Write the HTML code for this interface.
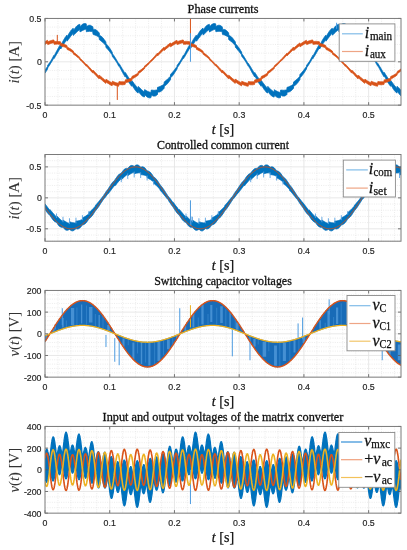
<!DOCTYPE html>
<html><head><meta charset="utf-8"><title>Plots</title>
<style>html,body{margin:0;padding:0;background:#fff;width:407px;height:550px;overflow:hidden}svg{display:block;filter:blur(0.35px)}</style>
</head><body>
<svg width="407" height="550" viewBox="0 0 407 550">
<defs><clipPath id="c0"><rect x="45.0" y="18.45" width="356.0" height="86.7"/></clipPath><clipPath id="c1"><rect x="45.0" y="154.5" width="356.0" height="86.7"/></clipPath><clipPath id="c2"><rect x="45.0" y="290.45" width="356.0" height="86.7"/></clipPath><clipPath id="c3"><rect x="45.0" y="426.45" width="356.0" height="86.7"/></clipPath></defs>
<rect width="407" height="550" fill="#fff"/>
<rect x="45.0" y="18.45" width="356.0" height="86.7" fill="#fff"/>
<path d="M57.95,18.45V105.15M70.89,18.45V105.15M83.84,18.45V105.15M96.78,18.45V105.15M122.67,18.45V105.15M135.62,18.45V105.15M148.56,18.45V105.15M161.51,18.45V105.15M187.40,18.45V105.15M200.35,18.45V105.15M213.29,18.45V105.15M226.24,18.45V105.15M252.13,18.45V105.15M265.07,18.45V105.15M278.02,18.45V105.15M290.96,18.45V105.15M316.85,18.45V105.15M329.80,18.45V105.15M342.75,18.45V105.15M355.69,18.45V105.15M381.58,18.45V105.15M394.53,18.45V105.15M45.0,96.48H401.0M45.0,87.81H401.0M45.0,79.14H401.0M45.0,70.47H401.0M45.0,53.13H401.0M45.0,44.46H401.0M45.0,35.79H401.0M45.0,27.12H401.0" stroke="#dcdcdc" stroke-width="0.55" stroke-dasharray="1,1.3" fill="none"/>
<path d="M109.73,18.45V105.15M174.45,18.45V105.15M239.18,18.45V105.15M303.91,18.45V105.15M368.64,18.45V105.15M45.0,61.80H401.0" stroke="#e2e2e2" stroke-width="0.8" fill="none"/>
<g clip-path="url(#c0)">
<polygon points="45.0,69.9 45.3,69.6 45.5,69.2 45.8,68.9 46.0,68.6 46.3,68.2 46.5,67.9 46.8,67.5 47.0,67.2 47.3,66.8 47.5,66.5 47.8,65.1 48.1,64.8 48.3,64.5 48.6,64.1 48.8,63.8 49.1,63.5 49.3,63.1 49.6,62.8 49.8,62.4 50.1,62.1 50.3,61.7 50.6,61.3 50.8,60.9 51.1,60.5 51.4,60.1 51.6,59.6 51.9,59.1 52.1,58.7 52.4,58.2 52.6,57.7 52.9,57.2 53.1,56.8 53.4,56.3 53.6,55.8 53.9,55.4 54.2,55.8 54.4,55.4 54.7,54.9 54.9,54.4 55.2,53.9 55.4,53.5 55.7,53.0 55.9,52.5 56.2,52.0 56.4,51.5 56.7,51.0 57.0,50.5 57.2,50.1 57.5,49.6 57.7,49.1 58.0,48.7 58.2,48.2 58.5,47.7 58.7,47.3 59.0,46.9 59.2,46.4 59.5,46.0 59.7,45.6 60.0,45.2 60.3,44.7 60.5,44.3 60.8,45.4 61.0,44.9 61.3,44.4 61.5,43.9 61.8,43.4 62.0,42.9 62.3,42.5 62.5,42.0 62.8,41.5 63.1,41.0 63.3,40.6 63.6,40.1 63.8,39.7 64.1,39.2 64.3,38.8 64.6,38.4 64.8,38.0 65.1,37.6 65.3,37.2 65.6,36.9 65.9,36.5 66.1,36.2 66.4,35.8 66.6,35.5 66.9,35.2 67.1,36.9 67.4,36.4 67.6,36.0 67.9,35.5 68.1,35.0 68.4,34.6 68.6,34.1 68.9,33.7 69.2,33.2 69.4,32.8 69.7,32.4 69.9,32.0 70.2,31.7 70.4,31.3 70.7,30.9 70.9,30.6 71.2,30.3 71.4,30.0 71.7,29.7 72.0,29.5 72.2,29.2 72.5,29.0 72.7,28.7 73.0,28.5 73.2,28.3 73.5,30.6 73.7,30.2 74.0,29.8 74.2,29.4 74.5,29.0 74.8,28.6 75.0,28.2 75.3,27.9 75.5,27.5 75.8,27.2 76.0,26.9 76.3,26.6 76.5,26.3 76.8,26.0 77.0,25.8 77.3,25.6 77.5,25.4 77.8,25.2 78.1,25.0 78.3,24.9 78.6,24.8 78.8,24.6 79.1,24.5 79.3,24.5 79.6,24.4 79.8,24.3 80.1,26.8 80.3,26.5 80.6,26.2 80.9,25.9 81.1,25.6 81.4,25.4 81.6,25.1 81.9,24.9 82.1,24.6 82.4,24.4 82.6,24.3 82.9,24.1 83.1,24.0 83.4,23.8 83.7,23.8 83.9,23.7 84.2,23.6 84.4,23.6 84.7,23.6 84.9,23.6 85.2,23.6 85.4,23.6 85.7,23.7 85.9,23.7 86.2,23.8 86.4,26.6 86.7,26.4 87.0,26.2 87.2,26.0 87.5,25.9 87.7,25.8 88.0,25.6 88.2,25.5 88.5,25.4 88.7,25.4 89.0,25.3 89.2,25.3 89.5,25.3 89.8,25.3 90.0,25.3 90.3,25.4 90.5,25.4 90.8,25.5 91.0,25.7 91.3,25.8 91.5,25.9 91.8,26.1 92.0,26.3 92.3,26.4 92.6,26.6 92.8,26.8 93.1,29.4 93.3,29.4 93.6,29.4 93.8,29.4 94.1,29.4 94.3,29.4 94.6,29.4 94.8,29.4 95.1,29.5 95.3,29.6 95.6,29.7 95.9,29.8 96.1,30.0 96.4,30.1 96.6,30.3 96.9,30.5 97.1,30.7 97.4,30.9 97.6,31.2 97.9,31.4 98.1,31.7 98.4,32.0 98.7,32.3 98.9,32.6 99.2,32.9 99.4,35.4 99.7,35.5 99.9,35.6 100.2,35.7 100.4,35.8 100.7,36.0 100.9,36.1 101.2,36.3 101.5,36.5 101.7,36.7 102.0,36.9 102.2,37.2 102.5,37.4 102.7,37.7 103.0,38.0 103.2,38.3 103.5,38.6 103.7,38.9 104.0,39.2 104.2,39.6 104.5,39.9 104.8,40.3 105.0,40.7 105.3,41.0 105.5,41.4 105.8,41.8 106.0,43.8 106.3,44.0 106.5,44.3 106.8,44.5 107.0,44.8 107.3,45.1 107.6,45.4 107.8,45.7 108.1,46.0 108.3,46.3 108.6,46.6 108.8,47.0 109.1,47.3 109.3,47.7 109.6,48.1 109.8,48.4 110.1,48.8 110.4,49.2 110.6,49.6 110.9,50.0 111.1,50.4 111.4,50.8 111.6,51.3 111.9,51.7 112.1,52.1 112.4,53.6 112.6,54.0 112.9,54.3 113.1,54.7 113.4,55.0 113.7,55.4 113.9,55.7 114.2,56.1 114.4,56.5 114.7,56.9 114.9,57.3 115.2,57.7 115.4,58.1 115.7,58.5 115.9,59.0 116.2,59.4 116.5,59.8 116.7,60.3 117.0,60.7 117.2,61.2 117.5,61.6 117.7,62.0 118.0,62.5 118.2,62.9 118.5,63.4 118.7,63.8 119.0,63.5 119.3,63.9 119.5,64.3 119.8,64.7 120.0,65.1 120.3,65.5 120.5,65.9 120.8,66.4 121.0,66.8 121.3,67.2 121.5,67.6 121.8,68.0 122.0,68.5 122.3,68.9 122.6,69.3 122.8,69.7 123.1,70.2 123.3,70.6 123.6,71.0 123.8,71.4 124.1,71.9 124.3,72.3 124.6,72.7 124.8,73.1 125.1,73.6 125.4,72.5 125.6,72.9 125.9,73.3 126.1,73.7 126.4,74.1 126.6,74.5 126.9,74.9 127.1,75.3 127.4,75.7 127.6,76.1 127.9,76.5 128.2,76.9 128.4,77.3 128.7,77.7 128.9,78.1 129.2,78.5 129.4,78.8 129.7,79.2 129.9,79.6 130.2,80.0 130.4,80.4 130.7,80.8 130.9,81.2 131.2,81.5 131.5,81.9 131.7,82.3 132.0,80.7 132.2,81.0 132.5,81.4 132.7,81.7 133.0,82.1 133.2,82.4 133.5,82.7 133.7,83.1 134.0,83.4 134.3,83.8 134.5,84.1 134.8,84.4 135.0,84.8 135.3,85.1 135.5,85.4 135.8,85.7 136.0,86.0 136.3,86.4 136.5,86.7 136.8,87.0 137.1,87.3 137.3,87.6 137.6,87.9 137.8,88.2 138.1,88.5 138.3,86.4 138.6,86.7 138.8,86.9 139.1,87.2 139.3,87.5 139.6,87.7 139.8,88.0 140.1,88.3 140.4,88.5 140.6,88.8 140.9,89.0 141.1,89.2 141.4,89.5 141.6,89.7 141.9,89.9 142.1,90.2 142.4,90.4 142.6,90.6 142.9,90.8 143.2,91.0 143.4,91.2 143.7,91.4 143.9,91.6 144.2,91.8 144.4,92.0 144.7,89.6 144.9,89.8 145.2,89.9 145.4,90.1 145.7,90.3 146.0,90.4 146.2,90.6 146.5,90.7 146.7,90.8 147.0,91.0 147.2,91.1 147.5,91.2 147.7,91.4 148.0,91.5 148.2,91.6 148.5,91.7 148.7,91.8 149.0,91.9 149.3,92.0 149.5,92.1 149.8,92.2 150.0,92.3 150.3,92.3 150.5,92.4 150.8,92.5 151.0,92.5 151.3,90.0 151.5,90.0 151.8,90.1 152.1,90.1 152.3,90.2 152.6,90.2 152.8,90.2 153.1,90.2 153.3,90.3 153.6,90.3 153.8,90.3 154.1,90.3 154.3,90.3 154.6,90.3 154.9,90.3 155.1,90.2 155.4,90.2 155.6,90.2 155.9,90.1 156.1,90.1 156.4,90.1 156.6,90.0 156.9,90.0 157.1,89.9 157.4,89.8 157.6,87.3 157.9,87.3 158.2,87.2 158.4,87.1 158.7,87.0 158.9,86.9 159.2,86.8 159.4,86.7 159.7,86.6 159.9,86.5 160.2,86.4 160.4,86.3 160.7,86.2 161.0,86.1 161.2,85.9 161.5,85.8 161.7,85.6 162.0,85.5 162.2,85.3 162.5,85.2 162.7,85.0 163.0,84.9 163.2,84.7 163.5,84.5 163.8,84.3 164.0,84.1 164.3,81.9 164.5,81.7 164.8,81.5 165.0,81.3 165.3,81.1 165.5,80.9 165.8,80.7 166.0,80.5 166.3,80.3 166.5,80.1 166.8,79.8 167.1,79.6 167.3,79.4 167.6,79.1 167.8,78.9 168.1,78.7 168.3,78.4 168.6,78.2 168.8,77.9 169.1,77.6 169.3,77.4 169.6,77.1 169.9,76.8 170.1,76.5 170.4,76.3 170.6,74.4 170.9,74.1 171.1,73.8 171.4,73.5 171.6,73.3 171.9,73.0 172.1,72.7 172.4,72.4 172.7,72.1 172.9,71.8 173.2,71.5 173.4,71.2 173.7,70.9 173.9,70.6 174.2,70.2 174.4,69.9 174.7,69.6 174.9,69.3 175.2,68.9 175.4,68.6 175.7,68.2 176.0,67.9 176.2,67.6 176.5,67.2 176.7,66.9 177.0,66.5 177.2,65.2 177.5,64.8 177.7,64.5 178.0,64.2 178.2,63.8 178.5,63.5 178.8,63.1 179.0,62.8 179.3,62.4 179.5,62.1 179.8,61.7 180.0,61.3 180.3,61.0 180.5,60.5 180.8,60.1 181.0,59.7 181.3,59.2 181.6,58.7 181.8,58.2 182.1,57.8 182.3,57.3 182.6,56.8 182.8,56.3 183.1,55.9 183.3,55.4 183.6,55.9 183.8,55.4 184.1,54.9 184.3,54.5 184.6,54.0 184.9,53.5 185.1,53.0 185.4,52.5 185.6,52.0 185.9,51.6 186.1,51.1 186.4,50.6 186.6,50.1 186.9,49.6 187.1,49.2 187.4,48.7 187.7,48.2 187.9,47.8 188.2,47.3 188.4,46.9 188.7,46.5 188.9,46.0 189.2,45.6 189.4,45.2 189.7,44.8 189.9,44.4 190.2,45.5 190.5,45.0 190.7,44.5 191.0,44.0 191.2,43.5 191.5,43.0 191.7,42.5 192.0,42.0 192.2,41.5 192.5,41.1 192.7,40.6 193.0,40.2 193.2,39.7 193.5,39.3 193.8,38.9 194.0,38.4 194.3,38.0 194.5,37.7 194.8,37.3 195.0,36.9 195.3,36.6 195.5,36.2 195.8,35.9 196.0,35.5 196.3,35.2 196.6,37.0 196.8,36.5 197.1,36.0 197.3,35.5 197.6,35.1 197.8,34.6 198.1,34.2 198.3,33.7 198.6,33.3 198.8,32.9 199.1,32.5 199.4,32.1 199.6,31.7 199.9,31.3 200.1,31.0 200.4,30.6 200.6,30.3 200.9,30.0 201.1,29.8 201.4,29.5 201.6,29.2 201.9,29.0 202.1,28.8 202.4,28.6 202.7,28.3 202.9,28.1 203.2,30.2 203.4,29.8 203.7,29.4 203.9,29.0 204.2,28.6 204.4,28.3 204.7,27.9 204.9,27.6 205.2,27.2 205.5,26.9 205.7,26.6 206.0,26.3 206.2,26.1 206.5,25.8 206.7,25.6 207.0,25.4 207.2,25.2 207.5,25.0 207.7,24.9 208.0,24.8 208.3,24.7 208.5,24.5 208.8,24.5 209.0,24.4 209.3,24.3 209.5,26.8 209.8,26.5 210.0,26.2 210.3,25.9 210.5,25.7 210.8,25.4 211.0,25.1 211.3,24.9 211.6,24.7 211.8,24.5 212.1,24.3 212.3,24.1 212.6,24.0 212.8,23.9 213.1,23.8 213.3,23.7 213.6,23.6 213.8,23.6 214.1,23.6 214.4,23.6 214.6,23.6 214.9,23.6 215.1,23.7 215.4,23.7 215.6,23.8 215.9,26.6 216.1,26.4 216.4,26.2 216.6,26.1 216.9,25.9 217.2,25.8 217.4,25.6 217.7,25.5 217.9,25.4 218.2,25.4 218.4,25.3 218.7,25.3 218.9,25.3 219.2,25.3 219.4,25.3 219.7,25.4 219.9,25.4 220.2,25.5 220.5,25.6 220.7,25.8 221.0,25.9 221.2,26.1 221.5,26.2 221.7,26.4 222.0,26.6 222.2,26.8 222.5,29.4 222.7,29.4 223.0,29.4 223.3,29.4 223.5,29.4 223.8,29.4 224.0,29.4 224.3,29.4 224.5,29.5 224.8,29.6 225.0,29.7 225.3,29.8 225.5,29.9 225.8,30.1 226.1,30.3 226.3,30.5 226.6,30.7 226.8,30.9 227.1,31.1 227.3,31.4 227.6,31.7 227.8,32.0 228.1,32.2 228.3,32.5 228.6,32.8 228.8,35.3 229.1,35.4 229.4,35.6 229.6,35.7 229.9,35.8 230.1,36.0 230.4,36.1 230.6,36.3 230.9,36.5 231.1,36.7 231.4,36.9 231.6,37.1 231.9,37.4 232.2,37.7 232.4,37.9 232.7,38.2 232.9,38.6 233.2,38.9 233.4,39.2 233.7,39.6 233.9,39.9 234.2,40.3 234.4,40.6 234.7,41.0 235.0,41.4 235.2,41.8 235.5,43.8 235.7,44.0 236.0,44.3 236.2,44.5 236.5,44.8 236.7,45.1 237.0,45.3 237.2,45.6 237.5,46.0 237.7,46.3 238.0,46.6 238.3,46.9 238.5,47.3 238.8,47.7 239.0,48.0 239.3,48.4 239.5,48.8 239.8,49.2 240.0,49.6 240.3,50.0 240.5,50.4 240.8,50.8 241.1,51.2 241.3,51.6 241.6,52.0 241.8,53.6 242.1,53.9 242.3,54.3 242.6,54.6 242.8,55.0 243.1,55.3 243.3,55.7 243.6,56.1 243.9,56.5 244.1,56.9 244.4,57.3 244.6,57.7 244.9,58.1 245.1,58.5 245.4,58.9 245.6,59.4 245.9,59.8 246.1,60.2 246.4,60.7 246.6,61.1 246.9,61.5 247.2,62.0 247.4,62.4 247.7,62.9 247.9,63.3 248.2,63.8 248.4,63.5 248.7,63.9 248.9,64.3 249.2,64.7 249.4,65.1 249.7,65.5 250.0,65.9 250.2,66.3 250.5,66.7 250.7,67.2 251.0,67.6 251.2,68.0 251.5,68.4 251.7,68.8 252.0,69.3 252.2,69.7 252.5,70.1 252.8,70.5 253.0,71.0 253.3,71.4 253.5,71.8 253.8,72.2 254.0,72.7 254.3,73.1 254.5,73.5 254.8,72.5 255.0,72.9 255.3,73.3 255.5,73.7 255.8,74.1 256.1,74.5 256.3,74.9 256.6,75.3 256.8,75.7 257.1,76.1 257.3,76.5 257.6,76.9 257.8,77.2 258.1,77.6 258.3,78.0 258.6,78.4 258.9,78.8 259.1,79.2 259.4,79.6 259.6,80.0 259.9,80.4 260.1,80.7 260.4,81.1 260.6,81.5 260.9,81.9 261.1,82.3 261.4,80.6 261.7,81.0 261.9,81.3 262.2,81.7 262.4,82.0 262.7,82.4 262.9,82.7 263.2,83.1 263.4,83.4 263.7,83.7 263.9,84.1 264.2,84.4 264.4,84.7 264.7,85.1 265.0,85.4 265.2,85.7 265.5,86.0 265.7,86.3 266.0,86.6 266.2,87.0 266.5,87.3 266.7,87.6 267.0,87.9 267.2,88.2 267.5,88.5 267.8,86.4 268.0,86.6 268.3,86.9 268.5,87.2 268.8,87.5 269.0,87.7 269.3,88.0 269.5,88.2 269.8,88.5 270.0,88.7 270.3,89.0 270.6,89.2 270.8,89.4 271.1,89.7 271.3,89.9 271.6,90.1 271.8,90.4 272.1,90.6 272.3,90.8 272.6,91.0 272.8,91.2 273.1,91.4 273.3,91.6 273.6,91.8 273.9,92.0 274.1,92.2 274.4,89.7 274.6,89.9 274.9,90.1 275.1,90.2 275.4,90.4 275.6,90.5 275.9,90.7 276.1,90.8 276.4,91.0 276.7,91.1 276.9,91.2 277.2,91.4 277.4,91.5 277.7,91.6 277.9,91.7 278.2,91.8 278.4,91.9 278.7,92.0 278.9,92.1 279.2,92.2 279.5,92.3 279.7,92.3 280.0,92.4 280.2,92.5 280.5,92.5 280.7,90.0 281.0,90.0 281.2,90.1 281.5,90.1 281.7,90.2 282.0,90.2 282.2,90.2 282.5,90.2 282.8,90.3 283.0,90.3 283.3,90.3 283.5,90.3 283.8,90.3 284.0,90.3 284.3,90.3 284.5,90.2 284.8,90.2 285.0,90.2 285.3,90.1 285.6,90.1 285.8,90.1 286.1,90.0 286.3,90.0 286.6,89.9 286.8,89.8 287.1,87.3 287.3,87.3 287.6,87.2 287.8,87.1 288.1,87.0 288.4,86.9 288.6,86.9 288.9,86.8 289.1,86.7 289.4,86.5 289.6,86.4 289.9,86.3 290.1,86.2 290.4,86.1 290.6,85.9 290.9,85.8 291.1,85.7 291.4,85.5 291.7,85.4 291.9,85.2 292.2,85.0 292.4,84.9 292.7,84.7 292.9,84.5 293.2,84.3 293.4,84.2 293.7,81.9 293.9,81.7 294.2,81.5 294.5,81.3 294.7,81.1 295.0,80.9 295.2,80.7 295.5,80.5 295.7,80.3 296.0,80.1 296.2,79.9 296.5,79.6 296.7,79.4 297.0,79.2 297.3,78.9 297.5,78.7 297.8,78.4 298.0,78.2 298.3,77.9 298.5,77.7 298.8,77.4 299.0,77.1 299.3,76.8 299.5,76.6 299.8,76.3 300.0,74.4 300.3,74.1 300.6,73.8 300.8,73.6 301.1,73.3 301.3,73.0 301.6,72.7 301.8,72.4 302.1,72.1 302.3,71.8 302.6,71.5 302.8,71.2 303.1,70.9 303.4,70.6 303.6,70.3 303.9,69.9 304.1,69.6 304.4,69.3 304.6,69.0 304.9,68.6 305.1,68.3 305.4,67.9 305.6,67.6 305.9,67.2 306.2,66.9 306.4,66.5 306.7,65.2 306.9,64.9 307.2,64.5 307.4,64.2 307.7,63.9 307.9,63.5 308.2,63.2 308.4,62.8 308.7,62.5 308.9,62.1 309.2,61.8 309.5,61.4 309.7,61.0 310.0,60.6 310.2,60.1 310.5,59.7 310.7,59.2 311.0,58.8 311.2,58.3 311.5,57.8 311.7,57.3 312.0,56.9 312.3,56.4 312.5,55.9 312.8,55.4 313.0,55.9 313.3,55.5 313.5,55.0 313.8,54.5 314.0,54.0 314.3,53.5 314.5,53.1 314.8,52.6 315.1,52.1 315.3,51.6 315.6,51.1 315.8,50.6 316.1,50.2 316.3,49.7 316.6,49.2 316.8,48.7 317.1,48.3 317.3,47.8 317.6,47.4 317.8,46.9 318.1,46.5 318.4,46.1 318.6,45.6 318.9,45.2 319.1,44.8 319.4,44.4 319.6,45.5 319.9,45.0 320.1,44.5 320.4,44.0 320.6,43.5 320.9,43.0 321.2,42.5 321.4,42.1 321.7,41.6 321.9,41.1 322.2,40.6 322.4,40.2 322.7,39.7 322.9,39.3 323.2,38.9 323.4,38.5 323.7,38.1 324.0,37.7 324.2,37.3 324.5,36.9 324.7,36.6 325.0,36.2 325.2,35.9 325.5,35.6 325.7,35.3 326.0,37.0 326.2,36.5 326.5,36.1 326.7,35.6 327.0,35.1 327.3,34.6 327.5,34.2 327.8,33.8 328.0,33.3 328.3,32.9 328.5,32.5 328.8,32.1 329.0,31.7 329.3,31.4 329.5,31.0 329.8,30.7 330.1,30.4 330.3,30.1 330.6,29.8 330.8,29.5 331.1,29.3 331.3,29.0 331.6,28.8 331.8,28.6 332.1,28.4 332.3,28.2 332.6,30.3 332.9,29.9 333.1,29.5 333.4,29.1 333.6,28.7 333.9,28.3 334.1,27.9 334.4,27.6 334.6,27.2 334.9,26.9 335.1,26.6 335.4,26.3 335.6,26.1 335.9,25.8 336.2,25.6 336.4,25.4 336.7,25.2 336.9,25.1 337.2,24.9 337.4,24.8 337.7,24.7 337.9,24.6 338.2,24.5 338.4,24.4 338.7,24.3 339.0,26.9 339.2,26.6 339.5,26.3 339.7,26.0 340.0,25.7 340.2,25.4 340.5,25.1 340.7,24.9 341.0,24.7 341.2,24.5 341.5,24.3 341.8,24.1 342.0,24.0 342.3,23.9 342.5,23.8 342.8,23.7 343.0,23.6 343.3,23.6 343.5,23.6 343.8,23.6 344.0,23.6 344.3,23.6 344.5,23.7 344.8,23.7 345.1,23.8 345.3,23.8 345.6,26.4 345.8,26.2 346.1,26.1 346.3,25.9 346.6,25.8 346.8,25.6 347.1,25.5 347.3,25.4 347.6,25.4 347.9,25.3 348.1,25.3 348.4,25.3 348.6,25.3 348.9,25.3 349.1,25.4 349.4,25.4 349.6,25.5 349.9,25.6 350.1,25.8 350.4,25.9 350.7,26.1 350.9,26.2 351.2,26.4 351.4,26.6 351.7,26.8 351.9,29.4 352.2,29.4 352.4,29.4 352.7,29.4 352.9,29.4 353.2,29.4 353.4,29.4 353.7,29.4 354.0,29.5 354.2,29.6 354.5,29.7 354.7,29.8 355.0,29.9 355.2,30.1 355.5,30.3 355.7,30.5 356.0,30.7 356.2,30.9 356.5,31.1 356.8,31.4 357.0,31.6 357.3,31.9 357.5,32.2 357.8,32.5 358.0,32.8 358.3,35.3 358.5,35.4 358.8,35.6 359.0,35.7 359.3,35.8 359.6,36.0 359.8,36.1 360.1,36.3 360.3,36.5 360.6,36.7 360.8,36.9 361.1,37.1 361.3,37.4 361.6,37.6 361.8,37.9 362.1,38.2 362.3,38.5 362.6,38.8 362.9,39.2 363.1,39.5 363.4,39.9 363.6,40.2 363.9,40.6 364.1,41.0 364.4,41.3 364.6,41.7 364.9,43.8 365.1,44.0 365.4,44.2 365.7,44.5 365.9,44.8 366.2,45.0 366.4,45.3 366.7,45.6 366.9,45.9 367.2,46.2 367.4,46.6 367.7,46.9 367.9,47.3 368.2,47.6 368.5,48.0 368.7,48.4 369.0,48.8 369.2,49.1 369.5,49.5 369.7,49.9 370.0,50.4 370.2,50.8 370.5,51.2 370.7,51.6 371.0,52.0 371.2,53.6 371.5,53.9 371.8,54.2 372.0,54.6 372.3,54.9 372.5,55.3 372.8,55.7 373.0,56.1 373.3,56.4 373.5,56.8 373.8,57.2 374.0,57.6 374.3,58.0 374.6,58.5 374.8,58.9 375.1,59.3 375.3,59.8 375.6,60.2 375.8,60.7 376.1,61.1 376.3,61.5 376.6,61.9 376.8,62.4 377.1,62.8 377.4,63.3 377.6,63.7 377.9,63.4 378.1,63.8 378.4,64.2 378.6,64.6 378.9,65.0 379.1,65.5 379.4,65.9 379.6,66.3 379.9,66.7 380.1,67.1 380.4,67.5 380.7,68.0 380.9,68.4 381.2,68.8 381.4,69.2 381.7,69.7 381.9,70.1 382.2,70.5 382.4,70.9 382.7,71.4 382.9,71.8 383.2,72.2 383.5,72.6 383.7,73.1 384.0,73.5 384.2,72.4 384.5,72.8 384.7,73.2 385.0,73.6 385.2,74.0 385.5,74.4 385.7,74.8 386.0,75.2 386.3,75.6 386.5,76.0 386.8,76.4 387.0,76.8 387.3,77.2 387.5,77.6 387.8,78.0 388.0,78.4 388.3,78.8 388.5,79.2 388.8,79.6 389.0,79.9 389.3,80.3 389.6,80.7 389.8,81.1 390.1,81.5 390.3,81.8 390.6,82.2 390.8,80.6 391.1,80.9 391.3,81.3 391.6,81.6 391.8,82.0 392.1,82.3 392.4,82.7 392.6,83.0 392.9,83.4 393.1,83.7 393.4,84.0 393.6,84.4 393.9,84.7 394.1,85.0 394.4,85.4 394.6,85.7 394.9,86.0 395.2,86.3 395.4,86.6 395.7,86.9 395.9,87.2 396.2,87.5 396.4,87.8 396.7,88.1 396.9,88.4 397.2,86.3 397.4,86.6 397.7,86.9 397.9,87.2 398.2,87.4 398.5,87.7 398.7,88.0 399.0,88.2 399.2,88.5 399.5,88.7 399.7,89.0 400.0,89.2 400.2,89.4 400.5,89.7 400.7,89.9 401.0,90.1 401.0,95.8 400.7,95.6 400.5,95.4 400.2,95.1 400.0,94.9 399.7,94.6 399.5,94.3 399.2,94.0 399.0,93.6 398.7,93.3 398.5,92.9 398.2,92.5 397.9,92.2 397.7,91.8 397.4,91.4 397.2,91.0 396.9,93.1 396.7,92.9 396.4,92.7 396.2,92.4 395.9,92.2 395.7,92.0 395.4,91.7 395.2,91.4 394.9,91.1 394.6,90.8 394.4,90.5 394.1,90.2 393.9,89.8 393.6,89.4 393.4,89.1 393.1,88.7 392.9,88.3 392.6,87.8 392.4,87.4 392.1,87.0 391.8,86.5 391.6,86.1 391.3,85.6 391.1,85.2 390.8,84.7 390.6,86.3 390.3,85.9 390.1,85.6 389.8,85.3 389.6,84.9 389.3,84.6 389.0,84.2 388.8,83.8 388.5,83.4 388.3,83.1 388.0,82.7 387.8,82.2 387.5,81.8 387.3,81.4 387.0,80.9 386.8,80.5 386.5,80.0 386.3,79.6 386.0,79.1 385.7,78.6 385.5,78.1 385.2,77.6 385.0,77.1 384.7,76.7 384.5,76.2 384.2,75.7 384.0,76.7 383.7,76.3 383.5,75.9 383.2,75.5 382.9,75.0 382.7,74.6 382.4,74.2 382.2,73.7 381.9,73.3 381.7,72.8 381.4,72.4 381.2,71.9 380.9,71.4 380.7,71.0 380.4,70.5 380.1,70.0 379.9,69.5 379.6,69.0 379.4,68.6 379.1,68.1 378.9,67.6 378.6,67.2 378.4,66.7 378.1,66.3 377.9,65.8 377.6,66.1 377.4,65.6 377.1,65.1 376.8,64.6 376.6,64.1 376.3,63.7 376.1,63.2 375.8,62.7 375.6,62.3 375.3,61.9 375.1,61.5 374.8,61.2 374.6,60.8 374.3,60.4 374.0,60.1 373.8,59.7 373.5,59.3 373.3,59.0 373.0,58.7 372.8,58.3 372.5,58.0 372.3,57.6 372.0,57.3 371.8,57.0 371.5,56.6 371.2,56.3 371.0,54.8 370.7,54.5 370.5,54.1 370.2,53.8 370.0,53.5 369.7,53.1 369.5,52.8 369.2,52.5 369.0,52.1 368.7,51.8 368.5,51.5 368.2,51.2 367.9,50.9 367.7,50.6 367.4,50.2 367.2,49.9 366.9,49.6 366.7,49.4 366.4,49.1 366.2,48.8 365.9,48.5 365.7,48.2 365.4,47.9 365.1,47.7 364.9,47.4 364.6,45.4 364.4,45.1 364.1,44.8 363.9,44.6 363.6,44.3 363.4,44.0 363.1,43.8 362.9,43.5 362.6,43.3 362.3,43.0 362.1,42.8 361.8,42.5 361.6,42.3 361.3,42.1 361.1,41.9 360.8,41.6 360.6,41.4 360.3,41.2 360.1,41.0 359.8,40.8 359.6,40.6 359.3,40.4 359.0,40.2 358.8,40.1 358.5,39.9 358.3,39.7 358.0,37.3 357.8,37.1 357.5,36.9 357.3,36.8 357.0,36.6 356.8,36.5 356.5,36.3 356.2,36.1 356.0,36.0 355.7,35.9 355.5,35.7 355.2,35.6 355.0,35.5 354.7,35.4 354.5,35.2 354.2,35.1 354.0,35.0 353.7,34.9 353.4,34.8 353.2,34.7 352.9,34.7 352.7,34.6 352.4,34.5 352.2,34.4 351.9,34.4 351.7,31.8 351.4,31.7 351.2,31.6 350.9,31.6 350.7,31.5 350.4,31.5 350.1,31.5 349.9,31.4 349.6,31.4 349.4,31.4 349.1,31.4 348.9,31.3 348.6,31.3 348.4,31.3 348.1,31.3 347.9,31.4 347.6,31.4 347.3,31.4 347.1,31.4 346.8,31.4 346.6,31.5 346.3,31.5 346.1,31.6 345.8,31.6 345.6,31.7 345.3,29.0 345.1,29.1 344.8,29.1 344.5,29.2 344.3,29.3 344.0,29.4 343.8,29.4 343.5,29.5 343.3,29.6 343.0,29.7 342.8,29.9 342.5,30.0 342.3,30.1 342.0,30.2 341.8,30.3 341.5,30.5 341.2,30.6 341.0,30.7 340.7,30.9 340.5,31.0 340.2,31.2 340.0,31.3 339.7,31.5 339.5,31.7 339.2,31.8 339.0,32.0 338.7,29.5 338.4,29.7 338.2,29.9 337.9,30.1 337.7,30.3 337.4,30.5 337.2,30.7 336.9,30.9 336.7,31.1 336.4,31.4 336.2,31.6 335.9,31.8 335.6,32.1 335.4,32.3 335.1,32.5 334.9,32.8 334.6,33.0 334.4,33.3 334.1,33.6 333.9,33.8 333.6,34.1 333.4,34.3 333.1,34.6 332.9,34.9 332.6,35.2 332.3,33.0 332.1,33.3 331.8,33.6 331.6,33.9 331.3,34.2 331.1,34.5 330.8,34.8 330.6,35.1 330.3,35.4 330.1,35.7 329.8,36.1 329.5,36.4 329.3,36.7 329.0,37.1 328.8,37.4 328.5,37.7 328.3,38.1 328.0,38.4 327.8,38.8 327.5,39.1 327.3,39.5 327.0,39.8 326.7,40.2 326.5,40.5 326.2,40.9 326.0,41.2 325.7,39.5 325.5,39.9 325.2,40.3 325.0,40.7 324.7,41.0 324.5,41.4 324.2,41.8 324.0,42.2 323.7,42.6 323.4,43.0 323.2,43.4 322.9,43.8 322.7,44.2 322.4,44.6 322.2,45.0 321.9,45.4 321.7,45.8 321.4,46.2 321.2,46.6 320.9,47.0 320.6,47.4 320.4,47.8 320.1,48.2 319.9,48.6 319.6,49.0 319.4,47.8 319.1,48.3 318.9,48.7 318.6,49.1 318.4,49.6 318.1,50.0 317.8,50.4 317.6,50.9 317.3,51.3 317.1,51.7 316.8,52.1 316.6,52.6 316.3,53.0 316.1,53.4 315.8,53.9 315.6,54.3 315.3,54.7 315.1,55.1 314.8,55.6 314.5,56.0 314.3,56.4 314.0,56.8 313.8,57.2 313.5,57.6 313.3,58.1 313.0,58.5 312.8,58.0 312.5,58.4 312.3,58.8 312.0,59.3 311.7,59.7 311.5,60.2 311.2,60.6 311.0,61.0 310.7,61.5 310.5,61.9 310.2,62.3 310.0,62.7 309.7,63.1 309.5,63.5 309.2,63.9 308.9,64.4 308.7,64.8 308.4,65.2 308.2,65.5 307.9,65.9 307.7,66.3 307.4,66.7 307.2,67.0 306.9,67.4 306.7,67.8 306.4,69.1 306.2,69.5 305.9,69.9 305.6,70.4 305.4,70.8 305.1,71.2 304.9,71.6 304.6,72.0 304.4,72.4 304.1,72.8 303.9,73.2 303.6,73.5 303.4,73.9 303.1,74.3 302.8,74.6 302.6,75.0 302.3,75.3 302.1,75.6 301.8,75.9 301.6,76.2 301.3,76.5 301.1,76.8 300.8,77.1 300.6,77.3 300.3,77.6 300.0,77.8 299.8,79.8 299.5,80.2 299.3,80.6 299.0,80.9 298.8,81.3 298.5,81.6 298.3,82.0 298.0,82.3 297.8,82.7 297.5,83.0 297.3,83.3 297.0,83.6 296.7,83.8 296.5,84.1 296.2,84.4 296.0,84.6 295.7,84.8 295.5,85.0 295.2,85.2 295.0,85.4 294.7,85.5 294.5,85.7 294.2,85.8 293.9,86.0 293.7,86.1 293.4,88.4 293.2,88.7 292.9,89.0 292.7,89.3 292.4,89.6 292.2,89.8 291.9,90.1 291.7,90.3 291.4,90.6 291.1,90.8 290.9,91.0 290.6,91.2 290.4,91.3 290.1,91.5 289.9,91.6 289.6,91.7 289.4,91.8 289.1,91.9 288.9,92.0 288.6,92.0 288.4,92.1 288.1,92.1 287.8,92.1 287.6,92.1 287.3,92.1 287.1,92.0 286.8,94.7 286.6,94.9 286.3,95.0 286.1,95.2 285.8,95.4 285.6,95.5 285.3,95.7 285.0,95.8 284.8,95.9 284.5,96.0 284.3,96.0 284.0,96.1 283.8,96.1 283.5,96.1 283.3,96.1 283.0,96.0 282.8,96.0 282.5,95.9 282.2,95.8 282.0,95.7 281.7,95.6 281.5,95.5 281.2,95.3 281.0,95.1 280.7,95.0 280.5,97.5 280.2,97.6 280.0,97.7 279.7,97.7 279.5,97.8 279.2,97.8 278.9,97.8 278.7,97.8 278.4,97.7 278.2,97.7 277.9,97.6 277.7,97.5 277.4,97.4 277.2,97.3 276.9,97.2 276.7,97.0 276.4,96.8 276.1,96.6 275.9,96.4 275.6,96.2 275.4,95.9 275.1,95.6 274.9,95.4 274.6,95.1 274.4,94.8 274.1,97.1 273.9,97.0 273.6,96.9 273.3,96.8 273.1,96.7 272.8,96.6 272.6,96.5 272.3,96.4 272.1,96.2 271.8,96.0 271.6,95.8 271.3,95.6 271.1,95.4 270.8,95.2 270.6,94.9 270.3,94.6 270.0,94.3 269.8,94.0 269.5,93.7 269.3,93.3 269.0,93.0 268.8,92.6 268.5,92.2 268.3,91.8 268.0,91.4 267.8,91.0 267.5,93.1 267.2,92.9 267.0,92.7 266.7,92.5 266.5,92.2 266.2,92.0 266.0,91.7 265.7,91.4 265.5,91.1 265.2,90.8 265.0,90.5 264.7,90.2 264.4,89.8 264.2,89.5 263.9,89.1 263.7,88.7 263.4,88.3 263.2,87.9 262.9,87.5 262.7,87.0 262.4,86.6 262.2,86.1 261.9,85.7 261.7,85.2 261.4,84.7 261.1,86.3 260.9,86.0 260.6,85.6 260.4,85.3 260.1,85.0 259.9,84.6 259.6,84.2 259.4,83.9 259.1,83.5 258.9,83.1 258.6,82.7 258.3,82.3 258.1,81.8 257.8,81.4 257.6,81.0 257.3,80.5 257.1,80.1 256.8,79.6 256.6,79.1 256.3,78.6 256.1,78.2 255.8,77.7 255.5,77.2 255.3,76.7 255.0,76.2 254.8,75.7 254.5,76.8 254.3,76.4 254.0,75.9 253.8,75.5 253.5,75.1 253.3,74.7 253.0,74.2 252.8,73.8 252.5,73.3 252.2,72.9 252.0,72.4 251.7,71.9 251.5,71.5 251.2,71.0 251.0,70.5 250.7,70.0 250.5,69.6 250.2,69.1 250.0,68.6 249.7,68.1 249.4,67.7 249.2,67.2 248.9,66.7 248.7,66.3 248.4,65.8 248.2,66.1 247.9,65.6 247.7,65.1 247.4,64.7 247.2,64.2 246.9,63.7 246.6,63.2 246.4,62.8 246.1,62.4 245.9,62.0 245.6,61.6 245.4,61.2 245.1,60.8 244.9,60.5 244.6,60.1 244.4,59.7 244.1,59.4 243.9,59.0 243.6,58.7 243.3,58.3 243.1,58.0 242.8,57.7 242.6,57.3 242.3,57.0 242.1,56.7 241.8,56.3 241.6,54.9 241.3,54.5 241.1,54.2 240.8,53.8 240.5,53.5 240.3,53.1 240.0,52.8 239.8,52.5 239.5,52.2 239.3,51.8 239.0,51.5 238.8,51.2 238.5,50.9 238.3,50.6 238.0,50.3 237.7,50.0 237.5,49.7 237.2,49.4 237.0,49.1 236.7,48.8 236.5,48.5 236.2,48.2 236.0,48.0 235.7,47.7 235.5,47.4 235.2,45.4 235.0,45.1 234.7,44.9 234.4,44.6 234.2,44.3 233.9,44.1 233.7,43.8 233.4,43.5 233.2,43.3 232.9,43.1 232.7,42.8 232.4,42.6 232.2,42.3 231.9,42.1 231.6,41.9 231.4,41.7 231.1,41.4 230.9,41.2 230.6,41.0 230.4,40.8 230.1,40.6 229.9,40.4 229.6,40.3 229.4,40.1 229.1,39.9 228.8,39.7 228.6,37.3 228.3,37.1 228.1,37.0 227.8,36.8 227.6,36.6 227.3,36.5 227.1,36.3 226.8,36.2 226.6,36.0 226.3,35.9 226.1,35.7 225.8,35.6 225.5,35.5 225.3,35.4 225.0,35.3 224.8,35.1 224.5,35.0 224.3,34.9 224.0,34.8 223.8,34.8 223.5,34.7 223.3,34.6 223.0,34.5 222.7,34.4 222.5,34.4 222.2,31.8 222.0,31.7 221.7,31.6 221.5,31.6 221.2,31.5 221.0,31.5 220.7,31.5 220.5,31.4 220.2,31.4 219.9,31.4 219.7,31.4 219.4,31.3 219.2,31.3 218.9,31.3 218.7,31.3 218.4,31.4 218.2,31.4 217.9,31.4 217.7,31.4 217.4,31.4 217.2,31.5 216.9,31.5 216.6,31.6 216.4,31.6 216.1,31.7 215.9,31.7 215.6,29.1 215.4,29.1 215.1,29.2 214.9,29.3 214.6,29.4 214.4,29.4 214.1,29.5 213.8,29.6 213.6,29.7 213.3,29.8 213.1,30.0 212.8,30.1 212.6,30.2 212.3,30.3 212.1,30.4 211.8,30.6 211.6,30.7 211.3,30.9 211.0,31.0 210.8,31.2 210.5,31.3 210.3,31.5 210.0,31.7 209.8,31.8 209.5,32.0 209.3,29.5 209.0,29.7 208.8,29.9 208.5,30.1 208.3,30.3 208.0,30.5 207.7,30.7 207.5,30.9 207.2,31.1 207.0,31.3 206.7,31.6 206.5,31.8 206.2,32.0 206.0,32.3 205.7,32.5 205.5,32.8 205.2,33.0 204.9,33.3 204.7,33.5 204.4,33.8 204.2,34.1 203.9,34.3 203.7,34.6 203.4,34.9 203.2,35.1 202.9,32.9 202.7,33.2 202.4,33.5 202.1,33.8 201.9,34.1 201.6,34.4 201.4,34.8 201.1,35.1 200.9,35.4 200.6,35.7 200.4,36.0 200.1,36.4 199.9,36.7 199.6,37.0 199.4,37.4 199.1,37.7 198.8,38.0 198.6,38.4 198.3,38.7 198.1,39.1 197.8,39.4 197.6,39.8 197.3,40.1 197.1,40.5 196.8,40.8 196.6,41.2 196.3,39.5 196.0,39.9 195.8,40.2 195.5,40.6 195.3,41.0 195.0,41.4 194.8,41.8 194.5,42.2 194.3,42.6 194.0,43.0 193.8,43.4 193.5,43.8 193.2,44.2 193.0,44.5 192.7,44.9 192.5,45.4 192.2,45.8 192.0,46.2 191.7,46.6 191.5,47.0 191.2,47.4 191.0,47.8 190.7,48.2 190.5,48.6 190.2,49.0 189.9,47.8 189.7,48.2 189.4,48.7 189.2,49.1 188.9,49.5 188.7,50.0 188.4,50.4 188.2,50.8 187.9,51.2 187.7,51.7 187.4,52.1 187.1,52.5 186.9,53.0 186.6,53.4 186.4,53.8 186.1,54.2 185.9,54.7 185.6,55.1 185.4,55.5 185.1,55.9 184.9,56.4 184.6,56.8 184.3,57.2 184.1,57.6 183.8,58.0 183.6,58.4 183.3,57.9 183.1,58.4 182.8,58.8 182.6,59.2 182.3,59.7 182.1,60.1 181.8,60.6 181.6,61.0 181.3,61.4 181.0,61.8 180.8,62.2 180.5,62.6 180.3,63.1 180.0,63.5 179.8,63.9 179.5,64.3 179.3,64.7 179.0,65.1 178.8,65.5 178.5,65.9 178.2,66.3 178.0,66.6 177.7,67.0 177.5,67.4 177.2,67.7 177.0,69.1 176.7,69.5 176.5,69.9 176.2,70.3 176.0,70.7 175.7,71.1 175.4,71.5 175.2,71.9 174.9,72.3 174.7,72.7 174.4,73.1 174.2,73.5 173.9,73.9 173.7,74.2 173.4,74.6 173.2,74.9 172.9,75.3 172.7,75.6 172.4,75.9 172.1,76.2 171.9,76.5 171.6,76.8 171.4,77.0 171.1,77.3 170.9,77.6 170.6,77.8 170.4,79.8 170.1,80.1 169.9,80.5 169.6,80.9 169.3,81.3 169.1,81.6 168.8,82.0 168.6,82.3 168.3,82.6 168.1,82.9 167.8,83.2 167.6,83.5 167.3,83.8 167.1,84.1 166.8,84.3 166.5,84.6 166.3,84.8 166.0,85.0 165.8,85.2 165.5,85.4 165.3,85.5 165.0,85.7 164.8,85.8 164.5,86.0 164.3,86.1 164.0,88.4 163.8,88.7 163.5,89.0 163.2,89.2 163.0,89.5 162.7,89.8 162.5,90.1 162.2,90.3 162.0,90.5 161.7,90.8 161.5,91.0 161.2,91.2 161.0,91.3 160.7,91.5 160.4,91.6 160.2,91.7 159.9,91.8 159.7,91.9 159.4,92.0 159.2,92.0 158.9,92.1 158.7,92.1 158.4,92.1 158.2,92.1 157.9,92.1 157.6,92.0 157.4,94.6 157.1,94.8 156.9,95.0 156.6,95.2 156.4,95.4 156.1,95.5 155.9,95.6 155.6,95.8 155.4,95.9 155.1,96.0 154.9,96.0 154.6,96.1 154.3,96.1 154.1,96.1 153.8,96.1 153.6,96.0 153.3,96.0 153.1,95.9 152.8,95.8 152.6,95.7 152.3,95.6 152.1,95.5 151.8,95.3 151.5,95.2 151.3,95.0 151.0,97.5 150.8,97.6 150.5,97.7 150.3,97.7 150.0,97.7 149.8,97.8 149.5,97.8 149.3,97.8 149.0,97.7 148.7,97.7 148.5,97.6 148.2,97.6 148.0,97.4 147.7,97.3 147.5,97.2 147.2,97.0 147.0,96.8 146.7,96.6 146.5,96.4 146.2,96.2 146.0,95.9 145.7,95.7 145.4,95.4 145.2,95.1 144.9,94.8 144.7,94.5 144.4,97.0 144.2,96.9 143.9,96.9 143.7,96.8 143.4,96.6 143.2,96.5 142.9,96.4 142.6,96.2 142.4,96.1 142.1,95.9 141.9,95.7 141.6,95.4 141.4,95.2 141.1,94.9 140.9,94.6 140.6,94.3 140.4,94.0 140.1,93.7 139.8,93.3 139.6,93.0 139.3,92.6 139.1,92.2 138.8,91.8 138.6,91.5 138.3,91.1 138.1,93.1 137.8,92.9 137.6,92.7 137.3,92.5 137.1,92.2 136.8,92.0 136.5,91.7 136.3,91.5 136.0,91.2 135.8,90.9 135.5,90.6 135.3,90.2 135.0,89.9 134.8,89.5 134.5,89.1 134.3,88.7 134.0,88.3 133.7,87.9 133.5,87.5 133.2,87.1 133.0,86.6 132.7,86.2 132.5,85.7 132.2,85.2 132.0,84.8 131.7,86.3 131.5,86.0 131.2,85.7 130.9,85.3 130.7,85.0 130.4,84.6 130.2,84.3 129.9,83.9 129.7,83.5 129.4,83.1 129.2,82.7 128.9,82.3 128.7,81.9 128.4,81.5 128.2,81.0 127.9,80.6 127.6,80.1 127.4,79.6 127.1,79.2 126.9,78.7 126.6,78.2 126.4,77.7 126.1,77.2 125.9,76.7 125.6,76.3 125.4,75.8 125.1,76.8 124.8,76.4 124.6,76.0 124.3,75.6 124.1,75.1 123.8,74.7 123.6,74.3 123.3,73.8 123.1,73.4 122.8,72.9 122.6,72.4 122.3,72.0 122.0,71.5 121.8,71.0 121.5,70.6 121.3,70.1 121.0,69.6 120.8,69.1 120.5,68.7 120.3,68.2 120.0,67.7 119.8,67.2 119.5,66.8 119.3,66.3 119.0,65.9 118.7,66.1 118.5,65.7 118.2,65.2 118.0,64.7 117.7,64.2 117.5,63.7 117.2,63.3 117.0,62.8 116.7,62.4 116.5,62.0 116.2,61.6 115.9,61.2 115.7,60.9 115.4,60.5 115.2,60.1 114.9,59.8 114.7,59.4 114.4,59.1 114.2,58.7 113.9,58.4 113.7,58.0 113.4,57.7 113.1,57.4 112.9,57.0 112.6,56.7 112.4,56.4 112.1,54.9 111.9,54.5 111.6,54.2 111.4,53.9 111.1,53.5 110.9,53.2 110.6,52.8 110.4,52.5 110.1,52.2 109.8,51.9 109.6,51.5 109.3,51.2 109.1,50.9 108.8,50.6 108.6,50.3 108.3,50.0 108.1,49.7 107.8,49.4 107.6,49.1 107.3,48.8 107.0,48.5 106.8,48.3 106.5,48.0 106.3,47.7 106.0,47.5 105.8,45.5 105.5,45.2 105.3,44.9 105.0,44.6 104.8,44.4 104.5,44.1 104.2,43.8 104.0,43.6 103.7,43.3 103.5,43.1 103.2,42.8 103.0,42.6 102.7,42.4 102.5,42.1 102.2,41.9 102.0,41.7 101.7,41.5 101.5,41.3 101.2,41.0 100.9,40.8 100.7,40.7 100.4,40.5 100.2,40.3 99.9,40.1 99.7,39.9 99.4,39.7 99.2,37.3 98.9,37.2 98.7,37.0 98.4,36.8 98.1,36.6 97.9,36.5 97.6,36.3 97.4,36.2 97.1,36.0 96.9,35.9 96.6,35.8 96.4,35.6 96.1,35.5 95.9,35.4 95.6,35.3 95.3,35.2 95.1,35.0 94.8,34.9 94.6,34.9 94.3,34.8 94.1,34.7 93.8,34.6 93.6,34.5 93.3,34.5 93.1,34.4 92.8,31.8 92.6,31.7 92.3,31.6 92.0,31.6 91.8,31.5 91.5,31.5 91.3,31.5 91.0,31.4 90.8,31.4 90.5,31.4 90.3,31.4 90.0,31.3 89.8,31.3 89.5,31.3 89.2,31.3 89.0,31.4 88.7,31.4 88.5,31.4 88.2,31.4 88.0,31.4 87.7,31.5 87.5,31.5 87.2,31.6 87.0,31.6 86.7,31.7 86.4,31.7 86.2,29.0 85.9,29.1 85.7,29.2 85.4,29.3 85.2,29.3 84.9,29.4 84.7,29.5 84.4,29.6 84.2,29.7 83.9,29.8 83.7,29.9 83.4,30.1 83.1,30.2 82.9,30.3 82.6,30.4 82.4,30.6 82.1,30.7 81.9,30.9 81.6,31.0 81.4,31.2 81.1,31.3 80.9,31.5 80.6,31.6 80.3,31.8 80.1,32.0 79.8,29.5 79.6,29.7 79.3,29.8 79.1,30.0 78.8,30.2 78.6,30.5 78.3,30.7 78.1,30.9 77.8,31.1 77.5,31.3 77.3,31.5 77.0,31.8 76.8,32.0 76.5,32.3 76.3,32.5 76.0,32.7 75.8,33.0 75.5,33.2 75.3,33.5 75.0,33.8 74.8,34.0 74.5,34.3 74.2,34.6 74.0,34.8 73.7,35.1 73.5,35.4 73.2,33.2 73.0,33.5 72.7,33.8 72.5,34.1 72.2,34.4 72.0,34.7 71.7,35.0 71.4,35.4 71.2,35.7 70.9,36.0 70.7,36.3 70.4,36.7 70.2,37.0 69.9,37.3 69.7,37.7 69.4,38.0 69.2,38.4 68.9,38.7 68.6,39.0 68.4,39.4 68.1,39.8 67.9,40.1 67.6,40.5 67.4,40.8 67.1,41.2 66.9,39.4 66.6,39.8 66.4,40.2 66.1,40.6 65.9,41.0 65.6,41.4 65.3,41.7 65.1,42.1 64.8,42.5 64.6,42.9 64.3,43.3 64.1,43.7 63.8,44.1 63.6,44.5 63.3,44.9 63.1,45.3 62.8,45.7 62.5,46.1 62.3,46.5 62.0,46.9 61.8,47.3 61.5,47.7 61.3,48.1 61.0,48.5 60.8,49.0 60.5,47.8 60.3,48.2 60.0,48.6 59.7,49.1 59.5,49.5 59.2,49.9 59.0,50.3 58.7,50.8 58.5,51.2 58.2,51.6 58.0,52.1 57.7,52.5 57.5,52.9 57.2,53.3 57.0,53.8 56.7,54.2 56.4,54.6 56.2,55.1 55.9,55.5 55.7,55.9 55.4,56.3 55.2,56.7 54.9,57.2 54.7,57.6 54.4,58.0 54.2,58.4 53.9,57.9 53.6,58.3 53.4,58.8 53.1,59.2 52.9,59.6 52.6,60.1 52.4,60.5 52.1,61.0 51.9,61.4 51.6,61.8 51.4,62.2 51.1,62.6 50.8,63.0 50.6,63.4 50.3,63.9 50.1,64.3 49.8,64.7 49.6,65.1 49.3,65.5 49.1,65.9 48.8,66.2 48.6,66.6 48.3,67.0 48.1,67.3 47.8,67.7 47.5,69.0 47.3,69.5 47.0,69.9 46.8,70.3 46.5,70.7 46.3,71.1 46.0,71.5 45.8,71.9 45.5,72.3 45.3,72.7 45.0,73.1" fill="#0072BD" stroke="#0072BD" stroke-width="0.9" stroke-linejoin="round"/>
<polygon points="45.0,41.7 45.3,41.5 45.5,41.4 45.8,41.2 46.0,41.1 46.3,40.9 46.5,40.8 46.8,40.7 47.0,40.5 47.3,40.4 47.5,40.3 47.8,41.8 48.1,41.7 48.3,41.6 48.6,41.5 48.8,41.4 49.1,41.3 49.3,41.2 49.6,41.1 49.8,41.0 50.1,40.9 50.3,40.8 50.6,40.7 50.8,40.7 51.1,40.6 51.4,40.5 51.6,40.4 51.9,40.4 52.1,40.3 52.4,40.2 52.6,40.2 52.9,40.1 53.1,40.1 53.4,40.0 53.6,40.0 53.9,40.0 54.2,41.6 54.4,41.6 54.7,41.5 54.9,41.5 55.2,41.5 55.4,41.5 55.7,41.5 55.9,41.4 56.2,41.4 56.4,41.4 56.7,41.4 57.0,41.4 57.2,41.4 57.5,41.4 57.7,41.4 58.0,41.4 58.2,41.5 58.5,41.5 58.7,41.5 59.0,41.5 59.2,41.6 59.5,41.6 59.7,41.6 60.0,41.7 60.3,41.7 60.5,41.8 60.8,43.4 61.0,43.5 61.3,43.5 61.5,43.6 61.8,43.6 62.0,43.7 62.3,43.8 62.5,43.8 62.8,43.9 63.1,44.0 63.3,44.1 63.6,44.1 63.8,44.2 64.1,44.3 64.3,44.4 64.6,44.5 64.8,44.6 65.1,44.7 65.3,44.8 65.6,44.9 65.9,45.0 66.1,45.2 66.4,45.3 66.6,45.4 66.9,45.5 67.1,47.0 67.4,47.2 67.6,47.3 67.9,47.4 68.1,47.6 68.4,47.7 68.6,47.8 68.9,48.0 69.2,48.1 69.4,48.3 69.7,48.4 69.9,48.6 70.2,48.7 70.4,48.9 70.7,49.1 70.9,49.2 71.2,49.4 71.4,49.6 71.7,49.8 72.0,49.9 72.2,50.1 72.5,50.3 72.7,50.5 73.0,50.7 73.2,50.9 73.5,52.1 73.7,52.3 74.0,52.5 74.2,52.7 74.5,52.9 74.8,53.1 75.0,53.3 75.3,53.5 75.5,53.7 75.8,53.9 76.0,54.1 76.3,54.3 76.5,54.5 76.8,54.7 77.0,55.0 77.3,55.2 77.5,55.4 77.8,55.6 78.1,55.9 78.3,56.1 78.6,56.3 78.8,56.6 79.1,56.8 79.3,57.1 79.6,57.3 79.8,57.6 80.1,58.4 80.3,58.6 80.6,58.8 80.9,59.1 81.1,59.3 81.4,59.5 81.6,59.8 81.9,60.0 82.1,60.3 82.4,60.5 82.6,60.8 82.9,61.0 83.1,61.3 83.4,61.5 83.7,61.8 83.9,62.1 84.2,62.3 84.4,62.6 84.7,62.9 84.9,63.1 85.2,63.4 85.4,63.7 85.7,64.0 85.9,64.3 86.2,64.6 86.4,64.2 86.7,64.5 87.0,64.7 87.2,65.0 87.5,65.3 87.7,65.5 88.0,65.8 88.2,66.1 88.5,66.3 88.7,66.6 89.0,66.9 89.2,67.2 89.5,67.4 89.8,67.7 90.0,68.0 90.3,68.3 90.5,68.6 90.8,68.8 91.0,69.1 91.3,69.4 91.5,69.7 91.8,69.9 92.0,70.2 92.3,70.5 92.6,70.8 92.8,71.1 93.1,70.2 93.3,70.5 93.6,70.8 93.8,71.0 94.1,71.3 94.3,71.5 94.6,71.8 94.8,72.1 95.1,72.3 95.3,72.6 95.6,72.9 95.9,73.1 96.1,73.4 96.4,73.6 96.6,73.9 96.9,74.1 97.1,74.4 97.4,74.7 97.6,74.9 97.9,75.2 98.1,75.4 98.4,75.7 98.7,75.9 98.9,76.2 99.2,76.4 99.4,75.2 99.7,75.5 99.9,75.7 100.2,75.9 100.4,76.2 100.7,76.4 100.9,76.6 101.2,76.8 101.5,77.1 101.7,77.3 102.0,77.5 102.2,77.7 102.5,78.0 102.7,78.2 103.0,78.4 103.2,78.6 103.5,78.8 103.7,79.0 104.0,79.2 104.2,79.5 104.5,79.7 104.8,79.9 105.0,80.1 105.3,80.3 105.5,80.5 105.8,80.7 106.0,79.2 106.3,79.3 106.5,79.5 106.8,79.7 107.0,79.9 107.3,80.1 107.6,80.2 107.8,80.4 108.1,80.6 108.3,80.7 108.6,80.9 108.8,81.1 109.1,81.2 109.3,81.4 109.6,81.5 109.8,81.7 110.1,81.8 110.4,82.0 110.6,82.1 110.9,82.3 111.1,82.4 111.4,82.5 111.6,82.7 111.9,82.8 112.1,82.9 112.4,81.2 112.6,81.3 112.9,81.5 113.1,81.6 113.4,81.7 113.7,81.8 113.9,81.9 114.2,82.0 114.4,82.1 114.7,82.2 114.9,82.3 115.2,82.4 115.4,82.5 115.7,82.5 115.9,82.6 116.2,82.7 116.5,82.8 116.7,82.9 117.0,82.9 117.2,83.0 117.5,83.1 117.7,83.1 118.0,83.2 118.2,83.2 118.5,83.3 118.7,83.3 119.0,81.5 119.3,81.6 119.5,81.6 119.8,81.6 120.0,81.7 120.3,81.7 120.5,81.7 120.8,81.7 121.0,81.8 121.3,81.8 121.5,81.8 121.8,81.8 122.0,81.8 122.3,81.8 122.6,81.8 122.8,81.8 123.1,81.8 123.3,81.8 123.6,81.8 123.8,81.8 124.1,81.7 124.3,81.7 124.6,81.7 124.8,81.7 125.1,81.6 125.4,79.8 125.6,79.8 125.9,79.8 126.1,79.7 126.4,79.7 126.6,79.6 126.9,79.6 127.1,79.5 127.4,79.5 127.6,79.4 127.9,79.4 128.2,79.3 128.4,79.2 128.7,79.2 128.9,79.1 129.2,79.0 129.4,78.9 129.7,78.8 129.9,78.7 130.2,78.6 130.4,78.6 130.7,78.5 130.9,78.4 131.2,78.2 131.5,78.1 131.7,78.0 132.0,76.4 132.2,76.3 132.5,76.2 132.7,76.1 133.0,75.9 133.2,75.8 133.5,75.7 133.7,75.6 134.0,75.5 134.3,75.3 134.5,75.2 134.8,75.1 135.0,74.9 135.3,74.8 135.5,74.6 135.8,74.5 136.0,74.3 136.3,74.2 136.5,74.0 136.8,73.9 137.1,73.7 137.3,73.5 137.6,73.4 137.8,73.2 138.1,73.0 138.3,71.6 138.6,71.5 138.8,71.3 139.1,71.1 139.3,71.0 139.6,70.8 139.8,70.6 140.1,70.4 140.4,70.2 140.6,70.1 140.9,69.9 141.1,69.7 141.4,69.5 141.6,69.3 141.9,69.1 142.1,68.9 142.4,68.7 142.6,68.5 142.9,68.3 143.2,68.1 143.4,67.9 143.7,67.7 143.9,67.5 144.2,67.2 144.4,67.0 144.7,66.0 144.9,65.8 145.2,65.6 145.4,65.4 145.7,65.1 146.0,64.9 146.2,64.7 146.5,64.5 146.7,64.3 147.0,64.1 147.2,63.9 147.5,63.6 147.7,63.4 148.0,63.2 148.2,62.9 148.5,62.7 148.7,62.5 149.0,62.2 149.3,62.0 149.5,61.7 149.8,61.4 150.0,61.2 150.3,60.9 150.5,60.6 150.8,60.3 151.0,60.0 151.3,60.0 151.5,59.7 151.8,59.4 152.1,59.2 152.3,58.9 152.6,58.7 152.8,58.4 153.1,58.1 153.3,57.8 153.6,57.5 153.8,57.3 154.1,57.0 154.3,56.7 154.6,56.4 154.9,56.1 155.1,55.8 155.4,55.5 155.6,55.2 155.9,55.0 156.1,54.7 156.4,54.4 156.6,54.1 156.9,53.8 157.1,53.5 157.4,53.2 157.6,53.9 157.9,53.6 158.2,53.3 158.4,53.1 158.7,52.8 158.9,52.5 159.2,52.2 159.4,52.0 159.7,51.7 159.9,51.4 160.2,51.2 160.4,50.9 160.7,50.6 161.0,50.3 161.2,50.1 161.5,49.8 161.7,49.5 162.0,49.3 162.2,49.0 162.5,48.7 162.7,48.5 163.0,48.2 163.2,48.0 163.5,47.7 163.8,47.4 164.0,47.2 164.3,48.2 164.5,48.0 164.8,47.8 165.0,47.5 165.3,47.3 165.5,47.0 165.8,46.8 166.0,46.6 166.3,46.3 166.5,46.1 166.8,45.9 167.1,45.7 167.3,45.4 167.6,45.2 167.8,45.0 168.1,44.8 168.3,44.6 168.6,44.3 168.8,44.1 169.1,43.9 169.3,43.7 169.6,43.5 169.9,43.3 170.1,43.1 170.4,42.9 170.6,44.2 170.9,44.0 171.1,43.9 171.4,43.7 171.6,43.5 171.9,43.3 172.1,43.1 172.4,43.0 172.7,42.8 172.9,42.6 173.2,42.5 173.4,42.3 173.7,42.1 173.9,42.0 174.2,41.8 174.4,41.7 174.7,41.5 174.9,41.4 175.2,41.2 175.4,41.1 175.7,40.9 176.0,40.8 176.2,40.7 176.5,40.5 176.7,40.4 177.0,40.3 177.2,41.9 177.5,41.7 177.7,41.6 178.0,41.5 178.2,41.4 178.5,41.3 178.8,41.2 179.0,41.1 179.3,41.0 179.5,40.9 179.8,40.8 180.0,40.8 180.3,40.7 180.5,40.6 180.8,40.5 181.0,40.4 181.3,40.4 181.6,40.3 181.8,40.3 182.1,40.2 182.3,40.1 182.6,40.1 182.8,40.0 183.1,40.0 183.3,40.0 183.6,41.6 183.8,41.6 184.1,41.5 184.3,41.5 184.6,41.5 184.9,41.5 185.1,41.5 185.4,41.4 185.6,41.4 185.9,41.4 186.1,41.4 186.4,41.4 186.6,41.4 186.9,41.4 187.1,41.4 187.4,41.4 187.7,41.5 187.9,41.5 188.2,41.5 188.4,41.5 188.7,41.6 188.9,41.6 189.2,41.6 189.4,41.7 189.7,41.7 189.9,41.8 190.2,43.4 190.5,43.5 190.7,43.5 191.0,43.6 191.2,43.6 191.5,43.7 191.7,43.8 192.0,43.8 192.2,43.9 192.5,44.0 192.7,44.1 193.0,44.1 193.2,44.2 193.5,44.3 193.8,44.4 194.0,44.5 194.3,44.6 194.5,44.7 194.8,44.8 195.0,44.9 195.3,45.0 195.5,45.2 195.8,45.3 196.0,45.4 196.3,45.5 196.6,47.0 196.8,47.2 197.1,47.3 197.3,47.4 197.6,47.5 197.8,47.7 198.1,47.8 198.3,48.0 198.6,48.1 198.8,48.3 199.1,48.4 199.4,48.6 199.6,48.7 199.9,48.9 200.1,49.1 200.4,49.2 200.6,49.4 200.9,49.6 201.1,49.7 201.4,49.9 201.6,50.1 201.9,50.3 202.1,50.5 202.4,50.7 202.7,50.9 202.9,51.1 203.2,52.3 203.4,52.5 203.7,52.7 203.9,52.9 204.2,53.1 204.4,53.3 204.7,53.5 204.9,53.7 205.2,53.9 205.5,54.1 205.7,54.3 206.0,54.5 206.2,54.7 206.5,54.9 206.7,55.2 207.0,55.4 207.2,55.6 207.5,55.8 207.7,56.1 208.0,56.3 208.3,56.5 208.5,56.8 208.8,57.0 209.0,57.3 209.3,57.5 209.5,58.3 209.8,58.6 210.0,58.8 210.3,59.0 210.5,59.3 210.8,59.5 211.0,59.7 211.3,60.0 211.6,60.2 211.8,60.5 212.1,60.7 212.3,61.0 212.6,61.3 212.8,61.5 213.1,61.8 213.3,62.0 213.6,62.3 213.8,62.6 214.1,62.8 214.4,63.1 214.6,63.4 214.9,63.7 215.1,64.0 215.4,64.2 215.6,64.5 215.9,64.2 216.1,64.4 216.4,64.7 216.6,65.0 216.9,65.2 217.2,65.5 217.4,65.8 217.7,66.0 217.9,66.3 218.2,66.6 218.4,66.9 218.7,67.1 218.9,67.4 219.2,67.7 219.4,68.0 219.7,68.3 219.9,68.5 220.2,68.8 220.5,69.1 220.7,69.4 221.0,69.6 221.2,69.9 221.5,70.2 221.7,70.5 222.0,70.8 222.2,71.0 222.5,70.2 222.7,70.5 223.0,70.7 223.3,71.0 223.5,71.3 223.8,71.5 224.0,71.8 224.3,72.0 224.5,72.3 224.8,72.6 225.0,72.8 225.3,73.1 225.5,73.3 225.8,73.6 226.1,73.9 226.3,74.1 226.6,74.4 226.8,74.6 227.1,74.9 227.3,75.1 227.6,75.4 227.8,75.6 228.1,75.9 228.3,76.2 228.6,76.4 228.8,75.2 229.1,75.4 229.4,75.7 229.6,75.9 229.9,76.1 230.1,76.4 230.4,76.6 230.6,76.8 230.9,77.1 231.1,77.3 231.4,77.5 231.6,77.7 231.9,77.9 232.2,78.2 232.4,78.4 232.7,78.6 232.9,78.8 233.2,79.0 233.4,79.2 233.7,79.4 233.9,79.6 234.2,79.8 234.4,80.0 234.7,80.2 235.0,80.4 235.2,80.6 235.5,79.1 235.7,79.3 236.0,79.5 236.2,79.7 236.5,79.9 236.7,80.0 237.0,80.2 237.2,80.4 237.5,80.6 237.7,80.7 238.0,80.9 238.3,81.0 238.5,81.2 238.8,81.4 239.0,81.5 239.3,81.7 239.5,81.8 239.8,82.0 240.0,82.1 240.3,82.2 240.5,82.4 240.8,82.5 241.1,82.7 241.3,82.8 241.6,82.9 241.8,81.2 242.1,81.3 242.3,81.4 242.6,81.6 242.8,81.7 243.1,81.8 243.3,81.9 243.6,82.0 243.9,82.1 244.1,82.2 244.4,82.3 244.6,82.4 244.9,82.5 245.1,82.5 245.4,82.6 245.6,82.7 245.9,82.8 246.1,82.8 246.4,82.9 246.6,83.0 246.9,83.0 247.2,83.1 247.4,83.2 247.7,83.2 247.9,83.3 248.2,83.3 248.4,81.5 248.7,81.6 248.9,81.6 249.2,81.6 249.4,81.7 249.7,81.7 250.0,81.7 250.2,81.7 250.5,81.8 250.7,81.8 251.0,81.8 251.2,81.8 251.5,81.8 251.7,81.8 252.0,81.8 252.2,81.8 252.5,81.8 252.8,81.8 253.0,81.8 253.3,81.8 253.5,81.7 253.8,81.7 254.0,81.7 254.3,81.7 254.5,81.6 254.8,79.9 255.0,79.8 255.3,79.8 255.5,79.7 255.8,79.7 256.1,79.7 256.3,79.6 256.6,79.5 256.8,79.5 257.1,79.4 257.3,79.4 257.6,79.3 257.8,79.2 258.1,79.2 258.3,79.1 258.6,79.0 258.9,78.9 259.1,78.8 259.4,78.7 259.6,78.7 259.9,78.6 260.1,78.5 260.4,78.4 260.6,78.3 260.9,78.1 261.1,78.0 261.4,76.4 261.7,76.3 261.9,76.2 262.2,76.1 262.4,76.0 262.7,75.8 262.9,75.7 263.2,75.6 263.4,75.5 263.7,75.3 263.9,75.2 264.2,75.1 264.4,74.9 264.7,74.8 265.0,74.6 265.2,74.5 265.5,74.3 265.7,74.2 266.0,74.0 266.2,73.9 266.5,73.7 266.7,73.5 267.0,73.4 267.2,73.2 267.5,73.0 267.8,71.6 268.0,71.5 268.3,71.3 268.5,71.1 268.8,71.0 269.0,70.8 269.3,70.6 269.5,70.4 269.8,70.3 270.0,70.1 270.3,69.9 270.6,69.7 270.8,69.5 271.1,69.3 271.3,69.1 271.6,68.9 271.8,68.7 272.1,68.5 272.3,68.3 272.6,68.1 272.8,67.9 273.1,67.7 273.3,67.5 273.6,67.3 273.9,67.0 274.1,66.8 274.4,65.8 274.6,65.6 274.9,65.4 275.1,65.2 275.4,65.0 275.6,64.7 275.9,64.5 276.1,64.3 276.4,64.1 276.7,63.9 276.9,63.6 277.2,63.4 277.4,63.2 277.7,63.0 277.9,62.7 278.2,62.5 278.4,62.2 278.7,62.0 278.9,61.7 279.2,61.5 279.5,61.2 279.7,60.9 280.0,60.6 280.2,60.3 280.5,60.0 280.7,60.0 281.0,59.7 281.2,59.5 281.5,59.2 281.7,58.9 282.0,58.7 282.2,58.4 282.5,58.1 282.8,57.8 283.0,57.6 283.3,57.3 283.5,57.0 283.8,56.7 284.0,56.4 284.3,56.1 284.5,55.8 284.8,55.6 285.0,55.3 285.3,55.0 285.6,54.7 285.8,54.4 286.1,54.1 286.3,53.8 286.6,53.5 286.8,53.2 287.1,53.9 287.3,53.6 287.6,53.4 287.8,53.1 288.1,52.8 288.4,52.5 288.6,52.3 288.9,52.0 289.1,51.7 289.4,51.4 289.6,51.2 289.9,50.9 290.1,50.6 290.4,50.4 290.6,50.1 290.9,49.8 291.1,49.6 291.4,49.3 291.7,49.0 291.9,48.8 292.2,48.5 292.4,48.2 292.7,48.0 292.9,47.7 293.2,47.5 293.4,47.2 293.7,48.3 293.9,48.0 294.2,47.8 294.5,47.5 294.7,47.3 295.0,47.1 295.2,46.8 295.5,46.6 295.7,46.4 296.0,46.1 296.2,45.9 296.5,45.7 296.7,45.5 297.0,45.2 297.3,45.0 297.5,44.8 297.8,44.6 298.0,44.4 298.3,44.1 298.5,43.9 298.8,43.7 299.0,43.5 299.3,43.3 299.5,43.1 299.8,42.9 300.0,44.3 300.3,44.1 300.6,43.9 300.8,43.7 301.1,43.5 301.3,43.3 301.6,43.2 301.8,43.0 302.1,42.8 302.3,42.6 302.6,42.5 302.8,42.3 303.1,42.2 303.4,42.0 303.6,41.8 303.9,41.7 304.1,41.5 304.4,41.4 304.6,41.2 304.9,41.1 305.1,41.0 305.4,40.8 305.6,40.7 305.9,40.6 306.2,40.4 306.4,40.3 306.7,41.9 306.9,41.7 307.2,41.6 307.4,41.5 307.7,41.4 307.9,41.3 308.2,41.2 308.4,41.1 308.7,41.0 308.9,40.9 309.2,40.8 309.5,40.8 309.7,40.7 310.0,40.6 310.2,40.5 310.5,40.5 310.7,40.4 311.0,40.3 311.2,40.3 311.5,40.2 311.7,40.1 312.0,40.1 312.3,40.0 312.5,40.0 312.8,40.0 313.0,41.6 313.3,41.6 313.5,41.6 313.8,41.5 314.0,41.5 314.3,41.5 314.5,41.5 314.8,41.4 315.1,41.4 315.3,41.4 315.6,41.4 315.8,41.4 316.1,41.4 316.3,41.4 316.6,41.4 316.8,41.4 317.1,41.5 317.3,41.5 317.6,41.5 317.8,41.5 318.1,41.6 318.4,41.6 318.6,41.6 318.9,41.7 319.1,41.7 319.4,41.8 319.6,43.4 319.9,43.5 320.1,43.5 320.4,43.6 320.6,43.6 320.9,43.7 321.2,43.7 321.4,43.8 321.7,43.9 321.9,44.0 322.2,44.0 322.4,44.1 322.7,44.2 322.9,44.3 323.2,44.4 323.4,44.5 323.7,44.6 324.0,44.7 324.2,44.8 324.5,44.9 324.7,45.0 325.0,45.1 325.2,45.3 325.5,45.4 325.7,45.5 326.0,47.0 326.2,47.1 326.5,47.3 326.7,47.4 327.0,47.5 327.3,47.7 327.5,47.8 327.8,48.0 328.0,48.1 328.3,48.2 328.5,48.4 328.8,48.6 329.0,48.7 329.3,48.9 329.5,49.0 329.8,49.2 330.1,49.4 330.3,49.5 330.6,49.7 330.8,49.9 331.1,50.1 331.3,50.3 331.6,50.5 331.8,50.6 332.1,50.8 332.3,51.0 332.6,52.3 332.9,52.5 333.1,52.7 333.4,52.9 333.6,53.1 333.9,53.3 334.1,53.5 334.4,53.7 334.6,53.9 334.9,54.1 335.1,54.3 335.4,54.5 335.6,54.7 335.9,54.9 336.2,55.1 336.4,55.4 336.7,55.6 336.9,55.8 337.2,56.1 337.4,56.3 337.7,56.5 337.9,56.8 338.2,57.0 338.4,57.3 338.7,57.5 339.0,58.3 339.2,58.6 339.5,58.8 339.7,59.0 340.0,59.2 340.2,59.5 340.5,59.7 340.7,60.0 341.0,60.2 341.2,60.5 341.5,60.7 341.8,61.0 342.0,61.2 342.3,61.5 342.5,61.7 342.8,62.0 343.0,62.3 343.3,62.5 343.5,62.8 343.8,63.1 344.0,63.4 344.3,63.6 344.5,63.9 344.8,64.2 345.1,64.5 345.3,64.8 345.6,64.4 345.8,64.7 346.1,64.9 346.3,65.2 346.6,65.5 346.8,65.7 347.1,66.0 347.3,66.3 347.6,66.6 347.9,66.8 348.1,67.1 348.4,67.4 348.6,67.7 348.9,67.9 349.1,68.2 349.4,68.5 349.6,68.8 349.9,69.1 350.1,69.3 350.4,69.6 350.7,69.9 350.9,70.2 351.2,70.5 351.4,70.7 351.7,71.0 351.9,70.2 352.2,70.4 352.4,70.7 352.7,71.0 352.9,71.2 353.2,71.5 353.4,71.8 353.7,72.0 354.0,72.3 354.2,72.5 354.5,72.8 354.7,73.1 355.0,73.3 355.2,73.6 355.5,73.8 355.7,74.1 356.0,74.4 356.2,74.6 356.5,74.9 356.8,75.1 357.0,75.4 357.3,75.6 357.5,75.9 357.8,76.1 358.0,76.4 358.3,75.2 358.5,75.4 358.8,75.7 359.0,75.9 359.3,76.1 359.6,76.3 359.8,76.6 360.1,76.8 360.3,77.0 360.6,77.3 360.8,77.5 361.1,77.7 361.3,77.9 361.6,78.1 361.8,78.4 362.1,78.6 362.3,78.8 362.6,79.0 362.9,79.2 363.1,79.4 363.4,79.6 363.6,79.8 363.9,80.0 364.1,80.2 364.4,80.4 364.6,80.6 364.9,79.1 365.1,79.3 365.4,79.5 365.7,79.7 365.9,79.8 366.2,80.0 366.4,80.2 366.7,80.4 366.9,80.5 367.2,80.7 367.4,80.9 367.7,81.0 367.9,81.2 368.2,81.3 368.5,81.5 368.7,81.7 369.0,81.8 369.2,81.9 369.5,82.1 369.7,82.2 370.0,82.4 370.2,82.5 370.5,82.6 370.7,82.8 371.0,82.9 371.2,81.2 371.5,81.3 371.8,81.4 372.0,81.6 372.3,81.7 372.5,81.8 372.8,81.9 373.0,82.0 373.3,82.1 373.5,82.2 373.8,82.3 374.0,82.4 374.3,82.4 374.6,82.5 374.8,82.6 375.1,82.7 375.3,82.8 375.6,82.8 375.8,82.9 376.1,83.0 376.3,83.0 376.6,83.1 376.8,83.2 377.1,83.2 377.4,83.3 377.6,83.3 377.9,81.5 378.1,81.6 378.4,81.6 378.6,81.6 378.9,81.7 379.1,81.7 379.4,81.7 379.6,81.7 379.9,81.8 380.1,81.8 380.4,81.8 380.7,81.8 380.9,81.8 381.2,81.8 381.4,81.8 381.7,81.8 381.9,81.8 382.2,81.8 382.4,81.8 382.7,81.8 382.9,81.7 383.2,81.7 383.5,81.7 383.7,81.7 384.0,81.6 384.2,79.9 384.5,79.8 384.7,79.8 385.0,79.7 385.2,79.7 385.5,79.7 385.7,79.6 386.0,79.6 386.3,79.5 386.5,79.4 386.8,79.4 387.0,79.3 387.3,79.2 387.5,79.2 387.8,79.1 388.0,79.0 388.3,78.9 388.5,78.8 388.8,78.8 389.0,78.7 389.3,78.6 389.6,78.5 389.8,78.4 390.1,78.3 390.3,78.2 390.6,78.0 390.8,76.4 391.1,76.3 391.3,76.2 391.6,76.1 391.8,76.0 392.1,75.9 392.4,75.7 392.6,75.6 392.9,75.5 393.1,75.3 393.4,75.2 393.6,75.1 393.9,74.9 394.1,74.8 394.4,74.6 394.6,74.5 394.9,74.4 395.2,74.2 395.4,74.0 395.7,73.9 395.9,73.7 396.2,73.6 396.4,73.4 396.7,73.2 396.9,73.0 397.2,71.7 397.4,71.5 397.7,71.3 397.9,71.2 398.2,71.0 398.5,70.8 398.7,70.6 399.0,70.5 399.2,70.3 399.5,70.1 399.7,69.9 400.0,69.7 400.2,69.5 400.5,69.3 400.7,69.1 401.0,68.9 401.0,70.9 400.7,71.1 400.5,71.3 400.2,71.5 400.0,71.7 399.7,71.9 399.5,72.1 399.2,72.3 399.0,72.5 398.7,72.7 398.5,72.9 398.2,73.1 397.9,73.3 397.7,73.5 397.4,73.7 397.2,73.9 396.9,75.3 396.7,75.4 396.4,75.6 396.2,75.8 395.9,76.0 395.7,76.2 395.4,76.3 395.2,76.5 394.9,76.7 394.6,76.8 394.4,77.0 394.1,77.2 393.9,77.3 393.6,77.5 393.4,77.6 393.1,77.8 392.9,77.9 392.6,78.1 392.4,78.2 392.1,78.3 391.8,78.5 391.6,78.6 391.3,78.7 391.1,78.8 390.8,79.0 390.6,80.6 390.3,80.7 390.1,80.9 389.8,81.0 389.6,81.1 389.3,81.2 389.0,81.3 388.8,81.4 388.5,81.5 388.3,81.6 388.0,81.7 387.8,81.8 387.5,81.9 387.3,81.9 387.0,82.0 386.8,82.1 386.5,82.2 386.3,82.2 386.0,82.3 385.7,82.4 385.5,82.4 385.2,82.5 385.0,82.5 384.7,82.6 384.5,82.6 384.2,82.7 384.0,84.4 383.7,84.5 383.5,84.5 383.2,84.6 382.9,84.6 382.7,84.6 382.4,84.6 382.2,84.7 381.9,84.7 381.7,84.7 381.4,84.7 381.2,84.7 380.9,84.7 380.7,84.7 380.4,84.7 380.1,84.7 379.9,84.7 379.6,84.6 379.4,84.6 379.1,84.6 378.9,84.6 378.6,84.5 378.4,84.5 378.1,84.5 377.9,84.4 377.6,86.2 377.4,86.2 377.1,86.1 376.8,86.1 376.6,86.0 376.3,86.0 376.1,85.9 375.8,85.9 375.6,85.8 375.3,85.7 375.1,85.6 374.8,85.6 374.6,85.5 374.3,85.4 374.0,85.3 373.8,85.2 373.5,85.1 373.3,85.0 373.0,84.9 372.8,84.8 372.5,84.7 372.3,84.6 372.0,84.5 371.8,84.4 371.5,84.2 371.2,84.1 371.0,85.8 370.7,85.7 370.5,85.5 370.2,85.4 370.0,85.3 369.7,85.1 369.5,85.0 369.2,84.8 369.0,84.7 368.7,84.5 368.5,84.4 368.2,84.2 367.9,84.0 367.7,83.9 367.4,83.7 367.2,83.5 366.9,83.4 366.7,83.2 366.4,83.0 366.2,82.8 365.9,82.6 365.7,82.4 365.4,82.3 365.1,82.1 364.9,81.9 364.6,83.4 364.4,83.2 364.1,83.0 363.9,82.7 363.6,82.5 363.4,82.3 363.1,82.1 362.9,81.9 362.6,81.7 362.3,81.4 362.1,81.2 361.8,81.0 361.6,80.8 361.3,80.5 361.1,80.3 360.8,80.1 360.6,79.8 360.3,79.6 360.1,79.4 359.8,79.1 359.6,78.9 359.3,78.6 359.0,78.4 358.8,78.1 358.5,77.9 358.3,77.6 358.0,78.8 357.8,78.6 357.5,78.3 357.3,78.0 357.0,77.8 356.8,77.5 356.5,77.2 356.2,77.0 356.0,76.7 355.7,76.4 355.5,76.1 355.2,75.9 355.0,75.6 354.7,75.3 354.5,75.0 354.2,74.8 354.0,74.5 353.7,74.2 353.4,73.9 353.2,73.7 352.9,73.4 352.7,73.1 352.4,72.8 352.2,72.5 351.9,72.3 351.7,73.1 351.4,72.8 351.2,72.5 350.9,72.2 350.7,71.9 350.4,71.6 350.1,71.3 349.9,71.0 349.6,70.7 349.4,70.4 349.1,70.1 348.9,69.8 348.6,69.5 348.4,69.2 348.1,68.9 347.9,68.7 347.6,68.4 347.3,68.1 347.1,67.8 346.8,67.5 346.6,67.2 346.3,66.9 346.1,66.6 345.8,66.3 345.6,66.1 345.3,66.4 345.1,66.1 344.8,65.8 344.5,65.5 344.3,65.2 344.0,64.9 343.8,64.6 343.5,64.3 343.3,64.0 343.0,63.7 342.8,63.5 342.5,63.2 342.3,62.9 342.0,62.6 341.8,62.4 341.5,62.1 341.2,61.9 341.0,61.7 340.7,61.4 340.5,61.2 340.2,61.0 340.0,60.8 339.7,60.5 339.5,60.3 339.2,60.1 339.0,59.9 338.7,59.1 338.4,58.9 338.2,58.7 337.9,58.4 337.7,58.2 337.4,58.0 337.2,57.8 336.9,57.6 336.7,57.3 336.4,57.1 336.2,56.9 335.9,56.7 335.6,56.5 335.4,56.3 335.1,56.1 334.9,55.9 334.6,55.7 334.4,55.6 334.1,55.4 333.9,55.2 333.6,55.0 333.4,54.8 333.1,54.7 332.9,54.5 332.6,54.3 332.3,53.1 332.1,52.9 331.8,52.7 331.6,52.5 331.3,52.4 331.1,52.2 330.8,52.0 330.6,51.9 330.3,51.7 330.1,51.5 329.8,51.4 329.5,51.2 329.3,51.1 329.0,50.9 328.8,50.8 328.5,50.7 328.3,50.5 328.0,50.4 327.8,50.2 327.5,50.1 327.3,50.0 327.0,49.9 326.7,49.8 326.5,49.6 326.2,49.5 326.0,49.4 325.7,47.9 325.5,47.8 325.2,47.7 325.0,47.6 324.7,47.5 324.5,47.4 324.2,47.3 324.0,47.2 323.7,47.1 323.4,47.0 323.2,46.9 322.9,46.8 322.7,46.7 322.4,46.7 322.2,46.6 321.9,46.5 321.7,46.5 321.4,46.4 321.2,46.3 320.9,46.3 320.6,46.2 320.4,46.2 320.1,46.1 319.9,46.1 319.6,46.0 319.4,44.4 319.1,44.4 318.9,44.3 318.6,44.3 318.4,44.3 318.1,44.2 317.8,44.2 317.6,44.2 317.3,44.2 317.1,44.2 316.8,44.1 316.6,44.1 316.3,44.1 316.1,44.1 315.8,44.1 315.6,44.1 315.3,44.2 315.1,44.2 314.8,44.2 314.5,44.2 314.3,44.2 314.0,44.2 313.8,44.3 313.5,44.3 313.3,44.3 313.0,44.4 312.8,42.7 312.5,42.8 312.3,42.8 312.0,42.9 311.7,42.9 311.5,43.0 311.2,43.0 311.0,43.1 310.7,43.2 310.5,43.2 310.2,43.3 310.0,43.4 309.7,43.4 309.5,43.5 309.2,43.6 308.9,43.7 308.7,43.8 308.4,43.9 308.2,44.0 307.9,44.1 307.7,44.2 307.4,44.3 307.2,44.4 306.9,44.5 306.7,44.6 306.4,43.0 306.2,43.2 305.9,43.3 305.6,43.4 305.4,43.5 305.1,43.7 304.9,43.8 304.6,43.9 304.4,44.1 304.1,44.2 303.9,44.4 303.6,44.5 303.4,44.7 303.1,44.8 302.8,45.0 302.6,45.1 302.3,45.3 302.1,45.5 301.8,45.6 301.6,45.8 301.3,46.0 301.1,46.1 300.8,46.3 300.6,46.5 300.3,46.7 300.0,46.8 299.8,45.5 299.5,45.7 299.3,45.9 299.0,46.1 298.8,46.3 298.5,46.5 298.3,46.7 298.0,46.9 297.8,47.1 297.5,47.3 297.3,47.5 297.0,47.7 296.7,47.9 296.5,48.1 296.2,48.3 296.0,48.5 295.7,48.8 295.5,49.0 295.2,49.2 295.0,49.4 294.7,49.7 294.5,49.9 294.2,50.1 293.9,50.3 293.7,50.6 293.4,49.5 293.2,49.7 292.9,50.0 292.7,50.2 292.4,50.5 292.2,50.7 291.9,51.0 291.7,51.2 291.4,51.5 291.1,51.7 290.9,52.0 290.6,52.2 290.4,52.5 290.1,52.7 289.9,53.0 289.6,53.2 289.4,53.5 289.1,53.8 288.9,54.0 288.6,54.3 288.4,54.5 288.1,54.8 287.8,55.0 287.6,55.3 287.3,55.6 287.1,55.8 286.8,55.1 286.6,55.4 286.3,55.7 286.1,55.9 285.8,56.2 285.6,56.5 285.3,56.8 285.0,57.0 284.8,57.3 284.5,57.6 284.3,57.9 284.0,58.1 283.8,58.4 283.5,58.7 283.3,58.9 283.0,59.2 282.8,59.5 282.5,59.7 282.2,60.0 282.0,60.2 281.7,60.5 281.5,60.7 281.2,61.0 281.0,61.2 280.7,61.5 280.5,61.5 280.2,61.8 280.0,62.0 279.7,62.3 279.5,62.6 279.2,62.9 278.9,63.1 278.7,63.4 278.4,63.7 278.2,64.0 277.9,64.2 277.7,64.5 277.4,64.7 277.2,65.0 276.9,65.2 276.7,65.5 276.4,65.7 276.1,65.9 275.9,66.2 275.6,66.4 275.4,66.6 275.1,66.9 274.9,67.1 274.6,67.3 274.4,67.5 274.1,68.6 273.9,68.8 273.6,69.1 273.3,69.3 273.1,69.5 272.8,69.8 272.6,70.0 272.3,70.2 272.1,70.4 271.8,70.6 271.6,70.9 271.3,71.1 271.1,71.3 270.8,71.5 270.6,71.7 270.3,71.9 270.0,72.1 269.8,72.3 269.5,72.5 269.3,72.7 269.0,72.9 268.8,73.1 268.5,73.3 268.3,73.5 268.0,73.7 267.8,73.8 267.5,75.2 267.2,75.4 267.0,75.6 266.7,75.8 266.5,76.0 266.2,76.2 266.0,76.3 265.7,76.5 265.5,76.7 265.2,76.8 265.0,77.0 264.7,77.2 264.4,77.3 264.2,77.5 263.9,77.6 263.7,77.8 263.4,77.9 263.2,78.1 262.9,78.2 262.7,78.3 262.4,78.5 262.2,78.6 261.9,78.7 261.7,78.8 261.4,79.0 261.1,80.6 260.9,80.7 260.6,80.8 260.4,81.0 260.1,81.1 259.9,81.2 259.6,81.3 259.4,81.4 259.1,81.5 258.9,81.6 258.6,81.7 258.3,81.8 258.1,81.9 257.8,81.9 257.6,82.0 257.3,82.1 257.1,82.2 256.8,82.2 256.6,82.3 256.3,82.4 256.1,82.4 255.8,82.5 255.5,82.5 255.3,82.6 255.0,82.6 254.8,82.7 254.5,84.4 254.3,84.5 254.0,84.5 253.8,84.6 253.5,84.6 253.3,84.6 253.0,84.6 252.8,84.7 252.5,84.7 252.2,84.7 252.0,84.7 251.7,84.7 251.5,84.7 251.2,84.7 251.0,84.7 250.7,84.7 250.5,84.7 250.2,84.7 250.0,84.6 249.7,84.6 249.4,84.6 249.2,84.6 248.9,84.5 248.7,84.5 248.4,84.4 248.2,86.2 247.9,86.2 247.7,86.2 247.4,86.1 247.2,86.0 246.9,86.0 246.6,85.9 246.4,85.9 246.1,85.8 245.9,85.7 245.6,85.6 245.4,85.6 245.1,85.5 244.9,85.4 244.6,85.3 244.4,85.2 244.1,85.1 243.9,85.0 243.6,84.9 243.3,84.8 243.1,84.7 242.8,84.6 242.6,84.5 242.3,84.4 242.1,84.2 241.8,84.1 241.6,85.8 241.3,85.7 241.1,85.6 240.8,85.4 240.5,85.3 240.3,85.1 240.0,85.0 239.8,84.8 239.5,84.7 239.3,84.5 239.0,84.4 238.8,84.2 238.5,84.0 238.3,83.9 238.0,83.7 237.7,83.5 237.5,83.4 237.2,83.2 237.0,83.0 236.7,82.8 236.5,82.7 236.2,82.5 236.0,82.3 235.7,82.1 235.5,81.9 235.2,83.4 235.0,83.2 234.7,83.0 234.4,82.8 234.2,82.5 233.9,82.3 233.7,82.1 233.4,81.9 233.2,81.7 232.9,81.5 232.7,81.2 232.4,81.0 232.2,80.8 231.9,80.6 231.6,80.3 231.4,80.1 231.1,79.9 230.9,79.6 230.6,79.4 230.4,79.1 230.1,78.9 229.9,78.7 229.6,78.4 229.4,78.2 229.1,77.9 228.8,77.7 228.6,78.8 228.3,78.6 228.1,78.3 227.8,78.1 227.6,77.8 227.3,77.5 227.1,77.3 226.8,77.0 226.6,76.7 226.3,76.4 226.1,76.2 225.8,75.9 225.5,75.6 225.3,75.3 225.0,75.1 224.8,74.8 224.5,74.5 224.3,74.2 224.0,74.0 223.8,73.7 223.5,73.4 223.3,73.1 223.0,72.8 222.7,72.6 222.5,72.3 222.2,73.1 222.0,72.8 221.7,72.5 221.5,72.2 221.2,71.9 221.0,71.6 220.7,71.3 220.5,71.0 220.2,70.7 219.9,70.4 219.7,70.2 219.4,69.9 219.2,69.6 218.9,69.3 218.7,69.0 218.4,68.7 218.2,68.4 217.9,68.1 217.7,67.8 217.4,67.5 217.2,67.2 216.9,66.9 216.6,66.7 216.4,66.4 216.1,66.1 215.9,65.8 215.6,66.1 215.4,65.8 215.1,65.5 214.9,65.2 214.6,64.9 214.4,64.6 214.1,64.3 213.8,64.1 213.6,63.8 213.3,63.5 213.1,63.2 212.8,62.9 212.6,62.7 212.3,62.4 212.1,62.2 211.8,61.9 211.6,61.7 211.3,61.4 211.0,61.2 210.8,61.0 210.5,60.8 210.3,60.6 210.0,60.4 209.8,60.1 209.5,59.9 209.3,59.1 209.0,58.9 208.8,58.7 208.5,58.4 208.3,58.2 208.0,58.0 207.7,57.8 207.5,57.6 207.2,57.4 207.0,57.2 206.7,56.9 206.5,56.7 206.2,56.5 206.0,56.3 205.7,56.1 205.5,56.0 205.2,55.8 204.9,55.6 204.7,55.4 204.4,55.2 204.2,55.0 203.9,54.8 203.7,54.7 203.4,54.5 203.2,54.3 202.9,53.1 202.7,52.9 202.4,52.7 202.1,52.5 201.9,52.4 201.6,52.2 201.4,52.0 201.1,51.9 200.9,51.7 200.6,51.6 200.4,51.4 200.1,51.2 199.9,51.1 199.6,51.0 199.4,50.8 199.1,50.7 198.8,50.5 198.6,50.4 198.3,50.3 198.1,50.1 197.8,50.0 197.6,49.9 197.3,49.8 197.1,49.6 196.8,49.5 196.6,49.4 196.3,47.9 196.0,47.8 195.8,47.7 195.5,47.6 195.3,47.5 195.0,47.4 194.8,47.3 194.5,47.2 194.3,47.1 194.0,47.0 193.8,46.9 193.5,46.8 193.2,46.7 193.0,46.7 192.7,46.6 192.5,46.5 192.2,46.5 192.0,46.4 191.7,46.3 191.5,46.3 191.2,46.2 191.0,46.2 190.7,46.1 190.5,46.1 190.2,46.0 189.9,44.4 189.7,44.4 189.4,44.3 189.2,44.3 188.9,44.3 188.7,44.2 188.4,44.2 188.2,44.2 187.9,44.2 187.7,44.2 187.4,44.1 187.1,44.1 186.9,44.1 186.6,44.1 186.4,44.1 186.1,44.1 185.9,44.2 185.6,44.2 185.4,44.2 185.1,44.2 184.9,44.2 184.6,44.2 184.3,44.3 184.1,44.3 183.8,44.3 183.6,44.4 183.3,42.7 183.1,42.8 182.8,42.8 182.6,42.9 182.3,42.9 182.1,43.0 181.8,43.0 181.6,43.1 181.3,43.1 181.0,43.2 180.8,43.3 180.5,43.4 180.3,43.4 180.0,43.5 179.8,43.6 179.5,43.7 179.3,43.8 179.0,43.9 178.8,44.0 178.5,44.1 178.2,44.2 178.0,44.3 177.7,44.4 177.5,44.5 177.2,44.6 177.0,43.0 176.7,43.2 176.5,43.3 176.2,43.4 176.0,43.5 175.7,43.7 175.4,43.8 175.2,43.9 174.9,44.1 174.7,44.2 174.4,44.4 174.2,44.5 173.9,44.7 173.7,44.8 173.4,45.0 173.2,45.1 172.9,45.3 172.7,45.4 172.4,45.6 172.1,45.8 171.9,45.9 171.6,46.1 171.4,46.3 171.1,46.5 170.9,46.6 170.6,46.8 170.4,45.5 170.1,45.7 169.9,45.8 169.6,46.0 169.3,46.2 169.1,46.4 168.8,46.6 168.6,46.8 168.3,47.0 168.1,47.3 167.8,47.5 167.6,47.7 167.3,47.9 167.1,48.1 166.8,48.3 166.5,48.5 166.3,48.7 166.0,49.0 165.8,49.2 165.5,49.4 165.3,49.6 165.0,49.9 164.8,50.1 164.5,50.3 164.3,50.5 164.0,49.5 163.8,49.7 163.5,50.0 163.2,50.2 163.0,50.5 162.7,50.7 162.5,51.0 162.2,51.2 162.0,51.4 161.7,51.7 161.5,52.0 161.2,52.2 161.0,52.5 160.7,52.7 160.4,53.0 160.2,53.2 159.9,53.5 159.7,53.7 159.4,54.0 159.2,54.2 158.9,54.5 158.7,54.8 158.4,55.0 158.2,55.3 157.9,55.5 157.6,55.8 157.4,55.1 157.1,55.4 156.9,55.6 156.6,55.9 156.4,56.2 156.1,56.5 155.9,56.7 155.6,57.0 155.4,57.3 155.1,57.6 154.9,57.8 154.6,58.1 154.3,58.4 154.1,58.6 153.8,58.9 153.6,59.2 153.3,59.4 153.1,59.7 152.8,60.0 152.6,60.2 152.3,60.5 152.1,60.7 151.8,61.0 151.5,61.2 151.3,61.4 151.0,61.5 150.8,61.7 150.5,62.0 150.3,62.3 150.0,62.6 149.8,62.8 149.5,63.1 149.3,63.4 149.0,63.7 148.7,63.9 148.5,64.2 148.2,64.5 148.0,64.7 147.7,65.0 147.5,65.2 147.2,65.4 147.0,65.7 146.7,65.9 146.5,66.2 146.2,66.4 146.0,66.6 145.7,66.8 145.4,67.1 145.2,67.3 144.9,67.5 144.7,67.7 144.4,68.8 144.2,69.0 143.9,69.3 143.7,69.5 143.4,69.7 143.2,70.0 142.9,70.2 142.6,70.4 142.4,70.6 142.1,70.8 141.9,71.1 141.6,71.3 141.4,71.5 141.1,71.7 140.9,71.9 140.6,72.1 140.4,72.3 140.1,72.5 139.8,72.7 139.6,72.9 139.3,73.1 139.1,73.3 138.8,73.5 138.6,73.6 138.3,73.8 138.1,75.2 137.8,75.4 137.6,75.6 137.3,75.8 137.1,76.0 136.8,76.1 136.5,76.3 136.3,76.5 136.0,76.7 135.8,76.8 135.5,77.0 135.3,77.1 135.0,77.3 134.8,77.5 134.5,77.6 134.3,77.8 134.0,77.9 133.7,78.0 133.5,78.2 133.2,78.3 133.0,78.4 132.7,78.6 132.5,78.7 132.2,78.8 132.0,78.9 131.7,80.6 131.5,80.7 131.2,80.8 130.9,80.9 130.7,81.1 130.4,81.2 130.2,81.3 129.9,81.4 129.7,81.5 129.4,81.6 129.2,81.7 128.9,81.8 128.7,81.8 128.4,81.9 128.2,82.0 127.9,82.1 127.6,82.2 127.4,82.2 127.1,82.3 126.9,82.4 126.6,82.4 126.4,82.5 126.1,82.5 125.9,82.6 125.6,82.6 125.4,82.7 125.1,84.4 124.8,84.5 124.6,84.5 124.3,84.6 124.1,84.6 123.8,84.6 123.6,84.6 123.3,84.7 123.1,84.7 122.8,84.7 122.6,84.7 122.3,84.7 122.0,84.7 121.8,84.7 121.5,84.7 121.3,84.7 121.0,84.7 120.8,84.7 120.5,84.6 120.3,84.6 120.0,84.6 119.8,84.6 119.5,84.5 119.3,84.5 119.0,84.4 118.7,86.2 118.5,86.2 118.2,86.2 118.0,86.1 117.7,86.0 117.5,86.0 117.2,85.9 117.0,85.9 116.7,85.8 116.5,85.7 116.2,85.6 115.9,85.6 115.7,85.5 115.4,85.4 115.2,85.3 114.9,85.2 114.7,85.1 114.4,85.0 114.2,84.9 113.9,84.8 113.7,84.7 113.4,84.6 113.1,84.5 112.9,84.4 112.6,84.3 112.4,84.1 112.1,85.8 111.9,85.7 111.6,85.6 111.4,85.4 111.1,85.3 110.9,85.1 110.6,85.0 110.4,84.9 110.1,84.7 109.8,84.5 109.6,84.4 109.3,84.2 109.1,84.1 108.8,83.9 108.6,83.7 108.3,83.6 108.1,83.4 107.8,83.2 107.6,83.0 107.3,82.9 107.0,82.7 106.8,82.5 106.5,82.3 106.3,82.1 106.0,81.9 105.8,83.4 105.5,83.2 105.3,83.0 105.0,82.8 104.8,82.6 104.5,82.4 104.2,82.1 104.0,81.9 103.7,81.7 103.5,81.5 103.2,81.3 103.0,81.0 102.7,80.8 102.5,80.6 102.2,80.3 102.0,80.1 101.7,79.9 101.5,79.6 101.2,79.4 100.9,79.2 100.7,78.9 100.4,78.7 100.2,78.4 99.9,78.2 99.7,77.9 99.4,77.7 99.2,78.9 98.9,78.6 98.7,78.3 98.4,78.1 98.1,77.8 97.9,77.5 97.6,77.3 97.4,77.0 97.1,76.7 96.9,76.5 96.6,76.2 96.4,75.9 96.1,75.6 95.9,75.4 95.6,75.1 95.3,74.8 95.1,74.5 94.8,74.3 94.6,74.0 94.3,73.7 94.1,73.4 93.8,73.2 93.6,72.9 93.3,72.6 93.1,72.3 92.8,73.1 92.6,72.8 92.3,72.5 92.0,72.2 91.8,72.0 91.5,71.7 91.3,71.4 91.0,71.1 90.8,70.8 90.5,70.5 90.3,70.2 90.0,69.9 89.8,69.6 89.5,69.3 89.2,69.0 89.0,68.7 88.7,68.4 88.5,68.1 88.2,67.8 88.0,67.5 87.7,67.3 87.5,67.0 87.2,66.7 87.0,66.4 86.7,66.1 86.4,65.8 86.2,66.2 85.9,65.9 85.7,65.6 85.4,65.3 85.2,65.0 84.9,64.7 84.7,64.4 84.4,64.1 84.2,63.8 83.9,63.5 83.7,63.2 83.4,62.9 83.1,62.7 82.9,62.4 82.6,62.2 82.4,61.9 82.1,61.7 81.9,61.5 81.6,61.2 81.4,61.0 81.1,60.8 80.9,60.6 80.6,60.4 80.3,60.2 80.1,60.0 79.8,59.2 79.6,58.9 79.3,58.7 79.1,58.5 78.8,58.2 78.6,58.0 78.3,57.8 78.1,57.6 77.8,57.4 77.5,57.2 77.3,57.0 77.0,56.8 76.8,56.6 76.5,56.4 76.3,56.2 76.0,56.0 75.8,55.8 75.5,55.6 75.3,55.4 75.0,55.2 74.8,55.0 74.5,54.9 74.2,54.7 74.0,54.5 73.7,54.3 73.5,54.2 73.2,52.9 73.0,52.7 72.7,52.6 72.5,52.4 72.2,52.2 72.0,52.1 71.7,51.9 71.4,51.7 71.2,51.6 70.9,51.4 70.7,51.3 70.4,51.1 70.2,51.0 69.9,50.8 69.7,50.7 69.4,50.5 69.2,50.4 68.9,50.3 68.6,50.1 68.4,50.0 68.1,49.9 67.9,49.8 67.6,49.7 67.4,49.5 67.1,49.4 66.9,47.9 66.6,47.8 66.4,47.7 66.1,47.6 65.9,47.5 65.6,47.4 65.3,47.3 65.1,47.2 64.8,47.1 64.6,47.0 64.3,46.9 64.1,46.8 63.8,46.8 63.6,46.7 63.3,46.6 63.1,46.5 62.8,46.5 62.5,46.4 62.3,46.3 62.0,46.3 61.8,46.2 61.5,46.2 61.3,46.1 61.0,46.1 60.8,46.0 60.5,44.4 60.3,44.4 60.0,44.3 59.7,44.3 59.5,44.3 59.2,44.2 59.0,44.2 58.7,44.2 58.5,44.2 58.2,44.2 58.0,44.1 57.7,44.1 57.5,44.1 57.2,44.1 57.0,44.1 56.7,44.1 56.4,44.2 56.2,44.2 55.9,44.2 55.7,44.2 55.4,44.2 55.2,44.2 54.9,44.3 54.7,44.3 54.4,44.3 54.2,44.4 53.9,42.7 53.6,42.8 53.4,42.8 53.1,42.9 52.9,42.9 52.6,43.0 52.4,43.0 52.1,43.1 51.9,43.1 51.6,43.2 51.4,43.3 51.1,43.4 50.8,43.4 50.6,43.5 50.3,43.6 50.1,43.7 49.8,43.8 49.6,43.9 49.3,44.0 49.1,44.1 48.8,44.2 48.6,44.3 48.3,44.4 48.1,44.5 47.8,44.6 47.5,43.0 47.3,43.1 47.0,43.3 46.8,43.4 46.5,43.5 46.3,43.6 46.0,43.8 45.8,43.9 45.5,44.1 45.3,44.2 45.0,44.3" fill="#D95319" stroke="#D95319" stroke-width="0.9" stroke-linejoin="round"/>
<path d="M117.30,83.48V99.95M190.44,40.99V16.72M57.30,42.73V34.92" stroke="#D95319" stroke-width="1" fill="none"/>
<path d="M190.44,33.19V61.80M336.60,28.85V22.78" stroke="#4c9be0" stroke-width="1" fill="none"/>
</g>
<path d="M45.00,105.15v-3.0M45.00,18.45v3.0M109.73,105.15v-3.0M109.73,18.45v3.0M174.45,105.15v-3.0M174.45,18.45v3.0M239.18,105.15v-3.0M239.18,18.45v3.0M303.91,105.15v-3.0M303.91,18.45v3.0M368.64,105.15v-3.0M368.64,18.45v3.0M45.0,105.15h3.0M401.0,105.15h-3.0M45.0,61.80h3.0M401.0,61.80h-3.0M45.0,18.45h3.0M401.0,18.45h-3.0" stroke="#555" stroke-width="0.8" fill="none"/>
<rect x="45.0" y="18.45" width="356.0" height="86.7" fill="none" stroke="#7a7a7a" stroke-width="1"/>
<g font-family="Liberation Sans, sans-serif" font-size="8.8" fill="#262626" stroke="#262626" stroke-width="0.18"><text x="45.00" y="118.05" text-anchor="middle">0</text><text x="109.73" y="118.05" text-anchor="middle">0.1</text><text x="174.45" y="118.05" text-anchor="middle">0.2</text><text x="239.18" y="118.05" text-anchor="middle">0.3</text><text x="303.91" y="118.05" text-anchor="middle">0.4</text><text x="368.64" y="118.05" text-anchor="middle">0.5</text><text x="41.5" y="108.55" text-anchor="end">-0.5</text><text x="42.0" y="65.20" text-anchor="end">0</text><text x="41.5" y="21.85" text-anchor="end">0.5</text></g>
<rect x="339.2" y="23.9" width="55.69999999999999" height="37.4" fill="#fff" stroke="#8a8a8a" stroke-width="0.9"/>
<line x1="342" y1="33.8" x2="362.8" y2="33.8" stroke="#80bce8" stroke-width="1.2"/>
<text x="364.8" y="38.20" font-family="Liberation Serif, serif" font-size="16" fill="#111" stroke="#111" stroke-width="0.3"><tspan font-style="italic">i</tspan></text>
<text x="369.90" y="40.20" font-family="Liberation Serif, serif" font-size="11.5" fill="#111" stroke="#111" stroke-width="0.25" textLength="22.20" lengthAdjust="spacingAndGlyphs">main</text>
<line x1="342" y1="51.5" x2="362.8" y2="51.5" stroke="#eea585" stroke-width="1.2"/>
<text x="364.8" y="55.90" font-family="Liberation Serif, serif" font-size="16" fill="#111" stroke="#111" stroke-width="0.3"><tspan font-style="italic">i</tspan></text>
<text x="369.90" y="57.90" font-family="Liberation Serif, serif" font-size="11.5" fill="#111" stroke="#111" stroke-width="0.25" textLength="16.00" lengthAdjust="spacingAndGlyphs">aux</text>
<text x="223" y="12.90" text-anchor="middle" font-family="Liberation Serif, serif" font-size="11.6" fill="#111" stroke="#111" stroke-width="0.28" textLength="70.8" lengthAdjust="spacingAndGlyphs">Phase currents</text>
<text x="223" y="134.25" text-anchor="middle" font-family="Liberation Serif, serif" font-size="15.6" fill="#111" stroke="#111" stroke-width="0.25" textLength="22.3" lengthAdjust="spacingAndGlyphs"><tspan font-style="italic">t</tspan> [s]</text>
<text transform="translate(19.4,62.20) rotate(-90)" text-anchor="middle" font-family="Liberation Serif, serif" font-size="15" fill="#333" stroke="#333" stroke-width="0.05" textLength="42.5" lengthAdjust="spacingAndGlyphs"><tspan font-style="italic">i</tspan>(<tspan font-style="italic">t</tspan>) [A]</text>
<rect x="45.0" y="154.5" width="356.0" height="86.7" fill="#fff"/>
<path d="M57.95,154.50V241.20M70.89,154.50V241.20M83.84,154.50V241.20M96.78,154.50V241.20M122.67,154.50V241.20M135.62,154.50V241.20M148.56,154.50V241.20M161.51,154.50V241.20M187.40,154.50V241.20M200.35,154.50V241.20M213.29,154.50V241.20M226.24,154.50V241.20M252.13,154.50V241.20M265.07,154.50V241.20M278.02,154.50V241.20M290.96,154.50V241.20M316.85,154.50V241.20M329.80,154.50V241.20M342.75,154.50V241.20M355.69,154.50V241.20M381.58,154.50V241.20M394.53,154.50V241.20M45.0,241.20H401.0M45.0,235.01H401.0M45.0,222.62H401.0M45.0,216.43H401.0M45.0,210.24H401.0M45.0,204.04H401.0M45.0,191.66H401.0M45.0,185.46H401.0M45.0,179.27H401.0M45.0,173.08H401.0M45.0,160.69H401.0M45.0,154.50H401.0" stroke="#dcdcdc" stroke-width="0.55" stroke-dasharray="1,1.3" fill="none"/>
<path d="M109.73,154.50V241.20M174.45,154.50V241.20M239.18,154.50V241.20M303.91,154.50V241.20M368.64,154.50V241.20M45.0,228.81H401.0M45.0,197.85H401.0M45.0,166.89H401.0" stroke="#e2e2e2" stroke-width="0.8" fill="none"/>
<g clip-path="url(#c1)">
<polygon points="45.0,203.9 45.3,204.3 45.5,204.6 45.8,205.0 46.0,205.3 46.3,205.6 46.5,206.0 46.8,206.3 47.0,206.6 47.3,207.0 47.5,207.3 47.8,207.6 48.1,208.0 48.3,208.3 48.6,208.6 48.8,209.0 49.1,209.3 49.3,209.6 49.6,210.0 49.8,210.3 50.1,209.7 50.3,210.0 50.6,210.3 50.8,210.6 51.1,210.9 51.4,211.2 51.6,211.5 51.9,211.8 52.1,212.1 52.4,212.4 52.6,212.7 52.9,213.0 53.1,213.3 53.4,213.6 53.6,213.9 53.9,214.2 54.2,214.5 54.4,214.8 54.7,215.1 54.9,215.4 55.2,215.7 55.4,216.0 55.7,216.3 55.9,216.6 56.2,216.8 56.4,217.1 56.7,216.0 57.0,216.2 57.2,216.5 57.5,216.7 57.7,217.0 58.0,217.2 58.2,217.5 58.5,217.7 58.7,218.0 59.0,218.2 59.2,218.5 59.5,218.7 59.7,218.9 60.0,219.2 60.3,219.4 60.5,219.6 60.8,219.9 61.0,220.1 61.3,220.3 61.5,220.5 61.8,220.7 62.0,220.9 62.3,221.1 62.5,221.4 62.8,221.6 63.1,220.0 63.3,220.2 63.6,220.4 63.8,220.6 64.1,220.8 64.3,220.9 64.6,221.1 64.8,221.3 65.1,221.4 65.3,221.6 65.6,221.7 65.9,221.9 66.1,222.0 66.4,222.2 66.6,222.3 66.9,222.5 67.1,222.6 67.4,222.7 67.6,222.9 67.9,223.0 68.1,223.1 68.4,223.2 68.6,223.3 68.9,223.4 69.2,223.5 69.4,223.6 69.7,221.9 69.9,222.0 70.2,222.1 70.4,222.1 70.7,222.2 70.9,222.3 71.2,222.4 71.4,222.4 71.7,222.5 72.0,222.6 72.2,222.6 72.5,222.7 72.7,222.7 73.0,222.7 73.2,222.8 73.5,222.8 73.7,222.8 74.0,222.9 74.2,222.9 74.5,222.9 74.8,222.9 75.0,222.9 75.3,222.9 75.5,222.9 75.8,222.9 76.0,221.1 76.3,221.1 76.5,221.1 76.8,221.0 77.0,221.0 77.3,221.0 77.5,221.0 77.8,220.9 78.1,220.9 78.3,220.8 78.6,220.8 78.8,220.7 79.1,220.7 79.3,220.6 79.6,220.5 79.8,220.5 80.1,220.4 80.3,220.3 80.6,220.2 80.9,220.1 81.1,220.0 81.4,219.9 81.6,219.8 81.9,219.7 82.1,219.6 82.4,219.5 82.6,217.8 82.9,217.7 83.1,217.6 83.4,217.4 83.7,217.3 83.9,217.2 84.2,217.0 84.4,216.9 84.7,216.8 84.9,216.6 85.2,216.5 85.4,216.3 85.7,216.1 85.9,216.0 86.2,215.8 86.4,215.6 86.7,215.4 87.0,215.3 87.2,215.1 87.5,214.9 87.7,214.7 88.0,214.5 88.2,214.3 88.5,214.1 88.7,213.8 89.0,212.4 89.2,212.2 89.5,212.0 89.8,211.8 90.0,211.6 90.3,211.4 90.5,211.2 90.8,210.9 91.0,210.7 91.3,210.5 91.5,210.2 91.8,210.0 92.0,209.7 92.3,209.5 92.6,209.2 92.8,209.0 93.1,208.7 93.3,208.5 93.6,208.2 93.8,207.9 94.1,207.6 94.3,207.4 94.6,207.1 94.8,206.8 95.1,206.5 95.3,206.2 95.6,205.3 95.9,205.0 96.1,204.7 96.4,204.4 96.6,204.1 96.9,203.8 97.1,203.5 97.4,203.3 97.6,203.0 97.9,202.7 98.1,202.4 98.4,202.0 98.7,201.7 98.9,201.4 99.2,201.1 99.4,200.8 99.7,200.5 99.9,200.2 100.2,199.8 100.4,199.5 100.7,199.2 100.9,198.9 101.2,198.6 101.5,198.2 101.7,197.9 102.0,197.5 102.2,197.2 102.5,197.0 102.7,196.7 103.0,196.5 103.2,196.3 103.5,195.8 103.7,195.4 104.0,195.0 104.2,194.5 104.5,194.1 104.8,193.7 105.0,193.3 105.3,192.9 105.5,192.5 105.8,192.2 106.0,191.8 106.3,191.4 106.5,191.1 106.8,190.7 107.0,190.4 107.3,190.0 107.6,189.7 107.8,189.4 108.1,189.0 108.3,188.7 108.6,188.3 108.8,187.9 109.1,187.5 109.3,187.1 109.6,186.7 109.8,186.3 110.1,185.9 110.4,185.5 110.6,185.1 110.9,184.7 111.1,184.3 111.4,184.0 111.6,183.6 111.9,183.3 112.1,182.9 112.4,182.6 112.6,182.3 112.9,182.0 113.1,181.7 113.4,181.5 113.7,181.2 113.9,181.0 114.2,180.7 114.4,180.5 114.7,180.3 114.9,180.0 115.2,179.6 115.4,179.2 115.7,178.7 115.9,178.3 116.2,178.0 116.5,177.6 116.7,177.2 117.0,176.8 117.2,176.5 117.5,176.1 117.7,175.8 118.0,175.5 118.2,175.2 118.5,175.0 118.7,174.7 119.0,174.5 119.3,174.3 119.5,174.1 119.8,173.9 120.0,173.8 120.3,173.6 120.5,173.5 120.8,173.4 121.0,173.3 121.3,173.2 121.5,172.8 121.8,172.4 122.0,172.1 122.3,171.7 122.6,171.3 122.8,171.0 123.1,170.7 123.3,170.4 123.6,170.1 123.8,169.8 124.1,169.6 124.3,169.3 124.6,169.1 124.8,169.0 125.1,168.8 125.4,168.7 125.6,168.6 125.9,168.5 126.1,168.4 126.4,168.4 126.6,168.4 126.9,168.4 127.1,168.4 127.4,168.4 127.6,168.5 127.9,168.3 128.2,168.0 128.4,167.6 128.7,167.4 128.9,167.1 129.2,166.8 129.4,166.6 129.7,166.3 129.9,166.1 130.2,166.0 130.4,165.8 130.7,165.7 130.9,165.6 131.2,165.5 131.5,165.5 131.7,165.4 132.0,165.4 132.2,165.5 132.5,165.5 132.7,165.6 133.0,165.7 133.2,165.8 133.5,166.0 133.7,166.1 134.0,166.3 134.3,166.3 134.5,166.1 134.8,165.9 135.0,165.7 135.3,165.6 135.5,165.4 135.8,165.3 136.0,165.1 136.3,165.0 136.5,165.0 136.8,164.9 137.1,164.9 137.3,164.9 137.6,164.9 137.8,165.0 138.1,165.1 138.3,165.2 138.6,165.3 138.8,165.5 139.1,165.7 139.3,165.9 139.6,166.1 139.8,166.4 140.1,166.6 140.4,166.9 140.6,167.2 140.9,167.1 141.1,167.1 141.4,167.0 141.6,166.9 141.9,166.9 142.1,166.8 142.4,166.8 142.6,166.8 142.9,166.9 143.2,166.9 143.4,167.0 143.7,167.1 143.9,167.3 144.2,167.4 144.4,167.6 144.7,167.8 144.9,168.1 145.2,168.3 145.4,168.6 145.7,168.9 146.0,169.2 146.2,169.6 146.5,169.9 146.7,170.2 147.0,170.6 147.2,170.8 147.5,170.9 147.7,170.9 148.0,171.0 148.2,171.1 148.5,171.2 148.7,171.3 149.0,171.4 149.3,171.5 149.5,171.7 149.8,171.9 150.0,172.1 150.3,172.3 150.5,172.6 150.8,172.9 151.0,173.2 151.3,173.5 151.5,173.8 151.8,174.2 152.1,174.5 152.3,174.9 152.6,175.3 152.8,175.7 153.1,176.1 153.3,176.5 153.6,176.9 153.8,177.1 154.1,177.2 154.3,177.4 154.6,177.6 154.9,177.8 155.1,178.0 155.4,178.2 155.6,178.5 155.9,178.7 156.1,179.0 156.4,179.3 156.6,179.6 156.9,180.0 157.1,180.3 157.4,180.6 157.6,181.0 157.9,181.4 158.2,181.8 158.4,182.2 158.7,182.6 158.9,183.0 159.2,183.4 159.4,183.8 159.7,184.2 159.9,184.6 160.2,185.0 160.4,185.2 160.7,185.5 161.0,185.8 161.2,186.1 161.5,186.4 161.7,186.7 162.0,187.1 162.2,187.4 162.5,187.7 162.7,188.1 163.0,188.5 163.2,188.8 163.5,189.2 163.8,189.6 164.0,190.0 164.3,190.4 164.5,190.8 164.8,191.2 165.0,191.5 165.3,191.9 165.5,192.3 165.8,192.7 166.0,193.1 166.3,193.5 166.5,193.9 166.8,194.3 167.1,194.7 167.3,195.1 167.6,195.5 167.8,196.0 168.1,196.3 168.3,196.6 168.6,196.8 168.8,197.1 169.1,197.3 169.3,197.6 169.6,197.9 169.9,198.2 170.1,198.6 170.4,198.9 170.6,199.2 170.9,199.6 171.1,199.9 171.4,200.3 171.6,200.6 171.9,201.0 172.1,201.3 172.4,201.7 172.7,202.0 172.9,202.4 173.2,202.3 173.4,202.6 173.7,202.9 173.9,203.2 174.2,203.6 174.4,203.9 174.7,204.3 174.9,204.6 175.2,204.9 175.4,205.3 175.7,205.6 176.0,205.9 176.2,206.3 176.5,206.6 176.7,206.9 177.0,207.3 177.2,207.6 177.5,207.9 177.7,208.3 178.0,208.6 178.2,208.9 178.5,209.3 178.8,209.6 179.0,209.9 179.3,210.3 179.5,209.6 179.8,209.9 180.0,210.2 180.3,210.6 180.5,210.9 180.8,211.2 181.0,211.5 181.3,211.8 181.6,212.1 181.8,212.4 182.1,212.7 182.3,213.0 182.6,213.3 182.8,213.6 183.1,213.9 183.3,214.2 183.6,214.5 183.8,214.8 184.1,215.1 184.3,215.4 184.6,215.7 184.9,216.0 185.1,216.2 185.4,216.5 185.6,216.8 185.9,217.1 186.1,215.9 186.4,216.2 186.6,216.5 186.9,216.7 187.1,217.0 187.4,217.2 187.7,217.5 187.9,217.7 188.2,218.0 188.4,218.2 188.7,218.4 188.9,218.7 189.2,218.9 189.4,219.2 189.7,219.4 189.9,219.6 190.2,219.8 190.5,220.1 190.7,220.3 191.0,220.5 191.2,220.7 191.5,220.9 191.7,221.1 192.0,221.3 192.2,221.5 192.5,220.0 192.7,220.2 193.0,220.4 193.2,220.6 193.5,220.7 193.8,220.9 194.0,221.1 194.3,221.2 194.5,221.4 194.8,221.6 195.0,221.7 195.3,221.9 195.5,222.0 195.8,222.2 196.0,222.3 196.3,222.5 196.6,222.6 196.8,222.7 197.1,222.9 197.3,223.0 197.6,223.1 197.8,223.2 198.1,223.3 198.3,223.4 198.6,223.5 198.8,223.6 199.1,221.9 199.4,222.0 199.6,222.1 199.9,222.1 200.1,222.2 200.4,222.3 200.6,222.4 200.9,222.4 201.1,222.5 201.4,222.6 201.6,222.6 201.9,222.7 202.1,222.7 202.4,222.7 202.7,222.8 202.9,222.8 203.2,222.8 203.4,222.9 203.7,222.9 203.9,222.9 204.2,222.9 204.4,222.9 204.7,222.9 204.9,222.9 205.2,222.9 205.5,221.1 205.7,221.1 206.0,221.1 206.2,221.1 206.5,221.0 206.7,221.0 207.0,221.0 207.2,220.9 207.5,220.9 207.7,220.8 208.0,220.8 208.3,220.7 208.5,220.7 208.8,220.6 209.0,220.5 209.3,220.5 209.5,220.4 209.8,220.3 210.0,220.2 210.3,220.1 210.5,220.0 210.8,219.9 211.0,219.8 211.3,219.7 211.6,219.6 211.8,219.5 212.1,217.8 212.3,217.7 212.6,217.6 212.8,217.5 213.1,217.3 213.3,217.2 213.6,217.1 213.8,216.9 214.1,216.8 214.4,216.6 214.6,216.5 214.9,216.3 215.1,216.1 215.4,216.0 215.6,215.8 215.9,215.6 216.1,215.5 216.4,215.3 216.6,215.1 216.9,214.9 217.2,214.7 217.4,214.5 217.7,214.3 217.9,214.1 218.2,213.9 218.4,212.5 218.7,212.3 218.9,212.1 219.2,211.8 219.4,211.6 219.7,211.4 219.9,211.2 220.2,211.0 220.5,210.7 220.7,210.5 221.0,210.3 221.2,210.0 221.5,209.8 221.7,209.5 222.0,209.3 222.2,209.0 222.5,208.7 222.7,208.5 223.0,208.2 223.3,207.9 223.5,207.7 223.8,207.4 224.0,207.1 224.3,206.8 224.5,206.5 224.8,206.2 225.0,205.3 225.3,205.0 225.5,204.7 225.8,204.4 226.1,204.2 226.3,203.9 226.6,203.6 226.8,203.3 227.1,203.0 227.3,202.7 227.6,202.4 227.8,202.1 228.1,201.8 228.3,201.5 228.6,201.1 228.8,200.8 229.1,200.5 229.4,200.2 229.6,199.9 229.9,199.5 230.1,199.2 230.4,198.9 230.6,198.6 230.9,198.3 231.1,197.9 231.4,197.5 231.6,197.2 231.9,197.0 232.2,196.7 232.4,196.5 232.7,196.3 232.9,195.9 233.2,195.4 233.4,195.0 233.7,194.6 233.9,194.2 234.2,193.7 234.4,193.3 234.7,193.0 235.0,192.6 235.2,192.2 235.5,191.8 235.7,191.4 236.0,191.1 236.2,190.7 236.5,190.4 236.7,190.0 237.0,189.7 237.2,189.4 237.5,189.1 237.7,188.8 238.0,188.4 238.3,188.0 238.5,187.5 238.8,187.1 239.0,186.7 239.3,186.3 239.5,185.9 239.8,185.5 240.0,185.1 240.3,184.8 240.5,184.4 240.8,184.0 241.1,183.7 241.3,183.3 241.6,183.0 241.8,182.7 242.1,182.3 242.3,182.1 242.6,181.8 242.8,181.5 243.1,181.2 243.3,181.0 243.6,180.8 243.9,180.5 244.1,180.3 244.4,180.0 244.6,179.6 244.9,179.2 245.1,178.8 245.4,178.4 245.6,178.0 245.9,177.6 246.1,177.2 246.4,176.9 246.6,176.5 246.9,176.2 247.2,175.8 247.4,175.5 247.7,175.3 247.9,175.0 248.2,174.7 248.4,174.5 248.7,174.3 248.9,174.1 249.2,174.0 249.4,173.8 249.7,173.7 250.0,173.5 250.2,173.4 250.5,173.3 250.7,173.2 251.0,172.8 251.2,172.5 251.5,172.1 251.7,171.7 252.0,171.4 252.2,171.0 252.5,170.7 252.8,170.4 253.0,170.1 253.3,169.8 253.5,169.6 253.8,169.4 254.0,169.2 254.3,169.0 254.5,168.8 254.8,168.7 255.0,168.6 255.3,168.5 255.5,168.5 255.8,168.4 256.1,168.4 256.3,168.4 256.6,168.4 256.8,168.4 257.1,168.5 257.3,168.3 257.6,168.0 257.8,167.7 258.1,167.4 258.3,167.1 258.6,166.8 258.9,166.6 259.1,166.4 259.4,166.2 259.6,166.0 259.9,165.8 260.1,165.7 260.4,165.6 260.6,165.5 260.9,165.5 261.1,165.4 261.4,165.4 261.7,165.5 261.9,165.5 262.2,165.6 262.4,165.7 262.7,165.8 262.9,166.0 263.2,166.1 263.4,166.3 263.7,166.4 263.9,166.2 264.2,166.0 264.4,165.8 264.7,165.6 265.0,165.4 265.2,165.3 265.5,165.1 265.7,165.0 266.0,165.0 266.2,164.9 266.5,164.9 266.7,164.9 267.0,164.9 267.2,165.0 267.5,165.1 267.8,165.2 268.0,165.3 268.3,165.5 268.5,165.7 268.8,165.9 269.0,166.1 269.3,166.3 269.5,166.6 269.8,166.9 270.0,167.1 270.3,167.1 270.6,167.1 270.8,167.0 271.1,166.9 271.3,166.9 271.6,166.8 271.8,166.8 272.1,166.8 272.3,166.9 272.6,166.9 272.8,167.0 273.1,167.1 273.3,167.3 273.6,167.4 273.9,167.6 274.1,167.8 274.4,168.1 274.6,168.3 274.9,168.6 275.1,168.9 275.4,169.2 275.6,169.5 275.9,169.9 276.1,170.2 276.4,170.6 276.7,170.8 276.9,170.9 277.2,170.9 277.4,171.0 277.7,171.1 277.9,171.1 278.2,171.3 278.4,171.4 278.7,171.5 278.9,171.7 279.2,171.9 279.5,172.1 279.7,172.3 280.0,172.6 280.2,172.8 280.5,173.1 280.7,173.4 281.0,173.8 281.2,174.1 281.5,174.5 281.7,174.9 282.0,175.2 282.2,175.6 282.5,176.0 282.8,176.4 283.0,176.8 283.3,177.0 283.5,177.2 283.8,177.4 284.0,177.6 284.3,177.8 284.5,178.0 284.8,178.2 285.0,178.5 285.3,178.7 285.6,179.0 285.8,179.3 286.1,179.6 286.3,179.9 286.6,180.3 286.8,180.6 287.1,181.0 287.3,181.4 287.6,181.7 287.8,182.1 288.1,182.5 288.4,182.9 288.6,183.3 288.9,183.8 289.1,184.2 289.4,184.6 289.6,184.9 289.9,185.2 290.1,185.5 290.4,185.8 290.6,186.1 290.9,186.4 291.1,186.7 291.4,187.0 291.7,187.4 291.9,187.7 292.2,188.1 292.4,188.4 292.7,188.8 292.9,189.2 293.2,189.6 293.4,189.9 293.7,190.3 293.9,190.7 294.2,191.1 294.5,191.5 294.7,191.9 295.0,192.3 295.2,192.7 295.5,193.1 295.7,193.5 296.0,193.9 296.2,194.3 296.5,194.7 296.7,195.1 297.0,195.5 297.3,195.9 297.5,196.3 297.8,196.5 298.0,196.8 298.3,197.0 298.5,197.3 298.8,197.6 299.0,197.9 299.3,198.2 299.5,198.5 299.8,198.9 300.0,199.2 300.3,199.5 300.6,199.9 300.8,200.2 301.1,200.6 301.3,200.9 301.6,201.3 301.8,201.6 302.1,202.0 302.3,202.3 302.6,202.2 302.8,202.6 303.1,202.9 303.4,203.2 303.6,203.6 303.9,203.9 304.1,204.2 304.4,204.6 304.6,204.9 304.9,205.2 305.1,205.6 305.4,205.9 305.6,206.2 305.9,206.6 306.2,206.9 306.4,207.2 306.7,207.6 306.9,207.9 307.2,208.2 307.4,208.6 307.7,208.9 307.9,209.3 308.2,209.6 308.4,209.9 308.7,210.3 308.9,210.6 309.2,209.9 309.5,210.2 309.7,210.5 310.0,210.8 310.2,211.1 310.5,211.5 310.7,211.8 311.0,212.1 311.2,212.4 311.5,212.7 311.7,213.0 312.0,213.3 312.3,213.6 312.5,213.9 312.8,214.2 313.0,214.5 313.3,214.8 313.5,215.1 313.8,215.4 314.0,215.6 314.3,215.9 314.5,216.2 314.8,216.5 315.1,216.8 315.3,217.1 315.6,215.9 315.8,216.2 316.1,216.4 316.3,216.7 316.6,216.9 316.8,217.2 317.1,217.4 317.3,217.7 317.6,217.9 317.8,218.2 318.1,218.4 318.4,218.7 318.6,218.9 318.9,219.1 319.1,219.4 319.4,219.6 319.6,219.8 319.9,220.0 320.1,220.3 320.4,220.5 320.6,220.7 320.9,220.9 321.2,221.1 321.4,221.3 321.7,221.5 321.9,220.0 322.2,220.2 322.4,220.4 322.7,220.5 322.9,220.7 323.2,220.9 323.4,221.1 323.7,221.2 324.0,221.4 324.2,221.6 324.5,221.7 324.7,221.9 325.0,222.0 325.2,222.2 325.5,222.3 325.7,222.4 326.0,222.6 326.2,222.7 326.5,222.8 326.7,223.0 327.0,223.1 327.3,223.2 327.5,223.3 327.8,223.4 328.0,223.5 328.3,223.6 328.5,221.9 328.8,222.0 329.0,222.1 329.3,222.1 329.5,222.2 329.8,222.3 330.1,222.4 330.3,222.4 330.6,222.5 330.8,222.5 331.1,222.6 331.3,222.7 331.6,222.7 331.8,222.7 332.1,222.8 332.3,222.8 332.6,222.8 332.9,222.9 333.1,222.9 333.4,222.9 333.6,222.9 333.9,222.9 334.1,222.9 334.4,222.9 334.6,222.9 334.9,221.1 335.1,221.1 335.4,221.1 335.6,221.1 335.9,221.0 336.2,221.0 336.4,221.0 336.7,220.9 336.9,220.9 337.2,220.8 337.4,220.8 337.7,220.7 337.9,220.7 338.2,220.6 338.4,220.6 338.7,220.5 339.0,220.4 339.2,220.3 339.5,220.2 339.7,220.1 340.0,220.1 340.2,220.0 340.5,219.8 340.7,219.7 341.0,219.6 341.2,219.5 341.5,217.8 341.8,217.7 342.0,217.6 342.3,217.5 342.5,217.3 342.8,217.2 343.0,217.1 343.3,216.9 343.5,216.8 343.8,216.6 344.0,216.5 344.3,216.3 344.5,216.2 344.8,216.0 345.1,215.8 345.3,215.7 345.6,215.5 345.8,215.3 346.1,215.1 346.3,214.9 346.6,214.7 346.8,214.5 347.1,214.3 347.3,214.1 347.6,213.9 347.9,212.5 348.1,212.3 348.4,212.1 348.6,211.9 348.9,211.6 349.1,211.4 349.4,211.2 349.6,211.0 349.9,210.7 350.1,210.5 350.4,210.3 350.7,210.0 350.9,209.8 351.2,209.5 351.4,209.3 351.7,209.0 351.9,208.8 352.2,208.5 352.4,208.2 352.7,208.0 352.9,207.7 353.2,207.4 353.4,207.1 353.7,206.9 354.0,206.6 354.2,206.3 354.5,205.3 354.7,205.0 355.0,204.7 355.2,204.5 355.5,204.2 355.7,203.9 356.0,203.6 356.2,203.3 356.5,203.0 356.8,202.7 357.0,202.4 357.3,202.1 357.5,201.8 357.8,201.5 358.0,201.2 358.3,200.9 358.5,200.5 358.8,200.2 359.0,199.9 359.3,199.6 359.6,199.3 359.8,198.9 360.1,198.6 360.3,198.3 360.6,198.0 360.8,197.5 361.1,197.3 361.3,197.0 361.6,196.8 361.8,196.5 362.1,196.3 362.3,195.9 362.6,195.5 362.9,195.0 363.1,194.6 363.4,194.2 363.6,193.8 363.9,193.4 364.1,193.0 364.4,192.6 364.6,192.2 364.9,191.8 365.1,191.5 365.4,191.1 365.7,190.8 365.9,190.4 366.2,190.1 366.4,189.7 366.7,189.4 366.9,189.1 367.2,188.8 367.4,188.4 367.7,188.0 367.9,187.6 368.2,187.2 368.5,186.8 368.7,186.4 369.0,186.0 369.2,185.6 369.5,185.2 369.7,184.8 370.0,184.4 370.2,184.0 370.5,183.7 370.7,183.3 371.0,183.0 371.2,182.7 371.5,182.4 371.8,182.1 372.0,181.8 372.3,181.5 372.5,181.3 372.8,181.0 373.0,180.8 373.3,180.6 373.5,180.3 373.8,180.1 374.0,179.6 374.3,179.2 374.6,178.8 374.8,178.4 375.1,178.0 375.3,177.6 375.6,177.3 375.8,176.9 376.1,176.5 376.3,176.2 376.6,175.9 376.8,175.6 377.1,175.3 377.4,175.0 377.6,174.8 377.9,174.5 378.1,174.3 378.4,174.1 378.6,174.0 378.9,173.8 379.1,173.7 379.4,173.5 379.6,173.4 379.9,173.3 380.1,173.2 380.4,172.9 380.7,172.5 380.9,172.1 381.2,171.8 381.4,171.4 381.7,171.1 381.9,170.7 382.2,170.4 382.4,170.1 382.7,169.9 382.9,169.6 383.2,169.4 383.5,169.2 383.7,169.0 384.0,168.8 384.2,168.7 384.5,168.6 384.7,168.5 385.0,168.5 385.2,168.4 385.5,168.4 385.7,168.4 386.0,168.4 386.3,168.4 386.5,168.5 386.8,168.3 387.0,168.0 387.3,167.7 387.5,167.4 387.8,167.1 388.0,166.9 388.3,166.6 388.5,166.4 388.8,166.2 389.0,166.0 389.3,165.8 389.6,165.7 389.8,165.6 390.1,165.5 390.3,165.5 390.6,165.4 390.8,165.4 391.1,165.5 391.3,165.5 391.6,165.6 391.8,165.7 392.1,165.8 392.4,165.9 392.6,166.1 392.9,166.2 393.1,166.4 393.4,166.2 393.6,166.0 393.9,165.8 394.1,165.6 394.4,165.4 394.6,165.3 394.9,165.1 395.2,165.0 395.4,165.0 395.7,164.9 395.9,164.9 396.2,164.9 396.4,164.9 396.7,165.0 396.9,165.1 397.2,165.2 397.4,165.3 397.7,165.5 397.9,165.7 398.2,165.9 398.5,166.1 398.7,166.3 399.0,166.6 399.2,166.8 399.5,167.1 399.7,167.2 400.0,167.1 400.2,167.0 400.5,166.9 400.7,166.9 401.0,166.8 401.0,174.7 400.7,174.7 400.5,174.7 400.2,174.6 400.0,174.6 399.7,174.6 399.5,172.8 399.2,172.8 399.0,172.8 398.7,172.8 398.5,172.8 398.2,172.8 397.9,172.8 397.7,172.8 397.4,172.9 397.2,172.9 396.9,172.9 396.7,172.9 396.4,173.0 396.2,173.0 395.9,173.1 395.7,173.1 395.4,173.2 395.2,173.2 394.9,173.3 394.6,173.4 394.4,173.5 394.1,173.5 393.9,173.6 393.6,173.7 393.4,173.8 393.1,173.9 392.9,172.1 392.6,172.2 392.4,172.3 392.1,172.4 391.8,172.6 391.6,172.7 391.3,172.8 391.1,172.9 390.8,173.1 390.6,173.2 390.3,173.3 390.1,173.5 389.8,173.6 389.6,173.8 389.3,173.9 389.0,174.1 388.8,174.2 388.5,174.4 388.3,174.6 388.0,174.7 387.8,174.9 387.5,175.1 387.3,175.3 387.0,175.4 386.8,175.6 386.5,174.1 386.3,174.3 386.0,174.5 385.7,174.7 385.5,174.9 385.2,175.1 385.0,175.3 384.7,175.6 384.5,175.8 384.2,176.0 384.0,176.2 383.7,176.5 383.5,176.7 383.2,176.9 382.9,177.2 382.7,177.4 382.4,177.6 382.2,177.9 381.9,178.1 381.7,178.4 381.4,178.6 381.2,178.9 380.9,179.2 380.7,179.4 380.4,179.7 380.1,178.5 379.9,178.8 379.6,179.1 379.4,179.4 379.1,179.6 378.9,179.9 378.6,180.2 378.4,180.5 378.1,180.8 377.9,181.1 377.6,181.4 377.4,181.7 377.1,182.0 376.8,182.3 376.6,182.6 376.3,182.9 376.1,183.2 375.8,183.5 375.6,183.8 375.3,184.1 375.1,184.4 374.8,184.7 374.6,185.0 374.3,185.3 374.0,185.6 373.8,186.0 373.5,185.3 373.3,185.6 373.0,186.0 372.8,186.3 372.5,186.6 372.3,187.0 372.0,187.3 371.8,187.6 371.5,188.0 371.2,188.3 371.0,188.6 370.7,189.0 370.5,189.3 370.2,189.7 370.0,190.0 369.7,190.3 369.5,190.7 369.2,191.0 369.0,191.3 368.7,191.7 368.5,192.0 368.2,192.3 367.9,192.7 367.7,193.0 367.4,193.3 367.2,193.2 366.9,193.6 366.7,193.9 366.4,194.3 366.2,194.6 365.9,195.0 365.7,195.3 365.4,195.7 365.1,196.0 364.9,196.3 364.6,196.7 364.4,197.0 364.1,197.3 363.9,197.7 363.6,198.0 363.4,198.3 363.1,198.5 362.9,198.8 362.6,199.1 362.3,199.3 362.1,199.6 361.8,200.0 361.6,200.4 361.3,200.9 361.1,201.3 360.8,201.6 360.6,202.0 360.3,202.4 360.1,202.8 359.8,203.2 359.6,203.6 359.3,204.0 359.0,204.4 358.8,204.8 358.5,205.2 358.3,205.6 358.0,206.0 357.8,206.4 357.5,206.7 357.3,207.1 357.0,207.5 356.8,207.8 356.5,208.2 356.2,208.5 356.0,208.8 355.7,209.2 355.5,209.5 355.2,209.8 355.0,210.1 354.7,210.4 354.5,210.6 354.2,210.9 354.0,211.3 353.7,211.8 353.4,212.2 353.2,212.6 352.9,213.0 352.7,213.4 352.4,213.8 352.2,214.2 351.9,214.6 351.7,214.9 351.4,215.3 351.2,215.6 350.9,216.0 350.7,216.3 350.4,216.6 350.1,216.9 349.9,217.1 349.6,217.4 349.4,217.6 349.1,217.8 348.9,218.0 348.6,218.2 348.4,218.4 348.1,218.6 347.9,218.7 347.6,219.1 347.3,219.5 347.1,219.9 346.8,220.3 346.6,220.7 346.3,221.0 346.1,221.4 345.8,221.8 345.6,222.1 345.3,222.4 345.1,222.7 344.8,223.0 344.5,223.3 344.3,223.5 344.0,223.7 343.8,223.9 343.5,224.1 343.3,224.3 343.0,224.4 342.8,224.5 342.5,224.6 342.3,224.7 342.0,224.7 341.8,224.8 341.5,224.8 341.2,225.0 341.0,225.3 340.7,225.7 340.5,226.0 340.2,226.3 340.0,226.7 339.7,227.0 339.5,227.3 339.2,227.5 339.0,227.8 338.7,228.0 338.4,228.2 338.2,228.4 337.9,228.5 337.7,228.6 337.4,228.7 337.2,228.8 336.9,228.9 336.7,228.9 336.4,228.9 336.2,228.8 335.9,228.8 335.6,228.7 335.4,228.7 335.1,228.6 334.9,228.5 334.6,228.7 334.4,229.0 334.1,229.2 333.9,229.5 333.6,229.7 333.4,229.9 333.1,230.1 332.9,230.3 332.6,230.5 332.3,230.6 332.1,230.7 331.8,230.8 331.6,230.8 331.3,230.8 331.1,230.8 330.8,230.8 330.6,230.7 330.3,230.6 330.1,230.5 329.8,230.4 329.5,230.2 329.3,230.0 329.0,229.8 328.8,229.6 328.5,229.4 328.3,229.4 328.0,229.5 327.8,229.7 327.5,229.8 327.3,229.9 327.0,230.0 326.7,230.1 326.5,230.2 326.2,230.2 326.0,230.3 325.7,230.3 325.5,230.2 325.2,230.2 325.0,230.1 324.7,229.9 324.5,229.8 324.2,229.6 324.0,229.4 323.7,229.2 323.4,229.0 323.2,228.7 322.9,228.4 322.7,228.2 322.4,227.9 322.2,227.6 321.9,227.2 321.7,227.3 321.4,227.3 321.2,227.3 320.9,227.3 320.6,227.3 320.4,227.3 320.1,227.2 319.9,227.1 319.6,227.1 319.4,226.9 319.1,226.8 318.9,226.6 318.6,226.4 318.4,226.2 318.1,226.0 317.8,225.7 317.6,225.4 317.3,225.1 317.1,224.8 316.8,224.5 316.6,224.1 316.3,223.8 316.1,223.4 315.8,223.0 315.6,222.7 315.3,222.4 315.1,222.3 314.8,222.2 314.5,222.1 314.3,222.0 314.0,221.8 313.8,221.7 313.5,221.5 313.3,221.3 313.0,221.1 312.8,220.8 312.5,220.6 312.3,220.3 312.0,220.0 311.7,219.7 311.5,219.4 311.2,219.0 311.0,218.6 310.7,218.3 310.5,217.9 310.2,217.5 310.0,217.1 309.7,216.7 309.5,216.3 309.2,215.9 308.9,215.5 308.7,215.3 308.4,215.0 308.2,214.8 307.9,214.6 307.7,214.3 307.4,214.1 307.2,213.8 306.9,213.5 306.7,213.2 306.4,212.9 306.2,212.5 305.9,212.2 305.6,211.9 305.4,211.5 305.1,211.1 304.9,210.7 304.6,210.3 304.4,210.0 304.1,209.6 303.9,209.1 303.6,208.7 303.4,208.3 303.1,207.9 302.8,207.5 302.6,207.1 302.3,206.8 302.1,206.5 301.8,206.1 301.6,205.8 301.3,205.5 301.1,205.1 300.8,204.8 300.6,204.4 300.3,204.1 300.0,203.7 299.8,203.3 299.5,202.9 299.3,202.5 299.0,202.1 298.8,201.7 298.5,201.3 298.3,200.9 298.0,200.5 297.8,200.0 297.5,199.6 297.3,199.3 297.0,199.1 296.7,198.8 296.5,198.6 296.2,198.3 296.0,197.9 295.7,197.6 295.5,197.3 295.2,196.9 295.0,196.6 294.7,196.3 294.5,196.0 294.2,195.7 293.9,195.3 293.7,195.0 293.4,194.7 293.2,194.4 292.9,194.1 292.7,193.8 292.4,193.5 292.2,193.2 291.9,192.9 291.7,192.6 291.4,192.3 291.1,192.0 290.9,191.7 290.6,191.4 290.4,191.1 290.1,190.8 289.9,190.5 289.6,190.3 289.4,189.3 289.1,189.0 288.9,188.7 288.6,188.4 288.4,188.2 288.1,187.9 287.8,187.6 287.6,187.3 287.3,187.1 287.1,186.8 286.8,186.6 286.6,186.3 286.3,186.0 286.1,185.8 285.8,185.6 285.6,185.3 285.3,185.1 285.0,184.8 284.8,184.6 284.5,184.4 284.3,184.2 284.0,184.0 283.8,183.7 283.5,183.5 283.3,183.3 283.0,181.9 282.8,181.7 282.5,181.5 282.2,181.3 282.0,181.1 281.7,180.9 281.5,180.7 281.2,180.5 281.0,180.3 280.7,180.1 280.5,180.0 280.2,179.8 280.0,179.6 279.7,179.5 279.5,179.3 279.2,179.1 278.9,179.0 278.7,178.8 278.4,178.7 278.2,178.6 277.9,178.4 277.7,178.3 277.4,178.2 277.2,178.1 276.9,177.9 276.7,177.8 276.4,176.1 276.1,176.0 275.9,175.9 275.6,175.8 275.4,175.7 275.1,175.6 274.9,175.5 274.6,175.4 274.4,175.3 274.1,175.3 273.9,175.2 273.6,175.1 273.3,175.0 273.1,175.0 272.8,174.9 272.6,174.9 272.3,174.8 272.1,174.8 271.8,174.7 271.6,174.7 271.3,174.7 271.1,174.7 270.8,174.6 270.6,174.6 270.3,174.6 270.0,172.8 269.8,172.8 269.5,172.8 269.3,172.8 269.0,172.8 268.8,172.8 268.5,172.8 268.3,172.8 268.0,172.8 267.8,172.9 267.5,172.9 267.2,172.9 267.0,173.0 266.7,173.0 266.5,173.1 266.2,173.1 266.0,173.2 265.7,173.2 265.5,173.3 265.2,173.4 265.0,173.4 264.7,173.5 264.4,173.6 264.2,173.7 263.9,173.8 263.7,173.9 263.4,172.1 263.2,172.2 262.9,172.3 262.7,172.4 262.4,172.5 262.2,172.7 261.9,172.8 261.7,172.9 261.4,173.0 261.1,173.2 260.9,173.3 260.6,173.5 260.4,173.6 260.1,173.7 259.9,173.9 259.6,174.1 259.4,174.2 259.1,174.4 258.9,174.5 258.6,174.7 258.3,174.9 258.1,175.1 257.8,175.2 257.6,175.4 257.3,175.6 257.1,174.1 256.8,174.3 256.6,174.5 256.3,174.7 256.1,174.9 255.8,175.1 255.5,175.3 255.3,175.5 255.0,175.8 254.8,176.0 254.5,176.2 254.3,176.4 254.0,176.7 253.8,176.9 253.5,177.1 253.3,177.4 253.0,177.6 252.8,177.9 252.5,178.1 252.2,178.4 252.0,178.6 251.7,178.9 251.5,179.1 251.2,179.4 251.0,179.6 250.7,179.9 250.5,178.8 250.2,179.0 250.0,179.3 249.7,179.6 249.4,179.9 249.2,180.2 248.9,180.5 248.7,180.8 248.4,181.1 248.2,181.4 247.9,181.7 247.7,182.0 247.4,182.3 247.2,182.6 246.9,182.9 246.6,183.2 246.4,183.5 246.1,183.8 245.9,184.1 245.6,184.4 245.4,184.7 245.1,185.0 244.9,185.3 244.6,185.6 244.4,185.9 244.1,185.3 243.9,185.6 243.6,185.9 243.3,186.3 243.1,186.6 242.8,186.9 242.6,187.3 242.3,187.6 242.1,187.9 241.8,188.3 241.6,188.6 241.3,188.9 241.1,189.3 240.8,189.6 240.5,190.0 240.3,190.3 240.0,190.6 239.8,191.0 239.5,191.3 239.3,191.6 239.0,192.0 238.8,192.3 238.5,192.6 238.3,193.0 238.0,193.3 237.7,193.2 237.5,193.5 237.2,193.9 237.0,194.2 236.7,194.6 236.5,194.9 236.2,195.3 236.0,195.6 235.7,196.0 235.5,196.3 235.2,196.6 235.0,197.0 234.7,197.3 234.4,197.6 234.2,197.9 233.9,198.2 233.7,198.5 233.4,198.8 233.2,199.0 232.9,199.3 232.7,199.5 232.4,200.0 232.2,200.4 231.9,200.8 231.6,201.2 231.4,201.6 231.1,202.0 230.9,202.4 230.6,202.8 230.4,203.2 230.1,203.6 229.9,204.0 229.6,204.4 229.4,204.8 229.1,205.2 228.8,205.5 228.6,205.9 228.3,206.3 228.1,206.7 227.8,207.1 227.6,207.4 227.3,207.8 227.1,208.1 226.8,208.5 226.6,208.8 226.3,209.1 226.1,209.4 225.8,209.7 225.5,210.0 225.3,210.3 225.0,210.6 224.8,210.9 224.5,211.3 224.3,211.7 224.0,212.1 223.8,212.5 223.5,212.9 223.3,213.4 223.0,213.8 222.7,214.1 222.5,214.5 222.2,214.9 222.0,215.2 221.7,215.6 221.5,215.9 221.2,216.2 221.0,216.5 220.7,216.8 220.5,217.1 220.2,217.3 219.9,217.6 219.7,217.8 219.4,218.0 219.2,218.2 218.9,218.4 218.7,218.6 218.4,218.7 218.2,219.1 217.9,219.5 217.7,219.9 217.4,220.2 217.2,220.6 216.9,221.0 216.6,221.4 216.4,221.7 216.1,222.1 215.9,222.4 215.6,222.7 215.4,223.0 215.1,223.3 214.9,223.5 214.6,223.7 214.4,223.9 214.1,224.1 213.8,224.2 213.6,224.4 213.3,224.5 213.1,224.6 212.8,224.7 212.6,224.7 212.3,224.8 212.1,224.8 211.8,224.9 211.6,225.3 211.3,225.6 211.0,226.0 210.8,226.3 210.5,226.6 210.3,226.9 210.0,227.2 209.8,227.5 209.5,227.8 209.3,228.0 209.0,228.2 208.8,228.4 208.5,228.5 208.3,228.6 208.0,228.7 207.7,228.8 207.5,228.8 207.2,228.9 207.0,228.9 206.7,228.9 206.5,228.8 206.2,228.8 206.0,228.7 205.7,228.6 205.5,228.5 205.2,228.7 204.9,229.0 204.7,229.2 204.4,229.5 204.2,229.7 203.9,229.9 203.7,230.1 203.4,230.3 203.2,230.4 202.9,230.6 202.7,230.7 202.4,230.8 202.1,230.8 201.9,230.8 201.6,230.8 201.4,230.8 201.1,230.7 200.9,230.6 200.6,230.5 200.4,230.4 200.1,230.2 199.9,230.0 199.6,229.9 199.4,229.7 199.1,229.4 198.8,229.4 198.6,229.5 198.3,229.7 198.1,229.8 197.8,229.9 197.6,230.0 197.3,230.1 197.1,230.2 196.8,230.2 196.6,230.3 196.3,230.3 196.0,230.2 195.8,230.2 195.5,230.1 195.3,230.0 195.0,229.8 194.8,229.6 194.5,229.5 194.3,229.2 194.0,229.0 193.8,228.7 193.5,228.5 193.2,228.2 193.0,227.9 192.7,227.6 192.5,227.3 192.2,227.3 192.0,227.3 191.7,227.3 191.5,227.3 191.2,227.3 191.0,227.3 190.7,227.2 190.5,227.2 190.2,227.1 189.9,226.9 189.7,226.8 189.4,226.6 189.2,226.5 188.9,226.2 188.7,226.0 188.4,225.7 188.2,225.5 187.9,225.2 187.7,224.9 187.4,224.5 187.1,224.2 186.9,223.8 186.6,223.4 186.4,223.1 186.1,222.7 185.9,222.4 185.6,222.3 185.4,222.2 185.1,222.1 184.9,222.0 184.6,221.8 184.3,221.7 184.1,221.5 183.8,221.3 183.6,221.1 183.3,220.8 183.1,220.6 182.8,220.3 182.6,220.0 182.3,219.7 182.1,219.4 181.8,219.0 181.6,218.7 181.3,218.3 181.0,217.9 180.8,217.5 180.5,217.1 180.3,216.7 180.0,216.3 179.8,215.9 179.5,215.5 179.3,215.3 179.0,215.1 178.8,214.8 178.5,214.6 178.2,214.3 178.0,214.1 177.7,213.8 177.5,213.5 177.2,213.2 177.0,212.9 176.7,212.6 176.5,212.2 176.2,211.9 176.0,211.5 175.7,211.2 175.4,210.8 175.2,210.4 174.9,210.0 174.7,209.6 174.4,209.2 174.2,208.8 173.9,208.4 173.7,208.0 173.4,207.6 173.2,207.2 172.9,206.8 172.7,206.5 172.4,206.2 172.1,205.8 171.9,205.5 171.6,205.2 171.4,204.8 171.1,204.5 170.9,204.1 170.6,203.7 170.4,203.3 170.1,203.0 169.9,202.6 169.6,202.2 169.3,201.8 169.1,201.4 168.8,200.9 168.6,200.5 168.3,200.1 168.1,199.6 167.8,199.3 167.6,199.1 167.3,198.8 167.1,198.6 166.8,198.3 166.5,197.9 166.3,197.6 166.0,197.3 165.8,197.0 165.5,196.7 165.3,196.3 165.0,196.0 164.8,195.7 164.5,195.4 164.3,195.0 164.0,194.7 163.8,194.4 163.5,194.1 163.2,193.8 163.0,193.5 162.7,193.2 162.5,192.9 162.2,192.6 162.0,192.3 161.7,192.0 161.5,191.7 161.2,191.4 161.0,191.1 160.7,190.8 160.4,190.6 160.2,190.3 159.9,189.3 159.7,189.0 159.4,188.7 159.2,188.5 158.9,188.2 158.7,187.9 158.4,187.6 158.2,187.4 157.9,187.1 157.6,186.8 157.4,186.6 157.1,186.3 156.9,186.1 156.6,185.8 156.4,185.6 156.1,185.3 155.9,185.1 155.6,184.9 155.4,184.6 155.1,184.4 154.9,184.2 154.6,184.0 154.3,183.8 154.1,183.6 153.8,183.3 153.6,182.0 153.3,181.7 153.1,181.5 152.8,181.3 152.6,181.1 152.3,180.9 152.1,180.7 151.8,180.5 151.5,180.3 151.3,180.2 151.0,180.0 150.8,179.8 150.5,179.6 150.3,179.5 150.0,179.3 149.8,179.2 149.5,179.0 149.3,178.9 149.0,178.7 148.7,178.6 148.5,178.4 148.2,178.3 148.0,178.2 147.7,178.1 147.5,178.0 147.2,177.8 147.0,176.1 146.7,176.0 146.5,175.9 146.2,175.8 146.0,175.7 145.7,175.6 145.4,175.5 145.2,175.4 144.9,175.3 144.7,175.3 144.4,175.2 144.2,175.1 143.9,175.1 143.7,175.0 143.4,174.9 143.2,174.9 142.9,174.8 142.6,174.8 142.4,174.8 142.1,174.7 141.9,174.7 141.6,174.7 141.4,174.6 141.1,174.6 140.9,174.6 140.6,172.8 140.4,172.8 140.1,172.8 139.8,172.8 139.6,172.8 139.3,172.8 139.1,172.8 138.8,172.8 138.6,172.8 138.3,172.9 138.1,172.9 137.8,172.9 137.6,173.0 137.3,173.0 137.1,173.1 136.8,173.1 136.5,173.2 136.3,173.2 136.0,173.3 135.8,173.4 135.5,173.4 135.3,173.5 135.0,173.6 134.8,173.7 134.5,173.8 134.3,173.9 134.0,172.1 133.7,172.2 133.5,172.3 133.2,172.4 133.0,172.5 132.7,172.7 132.5,172.8 132.2,172.9 132.0,173.0 131.7,173.2 131.5,173.3 131.2,173.4 130.9,173.6 130.7,173.7 130.4,173.9 130.2,174.0 129.9,174.2 129.7,174.4 129.4,174.5 129.2,174.7 128.9,174.9 128.7,175.0 128.4,175.2 128.2,175.4 127.9,175.6 127.6,174.1 127.4,174.3 127.1,174.5 126.9,174.7 126.6,174.9 126.4,175.1 126.1,175.3 125.9,175.5 125.6,175.7 125.4,176.0 125.1,176.2 124.8,176.4 124.6,176.7 124.3,176.9 124.1,177.1 123.8,177.4 123.6,177.6 123.3,177.8 123.1,178.1 122.8,178.3 122.6,178.6 122.3,178.9 122.0,179.1 121.8,179.4 121.5,179.6 121.3,179.9 121.0,178.7 120.8,179.0 120.5,179.3 120.3,179.6 120.0,179.9 119.8,180.2 119.5,180.5 119.3,180.7 119.0,181.0 118.7,181.3 118.5,181.6 118.2,181.9 118.0,182.2 117.7,182.5 117.5,182.8 117.2,183.1 117.0,183.4 116.7,183.7 116.5,184.0 116.2,184.4 115.9,184.7 115.7,185.0 115.4,185.3 115.2,185.6 114.9,185.9 114.7,185.2 114.4,185.6 114.2,185.9 113.9,186.2 113.7,186.6 113.4,186.9 113.1,187.2 112.9,187.6 112.6,187.9 112.4,188.2 112.1,188.6 111.9,188.9 111.6,189.3 111.4,189.6 111.1,189.9 110.9,190.3 110.6,190.6 110.4,190.9 110.1,191.3 109.8,191.6 109.6,191.9 109.3,192.3 109.1,192.6 108.8,192.9 108.6,193.3 108.3,193.6 108.1,193.5 107.8,193.8 107.6,194.2 107.3,194.5 107.0,194.9 106.8,195.2 106.5,195.6 106.3,195.9 106.0,196.3 105.8,196.6 105.5,196.9 105.3,197.3 105.0,197.6 104.8,197.9 104.5,198.2 104.2,198.5 104.0,198.8 103.7,199.0 103.5,199.3 103.2,199.5 103.0,199.9 102.7,200.4 102.5,200.8 102.2,201.2 102.0,201.6 101.7,202.0 101.5,202.3 101.2,202.7 100.9,203.1 100.7,203.5 100.4,203.9 100.2,204.3 99.9,204.7 99.7,205.1 99.4,205.5 99.2,205.9 98.9,206.3 98.7,206.7 98.4,207.0 98.1,207.4 97.9,207.8 97.6,208.1 97.4,208.5 97.1,208.8 96.9,209.1 96.6,209.4 96.4,209.7 96.1,210.0 95.9,210.3 95.6,210.6 95.3,210.9 95.1,211.3 94.8,211.7 94.6,212.1 94.3,212.5 94.1,212.9 93.8,213.3 93.6,213.7 93.3,214.1 93.1,214.5 92.8,214.9 92.6,215.2 92.3,215.6 92.0,215.9 91.8,216.2 91.5,216.5 91.3,216.8 91.0,217.1 90.8,217.3 90.5,217.6 90.3,217.8 90.0,218.0 89.8,218.2 89.5,218.4 89.2,218.6 89.0,218.7 88.7,219.0 88.5,219.4 88.2,219.8 88.0,220.2 87.7,220.6 87.5,221.0 87.2,221.3 87.0,221.7 86.7,222.0 86.4,222.4 86.2,222.7 85.9,223.0 85.7,223.2 85.4,223.5 85.2,223.7 84.9,223.9 84.7,224.1 84.4,224.2 84.2,224.4 83.9,224.5 83.7,224.6 83.4,224.7 83.1,224.7 82.9,224.8 82.6,224.8 82.4,224.9 82.1,225.3 81.9,225.6 81.6,226.0 81.4,226.3 81.1,226.6 80.9,226.9 80.6,227.2 80.3,227.5 80.1,227.7 79.8,228.0 79.6,228.2 79.3,228.3 79.1,228.5 78.8,228.6 78.6,228.7 78.3,228.8 78.1,228.8 77.8,228.9 77.5,228.9 77.3,228.9 77.0,228.8 76.8,228.8 76.5,228.7 76.3,228.6 76.0,228.5 75.8,228.7 75.5,228.9 75.3,229.2 75.0,229.4 74.8,229.7 74.5,229.9 74.2,230.1 74.0,230.3 73.7,230.4 73.5,230.6 73.2,230.7 73.0,230.7 72.7,230.8 72.5,230.8 72.2,230.8 72.0,230.8 71.7,230.7 71.4,230.6 71.2,230.5 70.9,230.4 70.7,230.2 70.4,230.1 70.2,229.9 69.9,229.7 69.7,229.5 69.4,229.3 69.2,229.5 68.9,229.7 68.6,229.8 68.4,229.9 68.1,230.0 67.9,230.1 67.6,230.2 67.4,230.2 67.1,230.3 66.9,230.3 66.6,230.2 66.4,230.2 66.1,230.1 65.9,230.0 65.6,229.8 65.3,229.7 65.1,229.5 64.8,229.3 64.6,229.0 64.3,228.8 64.1,228.5 63.8,228.2 63.6,227.9 63.3,227.6 63.1,227.3 62.8,227.3 62.5,227.3 62.3,227.3 62.0,227.3 61.8,227.3 61.5,227.3 61.3,227.2 61.0,227.2 60.8,227.1 60.5,227.0 60.3,226.8 60.0,226.7 59.7,226.5 59.5,226.3 59.2,226.0 59.0,225.8 58.7,225.5 58.5,225.2 58.2,224.9 58.0,224.5 57.7,224.2 57.5,223.8 57.2,223.5 57.0,223.1 56.7,222.7 56.4,222.4 56.2,222.3 55.9,222.2 55.7,222.1 55.4,222.0 55.2,221.8 54.9,221.7 54.7,221.5 54.4,221.3 54.2,221.1 53.9,220.9 53.6,220.6 53.4,220.3 53.1,220.1 52.9,219.7 52.6,219.4 52.4,219.1 52.1,218.7 51.9,218.3 51.6,218.0 51.4,217.6 51.1,217.2 50.8,216.8 50.6,216.4 50.3,215.9 50.1,215.5 49.8,215.3 49.6,215.1 49.3,214.8 49.1,214.6 48.8,214.4 48.6,214.1 48.3,213.8 48.1,213.5 47.8,213.2 47.5,212.9 47.3,212.6 47.0,212.3 46.8,211.9 46.5,211.6 46.3,211.2 46.0,210.8 45.8,210.4 45.5,210.0 45.3,209.6 45.0,209.2" fill="#0072BD" stroke="#0072BD" stroke-width="0.9" stroke-linejoin="round"/>
<path d="M56.52,218.02V213.51M62.99,222.26V216.80M69.47,224.11V218.24M75.94,223.38V217.68M82.41,220.16V215.17M88.89,214.75V210.98M121.25,177.68V182.19M127.72,173.44V178.90M134.19,171.59V177.46M140.67,172.32V178.02M147.14,175.54V180.53M153.61,180.95V184.72M185.98,218.02V213.51M192.45,222.26V216.80M198.92,224.11V218.24M205.39,223.38V217.68M211.87,220.16V215.17M218.34,214.75V210.98M250.70,177.68V182.19M257.18,173.44V178.90M263.65,171.59V177.46M270.12,172.32V178.02M276.59,175.54V180.53M283.07,180.95V184.72M315.43,218.02V213.51M321.90,222.26V216.80M328.38,224.11V218.24M334.85,223.38V217.68M341.32,220.16V215.17M347.79,214.75V210.98M380.16,177.68V182.19M386.63,173.44V178.90M393.10,171.59V177.46M399.58,172.32V178.02" stroke="#5aa2e0" stroke-width="0.9" fill="none"/>
<path d="M190.44,225.72V200.33M190.96,225.72V216.43" stroke="#4a98dc" stroke-width="1" fill="none"/>
<path d="M45.0,207.4L45.3,207.8 45.5,208.1 45.8,208.5 46.0,208.9 46.3,209.2 46.5,209.6 46.8,209.9 47.0,210.3 47.3,210.6 47.5,211.0 47.8,211.3 48.1,211.7 48.3,212.0 48.6,212.3 48.8,212.7 49.1,213.0 49.3,213.3 49.6,213.7 49.8,214.0 50.1,214.3 50.3,214.6 50.6,215.0 50.8,215.3 51.1,215.6 51.4,215.9 51.6,216.2 51.9,216.5 52.1,216.8 52.4,217.1 52.6,217.4 52.9,217.7 53.1,218.0 53.4,218.3 53.6,218.6 53.9,218.9 54.2,219.1 54.4,219.4 54.7,219.7 54.9,220.0 55.2,220.2 55.4,220.5 55.7,220.8 55.9,221.0 56.2,221.3 56.4,221.5 56.7,221.8 57.0,222.0 57.2,222.2 57.5,222.5 57.7,222.7 58.0,222.9 58.2,223.1 58.5,223.4 58.7,223.6 59.0,223.8 59.2,224.0 59.5,224.2 59.7,224.4 60.0,224.6 60.3,224.8 60.5,225.0 60.8,225.1 61.0,225.3 61.3,225.5 61.5,225.7 61.8,225.8 62.0,226.0 62.3,226.2 62.5,226.3 62.8,226.5 63.1,226.6 63.3,226.7 63.6,226.9 63.8,227.0 64.1,227.1 64.3,227.3 64.6,227.4 64.8,227.5 65.1,227.6 65.3,227.7 65.6,227.8 65.9,227.9 66.1,228.0 66.4,228.1 66.6,228.1 66.9,228.2 67.1,228.3 67.4,228.4 67.6,228.4 67.9,228.5 68.1,228.5 68.4,228.6 68.6,228.6 68.9,228.7 69.2,228.7 69.4,228.7 69.7,228.8 69.9,228.8 70.2,228.8 70.4,228.8 70.7,228.8 70.9,228.8 71.2,228.8 71.4,228.8 71.7,228.8 72.0,228.8 72.2,228.8 72.5,228.7 72.7,228.7 73.0,228.7 73.2,228.6 73.5,228.6 73.7,228.5 74.0,228.5 74.2,228.4 74.5,228.3 74.8,228.3 75.0,228.2 75.3,228.1 75.5,228.0 75.8,228.0 76.0,227.9 76.3,227.8 76.5,227.7 76.8,227.6 77.0,227.4 77.3,227.3 77.5,227.2 77.8,227.1 78.1,227.0 78.3,226.8 78.6,226.7 78.8,226.5 79.1,226.4 79.3,226.3 79.6,226.1 79.8,225.9 80.1,225.8 80.3,225.6 80.6,225.4 80.9,225.3 81.1,225.1 81.4,224.9 81.6,224.7 81.9,224.5 82.1,224.3 82.4,224.1 82.6,223.9 82.9,223.7 83.1,223.5 83.4,223.3 83.7,223.1 83.9,222.8 84.2,222.6 84.4,222.4 84.7,222.1 84.9,221.9 85.2,221.7 85.4,221.4 85.7,221.2 85.9,220.9 86.2,220.7 86.4,220.4 86.7,220.1 87.0,219.9 87.2,219.6 87.5,219.3 87.7,219.0 88.0,218.8 88.2,218.5 88.5,218.2 88.7,217.9 89.0,217.6 89.2,217.3 89.5,217.0 89.8,216.7 90.0,216.4 90.3,216.1 90.5,215.8 90.8,215.5 91.0,215.2 91.3,214.9 91.5,214.5 91.8,214.2 92.0,213.9 92.3,213.6 92.6,213.2 92.8,212.9 93.1,212.6 93.3,212.2 93.6,211.9 93.8,211.5 94.1,211.2 94.3,210.8 94.6,210.5 94.8,210.1 95.1,209.8 95.3,209.4 95.6,209.1 95.9,208.7 96.1,208.4 96.4,208.0 96.6,207.6 96.9,207.3 97.1,206.9 97.4,206.6 97.6,206.2 97.9,205.8 98.1,205.4 98.4,205.1 98.7,204.7 98.9,204.3 99.2,204.0 99.4,203.6 99.7,203.2 99.9,202.8 100.2,202.5 100.4,202.1 100.7,201.7 100.9,201.3 101.2,200.9 101.5,200.6 101.7,200.2 102.0,199.8 102.2,199.4 102.5,199.0 102.7,198.6 103.0,198.3 103.2,197.9 103.5,197.5 103.7,197.1 104.0,196.7 104.2,196.4 104.5,196.0 104.8,195.6 105.0,195.2 105.3,194.8 105.5,194.5 105.8,194.1 106.0,193.7 106.3,193.3 106.5,192.9 106.8,192.6 107.0,192.2 107.3,191.8 107.6,191.4 107.8,191.1 108.1,190.7 108.3,190.3 108.6,189.9 108.8,189.6 109.1,189.2 109.3,188.8 109.6,188.5 109.8,188.1 110.1,187.8 110.4,187.4 110.6,187.0 110.9,186.7 111.1,186.3 111.4,186.0 111.6,185.6 111.9,185.3 112.1,184.9 112.4,184.6 112.6,184.2 112.9,183.9 113.1,183.5 113.4,183.2 113.7,182.9 113.9,182.5 114.2,182.2 114.4,181.9 114.7,181.6 114.9,181.2 115.2,180.9 115.4,180.6 115.7,180.3 115.9,180.0 116.2,179.6 116.5,179.3 116.7,179.0 117.0,178.7 117.2,178.4 117.5,178.1 117.7,177.8 118.0,177.6 118.2,177.3 118.5,177.0 118.7,176.7 119.0,176.4 119.3,176.2 119.5,175.9 119.8,175.6 120.0,175.3 120.3,175.1 120.5,174.8 120.8,174.6 121.0,174.3 121.3,174.1 121.5,173.8 121.8,173.6 122.0,173.4 122.3,173.1 122.6,172.9 122.8,172.7 123.1,172.5 123.3,172.2 123.6,172.0 123.8,171.8 124.1,171.6 124.3,171.4 124.6,171.2 124.8,171.0 125.1,170.8 125.4,170.6 125.6,170.5 125.9,170.3 126.1,170.1 126.4,170.0 126.6,169.8 126.9,169.6 127.1,169.5 127.4,169.3 127.6,169.2 127.9,169.0 128.2,168.9 128.4,168.8 128.7,168.6 128.9,168.5 129.2,168.4 129.4,168.3 129.7,168.2 129.9,168.1 130.2,168.0 130.4,167.9 130.7,167.8 130.9,167.7 131.2,167.6 131.5,167.5 131.7,167.4 132.0,167.4 132.2,167.3 132.5,167.2 132.7,167.2 133.0,167.1 133.2,167.1 133.5,167.1 133.7,167.0 134.0,167.0 134.3,167.0 134.5,166.9 134.8,166.9 135.0,166.9 135.3,166.9 135.5,166.9 135.8,166.9 136.0,166.9 136.3,166.9 136.5,166.9 136.8,166.9 137.1,167.0 137.3,167.0 137.6,167.0 137.8,167.1 138.1,167.1 138.3,167.2 138.6,167.2 138.8,167.3 139.1,167.3 139.3,167.4 139.6,167.5 139.8,167.5 140.1,167.6 140.4,167.7 140.6,167.8 140.9,167.9 141.1,168.0 141.4,168.1 141.6,168.2 141.9,168.3 142.1,168.4 142.4,168.5 142.6,168.7 142.9,168.8 143.2,168.9 143.4,169.1 143.7,169.2 143.9,169.4 144.2,169.5 144.4,169.7 144.7,169.8 144.9,170.0 145.2,170.2 145.4,170.3 145.7,170.5 146.0,170.7 146.2,170.9 146.5,171.1 146.7,171.3 147.0,171.5 147.2,171.7 147.5,171.9 147.7,172.1 148.0,172.3 148.2,172.5 148.5,172.7 148.7,173.0 149.0,173.2 149.3,173.4 149.5,173.7 149.8,173.9 150.0,174.1 150.3,174.4 150.5,174.6 150.8,174.9 151.0,175.2 151.3,175.4 151.5,175.7 151.8,176.0 152.1,176.2 152.3,176.5 152.6,176.8 152.8,177.1 153.1,177.3 153.3,177.6 153.6,177.9 153.8,178.2 154.1,178.5 154.3,178.8 154.6,179.1 154.9,179.4 155.1,179.7 155.4,180.0 155.6,180.4 155.9,180.7 156.1,181.0 156.4,181.3 156.6,181.6 156.9,182.0 157.1,182.3 157.4,182.6 157.6,183.0 157.9,183.3 158.2,183.6 158.4,184.0 158.7,184.3 158.9,184.7 159.2,185.0 159.4,185.4 159.7,185.7 159.9,186.1 160.2,186.4 160.4,186.8 160.7,187.1 161.0,187.5 161.2,187.9 161.5,188.2 161.7,188.6 162.0,188.9 162.2,189.3 162.5,189.7 162.7,190.0 163.0,190.4 163.2,190.8 163.5,191.2 163.8,191.5 164.0,191.9 164.3,192.3 164.5,192.7 164.8,193.0 165.0,193.4 165.3,193.8 165.5,194.2 165.8,194.6 166.0,194.9 166.3,195.3 166.5,195.7 166.8,196.1 167.1,196.5 167.3,196.8 167.6,197.2 167.8,197.6 168.1,198.0 168.3,198.4 168.6,198.8 168.8,199.1 169.1,199.5 169.3,199.9 169.6,200.3 169.9,200.7 170.1,201.0 170.4,201.4 170.6,201.8 170.9,202.2 171.1,202.6 171.4,202.9 171.6,203.3 171.9,203.7 172.1,204.1 172.4,204.4 172.7,204.8 172.9,205.2 173.2,205.6 173.4,205.9 173.7,206.3 173.9,206.7 174.2,207.0 174.4,207.4 174.7,207.7 174.9,208.1 175.2,208.5 175.4,208.8 175.7,209.2 176.0,209.5 176.2,209.9 176.5,210.2 176.7,210.6 177.0,210.9 177.2,211.3 177.5,211.6 177.7,212.0 178.0,212.3 178.2,212.6 178.5,213.0 178.8,213.3 179.0,213.6 179.3,214.0 179.5,214.3 179.8,214.6 180.0,214.9 180.3,215.3 180.5,215.6 180.8,215.9 181.0,216.2 181.3,216.5 181.6,216.8 181.8,217.1 182.1,217.4 182.3,217.7 182.6,218.0 182.8,218.3 183.1,218.6 183.3,218.8 183.6,219.1 183.8,219.4 184.1,219.7 184.3,219.9 184.6,220.2 184.9,220.5 185.1,220.7 185.4,221.0 185.6,221.2 185.9,221.5 186.1,221.7 186.4,222.0 186.6,222.2 186.9,222.4 187.1,222.7 187.4,222.9 187.7,223.1 187.9,223.3 188.2,223.6 188.4,223.8 188.7,224.0 188.9,224.2 189.2,224.4 189.4,224.6 189.7,224.8 189.9,225.0 190.2,225.1 190.5,225.3 190.7,225.5 191.0,225.7 191.2,225.8 191.5,226.0 191.7,226.1 192.0,226.3 192.2,226.4 192.5,226.6 192.7,226.7 193.0,226.9 193.2,227.0 193.5,227.1 193.8,227.2 194.0,227.4 194.3,227.5 194.5,227.6 194.8,227.7 195.0,227.8 195.3,227.9 195.5,228.0 195.8,228.1 196.0,228.1 196.3,228.2 196.6,228.3 196.8,228.4 197.1,228.4 197.3,228.5 197.6,228.5 197.8,228.6 198.1,228.6 198.3,228.7 198.6,228.7 198.8,228.7 199.1,228.8 199.4,228.8 199.6,228.8 199.9,228.8 200.1,228.8 200.4,228.8 200.6,228.8 200.9,228.8 201.1,228.8 201.4,228.8 201.6,228.8 201.9,228.7 202.1,228.7 202.4,228.7 202.7,228.6 202.9,228.6 203.2,228.5 203.4,228.5 203.7,228.4 203.9,228.3 204.2,228.3 204.4,228.2 204.7,228.1 204.9,228.0 205.2,228.0 205.5,227.9 205.7,227.8 206.0,227.7 206.2,227.6 206.5,227.5 206.7,227.3 207.0,227.2 207.2,227.1 207.5,227.0 207.7,226.8 208.0,226.7 208.3,226.6 208.5,226.4 208.8,226.3 209.0,226.1 209.3,226.0 209.5,225.8 209.8,225.6 210.0,225.5 210.3,225.3 210.5,225.1 210.8,224.9 211.0,224.7 211.3,224.5 211.6,224.3 211.8,224.1 212.1,223.9 212.3,223.7 212.6,223.5 212.8,223.3 213.1,223.1 213.3,222.9 213.6,222.6 213.8,222.4 214.1,222.2 214.4,221.9 214.6,221.7 214.9,221.4 215.1,221.2 215.4,220.9 215.6,220.7 215.9,220.4 216.1,220.2 216.4,219.9 216.6,219.6 216.9,219.3 217.2,219.1 217.4,218.8 217.7,218.5 217.9,218.2 218.2,217.9 218.4,217.6 218.7,217.3 218.9,217.0 219.2,216.7 219.4,216.4 219.7,216.1 219.9,215.8 220.2,215.5 220.5,215.2 220.7,214.9 221.0,214.6 221.2,214.2 221.5,213.9 221.7,213.6 222.0,213.3 222.2,212.9 222.5,212.6 222.7,212.2 223.0,211.9 223.3,211.6 223.5,211.2 223.8,210.9 224.0,210.5 224.3,210.2 224.5,209.8 224.8,209.5 225.0,209.1 225.3,208.8 225.5,208.4 225.8,208.0 226.1,207.7 226.3,207.3 226.6,207.0 226.8,206.6 227.1,206.2 227.3,205.9 227.6,205.5 227.8,205.1 228.1,204.7 228.3,204.4 228.6,204.0 228.8,203.6 229.1,203.2 229.4,202.9 229.6,202.5 229.9,202.1 230.1,201.7 230.4,201.4 230.6,201.0 230.9,200.6 231.1,200.2 231.4,199.8 231.6,199.4 231.9,199.1 232.2,198.7 232.4,198.3 232.7,197.9 232.9,197.5 233.2,197.2 233.4,196.8 233.7,196.4 233.9,196.0 234.2,195.6 234.4,195.2 234.7,194.9 235.0,194.5 235.2,194.1 235.5,193.7 235.7,193.3 236.0,193.0 236.2,192.6 236.5,192.2 236.7,191.8 237.0,191.5 237.2,191.1 237.5,190.7 237.7,190.4 238.0,190.0 238.3,189.6 238.5,189.2 238.8,188.9 239.0,188.5 239.3,188.1 239.5,187.8 239.8,187.4 240.0,187.1 240.3,186.7 240.5,186.4 240.8,186.0 241.1,185.6 241.3,185.3 241.6,184.9 241.8,184.6 242.1,184.3 242.3,183.9 242.6,183.6 242.8,183.2 243.1,182.9 243.3,182.6 243.6,182.2 243.9,181.9 244.1,181.6 244.4,181.3 244.6,180.9 244.9,180.6 245.1,180.3 245.4,180.0 245.6,179.7 245.9,179.4 246.1,179.1 246.4,178.8 246.6,178.5 246.9,178.2 247.2,177.9 247.4,177.6 247.7,177.3 247.9,177.0 248.2,176.7 248.4,176.5 248.7,176.2 248.9,175.9 249.2,175.6 249.4,175.4 249.7,175.1 250.0,174.9 250.2,174.6 250.5,174.3 250.7,174.1 251.0,173.9 251.2,173.6 251.5,173.4 251.7,173.2 252.0,172.9 252.2,172.7 252.5,172.5 252.8,172.3 253.0,172.0 253.3,171.8 253.5,171.6 253.8,171.4 254.0,171.2 254.3,171.0 254.5,170.9 254.8,170.7 255.0,170.5 255.3,170.3 255.5,170.1 255.8,170.0 256.1,169.8 256.3,169.6 256.6,169.5 256.8,169.3 257.1,169.2 257.3,169.0 257.6,168.9 257.8,168.8 258.1,168.6 258.3,168.5 258.6,168.4 258.9,168.3 259.1,168.2 259.4,168.1 259.6,168.0 259.9,167.9 260.1,167.8 260.4,167.7 260.6,167.6 260.9,167.5 261.1,167.4 261.4,167.4 261.7,167.3 261.9,167.3 262.2,167.2 262.4,167.1 262.7,167.1 262.9,167.1 263.2,167.0 263.4,167.0 263.7,167.0 263.9,166.9 264.2,166.9 264.4,166.9 264.7,166.9 265.0,166.9 265.2,166.9 265.5,166.9 265.7,166.9 266.0,166.9 266.2,166.9 266.5,167.0 266.7,167.0 267.0,167.0 267.2,167.1 267.5,167.1 267.8,167.1 268.0,167.2 268.3,167.3 268.5,167.3 268.8,167.4 269.0,167.5 269.3,167.5 269.5,167.6 269.8,167.7 270.0,167.8 270.3,167.9 270.6,168.0 270.8,168.1 271.1,168.2 271.3,168.3 271.6,168.4 271.8,168.5 272.1,168.7 272.3,168.8 272.6,168.9 272.8,169.1 273.1,169.2 273.3,169.4 273.6,169.5 273.9,169.7 274.1,169.8 274.4,170.0 274.6,170.2 274.9,170.3 275.1,170.5 275.4,170.7 275.6,170.9 275.9,171.1 276.1,171.3 276.4,171.4 276.7,171.7 276.9,171.9 277.2,172.1 277.4,172.3 277.7,172.5 277.9,172.7 278.2,172.9 278.4,173.2 278.7,173.4 278.9,173.6 279.2,173.9 279.5,174.1 279.7,174.4 280.0,174.6 280.2,174.9 280.5,175.1 280.7,175.4 281.0,175.7 281.2,175.9 281.5,176.2 281.7,176.5 282.0,176.8 282.2,177.0 282.5,177.3 282.8,177.6 283.0,177.9 283.3,178.2 283.5,178.5 283.8,178.8 284.0,179.1 284.3,179.4 284.5,179.7 284.8,180.0 285.0,180.3 285.3,180.6 285.6,181.0 285.8,181.3 286.1,181.6 286.3,181.9 286.6,182.3 286.8,182.6 287.1,182.9 287.3,183.3 287.6,183.6 287.8,183.9 288.1,184.3 288.4,184.6 288.6,185.0 288.9,185.3 289.1,185.7 289.4,186.0 289.6,186.4 289.9,186.7 290.1,187.1 290.4,187.5 290.6,187.8 290.9,188.2 291.1,188.5 291.4,188.9 291.7,189.3 291.9,189.6 292.2,190.0 292.4,190.4 292.7,190.8 292.9,191.1 293.2,191.5 293.4,191.9 293.7,192.3 293.9,192.6 294.2,193.0 294.5,193.4 294.7,193.8 295.0,194.1 295.2,194.5 295.5,194.9 295.7,195.3 296.0,195.7 296.2,196.0 296.5,196.4 296.7,196.8 297.0,197.2 297.3,197.6 297.5,198.0 297.8,198.3 298.0,198.7 298.3,199.1 298.5,199.5 298.8,199.9 299.0,200.2 299.3,200.6 299.5,201.0 299.8,201.4 300.0,201.8 300.3,202.1 300.6,202.5 300.8,202.9 301.1,203.3 301.3,203.7 301.6,204.0 301.8,204.4 302.1,204.8 302.3,205.1 302.6,205.5 302.8,205.9 303.1,206.3 303.4,206.6 303.6,207.0 303.9,207.4 304.1,207.7 304.4,208.1 304.6,208.4 304.9,208.8 305.1,209.2 305.4,209.5 305.6,209.9 305.9,210.2 306.2,210.6 306.4,210.9 306.7,211.3 306.9,211.6 307.2,211.9 307.4,212.3 307.7,212.6 307.9,212.9 308.2,213.3 308.4,213.6 308.7,213.9 308.9,214.3 309.2,214.6 309.5,214.9 309.7,215.2 310.0,215.5 310.2,215.9 310.5,216.2 310.7,216.5 311.0,216.8 311.2,217.1 311.5,217.4 311.7,217.7 312.0,218.0 312.3,218.2 312.5,218.5 312.8,218.8 313.0,219.1 313.3,219.4 313.5,219.6 313.8,219.9 314.0,220.2 314.3,220.4 314.5,220.7 314.8,221.0 315.1,221.2 315.3,221.5 315.6,221.7 315.8,222.0 316.1,222.2 316.3,222.4 316.6,222.7 316.8,222.9 317.1,223.1 317.3,223.3 317.6,223.5 317.8,223.7 318.1,224.0 318.4,224.2 318.6,224.4 318.9,224.6 319.1,224.7 319.4,224.9 319.6,225.1 319.9,225.3 320.1,225.5 320.4,225.6 320.6,225.8 320.9,226.0 321.2,226.1 321.4,226.3 321.7,226.4 321.9,226.6 322.2,226.7 322.4,226.9 322.7,227.0 322.9,227.1 323.2,227.2 323.4,227.4 323.7,227.5 324.0,227.6 324.2,227.7 324.5,227.8 324.7,227.9 325.0,228.0 325.2,228.1 325.5,228.1 325.7,228.2 326.0,228.3 326.2,228.4 326.5,228.4 326.7,228.5 327.0,228.5 327.3,228.6 327.5,228.6 327.8,228.7 328.0,228.7 328.3,228.7 328.5,228.8 328.8,228.8 329.0,228.8 329.3,228.8 329.5,228.8 329.8,228.8 330.1,228.8 330.3,228.8 330.6,228.8 330.8,228.8 331.1,228.8 331.3,228.7 331.6,228.7 331.8,228.7 332.1,228.6 332.3,228.6 332.6,228.5 332.9,228.5 333.1,228.4 333.4,228.4 333.6,228.3 333.9,228.2 334.1,228.1 334.4,228.1 334.6,228.0 334.9,227.9 335.1,227.8 335.4,227.7 335.6,227.6 335.9,227.5 336.2,227.4 336.4,227.2 336.7,227.1 336.9,227.0 337.2,226.9 337.4,226.7 337.7,226.6 337.9,226.4 338.2,226.3 338.4,226.1 338.7,226.0 339.0,225.8 339.2,225.6 339.5,225.5 339.7,225.3 340.0,225.1 340.2,224.9 340.5,224.7 340.7,224.6 341.0,224.4 341.2,224.2 341.5,224.0 341.8,223.7 342.0,223.5 342.3,223.3 342.5,223.1 342.8,222.9 343.0,222.7 343.3,222.4 343.5,222.2 343.8,222.0 344.0,221.7 344.3,221.5 344.5,221.2 344.8,221.0 345.1,220.7 345.3,220.4 345.6,220.2 345.8,219.9 346.1,219.6 346.3,219.4 346.6,219.1 346.8,218.8 347.1,218.5 347.3,218.2 347.6,218.0 347.9,217.7 348.1,217.4 348.4,217.1 348.6,216.8 348.9,216.5 349.1,216.2 349.4,215.9 349.6,215.5 349.9,215.2 350.1,214.9 350.4,214.6 350.7,214.3 350.9,213.9 351.2,213.6 351.4,213.3 351.7,212.9 351.9,212.6 352.2,212.3 352.4,211.9 352.7,211.6 352.9,211.3 353.2,210.9 353.4,210.6 353.7,210.2 354.0,209.9 354.2,209.5 354.5,209.2 354.7,208.8 355.0,208.4 355.2,208.1 355.5,207.7 355.7,207.4 356.0,207.0 356.2,206.6 356.5,206.3 356.8,205.9 357.0,205.5 357.3,205.1 357.5,204.8 357.8,204.4 358.0,204.0 358.3,203.7 358.5,203.3 358.8,202.9 359.0,202.5 359.3,202.1 359.6,201.8 359.8,201.4 360.1,201.0 360.3,200.6 360.6,200.2 360.8,199.9 361.1,199.5 361.3,199.1 361.6,198.7 361.8,198.3 362.1,198.0 362.3,197.6 362.6,197.2 362.9,196.8 363.1,196.4 363.4,196.0 363.6,195.7 363.9,195.3 364.1,194.9 364.4,194.5 364.6,194.1 364.9,193.8 365.1,193.4 365.4,193.0 365.7,192.6 365.9,192.3 366.2,191.9 366.4,191.5 366.7,191.1 366.9,190.8 367.2,190.4 367.4,190.0 367.7,189.6 367.9,189.3 368.2,188.9 368.5,188.5 368.7,188.2 369.0,187.8 369.2,187.5 369.5,187.1 369.7,186.7 370.0,186.4 370.2,186.0 370.5,185.7 370.7,185.3 371.0,185.0 371.2,184.6 371.5,184.3 371.8,183.9 372.0,183.6 372.3,183.3 372.5,182.9 372.8,182.6 373.0,182.3 373.3,181.9 373.5,181.6 373.8,181.3 374.0,181.0 374.3,180.6 374.6,180.3 374.8,180.0 375.1,179.7 375.3,179.4 375.6,179.1 375.8,178.8 376.1,178.5 376.3,178.2 376.6,177.9 376.8,177.6 377.1,177.3 377.4,177.0 377.6,176.8 377.9,176.5 378.1,176.2 378.4,175.9 378.6,175.7 378.9,175.4 379.1,175.1 379.4,174.9 379.6,174.6 379.9,174.4 380.1,174.1 380.4,173.9 380.7,173.6 380.9,173.4 381.2,173.2 381.4,172.9 381.7,172.7 381.9,172.5 382.2,172.3 382.4,172.1 382.7,171.9 382.9,171.7 383.2,171.4 383.5,171.3 383.7,171.1 384.0,170.9 384.2,170.7 384.5,170.5 384.7,170.3 385.0,170.2 385.2,170.0 385.5,169.8 385.7,169.7 386.0,169.5 386.3,169.4 386.5,169.2 386.8,169.1 387.0,168.9 387.3,168.8 387.5,168.7 387.8,168.5 388.0,168.4 388.3,168.3 388.5,168.2 388.8,168.1 389.0,168.0 389.3,167.9 389.6,167.8 389.8,167.7 390.1,167.6 390.3,167.5 390.6,167.5 390.8,167.4 391.1,167.3 391.3,167.3 391.6,167.2 391.8,167.1 392.1,167.1 392.4,167.1 392.6,167.0 392.9,167.0 393.1,167.0 393.4,166.9 393.6,166.9 393.9,166.9 394.1,166.9 394.4,166.9 394.6,166.9 394.9,166.9 395.2,166.9 395.4,166.9 395.7,166.9 395.9,167.0 396.2,167.0 396.4,167.0 396.7,167.1 396.9,167.1 397.2,167.1 397.4,167.2 397.7,167.3 397.9,167.3 398.2,167.4 398.5,167.4 398.7,167.5 399.0,167.6 399.2,167.7 399.5,167.8 399.7,167.9 400.0,168.0 400.2,168.1 400.5,168.2 400.7,168.3 401.0,168.4" stroke="#D95319" stroke-width="0.95" fill="none"/>
</g>
<path d="M45.00,241.20v-3.0M45.00,154.50v3.0M109.73,241.20v-3.0M109.73,154.50v3.0M174.45,241.20v-3.0M174.45,154.50v3.0M239.18,241.20v-3.0M239.18,154.50v3.0M303.91,241.20v-3.0M303.91,154.50v3.0M368.64,241.20v-3.0M368.64,154.50v3.0M45.0,228.81h3.0M401.0,228.81h-3.0M45.0,197.85h3.0M401.0,197.85h-3.0M45.0,166.89h3.0M401.0,166.89h-3.0" stroke="#555" stroke-width="0.8" fill="none"/>
<rect x="45.0" y="154.50" width="356.0" height="86.7" fill="none" stroke="#7a7a7a" stroke-width="1"/>
<g font-family="Liberation Sans, sans-serif" font-size="8.8" fill="#262626" stroke="#262626" stroke-width="0.18"><text x="45.00" y="254.10" text-anchor="middle">0</text><text x="109.73" y="254.10" text-anchor="middle">0.1</text><text x="174.45" y="254.10" text-anchor="middle">0.2</text><text x="239.18" y="254.10" text-anchor="middle">0.3</text><text x="303.91" y="254.10" text-anchor="middle">0.4</text><text x="368.64" y="254.10" text-anchor="middle">0.5</text><text x="41.5" y="232.21" text-anchor="end">-0.5</text><text x="42.0" y="201.25" text-anchor="end">0</text><text x="41.5" y="170.29" text-anchor="end">0.5</text></g>
<rect x="343.3" y="160.1" width="52.099999999999966" height="36.900000000000006" fill="#fff" stroke="#8a8a8a" stroke-width="0.9"/>
<line x1="346.2" y1="169.9" x2="367.8" y2="169.9" stroke="#80bce8" stroke-width="1.2"/>
<text x="368.8" y="174.30" font-family="Liberation Serif, serif" font-size="16" fill="#111" stroke="#111" stroke-width="0.3"><tspan font-style="italic">i</tspan></text>
<text x="373.50" y="176.30" font-family="Liberation Serif, serif" font-size="11.5" fill="#111" stroke="#111" stroke-width="0.25" textLength="18.70" lengthAdjust="spacingAndGlyphs">com</text>
<line x1="346.2" y1="188.1" x2="367.8" y2="188.1" stroke="#eea585" stroke-width="1.2"/>
<text x="368.8" y="192.50" font-family="Liberation Serif, serif" font-size="16" fill="#111" stroke="#111" stroke-width="0.3"><tspan font-style="italic">i</tspan></text>
<text x="373.50" y="194.50" font-family="Liberation Serif, serif" font-size="11.5" fill="#111" stroke="#111" stroke-width="0.25" textLength="13.20" lengthAdjust="spacingAndGlyphs">set</text>
<text x="223" y="148.95" text-anchor="middle" font-family="Liberation Serif, serif" font-size="11.6" fill="#111" stroke="#111" stroke-width="0.28" textLength="132.0" lengthAdjust="spacingAndGlyphs">Controlled common current</text>
<text x="223" y="270.30" text-anchor="middle" font-family="Liberation Serif, serif" font-size="15.6" fill="#111" stroke="#111" stroke-width="0.25" textLength="22.3" lengthAdjust="spacingAndGlyphs"><tspan font-style="italic">t</tspan> [s]</text>
<text transform="translate(19.4,198.25) rotate(-90)" text-anchor="middle" font-family="Liberation Serif, serif" font-size="15" fill="#333" stroke="#333" stroke-width="0.05" textLength="42.5" lengthAdjust="spacingAndGlyphs"><tspan font-style="italic">i</tspan>(<tspan font-style="italic">t</tspan>) [A]</text>
<rect x="45.0" y="290.45" width="356.0" height="86.7" fill="#fff"/>
<path d="M57.95,290.45V377.15M70.89,290.45V377.15M83.84,290.45V377.15M96.78,290.45V377.15M122.67,290.45V377.15M135.62,290.45V377.15M148.56,290.45V377.15M161.51,290.45V377.15M187.40,290.45V377.15M200.35,290.45V377.15M213.29,290.45V377.15M226.24,290.45V377.15M252.13,290.45V377.15M265.07,290.45V377.15M278.02,290.45V377.15M290.96,290.45V377.15M316.85,290.45V377.15M329.80,290.45V377.15M342.75,290.45V377.15M355.69,290.45V377.15M381.58,290.45V377.15M394.53,290.45V377.15M45.0,372.81H401.0M45.0,368.48H401.0M45.0,364.14H401.0M45.0,359.81H401.0M45.0,351.14H401.0M45.0,346.81H401.0M45.0,342.47H401.0M45.0,338.13H401.0M45.0,329.46H401.0M45.0,325.13H401.0M45.0,320.79H401.0M45.0,316.46H401.0M45.0,307.79H401.0M45.0,303.45H401.0M45.0,299.12H401.0M45.0,294.78H401.0" stroke="#dcdcdc" stroke-width="0.55" stroke-dasharray="1,1.3" fill="none"/>
<path d="M109.73,290.45V377.15M174.45,290.45V377.15M239.18,290.45V377.15M303.91,290.45V377.15M368.64,290.45V377.15M45.0,355.48H401.0M45.0,333.80H401.0M45.0,312.12H401.0" stroke="#e2e2e2" stroke-width="0.8" fill="none"/>
<g clip-path="url(#c2)">
<polygon id="vcfill" points="45.0,341.6 45.3,341.2 45.5,340.8 45.8,340.4 46.0,340.0 46.3,339.6 46.5,339.2 46.8,338.8 47.0,338.4 47.3,338.0 47.5,337.6 47.8,337.2 48.1,336.8 48.3,336.4 48.6,336.0 48.8,335.6 49.1,335.2 49.3,334.8 49.6,334.3 49.8,333.9 50.1,333.5 50.3,333.1 50.6,332.7 50.8,332.3 51.1,331.9 51.4,331.5 51.6,331.1 51.9,330.7 52.1,330.3 52.4,329.9 52.6,329.5 52.9,329.1 53.1,328.7 53.4,328.3 53.6,327.9 53.9,327.5 54.2,327.1 54.4,326.7 54.7,326.3 54.9,325.9 55.2,325.5 55.4,325.1 55.7,324.7 55.9,324.3 56.2,323.9 56.4,323.5 56.7,323.1 57.0,322.8 57.2,322.4 57.5,322.0 57.7,321.6 58.0,321.2 58.2,320.9 58.5,320.5 58.7,320.1 59.0,319.7 59.2,319.4 59.5,319.0 59.7,318.6 60.0,318.3 60.3,317.9 60.5,317.6 60.8,317.2 61.0,316.9 61.3,316.5 61.5,316.2 61.8,315.8 62.0,315.5 62.3,315.1 62.5,314.8 62.8,314.5 63.1,314.1 63.3,313.8 63.6,313.5 63.8,313.2 64.1,312.9 64.3,312.5 64.6,312.2 64.8,311.9 65.1,311.6 65.3,311.3 65.6,311.0 65.9,310.7 66.1,310.4 66.4,310.1 66.6,309.9 66.9,309.6 67.1,309.3 67.4,309.0 67.6,308.8 67.9,308.5 68.1,308.2 68.4,308.0 68.6,307.7 68.9,307.5 69.2,307.2 69.4,307.0 69.7,306.8 69.9,306.5 70.2,306.3 70.4,306.1 70.7,305.8 70.9,305.6 71.2,305.4 71.4,305.2 71.7,305.0 72.0,304.8 72.2,304.6 72.5,304.4 72.7,304.2 73.0,304.0 73.2,303.9 73.5,303.7 73.7,303.5 74.0,303.4 74.2,303.2 74.5,303.1 74.8,302.9 75.0,302.8 75.3,302.6 75.5,302.5 75.8,302.3 76.0,302.2 76.3,302.1 76.5,302.0 76.8,301.9 77.0,301.8 77.3,301.7 77.5,301.6 77.8,301.5 78.1,301.4 78.3,301.3 78.6,301.2 78.8,301.1 79.1,301.1 79.3,301.0 79.6,301.0 79.8,300.9 80.1,300.9 80.3,300.8 80.6,300.8 80.9,300.7 81.1,300.7 81.4,300.7 81.6,300.7 81.9,300.6 82.1,300.6 82.4,300.6 82.6,300.6 82.9,300.6 83.1,300.7 83.4,300.7 83.7,300.7 83.9,300.7 84.2,300.8 84.4,300.8 84.7,300.8 84.9,300.9 85.2,300.9 85.4,301.0 85.7,301.0 85.9,301.1 86.2,301.2 86.4,301.3 86.7,301.3 87.0,301.4 87.2,301.5 87.5,301.6 87.7,301.7 88.0,301.8 88.2,301.9 88.5,302.0 88.7,302.2 89.0,302.3 89.2,302.4 89.5,302.5 89.8,302.7 90.0,302.8 90.3,303.0 90.5,303.1 90.8,303.3 91.0,303.4 91.3,303.6 91.5,303.8 91.8,304.0 92.0,304.1 92.3,304.3 92.6,304.5 92.8,304.7 93.1,304.9 93.3,305.1 93.6,305.3 93.8,305.5 94.1,305.7 94.3,306.0 94.6,306.2 94.8,306.4 95.1,306.6 95.3,306.9 95.6,307.1 95.9,307.4 96.1,307.6 96.4,307.9 96.6,308.1 96.9,308.4 97.1,308.6 97.4,308.9 97.6,309.2 97.9,309.4 98.1,309.7 98.4,310.0 98.7,310.3 98.9,310.6 99.2,310.9 99.4,311.2 99.7,311.5 99.9,311.8 100.2,312.1 100.4,312.4 100.7,312.7 100.9,313.0 101.2,313.3 101.5,313.7 101.7,314.0 102.0,314.3 102.2,314.6 102.5,315.0 102.7,315.3 103.0,315.6 103.2,316.0 103.5,316.3 103.7,316.7 104.0,317.0 104.2,317.4 104.5,317.7 104.8,318.1 105.0,318.5 105.3,318.8 105.5,319.2 105.8,319.6 106.0,319.9 106.3,320.3 106.5,320.7 106.8,321.0 107.0,321.4 107.3,321.8 107.6,322.2 107.8,322.6 108.1,322.9 108.3,323.3 108.6,323.7 108.8,324.1 109.1,324.5 109.3,324.9 109.6,325.3 109.8,325.7 110.1,326.1 110.4,326.5 110.6,326.9 110.9,327.3 111.1,327.7 111.4,328.1 111.6,328.5 111.9,328.9 112.1,329.3 112.4,329.7 112.6,330.1 112.9,330.5 113.1,330.9 113.4,331.3 113.7,331.7 113.9,332.1 114.2,332.5 114.4,332.9 114.7,333.3 114.9,333.7 115.2,334.1 115.4,334.5 115.7,335.0 115.9,335.4 116.2,335.8 116.5,336.2 116.7,336.6 117.0,337.0 117.2,337.4 117.5,337.8 117.7,338.2 118.0,338.6 118.2,339.0 118.5,339.4 118.7,339.8 119.0,340.2 119.3,340.6 119.5,341.0 119.8,341.4 120.0,341.8 120.3,342.2 120.5,342.6 120.8,343.0 121.0,343.4 121.3,343.8 121.5,344.1 121.8,344.5 122.0,344.9 122.3,345.3 122.6,345.7 122.8,346.1 123.1,346.4 123.3,346.8 123.6,347.2 123.8,347.6 124.1,347.9 124.3,348.3 124.6,348.7 124.8,349.0 125.1,349.4 125.4,349.7 125.6,350.1 125.9,350.5 126.1,350.8 126.4,351.2 126.6,351.5 126.9,351.8 127.1,352.2 127.4,352.5 127.6,352.9 127.9,353.2 128.2,353.5 128.4,353.8 128.7,354.2 128.9,354.5 129.2,354.8 129.4,355.1 129.7,355.4 129.9,355.7 130.2,356.0 130.4,356.3 130.7,356.6 130.9,356.9 131.2,357.2 131.5,357.5 131.7,357.8 132.0,358.1 132.2,358.3 132.5,358.6 132.7,358.9 133.0,359.1 133.2,359.4 133.5,359.7 133.7,359.9 134.0,360.2 134.3,360.4 134.5,360.7 134.8,360.9 135.0,361.1 135.3,361.3 135.5,361.6 135.8,361.8 136.0,362.0 136.3,362.2 136.5,362.4 136.8,362.6 137.1,362.8 137.3,363.0 137.6,363.2 137.8,363.4 138.1,363.6 138.3,363.8 138.6,363.9 138.8,364.1 139.1,364.3 139.3,364.4 139.6,364.6 139.8,364.7 140.1,364.9 140.4,365.0 140.6,365.1 140.9,365.3 141.1,365.4 141.4,365.5 141.6,365.6 141.9,365.8 142.1,365.9 142.4,366.0 142.6,366.1 142.9,366.1 143.2,366.2 143.4,366.3 143.7,366.4 143.9,366.5 144.2,366.5 144.4,366.6 144.7,366.7 144.9,366.7 145.2,366.8 145.4,366.8 145.7,366.8 146.0,366.9 146.2,366.9 146.5,366.9 146.7,366.9 147.0,367.0 147.2,367.0 147.5,367.0 147.7,367.0 148.0,367.0 148.2,366.9 148.5,366.9 148.7,366.9 149.0,366.9 149.3,366.8 149.5,366.8 149.8,366.8 150.0,366.7 150.3,366.7 150.5,366.6 150.8,366.5 151.0,366.5 151.3,366.4 151.5,366.3 151.8,366.2 152.1,366.2 152.3,366.1 152.6,366.0 152.8,365.9 153.1,365.8 153.3,365.7 153.6,365.5 153.8,365.4 154.1,365.3 154.3,365.2 154.6,365.0 154.9,364.9 155.1,364.7 155.4,364.6 155.6,364.4 155.9,364.3 156.1,364.1 156.4,364.0 156.6,363.8 156.9,363.6 157.1,363.4 157.4,363.2 157.6,363.1 157.9,362.9 158.2,362.7 158.4,362.5 158.7,362.3 158.9,362.0 159.2,361.8 159.4,361.6 159.7,361.4 159.9,361.2 160.2,360.9 160.4,360.7 160.7,360.4 161.0,360.2 161.2,360.0 161.5,359.7 161.7,359.4 162.0,359.2 162.2,358.9 162.5,358.7 162.7,358.4 163.0,358.1 163.2,357.8 163.5,357.5 163.8,357.3 164.0,357.0 164.3,356.7 164.5,356.4 164.8,356.1 165.0,355.8 165.3,355.5 165.5,355.2 165.8,354.8 166.0,354.5 166.3,354.2 166.5,353.9 166.8,353.6 167.1,353.2 167.3,352.9 167.6,352.6 167.8,352.2 168.1,351.9 168.3,351.5 168.6,351.2 168.8,350.9 169.1,350.5 169.3,350.1 169.6,349.8 169.9,349.4 170.1,349.1 170.4,348.7 170.6,348.3 170.9,348.0 171.1,347.6 171.4,347.2 171.6,346.9 171.9,346.5 172.1,346.1 172.4,345.7 172.7,345.4 172.9,345.0 173.2,344.6 173.4,344.2 173.7,343.8 173.9,343.4 174.2,343.0 174.4,342.6 174.7,342.3 174.9,341.9 175.2,341.5 175.4,341.1 175.7,340.7 176.0,340.3 176.2,339.9 176.5,339.5 176.7,339.1 177.0,338.7 177.2,338.3 177.5,337.9 177.7,337.5 178.0,337.0 178.2,336.6 178.5,336.2 178.8,335.8 179.0,335.4 179.3,335.0 179.5,334.6 179.8,334.2 180.0,333.8 180.3,333.4 180.5,333.0 180.8,332.6 181.0,332.2 181.3,331.8 181.6,331.4 181.8,330.9 182.1,330.5 182.3,330.1 182.6,329.7 182.8,329.3 183.1,328.9 183.3,328.5 183.6,328.1 183.8,327.7 184.1,327.3 184.3,326.9 184.6,326.5 184.9,326.1 185.1,325.7 185.4,325.3 185.6,324.9 185.9,324.6 186.1,324.2 186.4,323.8 186.6,323.4 186.9,323.0 187.1,322.6 187.4,322.2 187.7,321.8 187.9,321.5 188.2,321.1 188.4,320.7 188.7,320.3 188.9,320.0 189.2,319.6 189.4,319.2 189.7,318.9 189.9,318.5 190.2,318.2 190.5,317.8 190.7,317.4 191.0,317.1 191.2,316.7 191.5,316.4 191.7,316.0 192.0,315.7 192.2,315.4 192.5,315.0 192.7,314.7 193.0,314.4 193.2,314.0 193.5,313.7 193.8,313.4 194.0,313.1 194.3,312.7 194.5,312.4 194.8,312.1 195.0,311.8 195.3,311.5 195.5,311.2 195.8,310.9 196.0,310.6 196.3,310.3 196.6,310.0 196.8,309.8 197.1,309.5 197.3,309.2 197.6,308.9 197.8,308.7 198.1,308.4 198.3,308.1 198.6,307.9 198.8,307.6 199.1,307.4 199.4,307.1 199.6,306.9 199.9,306.7 200.1,306.4 200.4,306.2 200.6,306.0 200.9,305.8 201.1,305.6 201.4,305.3 201.6,305.1 201.9,304.9 202.1,304.7 202.4,304.5 202.7,304.3 202.9,304.2 203.2,304.0 203.4,303.8 203.7,303.6 203.9,303.5 204.2,303.3 204.4,303.1 204.7,303.0 204.9,302.8 205.2,302.7 205.5,302.6 205.7,302.4 206.0,302.3 206.2,302.2 206.5,302.1 206.7,301.9 207.0,301.8 207.2,301.7 207.5,301.6 207.7,301.5 208.0,301.4 208.3,301.3 208.5,301.3 208.8,301.2 209.0,301.1 209.3,301.1 209.5,301.0 209.8,300.9 210.0,300.9 210.3,300.8 210.5,300.8 210.8,300.8 211.0,300.7 211.3,300.7 211.6,300.7 211.8,300.7 212.1,300.6 212.3,300.6 212.6,300.6 212.8,300.6 213.1,300.6 213.3,300.7 213.6,300.7 213.8,300.7 214.1,300.7 214.4,300.8 214.6,300.8 214.9,300.8 215.1,300.9 215.4,300.9 215.6,301.0 215.9,301.1 216.1,301.1 216.4,301.2 216.6,301.3 216.9,301.4 217.2,301.5 217.4,301.5 217.7,301.6 217.9,301.7 218.2,301.9 218.4,302.0 218.7,302.1 218.9,302.2 219.2,302.3 219.4,302.5 219.7,302.6 219.9,302.7 220.2,302.9 220.5,303.0 220.7,303.2 221.0,303.3 221.2,303.5 221.5,303.7 221.7,303.8 222.0,304.0 222.2,304.2 222.5,304.4 222.7,304.6 223.0,304.8 223.3,305.0 223.5,305.2 223.8,305.4 224.0,305.6 224.3,305.8 224.5,306.0 224.8,306.3 225.0,306.5 225.3,306.7 225.5,307.0 225.8,307.2 226.1,307.4 226.3,307.7 226.6,307.9 226.8,308.2 227.1,308.5 227.3,308.7 227.6,309.0 227.8,309.3 228.1,309.5 228.3,309.8 228.6,310.1 228.8,310.4 229.1,310.7 229.4,311.0 229.6,311.3 229.9,311.6 230.1,311.9 230.4,312.2 230.6,312.5 230.9,312.8 231.1,313.1 231.4,313.4 231.6,313.8 231.9,314.1 232.2,314.4 232.4,314.8 232.7,315.1 232.9,315.4 233.2,315.8 233.4,316.1 233.7,316.5 233.9,316.8 234.2,317.2 234.4,317.5 234.7,317.9 235.0,318.2 235.2,318.6 235.5,319.0 235.7,319.3 236.0,319.7 236.2,320.1 236.5,320.4 236.7,320.8 237.0,321.2 237.2,321.6 237.5,321.9 237.7,322.3 238.0,322.7 238.3,323.1 238.5,323.5 238.8,323.9 239.0,324.2 239.3,324.6 239.5,325.0 239.8,325.4 240.0,325.8 240.3,326.2 240.5,326.6 240.8,327.0 241.1,327.4 241.3,327.8 241.6,328.2 241.8,328.6 242.1,329.0 242.3,329.4 242.6,329.8 242.8,330.2 243.1,330.6 243.3,331.0 243.6,331.4 243.9,331.8 244.1,332.3 244.4,332.7 244.6,333.1 244.9,333.5 245.1,333.9 245.4,334.3 245.6,334.7 245.9,335.1 246.1,335.5 246.4,335.9 246.6,336.3 246.9,336.7 247.2,337.1 247.4,337.5 247.7,337.9 247.9,338.3 248.2,338.7 248.4,339.2 248.7,339.6 248.9,340.0 249.2,340.4 249.4,340.8 249.7,341.2 250.0,341.5 250.2,341.9 250.5,342.3 250.7,342.7 251.0,343.1 251.2,343.5 251.5,343.9 251.7,344.3 252.0,344.7 252.2,345.1 252.5,345.4 252.8,345.8 253.0,346.2 253.3,346.6 253.5,346.9 253.8,347.3 254.0,347.7 254.3,348.1 254.5,348.4 254.8,348.8 255.0,349.2 255.3,349.5 255.5,349.9 255.8,350.2 256.1,350.6 256.3,350.9 256.6,351.3 256.8,351.6 257.1,352.0 257.3,352.3 257.6,352.6 257.8,353.0 258.1,353.3 258.3,353.6 258.6,354.0 258.9,354.3 259.1,354.6 259.4,354.9 259.6,355.2 259.9,355.5 260.1,355.8 260.4,356.1 260.6,356.4 260.9,356.7 261.1,357.0 261.4,357.3 261.7,357.6 261.9,357.9 262.2,358.2 262.4,358.4 262.7,358.7 262.9,359.0 263.2,359.2 263.4,359.5 263.7,359.8 263.9,360.0 264.2,360.3 264.4,360.5 264.7,360.7 265.0,361.0 265.2,361.2 265.5,361.4 265.7,361.7 266.0,361.9 266.2,362.1 266.5,362.3 266.7,362.5 267.0,362.7 267.2,362.9 267.5,363.1 267.8,363.3 268.0,363.5 268.3,363.6 268.5,363.8 268.8,364.0 269.0,364.2 269.3,364.3 269.5,364.5 269.8,364.6 270.0,364.8 270.3,364.9 270.6,365.1 270.8,365.2 271.1,365.3 271.3,365.4 271.6,365.6 271.8,365.7 272.1,365.8 272.3,365.9 272.6,366.0 272.8,366.1 273.1,366.2 273.3,366.3 273.6,366.3 273.9,366.4 274.1,366.5 274.4,366.6 274.6,366.6 274.9,366.7 275.1,366.7 275.4,366.8 275.6,366.8 275.9,366.9 276.1,366.9 276.4,366.9 276.7,366.9 276.9,366.9 277.2,367.0 277.4,367.0 277.7,367.0 277.9,367.0 278.2,366.9 278.4,366.9 278.7,366.9 278.9,366.9 279.2,366.9 279.5,366.8 279.7,366.8 280.0,366.7 280.2,366.7 280.5,366.6 280.7,366.6 281.0,366.5 281.2,366.5 281.5,366.4 281.7,366.3 282.0,366.2 282.2,366.1 282.5,366.0 282.8,365.9 283.0,365.8 283.3,365.7 283.5,365.6 283.8,365.5 284.0,365.4 284.3,365.2 284.5,365.1 284.8,365.0 285.0,364.8 285.3,364.7 285.6,364.5 285.8,364.4 286.1,364.2 286.3,364.1 286.6,363.9 286.8,363.7 287.1,363.5 287.3,363.4 287.6,363.2 287.8,363.0 288.1,362.8 288.4,362.6 288.6,362.4 288.9,362.2 289.1,362.0 289.4,361.7 289.6,361.5 289.9,361.3 290.1,361.1 290.4,360.8 290.6,360.6 290.9,360.4 291.1,360.1 291.4,359.9 291.7,359.6 291.9,359.3 292.2,359.1 292.4,358.8 292.7,358.6 292.9,358.3 293.2,358.0 293.4,357.7 293.7,357.4 293.9,357.2 294.2,356.9 294.5,356.6 294.7,356.3 295.0,356.0 295.2,355.7 295.5,355.4 295.7,355.0 296.0,354.7 296.2,354.4 296.5,354.1 296.7,353.8 297.0,353.4 297.3,353.1 297.5,352.8 297.8,352.4 298.0,352.1 298.3,351.8 298.5,351.4 298.8,351.1 299.0,350.7 299.3,350.4 299.5,350.0 299.8,349.7 300.0,349.3 300.3,348.9 300.6,348.6 300.8,348.2 301.1,347.8 301.3,347.5 301.6,347.1 301.8,346.7 302.1,346.4 302.3,346.0 302.6,345.6 302.8,345.2 303.1,344.8 303.4,344.4 303.6,344.1 303.9,343.7 304.1,343.3 304.4,342.9 304.6,342.5 304.9,342.1 305.1,341.7 305.4,341.3 305.6,340.9 305.9,340.5 306.2,340.1 306.4,339.7 306.7,339.3 306.9,338.9 307.2,338.5 307.4,338.1 307.7,337.7 307.9,337.3 308.2,336.9 308.4,336.5 308.7,336.1 308.9,335.7 309.2,335.3 309.5,334.9 309.7,334.5 310.0,334.1 310.2,333.6 310.5,333.2 310.7,332.8 311.0,332.4 311.2,332.0 311.5,331.6 311.7,331.2 312.0,330.8 312.3,330.4 312.5,330.0 312.8,329.6 313.0,329.2 313.3,328.8 313.5,328.4 313.8,328.0 314.0,327.6 314.3,327.2 314.5,326.8 314.8,326.4 315.1,326.0 315.3,325.6 315.6,325.2 315.8,324.8 316.1,324.4 316.3,324.0 316.6,323.6 316.8,323.2 317.1,322.9 317.3,322.5 317.6,322.1 317.8,321.7 318.1,321.3 318.4,321.0 318.6,320.6 318.9,320.2 319.1,319.8 319.4,319.5 319.6,319.1 319.9,318.7 320.1,318.4 320.4,318.0 320.6,317.7 320.9,317.3 321.2,317.0 321.4,316.6 321.7,316.3 321.9,315.9 322.2,315.6 322.4,315.2 322.7,314.9 322.9,314.6 323.2,314.2 323.4,313.9 323.7,313.6 324.0,313.3 324.2,312.9 324.5,312.6 324.7,312.3 325.0,312.0 325.2,311.7 325.5,311.4 325.7,311.1 326.0,310.8 326.2,310.5 326.5,310.2 326.7,309.9 327.0,309.7 327.3,309.4 327.5,309.1 327.8,308.8 328.0,308.6 328.3,308.3 328.5,308.1 328.8,307.8 329.0,307.5 329.3,307.3 329.5,307.1 329.8,306.8 330.1,306.6 330.3,306.4 330.6,306.1 330.8,305.9 331.1,305.7 331.3,305.5 331.6,305.3 331.8,305.1 332.1,304.9 332.3,304.7 332.6,304.5 332.9,304.3 333.1,304.1 333.4,303.9 333.6,303.7 333.9,303.6 334.1,303.4 334.4,303.2 334.6,303.1 334.9,302.9 335.1,302.8 335.4,302.7 335.6,302.5 335.9,302.4 336.2,302.3 336.4,302.1 336.7,302.0 336.9,301.9 337.2,301.8 337.4,301.7 337.7,301.6 337.9,301.5 338.2,301.4 338.4,301.3 338.7,301.2 339.0,301.2 339.2,301.1 339.5,301.0 339.7,301.0 340.0,300.9 340.2,300.9 340.5,300.8 340.7,300.8 341.0,300.7 341.2,300.7 341.5,300.7 341.8,300.7 342.0,300.7 342.3,300.6 342.5,300.6 342.8,300.6 343.0,300.6 343.3,300.7 343.5,300.7 343.8,300.7 344.0,300.7 344.3,300.7 344.5,300.8 344.8,300.8 345.1,300.9 345.3,300.9 345.6,301.0 345.8,301.0 346.1,301.1 346.3,301.2 346.6,301.2 346.8,301.3 347.1,301.4 347.3,301.5 347.6,301.6 347.9,301.7 348.1,301.8 348.4,301.9 348.6,302.0 348.9,302.1 349.1,302.2 349.4,302.4 349.6,302.5 349.9,302.6 350.1,302.8 350.4,302.9 350.7,303.1 350.9,303.2 351.2,303.4 351.4,303.6 351.7,303.7 351.9,303.9 352.2,304.1 352.4,304.3 352.7,304.5 352.9,304.6 353.2,304.8 353.4,305.0 353.7,305.3 354.0,305.5 354.2,305.7 354.5,305.9 354.7,306.1 355.0,306.3 355.2,306.6 355.5,306.8 355.7,307.0 356.0,307.3 356.2,307.5 356.5,307.8 356.8,308.0 357.0,308.3 357.3,308.6 357.5,308.8 357.8,309.1 358.0,309.4 358.3,309.6 358.5,309.9 358.8,310.2 359.0,310.5 359.3,310.8 359.6,311.1 359.8,311.4 360.1,311.7 360.3,312.0 360.6,312.3 360.8,312.6 361.1,312.9 361.3,313.2 361.6,313.6 361.8,313.9 362.1,314.2 362.3,314.5 362.6,314.9 362.9,315.2 363.1,315.6 363.4,315.9 363.6,316.2 363.9,316.6 364.1,316.9 364.4,317.3 364.6,317.6 364.9,318.0 365.1,318.4 365.4,318.7 365.7,319.1 365.9,319.5 366.2,319.8 366.4,320.2 366.7,320.6 366.9,320.9 367.2,321.3 367.4,321.7 367.7,322.1 367.9,322.5 368.2,322.8 368.5,323.2 368.7,323.6 369.0,324.0 369.2,324.4 369.5,324.8 369.7,325.2 370.0,325.6 370.2,326.0 370.5,326.4 370.7,326.8 371.0,327.2 371.2,327.6 371.5,328.0 371.8,328.4 372.0,328.8 372.3,329.2 372.5,329.6 372.8,330.0 373.0,330.4 373.3,330.8 373.5,331.2 373.8,331.6 374.0,332.0 374.3,332.4 374.6,332.8 374.8,333.2 375.1,333.6 375.3,334.0 375.6,334.4 375.8,334.8 376.1,335.3 376.3,335.7 376.6,336.1 376.8,336.5 377.1,336.9 377.4,337.3 377.6,337.7 377.9,338.1 378.1,338.5 378.4,338.9 378.6,339.3 378.9,339.7 379.1,340.1 379.4,340.5 379.6,340.9 379.9,341.3 380.1,341.7 380.4,342.1 380.7,342.5 380.9,342.9 381.2,343.3 381.4,343.7 381.7,344.0 381.9,344.4 382.2,344.8 382.4,345.2 382.7,345.6 382.9,346.0 383.2,346.3 383.5,346.7 383.7,347.1 384.0,347.5 384.2,347.8 384.5,348.2 384.7,348.6 385.0,348.9 385.2,349.3 385.5,349.6 385.7,350.0 386.0,350.4 386.3,350.7 386.5,351.1 386.8,351.4 387.0,351.7 387.3,352.1 387.5,352.4 387.8,352.8 388.0,353.1 388.3,353.4 388.5,353.8 388.8,354.1 389.0,354.4 389.3,354.7 389.6,355.0 389.8,355.3 390.1,355.6 390.3,356.0 390.6,356.3 390.8,356.6 391.1,356.8 391.3,357.1 391.6,357.4 391.8,357.7 392.1,358.0 392.4,358.3 392.6,358.5 392.9,358.8 393.1,359.1 393.4,359.3 393.6,359.6 393.9,359.8 394.1,360.1 394.4,360.3 394.6,360.6 394.9,360.8 395.2,361.1 395.4,361.3 395.7,361.5 395.9,361.7 396.2,362.0 396.4,362.2 396.7,362.4 396.9,362.6 397.2,362.8 397.4,363.0 397.7,363.2 397.9,363.4 398.2,363.5 398.5,363.7 398.7,363.9 399.0,364.1 399.2,364.2 399.5,364.4 399.7,364.5 400.0,364.7 400.2,364.8 400.5,365.0 400.7,365.1 401.0,365.2 401.0,341.8 400.7,341.8 400.5,341.7 400.2,341.7 400.0,341.7 399.7,341.6 399.5,341.6 399.2,341.6 399.0,341.5 398.7,341.5 398.5,341.4 398.2,341.4 397.9,341.3 397.7,341.3 397.4,341.2 397.2,341.2 396.9,341.1 396.7,341.1 396.4,341.0 396.2,341.0 395.9,340.9 395.7,340.9 395.4,340.8 395.2,340.7 394.9,340.7 394.6,340.6 394.4,340.6 394.1,340.5 393.9,340.4 393.6,340.4 393.4,340.3 393.1,340.2 392.9,340.2 392.6,340.1 392.4,340.0 392.1,340.0 391.8,339.9 391.6,339.8 391.3,339.7 391.1,339.7 390.8,339.6 390.6,339.5 390.3,339.4 390.1,339.4 389.8,339.3 389.6,339.2 389.3,339.1 389.0,339.0 388.8,339.0 388.5,338.9 388.3,338.8 388.0,338.7 387.8,338.6 387.5,338.5 387.3,338.5 387.0,338.4 386.8,338.3 386.5,338.2 386.3,338.1 386.0,338.0 385.7,337.9 385.5,337.8 385.2,337.7 385.0,337.7 384.7,337.6 384.5,337.5 384.2,337.4 384.0,337.3 383.7,337.2 383.5,337.1 383.2,337.0 382.9,336.9 382.7,336.8 382.4,336.7 382.2,336.6 381.9,336.5 381.7,336.4 381.4,336.3 381.2,336.2 380.9,336.1 380.7,336.0 380.4,335.9 380.1,335.8 379.9,335.7 379.6,335.6 379.4,335.5 379.1,335.4 378.9,335.3 378.6,335.2 378.4,335.1 378.1,335.0 377.9,334.9 377.6,334.8 377.4,334.7 377.1,334.6 376.8,334.5 376.6,334.4 376.3,334.3 376.1,334.2 375.8,334.1 375.6,334.0 375.3,333.9 375.1,333.8 374.8,333.7 374.6,333.5 374.3,333.4 374.0,333.3 373.8,333.2 373.5,333.1 373.3,333.0 373.0,332.9 372.8,332.8 372.5,332.7 372.3,332.6 372.0,332.5 371.8,332.4 371.5,332.3 371.2,332.2 371.0,332.1 370.7,332.0 370.5,331.9 370.2,331.8 370.0,331.7 369.7,331.6 369.5,331.5 369.2,331.4 369.0,331.3 368.7,331.2 368.5,331.1 368.2,331.0 367.9,330.9 367.7,330.8 367.4,330.7 367.2,330.6 366.9,330.5 366.7,330.4 366.4,330.3 366.2,330.2 365.9,330.1 365.7,330.0 365.4,330.0 365.1,329.9 364.9,329.8 364.6,329.7 364.4,329.6 364.1,329.5 363.9,329.4 363.6,329.3 363.4,329.2 363.1,329.1 362.9,329.1 362.6,329.0 362.3,328.9 362.1,328.8 361.8,328.7 361.6,328.6 361.3,328.6 361.1,328.5 360.8,328.4 360.6,328.3 360.3,328.2 360.1,328.2 359.8,328.1 359.6,328.0 359.3,327.9 359.0,327.9 358.8,327.8 358.5,327.7 358.3,327.6 358.0,327.6 357.8,327.5 357.5,327.4 357.3,327.4 357.0,327.3 356.8,327.2 356.5,327.2 356.2,327.1 356.0,327.0 355.7,327.0 355.5,326.9 355.2,326.9 355.0,326.8 354.7,326.7 354.5,326.7 354.2,326.6 354.0,326.6 353.7,326.5 353.4,326.5 353.2,326.4 352.9,326.4 352.7,326.3 352.4,326.3 352.2,326.2 351.9,326.2 351.7,326.1 351.4,326.1 351.2,326.1 350.9,326.0 350.7,326.0 350.4,325.9 350.1,325.9 349.9,325.9 349.6,325.8 349.4,325.8 349.1,325.8 348.9,325.7 348.6,325.7 348.4,325.7 348.1,325.6 347.9,325.6 347.6,325.6 347.3,325.6 347.1,325.5 346.8,325.5 346.6,325.5 346.3,325.5 346.1,325.5 345.8,325.4 345.6,325.4 345.3,325.4 345.1,325.4 344.8,325.4 344.5,325.4 344.3,325.4 344.0,325.4 343.8,325.4 343.5,325.4 343.3,325.4 343.0,325.3 342.8,325.3 342.5,325.3 342.3,325.3 342.0,325.4 341.8,325.4 341.5,325.4 341.2,325.4 341.0,325.4 340.7,325.4 340.5,325.4 340.2,325.4 340.0,325.4 339.7,325.4 339.5,325.4 339.2,325.5 339.0,325.5 338.7,325.5 338.4,325.5 338.2,325.5 337.9,325.6 337.7,325.6 337.4,325.6 337.2,325.6 336.9,325.7 336.7,325.7 336.4,325.7 336.2,325.8 335.9,325.8 335.6,325.8 335.4,325.9 335.1,325.9 334.9,325.9 334.6,326.0 334.4,326.0 334.1,326.1 333.9,326.1 333.6,326.1 333.4,326.2 333.1,326.2 332.9,326.3 332.6,326.3 332.3,326.4 332.1,326.4 331.8,326.5 331.6,326.5 331.3,326.6 331.1,326.6 330.8,326.7 330.6,326.7 330.3,326.8 330.1,326.9 329.8,326.9 329.5,327.0 329.3,327.0 329.0,327.1 328.8,327.2 328.5,327.2 328.3,327.3 328.0,327.4 327.8,327.4 327.5,327.5 327.3,327.6 327.0,327.6 326.7,327.7 326.5,327.8 326.2,327.9 326.0,327.9 325.7,328.0 325.5,328.1 325.2,328.2 325.0,328.2 324.7,328.3 324.5,328.4 324.2,328.5 324.0,328.6 323.7,328.6 323.4,328.7 323.2,328.8 322.9,328.9 322.7,329.0 322.4,329.1 322.2,329.2 321.9,329.2 321.7,329.3 321.4,329.4 321.2,329.5 320.9,329.6 320.6,329.7 320.4,329.8 320.1,329.9 319.9,330.0 319.6,330.1 319.4,330.1 319.1,330.2 318.9,330.3 318.6,330.4 318.4,330.5 318.1,330.6 317.8,330.7 317.6,330.8 317.3,330.9 317.1,331.0 316.8,331.1 316.6,331.2 316.3,331.3 316.1,331.4 315.8,331.5 315.6,331.6 315.3,331.7 315.1,331.8 314.8,331.9 314.5,332.0 314.3,332.1 314.0,332.2 313.8,332.3 313.5,332.4 313.3,332.5 313.0,332.6 312.8,332.7 312.5,332.8 312.3,332.9 312.0,333.0 311.7,333.1 311.5,333.2 311.2,333.3 311.0,333.4 310.7,333.6 310.5,333.7 310.2,333.8 310.0,333.9 309.7,334.0 309.5,334.1 309.2,334.2 308.9,334.3 308.7,334.4 308.4,334.5 308.2,334.6 307.9,334.7 307.7,334.8 307.4,334.9 307.2,335.0 306.9,335.1 306.7,335.2 306.4,335.3 306.2,335.4 305.9,335.5 305.6,335.6 305.4,335.7 305.1,335.8 304.9,335.9 304.6,336.0 304.4,336.1 304.1,336.2 303.9,336.3 303.6,336.4 303.4,336.5 303.1,336.6 302.8,336.7 302.6,336.8 302.3,336.9 302.1,337.0 301.8,337.1 301.6,337.2 301.3,337.3 301.1,337.4 300.8,337.5 300.6,337.6 300.3,337.7 300.0,337.8 299.8,337.8 299.5,337.9 299.3,338.0 299.0,338.1 298.8,338.2 298.5,338.3 298.3,338.4 298.0,338.5 297.8,338.6 297.5,338.6 297.3,338.7 297.0,338.8 296.7,338.9 296.5,339.0 296.2,339.1 296.0,339.1 295.7,339.2 295.5,339.3 295.2,339.4 295.0,339.5 294.7,339.5 294.5,339.6 294.2,339.7 293.9,339.8 293.7,339.8 293.4,339.9 293.2,340.0 292.9,340.0 292.7,340.1 292.4,340.2 292.2,340.2 291.9,340.3 291.7,340.4 291.4,340.4 291.1,340.5 290.9,340.6 290.6,340.6 290.4,340.7 290.1,340.8 289.9,340.8 289.6,340.9 289.4,340.9 289.1,341.0 288.9,341.0 288.6,341.1 288.4,341.1 288.1,341.2 287.8,341.2 287.6,341.3 287.3,341.3 287.1,341.4 286.8,341.4 286.6,341.5 286.3,341.5 286.1,341.6 285.8,341.6 285.6,341.6 285.3,341.7 285.0,341.7 284.8,341.7 284.5,341.8 284.3,341.8 284.0,341.8 283.8,341.9 283.5,341.9 283.3,341.9 283.0,342.0 282.8,342.0 282.5,342.0 282.2,342.0 282.0,342.1 281.7,342.1 281.5,342.1 281.2,342.1 281.0,342.1 280.7,342.2 280.5,342.2 280.2,342.2 280.0,342.2 279.7,342.2 279.5,342.2 279.2,342.2 278.9,342.2 278.7,342.2 278.4,342.2 278.2,342.2 277.9,342.3 277.7,342.3 277.4,342.3 277.2,342.3 276.9,342.2 276.7,342.2 276.4,342.2 276.1,342.2 275.9,342.2 275.6,342.2 275.4,342.2 275.1,342.2 274.9,342.2 274.6,342.2 274.4,342.2 274.1,342.1 273.9,342.1 273.6,342.1 273.3,342.1 273.1,342.1 272.8,342.0 272.6,342.0 272.3,342.0 272.1,342.0 271.8,341.9 271.6,341.9 271.3,341.9 271.1,341.8 270.8,341.8 270.6,341.8 270.3,341.7 270.0,341.7 269.8,341.7 269.5,341.6 269.3,341.6 269.0,341.5 268.8,341.5 268.5,341.5 268.3,341.4 268.0,341.4 267.8,341.3 267.5,341.3 267.2,341.2 267.0,341.2 266.7,341.1 266.5,341.1 266.2,341.0 266.0,341.0 265.7,340.9 265.5,340.8 265.2,340.8 265.0,340.7 264.7,340.7 264.4,340.6 264.2,340.5 263.9,340.5 263.7,340.4 263.4,340.4 263.2,340.3 262.9,340.2 262.7,340.1 262.4,340.1 262.2,340.0 261.9,339.9 261.7,339.9 261.4,339.8 261.1,339.7 260.9,339.6 260.6,339.6 260.4,339.5 260.1,339.4 259.9,339.3 259.6,339.3 259.4,339.2 259.1,339.1 258.9,339.0 258.6,338.9 258.3,338.9 258.1,338.8 257.8,338.7 257.6,338.6 257.3,338.5 257.1,338.4 256.8,338.3 256.6,338.3 256.3,338.2 256.1,338.1 255.8,338.0 255.5,337.9 255.3,337.8 255.0,337.7 254.8,337.6 254.5,337.5 254.3,337.4 254.0,337.3 253.8,337.2 253.5,337.2 253.3,337.1 253.0,337.0 252.8,336.9 252.5,336.8 252.2,336.7 252.0,336.6 251.7,336.5 251.5,336.4 251.2,336.3 251.0,336.2 250.7,336.1 250.5,336.0 250.2,335.9 250.0,335.8 249.7,335.7 249.4,335.6 249.2,335.5 248.9,335.4 248.7,335.3 248.4,335.2 248.2,335.1 247.9,335.0 247.7,334.9 247.4,334.8 247.2,334.6 246.9,334.5 246.6,334.4 246.4,334.3 246.1,334.2 245.9,334.1 245.6,334.0 245.4,333.9 245.1,333.8 244.9,333.7 244.6,333.6 244.4,333.5 244.1,333.4 243.9,333.3 243.6,333.2 243.3,333.1 243.1,333.0 242.8,332.9 242.6,332.8 242.3,332.7 242.1,332.6 241.8,332.5 241.6,332.4 241.3,332.3 241.1,332.2 240.8,332.1 240.5,332.0 240.3,331.9 240.0,331.8 239.8,331.7 239.5,331.6 239.3,331.5 239.0,331.4 238.8,331.3 238.5,331.2 238.3,331.1 238.0,331.0 237.7,330.9 237.5,330.8 237.2,330.7 237.0,330.6 236.7,330.5 236.5,330.4 236.2,330.3 236.0,330.2 235.7,330.1 235.5,330.0 235.2,329.9 235.0,329.8 234.7,329.7 234.4,329.6 234.2,329.6 233.9,329.5 233.7,329.4 233.4,329.3 233.2,329.2 232.9,329.1 232.7,329.0 232.4,328.9 232.2,328.9 231.9,328.8 231.6,328.7 231.4,328.6 231.1,328.5 230.9,328.5 230.6,328.4 230.4,328.3 230.1,328.2 229.9,328.1 229.6,328.1 229.4,328.0 229.1,327.9 228.8,327.8 228.6,327.8 228.3,327.7 228.1,327.6 227.8,327.5 227.6,327.5 227.3,327.4 227.1,327.3 226.8,327.3 226.6,327.2 226.3,327.1 226.1,327.1 225.8,327.0 225.5,327.0 225.3,326.9 225.0,326.8 224.8,326.8 224.5,326.7 224.3,326.7 224.0,326.6 223.8,326.6 223.5,326.5 223.3,326.5 223.0,326.4 222.7,326.4 222.5,326.3 222.2,326.3 222.0,326.2 221.7,326.2 221.5,326.1 221.2,326.1 221.0,326.0 220.7,326.0 220.5,326.0 220.2,325.9 219.9,325.9 219.7,325.8 219.4,325.8 219.2,325.8 218.9,325.7 218.7,325.7 218.4,325.7 218.2,325.7 217.9,325.6 217.7,325.6 217.4,325.6 217.2,325.6 216.9,325.5 216.6,325.5 216.4,325.5 216.1,325.5 215.9,325.5 215.6,325.4 215.4,325.4 215.1,325.4 214.9,325.4 214.6,325.4 214.4,325.4 214.1,325.4 213.8,325.4 213.6,325.4 213.3,325.4 213.1,325.3 212.8,325.3 212.6,325.3 212.3,325.3 212.1,325.3 211.8,325.4 211.6,325.4 211.3,325.4 211.0,325.4 210.8,325.4 210.5,325.4 210.3,325.4 210.0,325.4 209.8,325.4 209.5,325.4 209.3,325.5 209.0,325.5 208.8,325.5 208.5,325.5 208.3,325.5 208.0,325.5 207.7,325.6 207.5,325.6 207.2,325.6 207.0,325.7 206.7,325.7 206.5,325.7 206.2,325.7 206.0,325.8 205.7,325.8 205.5,325.8 205.2,325.9 204.9,325.9 204.7,325.9 204.4,326.0 204.2,326.0 203.9,326.1 203.7,326.1 203.4,326.2 203.2,326.2 202.9,326.2 202.7,326.3 202.4,326.3 202.1,326.4 201.9,326.4 201.6,326.5 201.4,326.5 201.1,326.6 200.9,326.7 200.6,326.7 200.4,326.8 200.1,326.8 199.9,326.9 199.6,326.9 199.4,327.0 199.1,327.1 198.8,327.1 198.6,327.2 198.3,327.3 198.1,327.3 197.8,327.4 197.6,327.5 197.3,327.5 197.1,327.6 196.8,327.7 196.6,327.7 196.3,327.8 196.0,327.9 195.8,328.0 195.5,328.0 195.3,328.1 195.0,328.2 194.8,328.3 194.5,328.4 194.3,328.4 194.0,328.5 193.8,328.6 193.5,328.7 193.2,328.8 193.0,328.8 192.7,328.9 192.5,329.0 192.2,329.1 192.0,329.2 191.7,329.3 191.5,329.4 191.2,329.4 191.0,329.5 190.7,329.6 190.5,329.7 190.2,329.8 189.9,329.9 189.7,330.0 189.4,330.1 189.2,330.2 188.9,330.3 188.7,330.4 188.4,330.5 188.2,330.6 187.9,330.7 187.7,330.8 187.4,330.9 187.1,330.9 186.9,331.0 186.6,331.1 186.4,331.2 186.1,331.3 185.9,331.4 185.6,331.5 185.4,331.6 185.1,331.7 184.9,331.8 184.6,331.9 184.3,332.0 184.1,332.1 183.8,332.2 183.6,332.4 183.3,332.5 183.1,332.6 182.8,332.7 182.6,332.8 182.3,332.9 182.1,333.0 181.8,333.1 181.6,333.2 181.3,333.3 181.0,333.4 180.8,333.5 180.5,333.6 180.3,333.7 180.0,333.8 179.8,333.9 179.5,334.0 179.3,334.1 179.0,334.2 178.8,334.3 178.5,334.4 178.2,334.5 178.0,334.6 177.7,334.7 177.5,334.8 177.2,334.9 177.0,335.0 176.7,335.1 176.5,335.2 176.2,335.3 176.0,335.4 175.7,335.6 175.4,335.7 175.2,335.8 174.9,335.9 174.7,336.0 174.4,336.1 174.2,336.2 173.9,336.3 173.7,336.4 173.4,336.5 173.2,336.6 172.9,336.6 172.7,336.7 172.4,336.8 172.1,336.9 171.9,337.0 171.6,337.1 171.4,337.2 171.1,337.3 170.9,337.4 170.6,337.5 170.4,337.6 170.1,337.7 169.9,337.8 169.6,337.9 169.3,338.0 169.1,338.1 168.8,338.1 168.6,338.2 168.3,338.3 168.1,338.4 167.8,338.5 167.6,338.6 167.3,338.7 167.1,338.8 166.8,338.8 166.5,338.9 166.3,339.0 166.0,339.1 165.8,339.2 165.5,339.2 165.3,339.3 165.0,339.4 164.8,339.5 164.5,339.6 164.3,339.6 164.0,339.7 163.8,339.8 163.5,339.9 163.2,339.9 163.0,340.0 162.7,340.1 162.5,340.1 162.2,340.2 162.0,340.3 161.7,340.3 161.5,340.4 161.2,340.5 161.0,340.5 160.7,340.6 160.4,340.7 160.2,340.7 159.9,340.8 159.7,340.8 159.4,340.9 159.2,340.9 158.9,341.0 158.7,341.1 158.4,341.1 158.2,341.2 157.9,341.2 157.6,341.3 157.4,341.3 157.1,341.4 156.9,341.4 156.6,341.4 156.4,341.5 156.1,341.5 155.9,341.6 155.6,341.6 155.4,341.7 155.1,341.7 154.9,341.7 154.6,341.8 154.3,341.8 154.1,341.8 153.8,341.9 153.6,341.9 153.3,341.9 153.1,341.9 152.8,342.0 152.6,342.0 152.3,342.0 152.1,342.0 151.8,342.1 151.5,342.1 151.3,342.1 151.0,342.1 150.8,342.1 150.5,342.2 150.3,342.2 150.0,342.2 149.8,342.2 149.5,342.2 149.3,342.2 149.0,342.2 148.7,342.2 148.5,342.2 148.2,342.2 148.0,342.3 147.7,342.3 147.5,342.3 147.2,342.3 147.0,342.3 146.7,342.2 146.5,342.2 146.2,342.2 146.0,342.2 145.7,342.2 145.4,342.2 145.2,342.2 144.9,342.2 144.7,342.2 144.4,342.2 144.2,342.1 143.9,342.1 143.7,342.1 143.4,342.1 143.2,342.1 142.9,342.0 142.6,342.0 142.4,342.0 142.1,342.0 141.9,341.9 141.6,341.9 141.4,341.9 141.1,341.9 140.9,341.8 140.6,341.8 140.4,341.8 140.1,341.7 139.8,341.7 139.6,341.6 139.3,341.6 139.1,341.6 138.8,341.5 138.6,341.5 138.3,341.4 138.1,341.4 137.8,341.3 137.6,341.3 137.3,341.3 137.1,341.2 136.8,341.1 136.5,341.1 136.3,341.0 136.0,341.0 135.8,340.9 135.5,340.9 135.3,340.8 135.0,340.8 134.8,340.7 134.5,340.6 134.3,340.6 134.0,340.5 133.7,340.5 133.5,340.4 133.2,340.3 133.0,340.3 132.7,340.2 132.5,340.1 132.2,340.1 132.0,340.0 131.7,339.9 131.5,339.8 131.2,339.8 130.9,339.7 130.7,339.6 130.4,339.5 130.2,339.5 129.9,339.4 129.7,339.3 129.4,339.2 129.2,339.2 128.9,339.1 128.7,339.0 128.4,338.9 128.2,338.8 127.9,338.7 127.6,338.7 127.4,338.6 127.1,338.5 126.9,338.4 126.6,338.3 126.4,338.2 126.1,338.1 125.9,338.0 125.6,338.0 125.4,337.9 125.1,337.8 124.8,337.7 124.6,337.6 124.3,337.5 124.1,337.4 123.8,337.3 123.6,337.2 123.3,337.1 123.1,337.0 122.8,336.9 122.6,336.8 122.3,336.7 122.0,336.6 121.8,336.5 121.5,336.4 121.3,336.3 121.0,336.2 120.8,336.1 120.5,336.0 120.3,335.9 120.0,335.8 119.8,335.7 119.5,335.6 119.3,335.5 119.0,335.4 118.7,335.3 118.5,335.2 118.2,335.1 118.0,335.0 117.7,334.9 117.5,334.8 117.2,334.7 117.0,334.6 116.7,334.5 116.5,334.4 116.2,334.3 115.9,334.2 115.7,334.1 115.4,334.0 115.2,333.9 114.9,333.8 114.7,333.7 114.4,333.6 114.2,333.5 113.9,333.4 113.7,333.3 113.4,333.2 113.1,333.1 112.9,333.0 112.6,332.9 112.4,332.7 112.1,332.6 111.9,332.5 111.6,332.4 111.4,332.3 111.1,332.2 110.9,332.1 110.6,332.0 110.4,331.9 110.1,331.8 109.8,331.7 109.6,331.6 109.3,331.5 109.1,331.4 108.8,331.3 108.6,331.2 108.3,331.1 108.1,331.0 107.8,330.9 107.6,330.8 107.3,330.7 107.0,330.6 106.8,330.5 106.5,330.5 106.3,330.4 106.0,330.3 105.8,330.2 105.5,330.1 105.3,330.0 105.0,329.9 104.8,329.8 104.5,329.7 104.2,329.6 104.0,329.5 103.7,329.4 103.5,329.3 103.2,329.3 103.0,329.2 102.7,329.1 102.5,329.0 102.2,328.9 102.0,328.8 101.7,328.7 101.5,328.7 101.2,328.6 100.9,328.5 100.7,328.4 100.4,328.3 100.2,328.3 99.9,328.2 99.7,328.1 99.4,328.0 99.2,328.0 98.9,327.9 98.7,327.8 98.4,327.7 98.1,327.7 97.9,327.6 97.6,327.5 97.4,327.5 97.1,327.4 96.9,327.3 96.6,327.3 96.4,327.2 96.1,327.1 95.9,327.1 95.6,327.0 95.3,326.9 95.1,326.9 94.8,326.8 94.6,326.8 94.3,326.7 94.1,326.6 93.8,326.6 93.6,326.5 93.3,326.5 93.1,326.4 92.8,326.4 92.6,326.3 92.3,326.3 92.0,326.2 91.8,326.2 91.5,326.1 91.3,326.1 91.0,326.1 90.8,326.0 90.5,326.0 90.3,325.9 90.0,325.9 89.8,325.9 89.5,325.8 89.2,325.8 89.0,325.8 88.7,325.7 88.5,325.7 88.2,325.7 88.0,325.6 87.7,325.6 87.5,325.6 87.2,325.6 87.0,325.5 86.7,325.5 86.4,325.5 86.2,325.5 85.9,325.5 85.7,325.5 85.4,325.4 85.2,325.4 84.9,325.4 84.7,325.4 84.4,325.4 84.2,325.4 83.9,325.4 83.7,325.4 83.4,325.4 83.1,325.4 82.9,325.3 82.6,325.3 82.4,325.3 82.1,325.3 81.9,325.3 81.6,325.4 81.4,325.4 81.1,325.4 80.9,325.4 80.6,325.4 80.3,325.4 80.1,325.4 79.8,325.4 79.6,325.4 79.3,325.4 79.1,325.5 78.8,325.5 78.6,325.5 78.3,325.5 78.1,325.5 77.8,325.6 77.5,325.6 77.3,325.6 77.0,325.6 76.8,325.7 76.5,325.7 76.3,325.7 76.0,325.8 75.8,325.8 75.5,325.8 75.3,325.9 75.0,325.9 74.8,325.9 74.5,326.0 74.2,326.0 74.0,326.0 73.7,326.1 73.5,326.1 73.2,326.2 73.0,326.2 72.7,326.3 72.5,326.3 72.2,326.4 72.0,326.4 71.7,326.5 71.4,326.5 71.2,326.6 70.9,326.6 70.7,326.7 70.4,326.7 70.2,326.8 69.9,326.8 69.7,326.9 69.4,327.0 69.2,327.0 68.9,327.1 68.6,327.2 68.4,327.2 68.1,327.3 67.9,327.4 67.6,327.4 67.4,327.5 67.1,327.6 66.9,327.6 66.6,327.7 66.4,327.8 66.1,327.8 65.9,327.9 65.6,328.0 65.3,328.1 65.1,328.1 64.8,328.2 64.6,328.3 64.3,328.4 64.1,328.5 63.8,328.5 63.6,328.6 63.3,328.7 63.1,328.8 62.8,328.9 62.5,329.0 62.3,329.0 62.0,329.1 61.8,329.2 61.5,329.3 61.3,329.4 61.0,329.5 60.8,329.6 60.5,329.7 60.3,329.8 60.0,329.8 59.7,329.9 59.5,330.0 59.2,330.1 59.0,330.2 58.7,330.3 58.5,330.4 58.2,330.5 58.0,330.6 57.7,330.7 57.5,330.8 57.2,330.9 57.0,331.0 56.7,331.1 56.4,331.2 56.2,331.3 55.9,331.4 55.7,331.5 55.4,331.6 55.2,331.7 54.9,331.8 54.7,331.9 54.4,332.0 54.2,332.1 53.9,332.2 53.6,332.3 53.4,332.4 53.1,332.5 52.9,332.6 52.6,332.7 52.4,332.8 52.1,332.9 51.9,333.0 51.6,333.1 51.4,333.2 51.1,333.3 50.8,333.4 50.6,333.5 50.3,333.6 50.1,333.7 49.8,333.8 49.6,333.9 49.3,334.0 49.1,334.1 48.8,334.3 48.6,334.4 48.3,334.5 48.1,334.6 47.8,334.7 47.5,334.8 47.3,334.9 47.0,335.0 46.8,335.1 46.5,335.2 46.3,335.3 46.0,335.4 45.8,335.5 45.5,335.6 45.3,335.7 45.0,335.8" fill="#186bb7" stroke="#1b6fba" stroke-width="0.8"/>
<clipPath id="fillclip"><use href="#vcfill"/></clipPath>
<g clip-path="url(#fillclip)"><g stroke="#4590d3" fill="none"><path d="M46.3,335.3V339.0" stroke-width="1.6"/><path d="M53.4,331.8V328.5" stroke-width="2.4"/><path d="M62.9,327.5V317.9" stroke-width="1.6"/><path d="M72.6,325.2V308.1" stroke-width="3.2"/><path d="M81.6,323.6V304.4" stroke-width="1.3"/><path d="M90.7,322.6V307.0" stroke-width="3.5"/><path d="M99.2,327.1V314.9" stroke-width="1.4"/><path d="M108.5,330.5V324.9" stroke-width="2.5"/><path d="M115.6,334.2V334.7" stroke-width="1.2"/><path d="M123.5,338.4V346.5" stroke-width="2.1"/><path d="M133.4,342.5V359.3" stroke-width="2.0"/><path d="M141.5,342.0V364.1" stroke-width="1.4"/><path d="M149.4,342.8V365.5" stroke-width="2.1"/><path d="M158.9,341.6V360.9" stroke-width="2.9"/><path d="M168.4,339.4V349.2" stroke-width="2.8"/><path d="M176.8,335.3V338.1" stroke-width="1.4"/><path d="M185.3,331.0V326.0" stroke-width="1.8"/><path d="M193.4,327.5V314.1" stroke-width="1.9"/><path d="M202.5,324.5V304.7" stroke-width="2.3"/><path d="M211.3,322.0V304.9" stroke-width="2.1"/><path d="M221.5,323.0V306.3" stroke-width="2.6"/><path d="M230.1,327.9V312.2" stroke-width="1.5"/><path d="M237.3,329.7V322.4" stroke-width="2.5"/><path d="M245.3,334.0V334.2" stroke-width="3.2"/><path d="M254.5,339.0V346.6" stroke-width="2.3"/><path d="M264.4,341.7V356.8" stroke-width="3.5"/><path d="M275.5,345.6V365.7" stroke-width="2.9"/><path d="M284.4,342.4V361.1" stroke-width="3.1"/><path d="M294.5,340.3V352.4" stroke-width="2.0"/><path d="M303.9,337.0V342.9" stroke-width="2.6"/><path d="M312.0,333.0V331.0" stroke-width="1.5"/><path d="M320.1,328.8V320.2" stroke-width="1.5"/><path d="M328.6,326.7V311.0" stroke-width="2.4"/><path d="M337.1,324.0V307.6" stroke-width="2.2"/><path d="M347.5,324.0V301.9" stroke-width="3.0"/><path d="M356.3,326.1V309.3" stroke-width="1.8"/><path d="M364.7,328.7V320.7" stroke-width="3.2"/><path d="M373.8,333.0V331.9" stroke-width="1.9"/><path d="M381.1,336.7V342.6" stroke-width="2.0"/><path d="M389.7,340.0V354.8" stroke-width="2.1"/><path d="M399.3,344.4V360.3" stroke-width="3.0"/></g>
<path d="M51.1,335.3V338.4M58.5,332.4V328.5M66.4,328.8V320.4M76.9,326.3V307.5M86.5,325.4V305.6M95.4,326.0V313.9M103.0,328.0V311.7M112.6,331.2V324.7M120.1,334.1V334.8M128.3,337.2V345.3M137.5,340.4V353.5M145.5,341.9V362.5M154.6,342.2V365.3M163.5,341.0V354.9M172.7,338.3V346.9M180.7,335.1V338.9M190.4,331.7V325.7M198.3,328.7V317.5M208.0,326.3V314.0M216.7,325.4V307.8M225.8,326.1V309.1M235.3,328.2V317.1M241.2,330.7V323.0M249.6,333.9V334.2M258.3,337.5V344.6M268.8,340.6V351.3M279.8,342.2V366.3M289.8,341.8V362.3M298.9,339.6V352.9M309.4,336.3V343.2M315.7,333.0V331.0M325.2,329.9V322.8M333.6,327.2V317.1M341.2,325.6V303.2M352.1,325.6V306.5M360.2,327.1V313.9M370.3,329.7V319.1M377.8,333.2V331.7M384.8,336.2V341.6M395.3,339.3V348.9M403.7,341.6V357.2" stroke="#2e7fc7" stroke-width="1.1" fill="none"/></g>
<path d="M62.28,325.13V308.22" stroke="#4c9be0" stroke-width="1" fill="none"/><path d="M55.23,329.46V324.05" stroke="#4c9be0" stroke-width="1" fill="none"/><path d="M105.97,334.88V347.02" stroke="#4c9be0" stroke-width="1" fill="none"/><path d="M114.78,338.13V361.76" stroke="#4c9be0" stroke-width="1" fill="none"/><path d="M119.18,340.30V365.23" stroke="#4c9be0" stroke-width="1" fill="none"/><path d="M179.76,333.80V308.22" stroke="#4c9be0" stroke-width="1" fill="none"/><path d="M190.44,327.30V305.19" stroke="#EDB120" stroke-width="1" fill="none"/><path d="M232.32,329.46V356.34" stroke="#4c9be0" stroke-width="1" fill="none"/><path d="M249.99,335.97V360.24" stroke="#4c9be0" stroke-width="1" fill="none"/><path d="M298.08,338.13V323.40" stroke="#4c9be0" stroke-width="1" fill="none"/><path d="M302.61,339.22V317.54" stroke="#4c9be0" stroke-width="1" fill="none"/><path d="M329.15,314.51V299.34" stroke="#4c9be0" stroke-width="1" fill="none"/><path d="M382.23,348.54V360.24" stroke="#4c9be0" stroke-width="1" fill="none"/>
<path d="M45.0,341.6L45.3,341.2 45.5,340.8 45.8,340.4 46.0,340.0 46.3,339.6 46.5,339.2 46.8,338.8 47.0,338.4 47.3,338.0 47.5,337.6 47.8,337.2 48.1,336.8 48.3,336.4 48.6,336.0 48.8,335.6 49.1,335.2 49.3,334.8 49.6,334.3 49.8,333.9 50.1,333.5 50.3,333.1 50.6,332.7 50.8,332.3 51.1,331.9 51.4,331.5 51.6,331.1 51.9,330.7 52.1,330.3 52.4,329.9 52.6,329.5 52.9,329.1 53.1,328.7 53.4,328.3 53.6,327.9 53.9,327.5 54.2,327.1 54.4,326.7 54.7,326.3 54.9,325.9 55.2,325.5 55.4,325.1 55.7,324.7 55.9,324.3 56.2,323.9 56.4,323.5 56.7,323.1 57.0,322.8 57.2,322.4 57.5,322.0 57.7,321.6 58.0,321.2 58.2,320.9 58.5,320.5 58.7,320.1 59.0,319.7 59.2,319.4 59.5,319.0 59.7,318.6 60.0,318.3 60.3,317.9 60.5,317.6 60.8,317.2 61.0,316.9 61.3,316.5 61.5,316.2 61.8,315.8 62.0,315.5 62.3,315.1 62.5,314.8 62.8,314.5 63.1,314.1 63.3,313.8 63.6,313.5 63.8,313.2 64.1,312.9 64.3,312.5 64.6,312.2 64.8,311.9 65.1,311.6 65.3,311.3 65.6,311.0 65.9,310.7 66.1,310.4 66.4,310.1 66.6,309.9 66.9,309.6 67.1,309.3 67.4,309.0 67.6,308.8 67.9,308.5 68.1,308.2 68.4,308.0 68.6,307.7 68.9,307.5 69.2,307.2 69.4,307.0 69.7,306.8 69.9,306.5 70.2,306.3 70.4,306.1 70.7,305.8 70.9,305.6 71.2,305.4 71.4,305.2 71.7,305.0 72.0,304.8 72.2,304.6 72.5,304.4 72.7,304.2 73.0,304.0 73.2,303.9 73.5,303.7 73.7,303.5 74.0,303.4 74.2,303.2 74.5,303.1 74.8,302.9 75.0,302.8 75.3,302.6 75.5,302.5 75.8,302.3 76.0,302.2 76.3,302.1 76.5,302.0 76.8,301.9 77.0,301.8 77.3,301.7 77.5,301.6 77.8,301.5 78.1,301.4 78.3,301.3 78.6,301.2 78.8,301.1 79.1,301.1 79.3,301.0 79.6,301.0 79.8,300.9 80.1,300.9 80.3,300.8 80.6,300.8 80.9,300.7 81.1,300.7 81.4,300.7 81.6,300.7 81.9,300.6 82.1,300.6 82.4,300.6 82.6,300.6 82.9,300.6 83.1,300.7 83.4,300.7 83.7,300.7 83.9,300.7 84.2,300.8 84.4,300.8 84.7,300.8 84.9,300.9 85.2,300.9 85.4,301.0 85.7,301.0 85.9,301.1 86.2,301.2 86.4,301.3 86.7,301.3 87.0,301.4 87.2,301.5 87.5,301.6 87.7,301.7 88.0,301.8 88.2,301.9 88.5,302.0 88.7,302.2 89.0,302.3 89.2,302.4 89.5,302.5 89.8,302.7 90.0,302.8 90.3,303.0 90.5,303.1 90.8,303.3 91.0,303.4 91.3,303.6 91.5,303.8 91.8,304.0 92.0,304.1 92.3,304.3 92.6,304.5 92.8,304.7 93.1,304.9 93.3,305.1 93.6,305.3 93.8,305.5 94.1,305.7 94.3,306.0 94.6,306.2 94.8,306.4 95.1,306.6 95.3,306.9 95.6,307.1 95.9,307.4 96.1,307.6 96.4,307.9 96.6,308.1 96.9,308.4 97.1,308.6 97.4,308.9 97.6,309.2 97.9,309.4 98.1,309.7 98.4,310.0 98.7,310.3 98.9,310.6 99.2,310.9 99.4,311.2 99.7,311.5 99.9,311.8 100.2,312.1 100.4,312.4 100.7,312.7 100.9,313.0 101.2,313.3 101.5,313.7 101.7,314.0 102.0,314.3 102.2,314.6 102.5,315.0 102.7,315.3 103.0,315.6 103.2,316.0 103.5,316.3 103.7,316.7 104.0,317.0 104.2,317.4 104.5,317.7 104.8,318.1 105.0,318.5 105.3,318.8 105.5,319.2 105.8,319.6 106.0,319.9 106.3,320.3 106.5,320.7 106.8,321.0 107.0,321.4 107.3,321.8 107.6,322.2 107.8,322.6 108.1,322.9 108.3,323.3 108.6,323.7 108.8,324.1 109.1,324.5 109.3,324.9 109.6,325.3 109.8,325.7 110.1,326.1 110.4,326.5 110.6,326.9 110.9,327.3 111.1,327.7 111.4,328.1 111.6,328.5 111.9,328.9 112.1,329.3 112.4,329.7 112.6,330.1 112.9,330.5 113.1,330.9 113.4,331.3 113.7,331.7 113.9,332.1 114.2,332.5 114.4,332.9 114.7,333.3 114.9,333.7 115.2,334.1 115.4,334.5 115.7,335.0 115.9,335.4 116.2,335.8 116.5,336.2 116.7,336.6 117.0,337.0 117.2,337.4 117.5,337.8 117.7,338.2 118.0,338.6 118.2,339.0 118.5,339.4 118.7,339.8 119.0,340.2 119.3,340.6 119.5,341.0 119.8,341.4 120.0,341.8 120.3,342.2 120.5,342.6 120.8,343.0 121.0,343.4 121.3,343.8 121.5,344.1 121.8,344.5 122.0,344.9 122.3,345.3 122.6,345.7 122.8,346.1 123.1,346.4 123.3,346.8 123.6,347.2 123.8,347.6 124.1,347.9 124.3,348.3 124.6,348.7 124.8,349.0 125.1,349.4 125.4,349.7 125.6,350.1 125.9,350.5 126.1,350.8 126.4,351.2 126.6,351.5 126.9,351.8 127.1,352.2 127.4,352.5 127.6,352.9 127.9,353.2 128.2,353.5 128.4,353.8 128.7,354.2 128.9,354.5 129.2,354.8 129.4,355.1 129.7,355.4 129.9,355.7 130.2,356.0 130.4,356.3 130.7,356.6 130.9,356.9 131.2,357.2 131.5,357.5 131.7,357.8 132.0,358.1 132.2,358.3 132.5,358.6 132.7,358.9 133.0,359.1 133.2,359.4 133.5,359.7 133.7,359.9 134.0,360.2 134.3,360.4 134.5,360.7 134.8,360.9 135.0,361.1 135.3,361.3 135.5,361.6 135.8,361.8 136.0,362.0 136.3,362.2 136.5,362.4 136.8,362.6 137.1,362.8 137.3,363.0 137.6,363.2 137.8,363.4 138.1,363.6 138.3,363.8 138.6,363.9 138.8,364.1 139.1,364.3 139.3,364.4 139.6,364.6 139.8,364.7 140.1,364.9 140.4,365.0 140.6,365.1 140.9,365.3 141.1,365.4 141.4,365.5 141.6,365.6 141.9,365.8 142.1,365.9 142.4,366.0 142.6,366.1 142.9,366.1 143.2,366.2 143.4,366.3 143.7,366.4 143.9,366.5 144.2,366.5 144.4,366.6 144.7,366.7 144.9,366.7 145.2,366.8 145.4,366.8 145.7,366.8 146.0,366.9 146.2,366.9 146.5,366.9 146.7,366.9 147.0,367.0 147.2,367.0 147.5,367.0 147.7,367.0 148.0,367.0 148.2,366.9 148.5,366.9 148.7,366.9 149.0,366.9 149.3,366.8 149.5,366.8 149.8,366.8 150.0,366.7 150.3,366.7 150.5,366.6 150.8,366.5 151.0,366.5 151.3,366.4 151.5,366.3 151.8,366.2 152.1,366.2 152.3,366.1 152.6,366.0 152.8,365.9 153.1,365.8 153.3,365.7 153.6,365.5 153.8,365.4 154.1,365.3 154.3,365.2 154.6,365.0 154.9,364.9 155.1,364.7 155.4,364.6 155.6,364.4 155.9,364.3 156.1,364.1 156.4,364.0 156.6,363.8 156.9,363.6 157.1,363.4 157.4,363.2 157.6,363.1 157.9,362.9 158.2,362.7 158.4,362.5 158.7,362.3 158.9,362.0 159.2,361.8 159.4,361.6 159.7,361.4 159.9,361.2 160.2,360.9 160.4,360.7 160.7,360.4 161.0,360.2 161.2,360.0 161.5,359.7 161.7,359.4 162.0,359.2 162.2,358.9 162.5,358.7 162.7,358.4 163.0,358.1 163.2,357.8 163.5,357.5 163.8,357.3 164.0,357.0 164.3,356.7 164.5,356.4 164.8,356.1 165.0,355.8 165.3,355.5 165.5,355.2 165.8,354.8 166.0,354.5 166.3,354.2 166.5,353.9 166.8,353.6 167.1,353.2 167.3,352.9 167.6,352.6 167.8,352.2 168.1,351.9 168.3,351.5 168.6,351.2 168.8,350.9 169.1,350.5 169.3,350.1 169.6,349.8 169.9,349.4 170.1,349.1 170.4,348.7 170.6,348.3 170.9,348.0 171.1,347.6 171.4,347.2 171.6,346.9 171.9,346.5 172.1,346.1 172.4,345.7 172.7,345.4 172.9,345.0 173.2,344.6 173.4,344.2 173.7,343.8 173.9,343.4 174.2,343.0 174.4,342.6 174.7,342.3 174.9,341.9 175.2,341.5 175.4,341.1 175.7,340.7 176.0,340.3 176.2,339.9 176.5,339.5 176.7,339.1 177.0,338.7 177.2,338.3 177.5,337.9 177.7,337.5 178.0,337.0 178.2,336.6 178.5,336.2 178.8,335.8 179.0,335.4 179.3,335.0 179.5,334.6 179.8,334.2 180.0,333.8 180.3,333.4 180.5,333.0 180.8,332.6 181.0,332.2 181.3,331.8 181.6,331.4 181.8,330.9 182.1,330.5 182.3,330.1 182.6,329.7 182.8,329.3 183.1,328.9 183.3,328.5 183.6,328.1 183.8,327.7 184.1,327.3 184.3,326.9 184.6,326.5 184.9,326.1 185.1,325.7 185.4,325.3 185.6,324.9 185.9,324.6 186.1,324.2 186.4,323.8 186.6,323.4 186.9,323.0 187.1,322.6 187.4,322.2 187.7,321.8 187.9,321.5 188.2,321.1 188.4,320.7 188.7,320.3 188.9,320.0 189.2,319.6 189.4,319.2 189.7,318.9 189.9,318.5 190.2,318.2 190.5,317.8 190.7,317.4 191.0,317.1 191.2,316.7 191.5,316.4 191.7,316.0 192.0,315.7 192.2,315.4 192.5,315.0 192.7,314.7 193.0,314.4 193.2,314.0 193.5,313.7 193.8,313.4 194.0,313.1 194.3,312.7 194.5,312.4 194.8,312.1 195.0,311.8 195.3,311.5 195.5,311.2 195.8,310.9 196.0,310.6 196.3,310.3 196.6,310.0 196.8,309.8 197.1,309.5 197.3,309.2 197.6,308.9 197.8,308.7 198.1,308.4 198.3,308.1 198.6,307.9 198.8,307.6 199.1,307.4 199.4,307.1 199.6,306.9 199.9,306.7 200.1,306.4 200.4,306.2 200.6,306.0 200.9,305.8 201.1,305.6 201.4,305.3 201.6,305.1 201.9,304.9 202.1,304.7 202.4,304.5 202.7,304.3 202.9,304.2 203.2,304.0 203.4,303.8 203.7,303.6 203.9,303.5 204.2,303.3 204.4,303.1 204.7,303.0 204.9,302.8 205.2,302.7 205.5,302.6 205.7,302.4 206.0,302.3 206.2,302.2 206.5,302.1 206.7,301.9 207.0,301.8 207.2,301.7 207.5,301.6 207.7,301.5 208.0,301.4 208.3,301.3 208.5,301.3 208.8,301.2 209.0,301.1 209.3,301.1 209.5,301.0 209.8,300.9 210.0,300.9 210.3,300.8 210.5,300.8 210.8,300.8 211.0,300.7 211.3,300.7 211.6,300.7 211.8,300.7 212.1,300.6 212.3,300.6 212.6,300.6 212.8,300.6 213.1,300.6 213.3,300.7 213.6,300.7 213.8,300.7 214.1,300.7 214.4,300.8 214.6,300.8 214.9,300.8 215.1,300.9 215.4,300.9 215.6,301.0 215.9,301.1 216.1,301.1 216.4,301.2 216.6,301.3 216.9,301.4 217.2,301.5 217.4,301.5 217.7,301.6 217.9,301.7 218.2,301.9 218.4,302.0 218.7,302.1 218.9,302.2 219.2,302.3 219.4,302.5 219.7,302.6 219.9,302.7 220.2,302.9 220.5,303.0 220.7,303.2 221.0,303.3 221.2,303.5 221.5,303.7 221.7,303.8 222.0,304.0 222.2,304.2 222.5,304.4 222.7,304.6 223.0,304.8 223.3,305.0 223.5,305.2 223.8,305.4 224.0,305.6 224.3,305.8 224.5,306.0 224.8,306.3 225.0,306.5 225.3,306.7 225.5,307.0 225.8,307.2 226.1,307.4 226.3,307.7 226.6,307.9 226.8,308.2 227.1,308.5 227.3,308.7 227.6,309.0 227.8,309.3 228.1,309.5 228.3,309.8 228.6,310.1 228.8,310.4 229.1,310.7 229.4,311.0 229.6,311.3 229.9,311.6 230.1,311.9 230.4,312.2 230.6,312.5 230.9,312.8 231.1,313.1 231.4,313.4 231.6,313.8 231.9,314.1 232.2,314.4 232.4,314.8 232.7,315.1 232.9,315.4 233.2,315.8 233.4,316.1 233.7,316.5 233.9,316.8 234.2,317.2 234.4,317.5 234.7,317.9 235.0,318.2 235.2,318.6 235.5,319.0 235.7,319.3 236.0,319.7 236.2,320.1 236.5,320.4 236.7,320.8 237.0,321.2 237.2,321.6 237.5,321.9 237.7,322.3 238.0,322.7 238.3,323.1 238.5,323.5 238.8,323.9 239.0,324.2 239.3,324.6 239.5,325.0 239.8,325.4 240.0,325.8 240.3,326.2 240.5,326.6 240.8,327.0 241.1,327.4 241.3,327.8 241.6,328.2 241.8,328.6 242.1,329.0 242.3,329.4 242.6,329.8 242.8,330.2 243.1,330.6 243.3,331.0 243.6,331.4 243.9,331.8 244.1,332.3 244.4,332.7 244.6,333.1 244.9,333.5 245.1,333.9 245.4,334.3 245.6,334.7 245.9,335.1 246.1,335.5 246.4,335.9 246.6,336.3 246.9,336.7 247.2,337.1 247.4,337.5 247.7,337.9 247.9,338.3 248.2,338.7 248.4,339.2 248.7,339.6 248.9,340.0 249.2,340.4 249.4,340.8 249.7,341.2 250.0,341.5 250.2,341.9 250.5,342.3 250.7,342.7 251.0,343.1 251.2,343.5 251.5,343.9 251.7,344.3 252.0,344.7 252.2,345.1 252.5,345.4 252.8,345.8 253.0,346.2 253.3,346.6 253.5,346.9 253.8,347.3 254.0,347.7 254.3,348.1 254.5,348.4 254.8,348.8 255.0,349.2 255.3,349.5 255.5,349.9 255.8,350.2 256.1,350.6 256.3,350.9 256.6,351.3 256.8,351.6 257.1,352.0 257.3,352.3 257.6,352.6 257.8,353.0 258.1,353.3 258.3,353.6 258.6,354.0 258.9,354.3 259.1,354.6 259.4,354.9 259.6,355.2 259.9,355.5 260.1,355.8 260.4,356.1 260.6,356.4 260.9,356.7 261.1,357.0 261.4,357.3 261.7,357.6 261.9,357.9 262.2,358.2 262.4,358.4 262.7,358.7 262.9,359.0 263.2,359.2 263.4,359.5 263.7,359.8 263.9,360.0 264.2,360.3 264.4,360.5 264.7,360.7 265.0,361.0 265.2,361.2 265.5,361.4 265.7,361.7 266.0,361.9 266.2,362.1 266.5,362.3 266.7,362.5 267.0,362.7 267.2,362.9 267.5,363.1 267.8,363.3 268.0,363.5 268.3,363.6 268.5,363.8 268.8,364.0 269.0,364.2 269.3,364.3 269.5,364.5 269.8,364.6 270.0,364.8 270.3,364.9 270.6,365.1 270.8,365.2 271.1,365.3 271.3,365.4 271.6,365.6 271.8,365.7 272.1,365.8 272.3,365.9 272.6,366.0 272.8,366.1 273.1,366.2 273.3,366.3 273.6,366.3 273.9,366.4 274.1,366.5 274.4,366.6 274.6,366.6 274.9,366.7 275.1,366.7 275.4,366.8 275.6,366.8 275.9,366.9 276.1,366.9 276.4,366.9 276.7,366.9 276.9,366.9 277.2,367.0 277.4,367.0 277.7,367.0 277.9,367.0 278.2,366.9 278.4,366.9 278.7,366.9 278.9,366.9 279.2,366.9 279.5,366.8 279.7,366.8 280.0,366.7 280.2,366.7 280.5,366.6 280.7,366.6 281.0,366.5 281.2,366.5 281.5,366.4 281.7,366.3 282.0,366.2 282.2,366.1 282.5,366.0 282.8,365.9 283.0,365.8 283.3,365.7 283.5,365.6 283.8,365.5 284.0,365.4 284.3,365.2 284.5,365.1 284.8,365.0 285.0,364.8 285.3,364.7 285.6,364.5 285.8,364.4 286.1,364.2 286.3,364.1 286.6,363.9 286.8,363.7 287.1,363.5 287.3,363.4 287.6,363.2 287.8,363.0 288.1,362.8 288.4,362.6 288.6,362.4 288.9,362.2 289.1,362.0 289.4,361.7 289.6,361.5 289.9,361.3 290.1,361.1 290.4,360.8 290.6,360.6 290.9,360.4 291.1,360.1 291.4,359.9 291.7,359.6 291.9,359.3 292.2,359.1 292.4,358.8 292.7,358.6 292.9,358.3 293.2,358.0 293.4,357.7 293.7,357.4 293.9,357.2 294.2,356.9 294.5,356.6 294.7,356.3 295.0,356.0 295.2,355.7 295.5,355.4 295.7,355.0 296.0,354.7 296.2,354.4 296.5,354.1 296.7,353.8 297.0,353.4 297.3,353.1 297.5,352.8 297.8,352.4 298.0,352.1 298.3,351.8 298.5,351.4 298.8,351.1 299.0,350.7 299.3,350.4 299.5,350.0 299.8,349.7 300.0,349.3 300.3,348.9 300.6,348.6 300.8,348.2 301.1,347.8 301.3,347.5 301.6,347.1 301.8,346.7 302.1,346.4 302.3,346.0 302.6,345.6 302.8,345.2 303.1,344.8 303.4,344.4 303.6,344.1 303.9,343.7 304.1,343.3 304.4,342.9 304.6,342.5 304.9,342.1 305.1,341.7 305.4,341.3 305.6,340.9 305.9,340.5 306.2,340.1 306.4,339.7 306.7,339.3 306.9,338.9 307.2,338.5 307.4,338.1 307.7,337.7 307.9,337.3 308.2,336.9 308.4,336.5 308.7,336.1 308.9,335.7 309.2,335.3 309.5,334.9 309.7,334.5 310.0,334.1 310.2,333.6 310.5,333.2 310.7,332.8 311.0,332.4 311.2,332.0 311.5,331.6 311.7,331.2 312.0,330.8 312.3,330.4 312.5,330.0 312.8,329.6 313.0,329.2 313.3,328.8 313.5,328.4 313.8,328.0 314.0,327.6 314.3,327.2 314.5,326.8 314.8,326.4 315.1,326.0 315.3,325.6 315.6,325.2 315.8,324.8 316.1,324.4 316.3,324.0 316.6,323.6 316.8,323.2 317.1,322.9 317.3,322.5 317.6,322.1 317.8,321.7 318.1,321.3 318.4,321.0 318.6,320.6 318.9,320.2 319.1,319.8 319.4,319.5 319.6,319.1 319.9,318.7 320.1,318.4 320.4,318.0 320.6,317.7 320.9,317.3 321.2,317.0 321.4,316.6 321.7,316.3 321.9,315.9 322.2,315.6 322.4,315.2 322.7,314.9 322.9,314.6 323.2,314.2 323.4,313.9 323.7,313.6 324.0,313.3 324.2,312.9 324.5,312.6 324.7,312.3 325.0,312.0 325.2,311.7 325.5,311.4 325.7,311.1 326.0,310.8 326.2,310.5 326.5,310.2 326.7,309.9 327.0,309.7 327.3,309.4 327.5,309.1 327.8,308.8 328.0,308.6 328.3,308.3 328.5,308.1 328.8,307.8 329.0,307.5 329.3,307.3 329.5,307.1 329.8,306.8 330.1,306.6 330.3,306.4 330.6,306.1 330.8,305.9 331.1,305.7 331.3,305.5 331.6,305.3 331.8,305.1 332.1,304.9 332.3,304.7 332.6,304.5 332.9,304.3 333.1,304.1 333.4,303.9 333.6,303.7 333.9,303.6 334.1,303.4 334.4,303.2 334.6,303.1 334.9,302.9 335.1,302.8 335.4,302.7 335.6,302.5 335.9,302.4 336.2,302.3 336.4,302.1 336.7,302.0 336.9,301.9 337.2,301.8 337.4,301.7 337.7,301.6 337.9,301.5 338.2,301.4 338.4,301.3 338.7,301.2 339.0,301.2 339.2,301.1 339.5,301.0 339.7,301.0 340.0,300.9 340.2,300.9 340.5,300.8 340.7,300.8 341.0,300.7 341.2,300.7 341.5,300.7 341.8,300.7 342.0,300.7 342.3,300.6 342.5,300.6 342.8,300.6 343.0,300.6 343.3,300.7 343.5,300.7 343.8,300.7 344.0,300.7 344.3,300.7 344.5,300.8 344.8,300.8 345.1,300.9 345.3,300.9 345.6,301.0 345.8,301.0 346.1,301.1 346.3,301.2 346.6,301.2 346.8,301.3 347.1,301.4 347.3,301.5 347.6,301.6 347.9,301.7 348.1,301.8 348.4,301.9 348.6,302.0 348.9,302.1 349.1,302.2 349.4,302.4 349.6,302.5 349.9,302.6 350.1,302.8 350.4,302.9 350.7,303.1 350.9,303.2 351.2,303.4 351.4,303.6 351.7,303.7 351.9,303.9 352.2,304.1 352.4,304.3 352.7,304.5 352.9,304.6 353.2,304.8 353.4,305.0 353.7,305.3 354.0,305.5 354.2,305.7 354.5,305.9 354.7,306.1 355.0,306.3 355.2,306.6 355.5,306.8 355.7,307.0 356.0,307.3 356.2,307.5 356.5,307.8 356.8,308.0 357.0,308.3 357.3,308.6 357.5,308.8 357.8,309.1 358.0,309.4 358.3,309.6 358.5,309.9 358.8,310.2 359.0,310.5 359.3,310.8 359.6,311.1 359.8,311.4 360.1,311.7 360.3,312.0 360.6,312.3 360.8,312.6 361.1,312.9 361.3,313.2 361.6,313.6 361.8,313.9 362.1,314.2 362.3,314.5 362.6,314.9 362.9,315.2 363.1,315.6 363.4,315.9 363.6,316.2 363.9,316.6 364.1,316.9 364.4,317.3 364.6,317.6 364.9,318.0 365.1,318.4 365.4,318.7 365.7,319.1 365.9,319.5 366.2,319.8 366.4,320.2 366.7,320.6 366.9,320.9 367.2,321.3 367.4,321.7 367.7,322.1 367.9,322.5 368.2,322.8 368.5,323.2 368.7,323.6 369.0,324.0 369.2,324.4 369.5,324.8 369.7,325.2 370.0,325.6 370.2,326.0 370.5,326.4 370.7,326.8 371.0,327.2 371.2,327.6 371.5,328.0 371.8,328.4 372.0,328.8 372.3,329.2 372.5,329.6 372.8,330.0 373.0,330.4 373.3,330.8 373.5,331.2 373.8,331.6 374.0,332.0 374.3,332.4 374.6,332.8 374.8,333.2 375.1,333.6 375.3,334.0 375.6,334.4 375.8,334.8 376.1,335.3 376.3,335.7 376.6,336.1 376.8,336.5 377.1,336.9 377.4,337.3 377.6,337.7 377.9,338.1 378.1,338.5 378.4,338.9 378.6,339.3 378.9,339.7 379.1,340.1 379.4,340.5 379.6,340.9 379.9,341.3 380.1,341.7 380.4,342.1 380.7,342.5 380.9,342.9 381.2,343.3 381.4,343.7 381.7,344.0 381.9,344.4 382.2,344.8 382.4,345.2 382.7,345.6 382.9,346.0 383.2,346.3 383.5,346.7 383.7,347.1 384.0,347.5 384.2,347.8 384.5,348.2 384.7,348.6 385.0,348.9 385.2,349.3 385.5,349.6 385.7,350.0 386.0,350.4 386.3,350.7 386.5,351.1 386.8,351.4 387.0,351.7 387.3,352.1 387.5,352.4 387.8,352.8 388.0,353.1 388.3,353.4 388.5,353.8 388.8,354.1 389.0,354.4 389.3,354.7 389.6,355.0 389.8,355.3 390.1,355.6 390.3,356.0 390.6,356.3 390.8,356.6 391.1,356.8 391.3,357.1 391.6,357.4 391.8,357.7 392.1,358.0 392.4,358.3 392.6,358.5 392.9,358.8 393.1,359.1 393.4,359.3 393.6,359.6 393.9,359.8 394.1,360.1 394.4,360.3 394.6,360.6 394.9,360.8 395.2,361.1 395.4,361.3 395.7,361.5 395.9,361.7 396.2,362.0 396.4,362.2 396.7,362.4 396.9,362.6 397.2,362.8 397.4,363.0 397.7,363.2 397.9,363.4 398.2,363.5 398.5,363.7 398.7,363.9 399.0,364.1 399.2,364.2 399.5,364.4 399.7,364.5 400.0,364.7 400.2,364.8 400.5,365.0 400.7,365.1 401.0,365.2" stroke="#D95319" stroke-width="1.4" fill="none"/>
<path d="M45.0,335.8L45.3,335.7 45.5,335.6 45.8,335.5 46.0,335.4 46.3,335.3 46.5,335.2 46.8,335.1 47.0,335.0 47.3,334.9 47.5,334.8 47.8,334.7 48.1,334.6 48.3,334.5 48.6,334.4 48.8,334.3 49.1,334.1 49.3,334.0 49.6,333.9 49.8,333.8 50.1,333.7 50.3,333.6 50.6,333.5 50.8,333.4 51.1,333.3 51.4,333.2 51.6,333.1 51.9,333.0 52.1,332.9 52.4,332.8 52.6,332.7 52.9,332.6 53.1,332.5 53.4,332.4 53.6,332.3 53.9,332.2 54.2,332.1 54.4,332.0 54.7,331.9 54.9,331.8 55.2,331.7 55.4,331.6 55.7,331.5 55.9,331.4 56.2,331.3 56.4,331.2 56.7,331.1 57.0,331.0 57.2,330.9 57.5,330.8 57.7,330.7 58.0,330.6 58.2,330.5 58.5,330.4 58.7,330.3 59.0,330.2 59.2,330.1 59.5,330.0 59.7,329.9 60.0,329.8 60.3,329.8 60.5,329.7 60.8,329.6 61.0,329.5 61.3,329.4 61.5,329.3 61.8,329.2 62.0,329.1 62.3,329.0 62.5,329.0 62.8,328.9 63.1,328.8 63.3,328.7 63.6,328.6 63.8,328.5 64.1,328.5 64.3,328.4 64.6,328.3 64.8,328.2 65.1,328.1 65.3,328.1 65.6,328.0 65.9,327.9 66.1,327.8 66.4,327.8 66.6,327.7 66.9,327.6 67.1,327.6 67.4,327.5 67.6,327.4 67.9,327.4 68.1,327.3 68.4,327.2 68.6,327.2 68.9,327.1 69.2,327.0 69.4,327.0 69.7,326.9 69.9,326.8 70.2,326.8 70.4,326.7 70.7,326.7 70.9,326.6 71.2,326.6 71.4,326.5 71.7,326.5 72.0,326.4 72.2,326.4 72.5,326.3 72.7,326.3 73.0,326.2 73.2,326.2 73.5,326.1 73.7,326.1 74.0,326.0 74.2,326.0 74.5,326.0 74.8,325.9 75.0,325.9 75.3,325.9 75.5,325.8 75.8,325.8 76.0,325.8 76.3,325.7 76.5,325.7 76.8,325.7 77.0,325.6 77.3,325.6 77.5,325.6 77.8,325.6 78.1,325.5 78.3,325.5 78.6,325.5 78.8,325.5 79.1,325.5 79.3,325.4 79.6,325.4 79.8,325.4 80.1,325.4 80.3,325.4 80.6,325.4 80.9,325.4 81.1,325.4 81.4,325.4 81.6,325.4 81.9,325.3 82.1,325.3 82.4,325.3 82.6,325.3 82.9,325.3 83.1,325.4 83.4,325.4 83.7,325.4 83.9,325.4 84.2,325.4 84.4,325.4 84.7,325.4 84.9,325.4 85.2,325.4 85.4,325.4 85.7,325.5 85.9,325.5 86.2,325.5 86.4,325.5 86.7,325.5 87.0,325.5 87.2,325.6 87.5,325.6 87.7,325.6 88.0,325.6 88.2,325.7 88.5,325.7 88.7,325.7 89.0,325.8 89.2,325.8 89.5,325.8 89.8,325.9 90.0,325.9 90.3,325.9 90.5,326.0 90.8,326.0 91.0,326.1 91.3,326.1 91.5,326.1 91.8,326.2 92.0,326.2 92.3,326.3 92.6,326.3 92.8,326.4 93.1,326.4 93.3,326.5 93.6,326.5 93.8,326.6 94.1,326.6 94.3,326.7 94.6,326.8 94.8,326.8 95.1,326.9 95.3,326.9 95.6,327.0 95.9,327.1 96.1,327.1 96.4,327.2 96.6,327.3 96.9,327.3 97.1,327.4 97.4,327.5 97.6,327.5 97.9,327.6 98.1,327.7 98.4,327.7 98.7,327.8 98.9,327.9 99.2,328.0 99.4,328.0 99.7,328.1 99.9,328.2 100.2,328.3 100.4,328.3 100.7,328.4 100.9,328.5 101.2,328.6 101.5,328.7 101.7,328.7 102.0,328.8 102.2,328.9 102.5,329.0 102.7,329.1 103.0,329.2 103.2,329.3 103.5,329.3 103.7,329.4 104.0,329.5 104.2,329.6 104.5,329.7 104.8,329.8 105.0,329.9 105.3,330.0 105.5,330.1 105.8,330.2 106.0,330.3 106.3,330.4 106.5,330.5 106.8,330.5 107.0,330.6 107.3,330.7 107.6,330.8 107.8,330.9 108.1,331.0 108.3,331.1 108.6,331.2 108.8,331.3 109.1,331.4 109.3,331.5 109.6,331.6 109.8,331.7 110.1,331.8 110.4,331.9 110.6,332.0 110.9,332.1 111.1,332.2 111.4,332.3 111.6,332.4 111.9,332.5 112.1,332.6 112.4,332.7 112.6,332.9 112.9,333.0 113.1,333.1 113.4,333.2 113.7,333.3 113.9,333.4 114.2,333.5 114.4,333.6 114.7,333.7 114.9,333.8 115.2,333.9 115.4,334.0 115.7,334.1 115.9,334.2 116.2,334.3 116.5,334.4 116.7,334.5 117.0,334.6 117.2,334.7 117.5,334.8 117.7,334.9 118.0,335.0 118.2,335.1 118.5,335.2 118.7,335.3 119.0,335.4 119.3,335.5 119.5,335.6 119.8,335.7 120.0,335.8 120.3,335.9 120.5,336.0 120.8,336.1 121.0,336.2 121.3,336.3 121.5,336.4 121.8,336.5 122.0,336.6 122.3,336.7 122.6,336.8 122.8,336.9 123.1,337.0 123.3,337.1 123.6,337.2 123.8,337.3 124.1,337.4 124.3,337.5 124.6,337.6 124.8,337.7 125.1,337.8 125.4,337.9 125.6,338.0 125.9,338.0 126.1,338.1 126.4,338.2 126.6,338.3 126.9,338.4 127.1,338.5 127.4,338.6 127.6,338.7 127.9,338.7 128.2,338.8 128.4,338.9 128.7,339.0 128.9,339.1 129.2,339.2 129.4,339.2 129.7,339.3 129.9,339.4 130.2,339.5 130.4,339.5 130.7,339.6 130.9,339.7 131.2,339.8 131.5,339.8 131.7,339.9 132.0,340.0 132.2,340.1 132.5,340.1 132.7,340.2 133.0,340.3 133.2,340.3 133.5,340.4 133.7,340.5 134.0,340.5 134.3,340.6 134.5,340.6 134.8,340.7 135.0,340.8 135.3,340.8 135.5,340.9 135.8,340.9 136.0,341.0 136.3,341.0 136.5,341.1 136.8,341.1 137.1,341.2 137.3,341.3 137.6,341.3 137.8,341.3 138.1,341.4 138.3,341.4 138.6,341.5 138.8,341.5 139.1,341.6 139.3,341.6 139.6,341.6 139.8,341.7 140.1,341.7 140.4,341.8 140.6,341.8 140.9,341.8 141.1,341.9 141.4,341.9 141.6,341.9 141.9,341.9 142.1,342.0 142.4,342.0 142.6,342.0 142.9,342.0 143.2,342.1 143.4,342.1 143.7,342.1 143.9,342.1 144.2,342.1 144.4,342.2 144.7,342.2 144.9,342.2 145.2,342.2 145.4,342.2 145.7,342.2 146.0,342.2 146.2,342.2 146.5,342.2 146.7,342.2 147.0,342.3 147.2,342.3 147.5,342.3 147.7,342.3 148.0,342.3 148.2,342.2 148.5,342.2 148.7,342.2 149.0,342.2 149.3,342.2 149.5,342.2 149.8,342.2 150.0,342.2 150.3,342.2 150.5,342.2 150.8,342.1 151.0,342.1 151.3,342.1 151.5,342.1 151.8,342.1 152.1,342.0 152.3,342.0 152.6,342.0 152.8,342.0 153.1,341.9 153.3,341.9 153.6,341.9 153.8,341.9 154.1,341.8 154.3,341.8 154.6,341.8 154.9,341.7 155.1,341.7 155.4,341.7 155.6,341.6 155.9,341.6 156.1,341.5 156.4,341.5 156.6,341.4 156.9,341.4 157.1,341.4 157.4,341.3 157.6,341.3 157.9,341.2 158.2,341.2 158.4,341.1 158.7,341.1 158.9,341.0 159.2,340.9 159.4,340.9 159.7,340.8 159.9,340.8 160.2,340.7 160.4,340.7 160.7,340.6 161.0,340.5 161.2,340.5 161.5,340.4 161.7,340.3 162.0,340.3 162.2,340.2 162.5,340.1 162.7,340.1 163.0,340.0 163.2,339.9 163.5,339.9 163.8,339.8 164.0,339.7 164.3,339.6 164.5,339.6 164.8,339.5 165.0,339.4 165.3,339.3 165.5,339.2 165.8,339.2 166.0,339.1 166.3,339.0 166.5,338.9 166.8,338.8 167.1,338.8 167.3,338.7 167.6,338.6 167.8,338.5 168.1,338.4 168.3,338.3 168.6,338.2 168.8,338.1 169.1,338.1 169.3,338.0 169.6,337.9 169.9,337.8 170.1,337.7 170.4,337.6 170.6,337.5 170.9,337.4 171.1,337.3 171.4,337.2 171.6,337.1 171.9,337.0 172.1,336.9 172.4,336.8 172.7,336.7 172.9,336.6 173.2,336.6 173.4,336.5 173.7,336.4 173.9,336.3 174.2,336.2 174.4,336.1 174.7,336.0 174.9,335.9 175.2,335.8 175.4,335.7 175.7,335.6 176.0,335.4 176.2,335.3 176.5,335.2 176.7,335.1 177.0,335.0 177.2,334.9 177.5,334.8 177.7,334.7 178.0,334.6 178.2,334.5 178.5,334.4 178.8,334.3 179.0,334.2 179.3,334.1 179.5,334.0 179.8,333.9 180.0,333.8 180.3,333.7 180.5,333.6 180.8,333.5 181.0,333.4 181.3,333.3 181.6,333.2 181.8,333.1 182.1,333.0 182.3,332.9 182.6,332.8 182.8,332.7 183.1,332.6 183.3,332.5 183.6,332.4 183.8,332.2 184.1,332.1 184.3,332.0 184.6,331.9 184.9,331.8 185.1,331.7 185.4,331.6 185.6,331.5 185.9,331.4 186.1,331.3 186.4,331.2 186.6,331.1 186.9,331.0 187.1,330.9 187.4,330.9 187.7,330.8 187.9,330.7 188.2,330.6 188.4,330.5 188.7,330.4 188.9,330.3 189.2,330.2 189.4,330.1 189.7,330.0 189.9,329.9 190.2,329.8 190.5,329.7 190.7,329.6 191.0,329.5 191.2,329.4 191.5,329.4 191.7,329.3 192.0,329.2 192.2,329.1 192.5,329.0 192.7,328.9 193.0,328.8 193.2,328.8 193.5,328.7 193.8,328.6 194.0,328.5 194.3,328.4 194.5,328.4 194.8,328.3 195.0,328.2 195.3,328.1 195.5,328.0 195.8,328.0 196.0,327.9 196.3,327.8 196.6,327.7 196.8,327.7 197.1,327.6 197.3,327.5 197.6,327.5 197.8,327.4 198.1,327.3 198.3,327.3 198.6,327.2 198.8,327.1 199.1,327.1 199.4,327.0 199.6,326.9 199.9,326.9 200.1,326.8 200.4,326.8 200.6,326.7 200.9,326.7 201.1,326.6 201.4,326.5 201.6,326.5 201.9,326.4 202.1,326.4 202.4,326.3 202.7,326.3 202.9,326.2 203.2,326.2 203.4,326.2 203.7,326.1 203.9,326.1 204.2,326.0 204.4,326.0 204.7,325.9 204.9,325.9 205.2,325.9 205.5,325.8 205.7,325.8 206.0,325.8 206.2,325.7 206.5,325.7 206.7,325.7 207.0,325.7 207.2,325.6 207.5,325.6 207.7,325.6 208.0,325.5 208.3,325.5 208.5,325.5 208.8,325.5 209.0,325.5 209.3,325.5 209.5,325.4 209.8,325.4 210.0,325.4 210.3,325.4 210.5,325.4 210.8,325.4 211.0,325.4 211.3,325.4 211.6,325.4 211.8,325.4 212.1,325.3 212.3,325.3 212.6,325.3 212.8,325.3 213.1,325.3 213.3,325.4 213.6,325.4 213.8,325.4 214.1,325.4 214.4,325.4 214.6,325.4 214.9,325.4 215.1,325.4 215.4,325.4 215.6,325.4 215.9,325.5 216.1,325.5 216.4,325.5 216.6,325.5 216.9,325.5 217.2,325.6 217.4,325.6 217.7,325.6 217.9,325.6 218.2,325.7 218.4,325.7 218.7,325.7 218.9,325.7 219.2,325.8 219.4,325.8 219.7,325.8 219.9,325.9 220.2,325.9 220.5,326.0 220.7,326.0 221.0,326.0 221.2,326.1 221.5,326.1 221.7,326.2 222.0,326.2 222.2,326.3 222.5,326.3 222.7,326.4 223.0,326.4 223.3,326.5 223.5,326.5 223.8,326.6 224.0,326.6 224.3,326.7 224.5,326.7 224.8,326.8 225.0,326.8 225.3,326.9 225.5,327.0 225.8,327.0 226.1,327.1 226.3,327.1 226.6,327.2 226.8,327.3 227.1,327.3 227.3,327.4 227.6,327.5 227.8,327.5 228.1,327.6 228.3,327.7 228.6,327.8 228.8,327.8 229.1,327.9 229.4,328.0 229.6,328.1 229.9,328.1 230.1,328.2 230.4,328.3 230.6,328.4 230.9,328.5 231.1,328.5 231.4,328.6 231.6,328.7 231.9,328.8 232.2,328.9 232.4,328.9 232.7,329.0 232.9,329.1 233.2,329.2 233.4,329.3 233.7,329.4 233.9,329.5 234.2,329.6 234.4,329.6 234.7,329.7 235.0,329.8 235.2,329.9 235.5,330.0 235.7,330.1 236.0,330.2 236.2,330.3 236.5,330.4 236.7,330.5 237.0,330.6 237.2,330.7 237.5,330.8 237.7,330.9 238.0,331.0 238.3,331.1 238.5,331.2 238.8,331.3 239.0,331.4 239.3,331.5 239.5,331.6 239.8,331.7 240.0,331.8 240.3,331.9 240.5,332.0 240.8,332.1 241.1,332.2 241.3,332.3 241.6,332.4 241.8,332.5 242.1,332.6 242.3,332.7 242.6,332.8 242.8,332.9 243.1,333.0 243.3,333.1 243.6,333.2 243.9,333.3 244.1,333.4 244.4,333.5 244.6,333.6 244.9,333.7 245.1,333.8 245.4,333.9 245.6,334.0 245.9,334.1 246.1,334.2 246.4,334.3 246.6,334.4 246.9,334.5 247.2,334.6 247.4,334.8 247.7,334.9 247.9,335.0 248.2,335.1 248.4,335.2 248.7,335.3 248.9,335.4 249.2,335.5 249.4,335.6 249.7,335.7 250.0,335.8 250.2,335.9 250.5,336.0 250.7,336.1 251.0,336.2 251.2,336.3 251.5,336.4 251.7,336.5 252.0,336.6 252.2,336.7 252.5,336.8 252.8,336.9 253.0,337.0 253.3,337.1 253.5,337.2 253.8,337.2 254.0,337.3 254.3,337.4 254.5,337.5 254.8,337.6 255.0,337.7 255.3,337.8 255.5,337.9 255.8,338.0 256.1,338.1 256.3,338.2 256.6,338.3 256.8,338.3 257.1,338.4 257.3,338.5 257.6,338.6 257.8,338.7 258.1,338.8 258.3,338.9 258.6,338.9 258.9,339.0 259.1,339.1 259.4,339.2 259.6,339.3 259.9,339.3 260.1,339.4 260.4,339.5 260.6,339.6 260.9,339.6 261.1,339.7 261.4,339.8 261.7,339.9 261.9,339.9 262.2,340.0 262.4,340.1 262.7,340.1 262.9,340.2 263.2,340.3 263.4,340.4 263.7,340.4 263.9,340.5 264.2,340.5 264.4,340.6 264.7,340.7 265.0,340.7 265.2,340.8 265.5,340.8 265.7,340.9 266.0,341.0 266.2,341.0 266.5,341.1 266.7,341.1 267.0,341.2 267.2,341.2 267.5,341.3 267.8,341.3 268.0,341.4 268.3,341.4 268.5,341.5 268.8,341.5 269.0,341.5 269.3,341.6 269.5,341.6 269.8,341.7 270.0,341.7 270.3,341.7 270.6,341.8 270.8,341.8 271.1,341.8 271.3,341.9 271.6,341.9 271.8,341.9 272.1,342.0 272.3,342.0 272.6,342.0 272.8,342.0 273.1,342.1 273.3,342.1 273.6,342.1 273.9,342.1 274.1,342.1 274.4,342.2 274.6,342.2 274.9,342.2 275.1,342.2 275.4,342.2 275.6,342.2 275.9,342.2 276.1,342.2 276.4,342.2 276.7,342.2 276.9,342.2 277.2,342.3 277.4,342.3 277.7,342.3 277.9,342.3 278.2,342.2 278.4,342.2 278.7,342.2 278.9,342.2 279.2,342.2 279.5,342.2 279.7,342.2 280.0,342.2 280.2,342.2 280.5,342.2 280.7,342.2 281.0,342.1 281.2,342.1 281.5,342.1 281.7,342.1 282.0,342.1 282.2,342.0 282.5,342.0 282.8,342.0 283.0,342.0 283.3,341.9 283.5,341.9 283.8,341.9 284.0,341.8 284.3,341.8 284.5,341.8 284.8,341.7 285.0,341.7 285.3,341.7 285.6,341.6 285.8,341.6 286.1,341.6 286.3,341.5 286.6,341.5 286.8,341.4 287.1,341.4 287.3,341.3 287.6,341.3 287.8,341.2 288.1,341.2 288.4,341.1 288.6,341.1 288.9,341.0 289.1,341.0 289.4,340.9 289.6,340.9 289.9,340.8 290.1,340.8 290.4,340.7 290.6,340.6 290.9,340.6 291.1,340.5 291.4,340.4 291.7,340.4 291.9,340.3 292.2,340.2 292.4,340.2 292.7,340.1 292.9,340.0 293.2,340.0 293.4,339.9 293.7,339.8 293.9,339.8 294.2,339.7 294.5,339.6 294.7,339.5 295.0,339.5 295.2,339.4 295.5,339.3 295.7,339.2 296.0,339.1 296.2,339.1 296.5,339.0 296.7,338.9 297.0,338.8 297.3,338.7 297.5,338.6 297.8,338.6 298.0,338.5 298.3,338.4 298.5,338.3 298.8,338.2 299.0,338.1 299.3,338.0 299.5,337.9 299.8,337.8 300.0,337.8 300.3,337.7 300.6,337.6 300.8,337.5 301.1,337.4 301.3,337.3 301.6,337.2 301.8,337.1 302.1,337.0 302.3,336.9 302.6,336.8 302.8,336.7 303.1,336.6 303.4,336.5 303.6,336.4 303.9,336.3 304.1,336.2 304.4,336.1 304.6,336.0 304.9,335.9 305.1,335.8 305.4,335.7 305.6,335.6 305.9,335.5 306.2,335.4 306.4,335.3 306.7,335.2 306.9,335.1 307.2,335.0 307.4,334.9 307.7,334.8 307.9,334.7 308.2,334.6 308.4,334.5 308.7,334.4 308.9,334.3 309.2,334.2 309.5,334.1 309.7,334.0 310.0,333.9 310.2,333.8 310.5,333.7 310.7,333.6 311.0,333.4 311.2,333.3 311.5,333.2 311.7,333.1 312.0,333.0 312.3,332.9 312.5,332.8 312.8,332.7 313.0,332.6 313.3,332.5 313.5,332.4 313.8,332.3 314.0,332.2 314.3,332.1 314.5,332.0 314.8,331.9 315.1,331.8 315.3,331.7 315.6,331.6 315.8,331.5 316.1,331.4 316.3,331.3 316.6,331.2 316.8,331.1 317.1,331.0 317.3,330.9 317.6,330.8 317.8,330.7 318.1,330.6 318.4,330.5 318.6,330.4 318.9,330.3 319.1,330.2 319.4,330.1 319.6,330.1 319.9,330.0 320.1,329.9 320.4,329.8 320.6,329.7 320.9,329.6 321.2,329.5 321.4,329.4 321.7,329.3 321.9,329.2 322.2,329.2 322.4,329.1 322.7,329.0 322.9,328.9 323.2,328.8 323.4,328.7 323.7,328.6 324.0,328.6 324.2,328.5 324.5,328.4 324.7,328.3 325.0,328.2 325.2,328.2 325.5,328.1 325.7,328.0 326.0,327.9 326.2,327.9 326.5,327.8 326.7,327.7 327.0,327.6 327.3,327.6 327.5,327.5 327.8,327.4 328.0,327.4 328.3,327.3 328.5,327.2 328.8,327.2 329.0,327.1 329.3,327.0 329.5,327.0 329.8,326.9 330.1,326.9 330.3,326.8 330.6,326.7 330.8,326.7 331.1,326.6 331.3,326.6 331.6,326.5 331.8,326.5 332.1,326.4 332.3,326.4 332.6,326.3 332.9,326.3 333.1,326.2 333.4,326.2 333.6,326.1 333.9,326.1 334.1,326.1 334.4,326.0 334.6,326.0 334.9,325.9 335.1,325.9 335.4,325.9 335.6,325.8 335.9,325.8 336.2,325.8 336.4,325.7 336.7,325.7 336.9,325.7 337.2,325.6 337.4,325.6 337.7,325.6 337.9,325.6 338.2,325.5 338.4,325.5 338.7,325.5 339.0,325.5 339.2,325.5 339.5,325.4 339.7,325.4 340.0,325.4 340.2,325.4 340.5,325.4 340.7,325.4 341.0,325.4 341.2,325.4 341.5,325.4 341.8,325.4 342.0,325.4 342.3,325.3 342.5,325.3 342.8,325.3 343.0,325.3 343.3,325.4 343.5,325.4 343.8,325.4 344.0,325.4 344.3,325.4 344.5,325.4 344.8,325.4 345.1,325.4 345.3,325.4 345.6,325.4 345.8,325.4 346.1,325.5 346.3,325.5 346.6,325.5 346.8,325.5 347.1,325.5 347.3,325.6 347.6,325.6 347.9,325.6 348.1,325.6 348.4,325.7 348.6,325.7 348.9,325.7 349.1,325.8 349.4,325.8 349.6,325.8 349.9,325.9 350.1,325.9 350.4,325.9 350.7,326.0 350.9,326.0 351.2,326.1 351.4,326.1 351.7,326.1 351.9,326.2 352.2,326.2 352.4,326.3 352.7,326.3 352.9,326.4 353.2,326.4 353.4,326.5 353.7,326.5 354.0,326.6 354.2,326.6 354.5,326.7 354.7,326.7 355.0,326.8 355.2,326.9 355.5,326.9 355.7,327.0 356.0,327.0 356.2,327.1 356.5,327.2 356.8,327.2 357.0,327.3 357.3,327.4 357.5,327.4 357.8,327.5 358.0,327.6 358.3,327.6 358.5,327.7 358.8,327.8 359.0,327.9 359.3,327.9 359.6,328.0 359.8,328.1 360.1,328.2 360.3,328.2 360.6,328.3 360.8,328.4 361.1,328.5 361.3,328.6 361.6,328.6 361.8,328.7 362.1,328.8 362.3,328.9 362.6,329.0 362.9,329.1 363.1,329.1 363.4,329.2 363.6,329.3 363.9,329.4 364.1,329.5 364.4,329.6 364.6,329.7 364.9,329.8 365.1,329.9 365.4,330.0 365.7,330.0 365.9,330.1 366.2,330.2 366.4,330.3 366.7,330.4 366.9,330.5 367.2,330.6 367.4,330.7 367.7,330.8 367.9,330.9 368.2,331.0 368.5,331.1 368.7,331.2 369.0,331.3 369.2,331.4 369.5,331.5 369.7,331.6 370.0,331.7 370.2,331.8 370.5,331.9 370.7,332.0 371.0,332.1 371.2,332.2 371.5,332.3 371.8,332.4 372.0,332.5 372.3,332.6 372.5,332.7 372.8,332.8 373.0,332.9 373.3,333.0 373.5,333.1 373.8,333.2 374.0,333.3 374.3,333.4 374.6,333.5 374.8,333.7 375.1,333.8 375.3,333.9 375.6,334.0 375.8,334.1 376.1,334.2 376.3,334.3 376.6,334.4 376.8,334.5 377.1,334.6 377.4,334.7 377.6,334.8 377.9,334.9 378.1,335.0 378.4,335.1 378.6,335.2 378.9,335.3 379.1,335.4 379.4,335.5 379.6,335.6 379.9,335.7 380.1,335.8 380.4,335.9 380.7,336.0 380.9,336.1 381.2,336.2 381.4,336.3 381.7,336.4 381.9,336.5 382.2,336.6 382.4,336.7 382.7,336.8 382.9,336.9 383.2,337.0 383.5,337.1 383.7,337.2 384.0,337.3 384.2,337.4 384.5,337.5 384.7,337.6 385.0,337.7 385.2,337.7 385.5,337.8 385.7,337.9 386.0,338.0 386.3,338.1 386.5,338.2 386.8,338.3 387.0,338.4 387.3,338.5 387.5,338.5 387.8,338.6 388.0,338.7 388.3,338.8 388.5,338.9 388.8,339.0 389.0,339.0 389.3,339.1 389.6,339.2 389.8,339.3 390.1,339.4 390.3,339.4 390.6,339.5 390.8,339.6 391.1,339.7 391.3,339.7 391.6,339.8 391.8,339.9 392.1,340.0 392.4,340.0 392.6,340.1 392.9,340.2 393.1,340.2 393.4,340.3 393.6,340.4 393.9,340.4 394.1,340.5 394.4,340.6 394.6,340.6 394.9,340.7 395.2,340.7 395.4,340.8 395.7,340.9 395.9,340.9 396.2,341.0 396.4,341.0 396.7,341.1 396.9,341.1 397.2,341.2 397.4,341.2 397.7,341.3 397.9,341.3 398.2,341.4 398.5,341.4 398.7,341.5 399.0,341.5 399.2,341.6 399.5,341.6 399.7,341.6 400.0,341.7 400.2,341.7 400.5,341.7 400.7,341.8 401.0,341.8" stroke="#EDB120" stroke-width="1.25" fill="none"/>
</g>
<path d="M45.00,377.15v-3.0M45.00,290.45v3.0M109.73,377.15v-3.0M109.73,290.45v3.0M174.45,377.15v-3.0M174.45,290.45v3.0M239.18,377.15v-3.0M239.18,290.45v3.0M303.91,377.15v-3.0M303.91,290.45v3.0M368.64,377.15v-3.0M368.64,290.45v3.0M45.0,377.15h3.0M401.0,377.15h-3.0M45.0,355.48h3.0M401.0,355.48h-3.0M45.0,333.80h3.0M401.0,333.80h-3.0M45.0,312.12h3.0M401.0,312.12h-3.0M45.0,290.45h3.0M401.0,290.45h-3.0" stroke="#555" stroke-width="0.8" fill="none"/>
<rect x="45.0" y="290.45" width="356.0" height="86.7" fill="none" stroke="#7a7a7a" stroke-width="1"/>
<g font-family="Liberation Sans, sans-serif" font-size="8.8" fill="#262626" stroke="#262626" stroke-width="0.18"><text x="45.00" y="390.05" text-anchor="middle">0</text><text x="109.73" y="390.05" text-anchor="middle">0.1</text><text x="174.45" y="390.05" text-anchor="middle">0.2</text><text x="239.18" y="390.05" text-anchor="middle">0.3</text><text x="303.91" y="390.05" text-anchor="middle">0.4</text><text x="368.64" y="390.05" text-anchor="middle">0.5</text><text x="41.5" y="380.55" text-anchor="end">-200</text><text x="41.5" y="358.88" text-anchor="end">-100</text><text x="42.0" y="337.20" text-anchor="end">0</text><text x="41.5" y="315.52" text-anchor="end">100</text><text x="41.5" y="293.85" text-anchor="end">200</text></g>
<rect x="347.0" y="295.5" width="48.0" height="55.30000000000001" fill="#fff" stroke="#8a8a8a" stroke-width="0.9"/>
<line x1="349.3" y1="305.7" x2="370.5" y2="305.7" stroke="#80bce8" stroke-width="1.2"/>
<text x="372.5" y="310.10" font-family="Liberation Serif, serif" font-size="16" fill="#111" stroke="#111" stroke-width="0.3"><tspan font-style="italic">v</tspan></text>
<text x="379.50" y="312.10" font-family="Liberation Serif, serif" font-size="11.5" fill="#111" stroke="#111" stroke-width="0.25" textLength="6.90" lengthAdjust="spacingAndGlyphs">C</text>
<line x1="349.3" y1="323.5" x2="370.5" y2="323.5" stroke="#eea585" stroke-width="1.2"/>
<text x="372.5" y="327.90" font-family="Liberation Serif, serif" font-size="16" fill="#111" stroke="#111" stroke-width="0.3"><tspan font-style="italic">v</tspan></text>
<text x="379.50" y="329.90" font-family="Liberation Serif, serif" font-size="11.5" fill="#111" stroke="#111" stroke-width="0.25" textLength="11.50" lengthAdjust="spacingAndGlyphs">C1</text>
<line x1="349.3" y1="341.2" x2="370.5" y2="341.2" stroke="#f2c66a" stroke-width="1.2"/>
<text x="372.5" y="345.60" font-family="Liberation Serif, serif" font-size="16" fill="#111" stroke="#111" stroke-width="0.3"><tspan font-style="italic">v</tspan></text>
<text x="379.50" y="347.60" font-family="Liberation Serif, serif" font-size="11.5" fill="#111" stroke="#111" stroke-width="0.25" textLength="12.10" lengthAdjust="spacingAndGlyphs">C2</text>
<text x="223" y="284.90" text-anchor="middle" font-family="Liberation Serif, serif" font-size="11.6" fill="#111" stroke="#111" stroke-width="0.28" textLength="137.6" lengthAdjust="spacingAndGlyphs">Switching capacitor voltages</text>
<text x="223" y="406.25" text-anchor="middle" font-family="Liberation Serif, serif" font-size="15.6" fill="#111" stroke="#111" stroke-width="0.25" textLength="22.3" lengthAdjust="spacingAndGlyphs"><tspan font-style="italic">t</tspan> [s]</text>
<text transform="translate(19.4,334.20) rotate(-90)" text-anchor="middle" font-family="Liberation Serif, serif" font-size="15" fill="#333" stroke="#333" stroke-width="0.05" textLength="44.5" lengthAdjust="spacingAndGlyphs"><tspan font-style="italic">v</tspan>(<tspan font-style="italic">t</tspan>) [V]</text>
<rect x="45.0" y="426.45" width="356.0" height="86.7" fill="#fff"/>
<path d="M57.95,426.45V513.15M70.89,426.45V513.15M83.84,426.45V513.15M96.78,426.45V513.15M122.67,426.45V513.15M135.62,426.45V513.15M148.56,426.45V513.15M161.51,426.45V513.15M187.40,426.45V513.15M200.35,426.45V513.15M213.29,426.45V513.15M226.24,426.45V513.15M252.13,426.45V513.15M265.07,426.45V513.15M278.02,426.45V513.15M290.96,426.45V513.15M316.85,426.45V513.15M329.80,426.45V513.15M342.75,426.45V513.15M355.69,426.45V513.15M381.58,426.45V513.15M394.53,426.45V513.15M45.0,507.73H401.0M45.0,502.31H401.0M45.0,496.89H401.0M45.0,486.06H401.0M45.0,480.64H401.0M45.0,475.22H401.0M45.0,464.38H401.0M45.0,458.96H401.0M45.0,453.54H401.0M45.0,442.71H401.0M45.0,437.29H401.0M45.0,431.87H401.0" stroke="#dcdcdc" stroke-width="0.55" stroke-dasharray="1,1.3" fill="none"/>
<path d="M109.73,426.45V513.15M174.45,426.45V513.15M239.18,426.45V513.15M303.91,426.45V513.15M368.64,426.45V513.15M45.0,491.48H401.0M45.0,469.80H401.0M45.0,448.12H401.0" stroke="#e2e2e2" stroke-width="0.8" fill="none"/>
<g clip-path="url(#c3)">
<polygon points="45.0,454.2 45.2,453.2 45.4,452.3 45.5,451.6 45.7,450.9 45.9,450.3 46.1,449.9 46.2,449.5 46.4,449.3 46.6,449.1 46.8,449.1 47.0,449.2 47.1,449.4 47.3,449.8 47.5,450.2 47.7,450.7 47.8,451.4 48.0,452.1 48.2,452.9 48.4,453.8 48.6,454.8 48.7,455.8 48.9,456.9 49.1,458.0 49.3,459.2 49.5,460.4 49.6,459.9 49.8,458.1 50.0,456.4 50.2,454.7 50.3,452.9 50.5,451.3 50.7,449.6 50.9,448.1 51.1,446.6 51.2,445.1 51.4,443.8 51.6,442.5 51.8,441.4 51.9,440.4 52.1,439.5 52.3,438.7 52.5,438.0 52.7,437.5 52.8,437.1 53.0,436.9 53.2,436.8 53.4,436.8 53.5,437.0 53.7,437.3 53.9,437.8 54.1,438.4 54.3,439.1 54.4,439.9 54.6,440.9 54.8,441.9 55.0,443.1 55.1,444.3 55.3,445.6 55.5,447.0 55.7,448.4 55.9,449.9 56.0,451.4 56.2,452.9 56.4,454.4 56.6,456.0 56.7,457.5 56.9,457.1 57.1,455.8 57.3,454.5 57.5,453.4 57.6,452.2 57.8,451.2 58.0,450.2 58.2,449.3 58.4,448.5 58.5,447.8 58.7,447.2 58.9,446.7 59.1,446.2 59.2,446.0 59.4,445.8 59.6,445.7 59.8,445.8 60.0,445.9 60.1,446.2 60.3,446.6 60.5,447.1 60.7,447.7 60.8,448.3 61.0,449.1 61.2,450.0 61.4,450.9 61.6,452.0 61.7,453.1 61.9,454.2 62.1,455.4 62.3,456.4 62.4,454.8 62.6,453.2 62.8,451.5 63.0,449.8 63.2,448.2 63.3,446.6 63.5,445.0 63.7,443.4 63.9,441.9 64.0,440.5 64.2,439.2 64.4,438.0 64.6,436.8 64.8,435.8 64.9,434.9 65.1,434.1 65.3,433.4 65.5,432.9 65.6,432.5 65.8,432.2 66.0,432.1 66.2,432.2 66.4,432.3 66.5,432.6 66.7,433.1 66.9,433.6 67.1,434.3 67.2,435.2 67.4,436.1 67.6,437.2 67.8,438.3 68.0,439.6 68.1,440.9 68.3,442.3 68.5,443.8 68.7,445.3 68.9,446.9 69.0,448.5 69.2,450.1 69.4,451.8 69.6,453.4 69.7,455.0 69.9,455.4 70.1,454.2 70.3,453.0 70.5,451.9 70.6,450.8 70.8,449.8 71.0,448.9 71.2,448.1 71.3,447.3 71.5,446.7 71.7,446.1 71.9,445.7 72.1,445.4 72.2,445.1 72.4,445.0 72.6,445.0 72.8,445.2 72.9,445.4 73.1,445.7 73.3,446.2 73.5,446.7 73.7,447.4 73.8,448.2 74.0,449.0 74.2,450.0 74.4,451.0 74.5,452.0 74.7,453.2 74.9,454.4 75.1,455.6 75.3,455.9 75.4,454.4 75.6,452.8 75.8,451.2 76.0,449.7 76.2,448.1 76.3,446.6 76.5,445.1 76.7,443.7 76.9,442.3 77.0,441.0 77.2,439.8 77.4,438.7 77.6,437.7 77.8,436.8 77.9,436.0 78.1,435.3 78.3,434.8 78.5,434.4 78.6,434.1 78.8,434.0 79.0,434.0 79.2,434.1 79.4,434.4 79.5,434.9 79.7,435.4 79.9,436.1 80.1,437.0 80.2,437.9 80.4,439.0 80.6,440.1 80.8,441.4 81.0,442.8 81.1,444.2 81.3,445.8 81.5,447.3 81.7,449.0 81.8,450.6 82.0,452.3 82.2,454.0 82.4,455.8 82.6,457.5 82.7,458.0 82.9,456.8 83.1,455.6 83.3,454.5 83.4,453.4 83.6,452.4 83.8,451.5 84.0,450.6 84.2,449.9 84.3,449.2 84.5,448.6 84.7,448.1 84.9,447.8 85.1,447.5 85.2,447.4 85.4,447.3 85.6,447.4 85.8,447.6 85.9,447.9 86.1,448.3 86.3,448.8 86.5,449.4 86.7,450.2 86.8,451.0 87.0,451.9 87.2,452.9 87.4,453.9 87.5,455.1 87.7,456.3 87.9,457.5 88.1,458.8 88.3,460.1 88.4,460.3 88.6,458.8 88.8,457.3 89.0,455.8 89.1,454.3 89.3,452.9 89.5,451.5 89.7,450.1 89.9,448.9 90.0,447.6 90.2,446.5 90.4,445.5 90.6,444.6 90.7,443.8 90.9,443.1 91.1,442.5 91.3,442.1 91.5,441.8 91.6,441.6 91.8,441.6 92.0,441.7 92.2,442.0 92.3,442.4 92.5,442.9 92.7,443.6 92.9,444.4 93.1,445.3 93.2,446.3 93.4,447.5 93.6,448.8 93.8,450.1 93.9,451.6 94.1,453.1 94.3,454.7 94.5,456.3 94.7,458.0 94.8,459.8 95.0,461.5 95.2,463.3 95.4,464.3 95.6,463.0 95.7,461.8 95.9,460.6 96.1,459.5 96.3,458.4 96.4,457.4 96.6,456.4 96.8,455.5 97.0,454.7 97.2,454.0 97.3,453.3 97.5,452.8 97.7,452.4 97.9,452.0 98.0,451.8 98.2,451.7 98.4,451.7 98.6,451.9 98.8,452.1 98.9,452.5 99.1,452.9 99.3,453.5 99.5,454.2 99.6,454.9 99.8,455.8 100.0,456.7 100.2,457.8 100.4,458.9 100.5,460.0 100.7,461.3 100.9,462.5 101.1,463.8 101.2,465.2 101.4,466.6 101.6,467.9 101.8,467.1 102.0,465.7 102.1,464.2 102.3,462.8 102.5,461.5 102.7,460.2 102.8,458.9 103.0,457.8 103.2,456.7 103.4,455.7 103.6,454.9 103.7,454.1 103.9,453.5 104.1,452.9 104.3,452.6 104.5,452.3 104.6,452.2 104.8,452.2 105.0,452.4 105.2,452.7 105.3,453.1 105.5,453.7 105.7,454.4 105.9,455.3 106.1,456.2 106.2,457.3 106.4,458.5 106.6,459.8 106.8,461.2 106.9,462.7 107.1,464.2 107.3,465.8 107.5,467.5 107.7,469.2 107.8,471.0 108.0,471.3 108.2,470.1 108.4,468.8 108.5,467.6 108.7,466.4 108.9,465.2 109.1,464.1 109.3,463.0 109.4,462.0 109.6,461.0 109.8,460.2 110.0,459.4 110.1,458.7 110.3,458.1 110.5,457.6 110.7,457.1 110.9,456.8 111.0,456.7 111.2,456.6 111.4,456.6 111.6,456.8 111.8,457.0 111.9,457.4 112.1,457.9 112.3,458.5 112.5,459.1 112.6,459.9 112.8,460.8 113.0,461.8 113.2,462.8 113.4,463.9 113.5,465.1 113.7,466.3 113.9,467.6 114.1,468.9 114.2,470.2 114.4,471.6 114.6,473.0 114.8,474.3 115.0,475.4 115.1,473.9 115.3,472.5 115.5,471.1 115.7,469.8 115.8,468.5 116.0,467.3 116.2,466.3 116.4,465.3 116.6,464.4 116.7,463.6 116.9,463.0 117.1,462.5 117.3,462.1 117.4,461.8 117.6,461.7 117.8,461.7 118.0,461.9 118.2,462.2 118.3,462.6 118.5,463.2 118.7,463.9 118.9,464.7 119.0,465.7 119.2,466.8 119.4,467.9 119.6,469.2 119.8,470.6 119.9,472.0 120.1,473.5 120.3,475.1 120.5,476.7 120.6,477.5 120.8,476.2 121.0,474.9 121.2,473.7 121.4,472.4 121.5,471.1 121.7,469.9 121.9,468.7 122.1,467.6 122.3,466.5 122.4,465.5 122.6,464.5 122.8,463.6 123.0,462.8 123.1,462.1 123.3,461.5 123.5,461.0 123.7,460.6 123.9,460.3 124.0,460.1 124.2,460.0 124.4,460.1 124.6,460.2 124.7,460.5 124.9,460.8 125.1,461.3 125.3,461.9 125.5,462.6 125.6,463.3 125.8,464.2 126.0,465.2 126.2,466.2 126.3,467.3 126.5,468.4 126.7,469.7 126.9,470.9 127.1,472.2 127.2,473.5 127.4,474.8 127.6,476.2 127.8,477.5 127.9,478.8 128.1,479.4 128.3,477.9 128.5,476.5 128.7,475.1 128.8,473.8 129.0,472.5 129.2,471.4 129.4,470.4 129.6,469.4 129.7,468.6 129.9,467.9 130.1,467.4 130.3,466.9 130.4,466.6 130.6,466.5 130.8,466.5 131.0,466.6 131.2,466.8 131.3,467.2 131.5,467.7 131.7,468.4 131.9,469.2 132.0,470.1 132.2,471.1 132.4,472.2 132.6,473.4 132.8,474.7 132.9,476.1 133.1,477.5 133.3,479.0 133.5,479.9 133.6,478.6 133.8,477.3 134.0,476.0 134.2,474.7 134.4,473.4 134.5,472.1 134.7,470.9 134.9,469.7 135.1,468.5 135.2,467.4 135.4,466.3 135.6,465.3 135.8,464.4 136.0,463.6 136.1,462.9 136.3,462.3 136.5,461.7 136.7,461.3 136.8,461.0 137.0,460.8 137.2,460.7 137.4,460.7 137.6,460.9 137.7,461.1 137.9,461.5 138.1,461.9 138.3,462.5 138.4,463.2 138.6,463.9 138.8,464.8 139.0,465.7 139.2,466.7 139.3,467.8 139.5,468.9 139.7,470.1 139.9,471.3 140.1,472.6 140.2,473.8 140.4,475.1 140.6,476.4 140.8,477.7 140.9,479.0 141.1,478.5 141.3,476.9 141.5,475.4 141.7,473.9 141.8,472.6 142.0,471.3 142.2,470.1 142.4,469.0 142.5,468.0 142.7,467.1 142.9,466.4 143.1,465.7 143.3,465.2 143.4,464.9 143.6,464.7 143.8,464.6 144.0,464.7 144.1,464.9 144.3,465.2 144.5,465.7 144.7,466.3 144.9,467.0 145.0,467.8 145.2,468.8 145.4,469.8 145.6,471.0 145.7,472.2 145.9,473.5 146.1,474.9 146.3,476.3 146.5,477.8 146.6,476.8 146.8,475.4 147.0,474.1 147.2,472.7 147.3,471.4 147.5,470.1 147.7,468.8 147.9,467.5 148.1,466.3 148.2,465.2 148.4,464.1 148.6,463.1 148.8,462.2 149.0,461.4 149.1,460.6 149.3,460.0 149.5,459.5 149.7,459.0 149.8,458.7 150.0,458.5 150.2,458.4 150.4,458.4 150.6,458.6 150.7,458.8 150.9,459.1 151.1,459.6 151.3,460.2 151.4,460.8 151.6,461.6 151.8,462.4 152.0,463.3 152.2,464.3 152.3,465.3 152.5,466.5 152.7,467.6 152.9,468.8 153.0,470.0 153.2,471.3 153.4,472.5 153.6,473.8 153.8,474.7 153.9,473.0 154.1,471.3 154.3,469.7 154.5,468.1 154.6,466.6 154.8,465.2 155.0,463.8 155.2,462.6 155.4,461.5 155.5,460.4 155.7,459.5 155.9,458.8 156.1,458.1 156.2,457.6 156.4,457.2 156.6,457.0 156.8,456.9 157.0,456.9 157.1,457.1 157.3,457.4 157.5,457.8 157.7,458.4 157.9,459.1 158.0,459.9 158.2,460.8 158.4,461.8 158.6,462.9 158.7,464.1 158.9,465.4 159.1,466.7 159.3,468.1 159.5,469.6 159.6,471.0 159.8,471.0 160.0,469.7 160.2,468.3 160.3,466.9 160.5,465.6 160.7,464.3 160.9,463.0 161.1,461.8 161.2,460.7 161.4,459.6 161.6,458.6 161.8,457.7 161.9,456.9 162.1,456.1 162.3,455.5 162.5,455.0 162.7,454.6 162.8,454.3 163.0,454.1 163.2,454.0 163.4,454.0 163.5,454.1 163.7,454.4 163.9,454.8 164.1,455.2 164.3,455.8 164.4,456.5 164.6,457.2 164.8,458.1 165.0,459.0 165.2,460.0 165.3,461.0 165.5,462.1 165.7,463.3 165.9,464.5 166.0,465.7 166.2,466.9 166.4,467.5 166.6,465.7 166.8,463.9 166.9,462.2 167.1,460.5 167.3,458.9 167.5,457.3 167.6,455.8 167.8,454.4 168.0,453.0 168.2,451.8 168.4,450.7 168.5,449.7 168.7,448.8 168.9,448.0 169.1,447.4 169.2,446.9 169.4,446.5 169.6,446.3 169.8,446.2 170.0,446.3 170.1,446.5 170.3,446.8 170.5,447.3 170.7,447.9 170.8,448.6 171.0,449.4 171.2,450.4 171.4,451.4 171.6,452.6 171.7,453.8 171.9,455.1 172.1,456.4 172.3,457.8 172.4,459.2 172.6,460.7 172.8,462.2 173.0,463.7 173.2,463.0 173.3,461.6 173.5,460.3 173.7,459.0 173.9,457.8 174.1,456.6 174.2,455.5 174.4,454.4 174.6,453.5 174.8,452.6 174.9,451.8 175.1,451.1 175.3,450.5 175.5,450.0 175.7,449.6 175.8,449.3 176.0,449.2 176.2,449.1 176.4,449.2 176.5,449.4 176.7,449.7 176.9,450.1 177.1,450.6 177.3,451.2 177.4,451.9 177.6,452.7 177.8,453.5 178.0,454.5 178.1,455.5 178.3,456.6 178.5,457.7 178.7,458.9 178.9,460.1 179.0,460.3 179.2,458.6 179.4,456.9 179.6,455.1 179.7,453.4 179.9,451.7 180.1,450.1 180.3,448.5 180.5,447.0 180.6,445.5 180.8,444.1 181.0,442.9 181.2,441.7 181.3,440.6 181.5,439.7 181.7,438.9 181.9,438.2 182.1,437.6 182.2,437.2 182.4,437.0 182.6,436.8 182.8,436.8 182.9,437.0 183.1,437.2 183.3,437.7 183.5,438.2 183.7,438.9 183.8,439.7 184.0,440.6 184.2,441.6 184.4,442.7 184.6,443.9 184.7,445.2 184.9,446.6 185.1,448.0 185.3,449.5 185.4,451.0 185.6,452.5 185.8,454.0 186.0,455.6 186.2,457.1 186.3,457.4 186.5,456.1 186.7,454.9 186.9,453.7 187.0,452.5 187.2,451.5 187.4,450.5 187.6,449.5 187.8,448.7 187.9,448.0 188.1,447.3 188.3,446.8 188.5,446.3 188.6,446.0 188.8,445.8 189.0,445.7 189.2,445.7 189.4,445.9 189.5,446.1 189.7,446.5 189.9,446.9 190.1,447.5 190.2,448.1 190.4,448.9 190.6,449.7 190.8,450.7 191.0,451.7 191.1,452.8 191.3,453.9 191.5,455.1 191.7,456.3 191.9,455.3 192.0,453.6 192.2,451.9 192.4,450.3 192.6,448.6 192.7,447.0 192.9,445.4 193.1,443.8 193.3,442.3 193.5,440.9 193.6,439.6 193.8,438.3 194.0,437.1 194.2,436.1 194.3,435.1 194.5,434.3 194.7,433.6 194.9,433.0 195.1,432.6 195.2,432.3 195.4,432.1 195.6,432.1 195.8,432.3 195.9,432.5 196.1,432.9 196.3,433.5 196.5,434.1 196.7,434.9 196.8,435.9 197.0,436.9 197.2,438.0 197.4,439.2 197.5,440.6 197.7,441.9 197.9,443.4 198.1,444.9 198.3,446.5 198.4,448.1 198.6,449.7 198.8,451.3 199.0,452.9 199.1,454.5 199.3,455.8 199.5,454.5 199.7,453.3 199.9,452.2 200.0,451.1 200.2,450.1 200.4,449.1 200.6,448.3 200.8,447.5 200.9,446.8 201.1,446.3 201.3,445.8 201.5,445.4 201.6,445.2 201.8,445.0 202.0,445.0 202.2,445.1 202.4,445.3 202.5,445.6 202.7,446.1 202.9,446.6 203.1,447.2 203.2,448.0 203.4,448.8 203.6,449.7 203.8,450.7 204.0,451.7 204.1,452.9 204.3,454.1 204.5,455.3 204.7,456.3 204.8,454.8 205.0,453.2 205.2,451.7 205.4,450.1 205.6,448.5 205.7,447.0 205.9,445.5 206.1,444.1 206.3,442.7 206.4,441.4 206.6,440.1 206.8,439.0 207.0,437.9 207.2,437.0 207.3,436.2 207.5,435.5 207.7,434.9 207.9,434.5 208.0,434.1 208.2,434.0 208.4,434.0 208.6,434.1 208.8,434.3 208.9,434.7 209.1,435.3 209.3,435.9 209.5,436.7 209.7,437.6 209.8,438.7 210.0,439.8 210.2,441.1 210.4,442.4 210.5,443.8 210.7,445.3 210.9,446.9 211.1,448.5 211.3,450.2 211.4,451.9 211.6,453.6 211.8,455.3 212.0,457.0 212.1,458.4 212.3,457.2 212.5,456.0 212.7,454.8 212.9,453.7 213.0,452.7 213.2,451.8 213.4,450.9 213.6,450.1 213.7,449.4 213.9,448.8 214.1,448.3 214.3,447.9 214.5,447.6 214.6,447.4 214.8,447.3 215.0,447.4 215.2,447.5 215.3,447.8 215.5,448.2 215.7,448.7 215.9,449.3 216.1,450.0 216.2,450.7 216.4,451.6 216.6,452.6 216.8,453.7 216.9,454.8 217.1,456.0 217.3,457.2 217.5,458.5 217.7,459.8 217.8,460.7 218.0,459.2 218.2,457.7 218.4,456.2 218.5,454.7 218.7,453.3 218.9,451.9 219.1,450.5 219.3,449.2 219.4,448.0 219.6,446.8 219.8,445.8 220.0,444.8 220.2,444.0 220.3,443.3 220.5,442.7 220.7,442.2 220.9,441.9 221.0,441.7 221.2,441.6 221.4,441.7 221.6,441.9 221.8,442.2 221.9,442.7 222.1,443.4 222.3,444.1 222.5,445.0 222.6,446.0 222.8,447.2 223.0,448.4 223.2,449.7 223.4,451.2 223.5,452.7 223.7,454.2 223.9,455.9 224.1,457.6 224.2,459.3 224.4,461.0 224.6,462.8 224.8,464.6 225.0,463.4 225.1,462.1 225.3,460.9 225.5,459.8 225.7,458.7 225.8,457.6 226.0,456.7 226.2,455.7 226.4,454.9 226.6,454.2 226.7,453.5 226.9,452.9 227.1,452.5 227.3,452.1 227.5,451.9 227.6,451.7 227.8,451.7 228.0,451.8 228.2,452.0 228.3,452.4 228.5,452.8 228.7,453.3 228.9,454.0 229.1,454.7 229.2,455.5 229.4,456.5 229.6,457.5 229.8,458.6 229.9,459.7 230.1,460.9 230.3,462.2 230.5,463.5 230.7,464.8 230.8,466.2 231.0,467.6 231.2,467.5 231.4,466.1 231.5,464.6 231.7,463.2 231.9,461.8 232.1,460.5 232.3,459.3 232.4,458.1 232.6,457.0 232.8,456.0 233.0,455.1 233.1,454.3 233.3,453.6 233.5,453.1 233.7,452.7 233.9,452.4 234.0,452.2 234.2,452.2 234.4,452.3 234.6,452.6 234.7,453.0 234.9,453.6 235.1,454.2 235.3,455.0 235.5,456.0 235.6,457.0 235.8,458.2 236.0,459.5 236.2,460.8 236.3,462.3 236.5,463.8 236.7,465.4 236.9,467.1 237.1,468.8 237.2,470.5 237.4,471.7 237.6,470.4 237.8,469.2 238.0,467.9 238.1,466.7 238.3,465.5 238.5,464.4 238.7,463.3 238.8,462.3 239.0,461.3 239.2,460.4 239.4,459.6 239.6,458.9 239.7,458.2 239.9,457.7 240.1,457.2 240.3,456.9 240.4,456.7 240.6,456.6 240.8,456.6 241.0,456.7 241.2,456.9 241.3,457.3 241.5,457.7 241.7,458.3 241.9,459.0 242.0,459.7 242.2,460.6 242.4,461.5 242.6,462.5 242.8,463.6 242.9,464.8 243.1,466.0 243.3,467.2 243.5,468.5 243.6,469.9 243.8,471.2 244.0,472.6 244.2,474.0 244.4,475.3 244.5,474.3 244.7,472.8 244.9,471.5 245.1,470.1 245.2,468.8 245.4,467.6 245.6,466.5 245.8,465.5 246.0,464.6 246.1,463.8 246.3,463.2 246.5,462.6 246.7,462.2 246.9,461.9 247.0,461.7 247.2,461.7 247.4,461.8 247.6,462.1 247.7,462.5 247.9,463.0 248.1,463.7 248.3,464.5 248.5,465.4 248.6,466.5 248.8,467.6 249.0,468.8 249.2,470.2 249.3,471.6 249.5,473.1 249.7,474.7 249.9,476.3 250.1,477.8 250.2,476.5 250.4,475.3 250.6,474.0 250.8,472.7 250.9,471.5 251.1,470.2 251.3,469.0 251.5,467.9 251.7,466.8 251.8,465.7 252.0,464.8 252.2,463.9 252.4,463.0 252.5,462.3 252.7,461.7 252.9,461.1 253.1,460.7 253.3,460.4 253.4,460.1 253.6,460.0 253.8,460.0 254.0,460.1 254.1,460.4 254.3,460.7 254.5,461.2 254.7,461.7 254.9,462.4 255.0,463.1 255.2,464.0 255.4,464.9 255.6,465.9 255.8,467.0 255.9,468.1 256.1,469.3 256.3,470.6 256.5,471.8 256.6,473.1 256.8,474.5 257.0,475.8 257.2,477.1 257.4,478.5 257.5,479.8 257.7,478.3 257.9,476.9 258.1,475.5 258.2,474.1 258.4,472.9 258.6,471.7 258.8,470.6 259.0,469.7 259.1,468.8 259.3,468.1 259.5,467.5 259.7,467.1 259.8,466.7 260.0,466.5 260.2,466.5 260.4,466.5 260.6,466.7 260.7,467.1 260.9,467.6 261.1,468.2 261.3,469.0 261.4,469.8 261.6,470.8 261.8,471.9 262.0,473.1 262.2,474.4 262.3,475.7 262.5,477.1 262.7,478.6 262.9,480.2 263.1,479.0 263.2,477.7 263.4,476.4 263.6,475.1 263.8,473.8 263.9,472.5 264.1,471.2 264.3,470.0 264.5,468.8 264.7,467.7 264.8,466.6 265.0,465.6 265.2,464.7 265.4,463.8 265.5,463.1 265.7,462.4 265.9,461.9 266.1,461.4 266.3,461.1 266.4,460.8 266.6,460.7 266.8,460.7 267.0,460.8 267.1,461.0 267.3,461.4 267.5,461.8 267.7,462.4 267.9,463.0 268.0,463.7 268.2,464.5 268.4,465.5 268.6,466.4 268.7,467.5 268.9,468.6 269.1,469.8 269.3,471.0 269.5,472.2 269.6,473.5 269.8,474.8 270.0,476.1 270.2,477.4 270.3,478.6 270.5,478.9 270.7,477.3 270.9,475.8 271.1,474.3 271.2,472.9 271.4,471.6 271.6,470.4 271.8,469.2 271.9,468.2 272.1,467.3 272.3,466.5 272.5,465.9 272.7,465.4 272.8,465.0 273.0,464.7 273.2,464.6 273.4,464.6 273.6,464.8 273.7,465.1 273.9,465.5 274.1,466.1 274.3,466.8 274.4,467.6 274.6,468.5 274.8,469.5 275.0,470.7 275.2,471.9 275.3,473.2 275.5,474.5 275.7,475.9 275.9,477.4 276.0,477.1 276.2,475.8 276.4,474.4 276.6,473.1 276.8,471.7 276.9,470.4 277.1,469.1 277.3,467.9 277.5,466.6 277.6,465.5 277.8,464.4 278.0,463.4 278.2,462.4 278.4,461.6 278.5,460.8 278.7,460.2 278.9,459.6 279.1,459.1 279.2,458.8 279.4,458.5 279.6,458.4 279.8,458.4 280.0,458.5 280.1,458.7 280.3,459.0 280.5,459.5 280.7,460.0 280.9,460.6 281.0,461.3 281.2,462.2 281.4,463.1 281.6,464.0 281.7,465.1 281.9,466.1 282.1,467.3 282.3,468.5 282.5,469.7 282.6,470.9 282.8,472.2 283.0,473.4 283.2,474.7 283.3,473.5 283.5,471.8 283.7,470.1 283.9,468.5 284.1,467.0 284.2,465.6 284.4,464.2 284.6,462.9 284.8,461.8 284.9,460.7 285.1,459.8 285.3,459.0 285.5,458.3 285.7,457.7 285.8,457.3 286.0,457.0 286.2,456.9 286.4,456.9 286.5,457.0 286.7,457.3 286.9,457.7 287.1,458.2 287.3,458.9 287.4,459.7 287.6,460.6 287.8,461.5 288.0,462.6 288.1,463.8 288.3,465.1 288.5,466.4 288.7,467.8 288.9,469.2 289.0,470.6 289.2,471.4 289.4,470.0 289.6,468.7 289.8,467.3 289.9,466.0 290.1,464.6 290.3,463.4 290.5,462.2 290.6,461.0 290.8,459.9 291.0,458.9 291.2,457.9 291.4,457.1 291.5,456.3 291.7,455.7 291.9,455.1 292.1,454.7 292.2,454.3 292.4,454.1 292.6,454.0 292.8,454.0 293.0,454.1 293.1,454.3 293.3,454.6 293.5,455.1 293.7,455.6 293.8,456.3 294.0,457.0 294.2,457.8 294.4,458.7 294.6,459.7 294.7,460.7 294.9,461.8 295.1,463.0 295.3,464.1 295.4,465.4 295.6,466.6 295.8,467.8 296.0,466.2 296.2,464.4 296.3,462.7 296.5,461.0 296.7,459.3 296.9,457.7 297.0,456.2 297.2,454.8 297.4,453.4 297.6,452.1 297.8,451.0 297.9,449.9 298.1,449.0 298.3,448.2 298.5,447.5 298.6,447.0 298.8,446.6 299.0,446.4 299.2,446.2 299.4,446.3 299.5,446.4 299.7,446.7 299.9,447.2 300.1,447.7 300.3,448.4 300.4,449.2 300.6,450.1 300.8,451.1 301.0,452.2 301.1,453.4 301.3,454.7 301.5,456.0 301.7,457.4 301.9,458.8 302.0,460.3 302.2,461.8 302.4,463.3 302.6,463.4 302.7,462.0 302.9,460.7 303.1,459.4 303.3,458.1 303.5,456.9 303.6,455.8 303.8,454.7 304.0,453.7 304.2,452.8 304.3,452.0 304.5,451.3 304.7,450.6 304.9,450.1 305.1,449.7 305.2,449.4 305.4,449.2 305.6,449.1 305.8,449.2 305.9,449.3 306.1,449.6 306.3,449.9 306.5,450.4 306.7,451.0 306.8,451.7 307.0,452.4 307.2,453.3 307.4,454.2 307.6,455.2 307.7,456.3 307.9,457.4 308.1,458.6 308.3,459.8 308.4,460.8 308.6,459.1 308.8,457.3 309.0,455.6 309.2,453.9 309.3,452.2 309.5,450.5 309.7,448.9 309.9,447.4 310.0,445.9 310.2,444.5 310.4,443.2 310.6,442.0 310.8,440.9 310.9,439.9 311.1,439.1 311.3,438.4 311.5,437.8 311.6,437.3 311.8,437.0 312.0,436.8 312.2,436.8 312.4,436.9 312.5,437.2 312.7,437.5 312.9,438.1 313.1,438.7 313.2,439.5 313.4,440.3 313.6,441.3 313.8,442.4 314.0,443.6 314.1,444.9 314.3,446.2 314.5,447.6 314.7,449.1 314.8,450.6 315.0,452.1 315.2,453.6 315.4,455.1 315.6,456.7 315.7,457.8 315.9,456.5 316.1,455.2 316.3,454.0 316.4,452.8 316.6,451.8 316.8,450.7 317.0,449.8 317.2,448.9 317.3,448.2 317.5,447.5 317.7,446.9 317.9,446.5 318.1,446.1 318.2,445.9 318.4,445.7 318.6,445.7 318.8,445.8 318.9,446.0 319.1,446.4 319.3,446.8 319.5,447.3 319.7,448.0 319.8,448.7 320.0,449.5 320.2,450.4 320.4,451.4 320.5,452.5 320.7,453.6 320.9,454.7 321.1,455.9 321.3,455.7 321.4,454.1 321.6,452.4 321.8,450.7 322.0,449.1 322.1,447.4 322.3,445.8 322.5,444.3 322.7,442.7 322.9,441.3 323.0,439.9 323.2,438.6 323.4,437.4 323.6,436.4 323.7,435.4 323.9,434.5 324.1,433.8 324.3,433.2 324.5,432.7 324.6,432.4 324.8,432.2 325.0,432.1 325.2,432.2 325.4,432.4 325.5,432.8 325.7,433.3 325.9,433.9 326.1,434.7 326.2,435.6 326.4,436.6 326.6,437.7 326.8,438.9 327.0,440.2 327.1,441.6 327.3,443.0 327.5,444.5 327.7,446.1 327.8,447.6 328.0,449.3 328.2,450.9 328.4,452.5 328.6,454.1 328.7,455.7 328.9,454.8 329.1,453.6 329.3,452.5 329.4,451.4 329.6,450.3 329.8,449.4 330.0,448.5 330.2,447.7 330.3,447.0 330.5,446.4 330.7,445.9 330.9,445.5 331.0,445.2 331.2,445.1 331.4,445.0 331.6,445.1 331.8,445.2 331.9,445.5 332.1,445.9 332.3,446.4 332.5,447.0 332.6,447.7 332.8,448.5 333.0,449.4 333.2,450.4 333.4,451.4 333.5,452.6 333.7,453.7 333.9,455.0 334.1,456.2 334.2,455.2 334.4,453.7 334.6,452.1 334.8,450.5 335.0,449.0 335.1,447.4 335.3,445.9 335.5,444.4 335.7,443.0 335.9,441.7 336.0,440.4 336.2,439.3 336.4,438.2 336.6,437.2 336.7,436.4 336.9,435.6 337.1,435.0 337.3,434.6 337.5,434.2 337.6,434.0 337.8,433.9 338.0,434.0 338.2,434.2 338.3,434.6 338.5,435.1 338.7,435.7 338.9,436.5 339.1,437.4 339.2,438.4 339.4,439.5 339.6,440.7 339.8,442.0 339.9,443.4 340.1,444.9 340.3,446.5 340.5,448.1 340.7,449.7 340.8,451.4 341.0,453.1 341.2,454.8 341.4,456.5 341.5,458.2 341.7,457.5 341.9,456.3 342.1,455.1 342.3,454.0 342.4,453.0 342.6,452.0 342.8,451.1 343.0,450.3 343.1,449.6 343.3,448.9 343.5,448.4 343.7,448.0 343.9,447.6 344.0,447.4 344.2,447.3 344.4,447.3 344.6,447.5 344.8,447.7 344.9,448.1 345.1,448.5 345.3,449.1 345.5,449.8 345.6,450.5 345.8,451.4 346.0,452.3 346.2,453.4 346.4,454.5 346.5,455.6 346.7,456.8 346.9,458.1 347.1,459.4 347.2,460.8 347.4,459.6 347.6,458.1 347.8,456.6 348.0,455.1 348.1,453.7 348.3,452.2 348.5,450.9 348.7,449.5 348.8,448.3 349.0,447.1 349.2,446.1 349.4,445.1 349.6,444.2 349.7,443.5 349.9,442.8 350.1,442.3 350.3,441.9 350.4,441.7 350.6,441.6 350.8,441.6 351.0,441.8 351.2,442.1 351.3,442.6 351.5,443.2 351.7,443.9 351.9,444.8 352.1,445.8 352.2,446.9 352.4,448.1 352.6,449.4 352.8,450.8 352.9,452.3 353.1,453.8 353.3,455.4 353.5,457.1 353.7,458.8 353.8,460.6 354.0,462.3 354.2,464.1 354.4,463.7 354.5,462.5 354.7,461.3 354.9,460.1 355.1,459.0 355.3,457.9 355.4,456.9 355.6,456.0 355.8,455.1 356.0,454.3 356.1,453.7 356.3,453.1 356.5,452.6 356.7,452.2 356.9,451.9 357.0,451.8 357.2,451.7 357.4,451.8 357.6,452.0 357.7,452.3 357.9,452.7 358.1,453.2 358.3,453.8 358.5,454.5 358.6,455.3 358.8,456.2 359.0,457.2 359.2,458.2 359.3,459.4 359.5,460.6 359.7,461.8 359.9,463.1 360.1,464.5 360.2,465.8 360.4,467.2 360.6,467.9 360.8,466.5 360.9,465.0 361.1,463.6 361.3,462.2 361.5,460.9 361.7,459.6 361.8,458.4 362.0,457.3 362.2,456.2 362.4,455.3 362.6,454.5 362.7,453.8 362.9,453.2 363.1,452.8 363.3,452.4 363.4,452.2 363.6,452.2 363.8,452.3 364.0,452.5 364.2,452.9 364.3,453.4 364.5,454.0 364.7,454.8 364.9,455.7 365.0,456.7 365.2,457.9 365.4,459.1 365.6,460.4 365.8,461.9 365.9,463.4 366.1,465.0 366.3,466.6 366.5,468.3 366.6,470.0 366.8,471.8 367.0,470.8 367.2,469.5 367.4,468.3 367.5,467.1 367.7,465.9 367.9,464.7 368.1,463.6 368.2,462.5 368.4,461.6 368.6,460.6 368.8,459.8 369.0,459.0 369.1,458.4 369.3,457.8 369.5,457.4 369.7,457.0 369.9,456.7 370.0,456.6 370.2,456.6 370.4,456.7 370.6,456.9 370.7,457.2 370.9,457.6 371.1,458.1 371.3,458.8 371.5,459.5 371.6,460.3 371.8,461.2 372.0,462.2 372.2,463.3 372.3,464.4 372.5,465.6 372.7,466.9 372.9,468.2 373.1,469.5 373.2,470.9 373.4,472.2 373.6,473.6 373.8,475.0 373.9,474.7 374.1,473.2 374.3,471.8 374.5,470.5 374.7,469.2 374.8,468.0 375.0,466.8 375.2,465.8 375.4,464.9 375.5,464.0 375.7,463.3 375.9,462.7 376.1,462.3 376.3,461.9 376.4,461.8 376.6,461.7 376.8,461.8 377.0,462.0 377.1,462.4 377.3,462.9 377.5,463.5 377.7,464.3 377.9,465.2 378.0,466.2 378.2,467.3 378.4,468.5 378.6,469.8 378.8,471.2 378.9,472.7 379.1,474.2 379.3,475.8 379.5,477.5 379.6,476.9 379.8,475.6 380.0,474.4 380.2,473.1 380.4,471.8 380.5,470.6 380.7,469.4 380.9,468.2 381.1,467.1 381.2,466.0 381.4,465.0 381.6,464.1 381.8,463.2 382.0,462.5 382.1,461.8 382.3,461.3 382.5,460.8 382.7,460.4 382.8,460.2 383.0,460.0 383.2,460.0 383.4,460.1 383.6,460.3 383.7,460.6 383.9,461.0 384.1,461.6 384.3,462.2 384.4,462.9 384.6,463.7 384.8,464.6 385.0,465.6 385.2,466.7 385.3,467.8 385.5,469.0 385.7,470.2 385.9,471.5 386.0,472.8 386.2,474.1 386.4,475.4 386.6,476.8 386.8,478.1 386.9,479.4 387.1,478.7 387.3,477.2 387.5,475.8 387.6,474.5 387.8,473.2 388.0,472.0 388.2,470.9 388.4,469.9 388.5,469.1 388.7,468.3 388.9,467.7 389.1,467.2 389.3,466.8 389.4,466.6 389.6,466.5 389.8,466.5 390.0,466.7 390.1,467.0 390.3,467.4 390.5,468.0 390.7,468.7 390.9,469.6 391.0,470.5 391.2,471.6 391.4,472.7 391.6,474.0 391.7,475.3 391.9,476.7 392.1,478.2 392.3,479.7 392.5,479.3 392.6,478.1 392.8,476.7 393.0,475.4 393.2,474.1 393.3,472.8 393.5,471.6 393.7,470.3 393.9,469.1 394.1,468.0 394.2,466.9 394.4,465.9 394.6,464.9 394.8,464.1 394.9,463.3 395.1,462.6 395.3,462.0 395.5,461.5 395.7,461.2 395.8,460.9 396.0,460.8 396.2,460.7 396.4,460.8 396.6,461.0 396.7,461.3 396.9,461.7 397.1,462.2 397.3,462.8 397.4,463.5 397.6,464.3 397.8,465.2 398.0,466.2 398.2,467.2 398.3,468.3 398.5,469.4 398.7,470.6 398.9,471.9 399.0,473.1 399.2,474.4 399.4,475.7 399.6,477.0 399.8,478.3 399.9,479.4 400.1,477.8 400.3,476.2 400.5,474.7 400.6,473.3 400.8,472.0 401.0,470.7 401.0,489.6 400.8,488.7 400.6,487.6 400.5,486.6 400.3,485.4 400.1,484.2 399.9,483.0 399.8,484.5 399.6,486.1 399.4,487.8 399.2,489.5 399.0,491.1 398.9,492.7 398.7,494.3 398.5,495.9 398.3,497.4 398.2,498.8 398.0,500.1 397.8,501.4 397.6,502.5 397.4,503.6 397.3,504.5 397.1,505.3 396.9,506.0 396.7,506.6 396.6,507.0 396.4,507.2 396.2,507.4 396.0,507.4 395.8,507.2 395.7,506.9 395.5,506.5 395.3,506.0 395.1,505.3 394.9,504.5 394.8,503.5 394.6,502.5 394.4,501.3 394.2,500.1 394.1,498.8 393.9,497.4 393.7,495.9 393.5,494.4 393.3,492.8 393.2,491.2 393.0,489.6 392.8,488.0 392.6,486.4 392.5,484.8 392.3,484.1 392.1,485.3 391.9,486.5 391.7,487.6 391.6,488.7 391.4,489.7 391.2,490.6 391.0,491.5 390.9,492.2 390.7,492.9 390.5,493.5 390.3,493.9 390.1,494.3 390.0,494.5 389.8,494.6 389.6,494.6 389.4,494.5 389.3,494.3 389.1,493.9 388.9,493.5 388.7,493.0 388.5,492.3 388.4,491.6 388.2,490.7 388.0,489.8 387.8,488.8 387.6,487.7 387.5,486.6 387.3,485.4 387.1,484.1 386.9,483.7 386.8,485.2 386.6,486.8 386.4,488.4 386.2,490.0 386.0,491.5 385.9,493.1 385.7,494.5 385.5,496.0 385.3,497.4 385.2,498.7 385.0,499.9 384.8,501.0 384.6,502.1 384.4,503.0 384.3,503.8 384.1,504.5 383.9,505.0 383.7,505.4 383.6,505.7 383.4,505.9 383.2,505.9 383.0,505.7 382.8,505.5 382.7,505.1 382.5,504.5 382.3,503.8 382.1,503.0 382.0,502.1 381.8,501.0 381.6,499.8 381.4,498.6 381.2,497.2 381.1,495.8 380.9,494.3 380.7,492.7 380.5,491.1 380.4,489.4 380.2,487.7 380.0,486.0 379.8,484.3 379.6,482.6 379.5,481.6 379.3,482.8 379.1,484.0 378.9,485.1 378.8,486.2 378.6,487.2 378.4,488.2 378.2,489.0 378.0,489.8 377.9,490.5 377.7,491.1 377.5,491.6 377.3,492.0 377.1,492.3 377.0,492.4 376.8,492.5 376.6,492.4 376.4,492.2 376.3,491.9 376.1,491.5 375.9,491.0 375.7,490.4 375.5,489.7 375.4,488.9 375.2,488.0 375.0,487.0 374.8,485.9 374.7,484.8 374.5,483.6 374.3,482.4 374.1,481.1 373.9,479.8 373.8,479.6 373.6,481.1 373.4,482.6 373.2,484.1 373.1,485.6 372.9,487.0 372.7,488.5 372.5,489.8 372.3,491.1 372.2,492.3 372.0,493.4 371.8,494.5 371.6,495.4 371.5,496.2 371.3,496.9 371.1,497.5 370.9,497.9 370.7,498.3 370.6,498.4 370.4,498.5 370.2,498.4 370.0,498.1 369.9,497.8 369.7,497.2 369.5,496.6 369.3,495.8 369.1,494.9 369.0,493.9 368.8,492.7 368.6,491.5 368.4,490.1 368.2,488.7 368.1,487.2 367.9,485.6 367.7,483.9 367.5,482.2 367.4,480.5 367.2,478.8 367.0,477.0 366.8,475.5 366.6,476.7 366.5,477.9 366.3,479.1 366.1,480.3 365.9,481.3 365.8,482.4 365.6,483.4 365.4,484.3 365.2,485.1 365.0,485.8 364.9,486.5 364.7,487.0 364.5,487.4 364.3,487.8 364.2,488.0 364.0,488.1 363.8,488.1 363.6,488.0 363.4,487.8 363.3,487.4 363.1,487.0 362.9,486.4 362.7,485.8 362.6,485.0 362.4,484.2 362.2,483.2 362.0,482.2 361.8,481.1 361.7,479.9 361.5,478.7 361.3,477.4 361.1,476.1 360.9,474.8 360.8,473.4 360.6,472.0 360.4,472.9 360.2,474.3 360.1,475.8 359.9,477.2 359.7,478.6 359.5,479.9 359.3,481.1 359.2,482.3 359.0,483.4 358.8,484.3 358.6,485.2 358.5,486.0 358.3,486.6 358.1,487.2 357.9,487.6 357.7,487.8 357.6,487.9 357.4,487.9 357.2,487.8 357.0,487.5 356.9,487.0 356.7,486.5 356.5,485.8 356.3,484.9 356.1,484.0 356.0,482.9 355.8,481.7 355.6,480.4 355.4,479.0 355.3,477.6 355.1,476.0 354.9,474.4 354.7,472.8 354.5,471.1 354.4,469.3 354.2,468.4 354.0,469.6 353.8,470.9 353.7,472.1 353.5,473.3 353.3,474.5 353.1,475.6 352.9,476.7 352.8,477.7 352.6,478.7 352.4,479.6 352.2,480.4 352.1,481.1 351.9,481.7 351.7,482.2 351.5,482.6 351.3,483.0 351.2,483.2 351.0,483.2 350.8,483.2 350.6,483.1 350.4,482.8 350.3,482.5 350.1,482.0 349.9,481.4 349.7,480.7 349.6,480.0 349.4,479.1 349.2,478.1 349.0,477.1 348.8,476.0 348.7,474.8 348.5,473.6 348.3,472.3 348.1,471.0 348.0,469.7 347.8,468.3 347.6,467.0 347.4,465.6 347.2,464.5 347.1,466.0 346.9,467.4 346.7,468.8 346.5,470.1 346.4,471.4 346.2,472.6 346.0,473.7 345.8,474.7 345.6,475.5 345.5,476.3 345.3,477.0 345.1,477.5 344.9,477.9 344.8,478.1 344.6,478.3 344.4,478.3 344.2,478.1 344.0,477.8 343.9,477.4 343.7,476.8 343.5,476.1 343.3,475.3 343.1,474.4 343.0,473.3 342.8,472.1 342.6,470.9 342.4,469.5 342.3,468.1 342.1,466.6 341.9,465.0 341.7,463.4 341.5,462.2 341.4,463.4 341.2,464.7 341.0,466.0 340.8,467.2 340.7,468.5 340.5,469.7 340.3,470.9 340.1,472.1 339.9,473.1 339.8,474.2 339.6,475.1 339.4,476.0 339.2,476.8 339.1,477.5 338.9,478.2 338.7,478.7 338.5,479.1 338.3,479.4 338.2,479.6 338.0,479.7 337.8,479.7 337.6,479.5 337.5,479.3 337.3,478.9 337.1,478.4 336.9,477.9 336.7,477.2 336.6,476.4 336.4,475.6 336.2,474.6 336.0,473.6 335.9,472.5 335.7,471.4 335.5,470.1 335.3,468.9 335.1,467.6 335.0,466.3 334.8,465.0 334.6,463.6 334.4,462.3 334.2,461.0 334.1,460.2 333.9,461.7 333.7,463.2 333.5,464.5 333.4,465.8 333.2,467.1 333.0,468.2 332.8,469.3 332.6,470.2 332.5,471.0 332.3,471.7 332.1,472.3 331.9,472.7 331.8,473.0 331.6,473.2 331.4,473.2 331.2,473.1 331.0,472.9 330.9,472.5 330.7,472.0 330.5,471.3 330.3,470.6 330.2,469.7 330.0,468.7 329.8,467.5 329.6,466.3 329.4,465.0 329.3,463.7 329.1,462.2 328.9,460.7 328.7,459.6 328.6,460.8 328.4,462.1 328.2,463.5 328.0,464.8 327.8,466.1 327.7,467.3 327.5,468.6 327.3,469.8 327.1,471.0 327.0,472.1 326.8,473.2 326.6,474.2 326.4,475.1 326.2,475.9 326.1,476.6 325.9,477.3 325.7,477.8 325.5,478.2 325.4,478.5 325.2,478.7 325.0,478.8 324.8,478.8 324.6,478.7 324.5,478.5 324.3,478.1 324.1,477.6 323.9,477.1 323.7,476.4 323.6,475.7 323.4,474.8 323.2,473.9 323.0,472.9 322.9,471.8 322.7,470.7 322.5,469.5 322.3,468.3 322.1,467.1 322.0,465.8 321.8,464.5 321.6,463.2 321.4,461.9 321.3,460.7 321.1,460.8 320.9,462.4 320.7,463.9 320.5,465.3 320.4,466.7 320.2,468.0 320.0,469.2 319.8,470.3 319.7,471.3 319.5,472.2 319.3,473.0 319.1,473.6 318.9,474.1 318.8,474.4 318.6,474.7 318.4,474.8 318.2,474.7 318.1,474.5 317.9,474.2 317.7,473.7 317.5,473.1 317.3,472.4 317.2,471.6 317.0,470.6 316.8,469.6 316.6,468.4 316.4,467.2 316.3,465.9 316.1,464.5 315.9,463.1 315.7,461.6 315.6,462.6 315.4,463.9 315.2,465.3 315.0,466.6 314.8,468.0 314.7,469.3 314.5,470.6 314.3,471.8 314.1,473.0 314.0,474.2 313.8,475.2 313.6,476.2 313.4,477.2 313.2,478.0 313.1,478.7 312.9,479.4 312.7,479.9 312.5,480.4 312.4,480.7 312.2,480.9 312.0,481.0 311.8,481.0 311.6,480.9 311.5,480.7 311.3,480.3 311.1,479.9 310.9,479.3 310.8,478.7 310.6,477.9 310.4,477.1 310.2,476.2 310.0,475.2 309.9,474.2 309.7,473.1 309.5,471.9 309.3,470.7 309.2,469.5 309.0,468.2 308.8,467.0 308.6,465.7 308.4,464.5 308.3,466.0 308.1,467.7 307.9,469.3 307.7,470.9 307.6,472.4 307.4,473.8 307.2,475.2 307.0,476.4 306.8,477.6 306.7,478.6 306.5,479.5 306.3,480.3 306.1,481.0 305.9,481.5 305.8,481.9 305.6,482.1 305.4,482.3 305.2,482.2 305.1,482.1 304.9,481.8 304.7,481.3 304.5,480.8 304.3,480.1 304.2,479.3 304.0,478.4 303.8,477.4 303.6,476.3 303.5,475.1 303.3,473.8 303.1,472.5 302.9,471.1 302.7,469.7 302.6,468.2 302.4,468.2 302.2,469.6 302.0,471.0 301.9,472.3 301.7,473.6 301.5,475.0 301.3,476.2 301.1,477.4 301.0,478.6 300.8,479.7 300.6,480.7 300.4,481.6 300.3,482.4 300.1,483.2 299.9,483.8 299.7,484.3 299.5,484.8 299.4,485.1 299.2,485.3 299.0,485.4 298.8,485.4 298.6,485.2 298.5,485.0 298.3,484.6 298.1,484.2 297.9,483.6 297.8,483.0 297.6,482.2 297.4,481.4 297.2,480.5 297.0,479.5 296.9,478.4 296.7,477.3 296.5,476.2 296.3,475.0 296.2,473.8 296.0,472.5 295.8,471.4 295.6,473.2 295.4,474.9 295.3,476.7 295.1,478.4 294.9,480.0 294.7,481.6 294.6,483.1 294.4,484.6 294.2,485.9 294.0,487.1 293.8,488.3 293.7,489.3 293.5,490.2 293.3,491.0 293.1,491.6 293.0,492.1 292.8,492.5 292.6,492.7 292.4,492.8 292.2,492.8 292.1,492.6 291.9,492.3 291.7,491.8 291.5,491.2 291.4,490.5 291.2,489.7 291.0,488.8 290.8,487.7 290.6,486.6 290.5,485.4 290.3,484.1 290.1,482.8 289.9,481.4 289.8,480.0 289.6,478.5 289.4,477.0 289.2,475.6 289.0,476.2 288.9,477.6 288.7,478.9 288.5,480.2 288.3,481.5 288.1,482.7 288.0,483.8 287.8,484.8 287.6,485.8 287.4,486.7 287.3,487.5 287.1,488.2 286.9,488.8 286.7,489.4 286.5,489.7 286.4,490.0 286.2,490.2 286.0,490.3 285.8,490.2 285.7,490.0 285.5,489.7 285.3,489.4 285.1,488.9 284.9,488.3 284.8,487.6 284.6,486.8 284.4,485.9 284.2,485.0 284.1,484.0 283.9,482.9 283.7,481.8 283.5,480.6 283.3,479.4 283.2,478.7 283.0,480.4 282.8,482.1 282.6,483.9 282.5,485.6 282.3,487.3 282.1,488.9 281.9,490.5 281.7,492.1 281.6,493.5 281.4,494.9 281.2,496.2 281.0,497.4 280.9,498.5 280.7,499.4 280.5,500.2 280.3,500.9 280.1,501.5 280.0,501.9 279.8,502.2 279.6,502.4 279.4,502.4 279.2,502.3 279.1,502.0 278.9,501.6 278.7,501.1 278.5,500.4 278.4,499.6 278.2,498.7 278.0,497.7 277.8,496.6 277.6,495.4 277.5,494.1 277.3,492.8 277.1,491.4 276.9,489.9 276.8,488.4 276.6,486.9 276.4,485.4 276.2,483.9 276.0,482.4 275.9,481.9 275.7,483.2 275.5,484.5 275.3,485.7 275.2,486.8 275.0,487.9 274.8,488.9 274.6,489.9 274.4,490.7 274.3,491.4 274.1,492.1 273.9,492.7 273.7,493.1 273.6,493.4 273.4,493.7 273.2,493.8 273.0,493.8 272.8,493.6 272.7,493.4 272.5,493.1 272.3,492.6 272.1,492.1 271.9,491.4 271.8,490.7 271.6,489.8 271.4,488.9 271.2,487.9 271.1,486.9 270.9,485.7 270.7,484.6 270.5,483.3 270.3,484.0 270.2,485.7 270.0,487.3 269.8,489.0 269.6,490.7 269.5,492.3 269.3,493.9 269.1,495.5 268.9,497.0 268.7,498.4 268.6,499.8 268.4,501.1 268.2,502.2 268.0,503.3 267.9,504.3 267.7,505.1 267.5,505.8 267.3,506.4 267.1,506.9 267.0,507.2 266.8,507.4 266.6,507.4 266.4,507.3 266.3,507.0 266.1,506.6 265.9,506.1 265.7,505.5 265.5,504.7 265.4,503.8 265.2,502.8 265.0,501.7 264.8,500.4 264.7,499.1 264.5,497.8 264.3,496.3 264.1,494.8 263.9,493.2 263.8,491.7 263.6,490.0 263.4,488.4 263.2,486.8 263.1,485.2 262.9,483.7 262.7,485.0 262.5,486.2 262.3,487.3 262.2,488.4 262.0,489.4 261.8,490.4 261.6,491.3 261.4,492.0 261.3,492.7 261.1,493.3 260.9,493.8 260.7,494.2 260.6,494.4 260.4,494.6 260.2,494.6 260.0,494.5 259.8,494.4 259.7,494.0 259.5,493.6 259.3,493.1 259.1,492.5 259.0,491.8 258.8,491.0 258.6,490.1 258.4,489.1 258.2,488.0 258.1,486.9 257.9,485.7 257.7,484.5 257.5,483.3 257.4,484.8 257.2,486.4 257.0,488.0 256.8,489.5 256.6,491.1 256.5,492.6 256.3,494.1 256.1,495.6 255.9,497.0 255.8,498.3 255.6,499.6 255.4,500.7 255.2,501.8 255.0,502.7 254.9,503.6 254.7,504.3 254.5,504.9 254.3,505.3 254.1,505.7 254.0,505.9 253.8,505.9 253.6,505.8 253.4,505.6 253.3,505.2 253.1,504.7 252.9,504.0 252.7,503.2 252.5,502.3 252.4,501.3 252.2,500.2 252.0,498.9 251.8,497.6 251.7,496.2 251.5,494.7 251.3,493.1 251.1,491.5 250.9,489.9 250.8,488.2 250.6,486.5 250.4,484.8 250.2,483.1 250.1,481.4 249.9,482.5 249.7,483.7 249.5,484.8 249.3,485.9 249.2,487.0 249.0,487.9 248.8,488.8 248.6,489.6 248.5,490.3 248.3,491.0 248.1,491.5 247.9,491.9 247.7,492.2 247.6,492.4 247.4,492.5 247.2,492.4 247.0,492.3 246.9,492.0 246.7,491.7 246.5,491.2 246.3,490.6 246.1,489.9 246.0,489.1 245.8,488.2 245.6,487.3 245.4,486.2 245.2,485.1 245.1,484.0 244.9,482.7 244.7,481.4 244.5,480.1 244.4,479.2 244.2,480.7 244.0,482.2 243.8,483.7 243.6,485.2 243.5,486.7 243.3,488.1 243.1,489.4 242.9,490.7 242.8,492.0 242.6,493.1 242.4,494.2 242.2,495.2 242.0,496.0 241.9,496.7 241.7,497.4 241.5,497.8 241.3,498.2 241.2,498.4 241.0,498.5 240.8,498.4 240.6,498.2 240.4,497.9 240.3,497.4 240.1,496.8 239.9,496.0 239.7,495.2 239.6,494.2 239.4,493.0 239.2,491.8 239.0,490.5 238.8,489.1 238.7,487.6 238.5,486.0 238.3,484.4 238.1,482.7 238.0,481.0 237.8,479.2 237.6,477.5 237.4,475.7 237.2,476.4 237.1,477.6 236.9,478.8 236.7,479.9 236.5,481.1 236.3,482.1 236.2,483.1 236.0,484.0 235.8,484.9 235.6,485.6 235.5,486.3 235.3,486.9 235.1,487.3 234.9,487.7 234.7,487.9 234.6,488.1 234.4,488.1 234.2,488.0 234.0,487.8 233.9,487.5 233.7,487.1 233.5,486.6 233.3,486.0 233.1,485.2 233.0,484.4 232.8,483.5 232.6,482.5 232.4,481.4 232.3,480.3 232.1,479.0 231.9,477.8 231.7,476.5 231.5,475.1 231.4,473.8 231.2,472.4 231.0,472.5 230.8,473.9 230.7,475.4 230.5,476.8 230.3,478.2 230.1,479.5 229.9,480.8 229.8,482.0 229.6,483.1 229.4,484.1 229.2,485.0 229.1,485.8 228.9,486.5 228.7,487.0 228.5,487.5 228.3,487.8 228.2,487.9 228.0,487.9 227.8,487.8 227.6,487.6 227.5,487.2 227.3,486.6 227.1,486.0 226.9,485.2 226.7,484.3 226.6,483.2 226.4,482.1 226.2,480.8 226.0,479.4 225.8,478.0 225.7,476.5 225.5,474.9 225.3,473.2 225.1,471.5 225.0,469.8 224.8,468.1 224.6,469.3 224.4,470.6 224.2,471.8 224.1,473.0 223.9,474.2 223.7,475.3 223.5,476.4 223.4,477.5 223.2,478.4 223.0,479.3 222.8,480.2 222.6,480.9 222.5,481.6 222.3,482.1 222.1,482.5 221.9,482.9 221.8,483.1 221.6,483.2 221.4,483.2 221.2,483.1 221.0,482.9 220.9,482.6 220.7,482.1 220.5,481.6 220.3,480.9 220.2,480.2 220.0,479.3 219.8,478.4 219.6,477.4 219.4,476.3 219.3,475.2 219.1,473.9 218.9,472.7 218.7,471.4 218.5,470.0 218.4,468.7 218.2,467.3 218.0,466.0 217.8,464.6 217.7,465.6 217.5,467.1 217.3,468.4 217.1,469.8 216.9,471.1 216.8,472.3 216.6,473.4 216.4,474.4 216.2,475.3 216.1,476.1 215.9,476.8 215.7,477.4 215.5,477.8 215.3,478.1 215.2,478.3 215.0,478.3 214.8,478.2 214.6,477.9 214.5,477.5 214.3,477.0 214.1,476.3 213.9,475.5 213.7,474.6 213.6,473.6 213.4,472.5 213.2,471.2 213.0,469.9 212.9,468.5 212.7,467.0 212.5,465.4 212.3,463.8 212.1,462.1 212.0,463.1 211.8,464.4 211.6,465.6 211.4,466.9 211.3,468.2 211.1,469.4 210.9,470.6 210.7,471.7 210.5,472.9 210.4,473.9 210.2,474.9 210.0,475.8 209.8,476.6 209.7,477.4 209.5,478.0 209.3,478.6 209.1,479.0 208.9,479.3 208.8,479.6 208.6,479.7 208.4,479.7 208.2,479.6 208.0,479.4 207.9,479.0 207.7,478.6 207.5,478.0 207.3,477.4 207.2,476.6 207.0,475.8 206.8,474.9 206.6,473.9 206.4,472.8 206.3,471.7 206.1,470.5 205.9,469.2 205.7,468.0 205.6,466.7 205.4,465.3 205.2,464.0 205.0,462.7 204.8,461.3 204.7,460.0 204.5,461.3 204.3,462.8 204.1,464.2 204.0,465.5 203.8,466.7 203.6,467.9 203.4,469.0 203.2,469.9 203.1,470.8 202.9,471.5 202.7,472.1 202.5,472.6 202.4,473.0 202.2,473.2 202.0,473.2 201.8,473.2 201.6,473.0 201.5,472.6 201.3,472.1 201.1,471.5 200.9,470.8 200.8,469.9 200.6,468.9 200.4,467.9 200.2,466.7 200.0,465.4 199.9,464.0 199.7,462.6 199.5,461.1 199.3,459.6 199.1,460.5 199.0,461.8 198.8,463.1 198.6,464.4 198.4,465.7 198.3,467.0 198.1,468.3 197.9,469.5 197.7,470.7 197.5,471.8 197.4,472.9 197.2,473.9 197.0,474.8 196.8,475.7 196.7,476.4 196.5,477.1 196.3,477.7 196.1,478.1 195.9,478.5 195.8,478.7 195.6,478.8 195.4,478.8 195.2,478.7 195.1,478.5 194.9,478.2 194.7,477.8 194.5,477.3 194.3,476.6 194.2,475.9 194.0,475.1 193.8,474.2 193.6,473.2 193.5,472.1 193.3,471.0 193.1,469.9 192.9,468.7 192.7,467.4 192.6,466.1 192.4,464.9 192.2,463.6 192.0,462.3 191.9,461.0 191.7,460.3 191.5,461.9 191.3,463.5 191.1,464.9 191.0,466.3 190.8,467.7 190.6,468.9 190.4,470.0 190.2,471.1 190.1,472.0 189.9,472.8 189.7,473.4 189.5,474.0 189.4,474.4 189.2,474.6 189.0,474.7 188.8,474.7 188.6,474.6 188.5,474.3 188.3,473.9 188.1,473.3 187.9,472.6 187.8,471.8 187.6,470.9 187.4,469.9 187.2,468.8 187.0,467.6 186.9,466.3 186.7,464.9 186.5,463.5 186.3,462.0 186.2,462.2 186.0,463.5 185.8,464.9 185.6,466.2 185.4,467.6 185.3,468.9 185.1,470.2 184.9,471.5 184.7,472.7 184.6,473.8 184.4,474.9 184.2,476.0 184.0,476.9 183.8,477.8 183.7,478.5 183.5,479.2 183.3,479.8 183.1,480.3 182.9,480.6 182.8,480.9 182.6,481.0 182.4,481.0 182.2,480.9 182.1,480.7 181.9,480.4 181.7,480.0 181.5,479.5 181.3,478.8 181.2,478.1 181.0,477.3 180.8,476.4 180.6,475.5 180.5,474.4 180.3,473.4 180.1,472.2 179.9,471.0 179.7,469.8 179.6,468.6 179.4,467.3 179.2,466.1 179.0,464.8 178.9,465.5 178.7,467.2 178.5,468.9 178.3,470.5 178.1,472.0 178.0,473.4 177.8,474.8 177.6,476.1 177.4,477.3 177.3,478.3 177.1,479.3 176.9,480.1 176.7,480.8 176.5,481.4 176.4,481.8 176.2,482.1 176.0,482.2 175.8,482.2 175.7,482.1 175.5,481.9 175.3,481.5 175.1,480.9 174.9,480.3 174.8,479.5 174.6,478.6 174.4,477.6 174.2,476.6 174.1,475.4 173.9,474.1 173.7,472.8 173.5,471.5 173.3,470.0 173.2,468.6 173.0,467.8 172.8,469.2 172.6,470.6 172.4,471.9 172.3,473.3 172.1,474.6 171.9,475.9 171.7,477.1 171.6,478.3 171.4,479.4 171.2,480.4 171.0,481.3 170.8,482.2 170.7,483.0 170.5,483.6 170.3,484.2 170.1,484.7 170.0,485.0 169.8,485.2 169.6,485.4 169.4,485.4 169.2,485.3 169.1,485.1 168.9,484.7 168.7,484.3 168.5,483.8 168.4,483.1 168.2,482.4 168.0,481.6 167.8,480.7 167.6,479.8 167.5,478.7 167.3,477.6 167.1,476.5 166.9,475.3 166.8,474.1 166.6,472.9 166.4,471.6 166.2,472.7 166.0,474.5 165.9,476.2 165.7,477.9 165.5,479.6 165.3,481.2 165.2,482.7 165.0,484.2 164.8,485.5 164.6,486.8 164.4,488.0 164.3,489.0 164.1,490.0 163.9,490.8 163.7,491.5 163.5,492.0 163.4,492.4 163.2,492.7 163.0,492.8 162.8,492.8 162.7,492.7 162.5,492.4 162.3,492.0 162.1,491.4 161.9,490.7 161.8,489.9 161.6,489.0 161.4,488.0 161.2,486.9 161.1,485.7 160.9,484.5 160.7,483.2 160.5,481.8 160.3,480.4 160.2,478.9 160.0,477.4 159.8,476.0 159.6,475.9 159.5,477.2 159.3,478.6 159.1,479.9 158.9,481.1 158.7,482.3 158.6,483.5 158.4,484.6 158.2,485.6 158.0,486.5 157.9,487.3 157.7,488.1 157.5,488.7 157.3,489.2 157.1,489.6 157.0,490.0 156.8,490.2 156.6,490.3 156.4,490.2 156.2,490.1 156.1,489.8 155.9,489.5 155.7,489.0 155.5,488.4 155.4,487.8 155.2,487.0 155.0,486.2 154.8,485.3 154.6,484.3 154.5,483.2 154.3,482.1 154.1,480.9 153.9,479.7 153.8,478.5 153.6,479.9 153.4,481.7 153.2,483.4 153.0,485.1 152.9,486.8 152.7,488.5 152.5,490.1 152.3,491.7 152.2,493.2 152.0,494.6 151.8,495.9 151.6,497.1 151.4,498.2 151.3,499.2 151.1,500.0 150.9,500.8 150.7,501.4 150.6,501.8 150.4,502.2 150.2,502.4 150.0,502.4 149.8,502.3 149.7,502.1 149.5,501.7 149.3,501.2 149.1,500.6 149.0,499.9 148.8,499.0 148.6,498.0 148.4,496.9 148.2,495.8 148.1,494.5 147.9,493.2 147.7,491.8 147.5,490.3 147.3,488.9 147.2,487.3 147.0,485.8 146.8,484.3 146.6,482.8 146.5,481.6 146.3,482.9 146.1,484.1 145.9,485.4 145.7,486.5 145.6,487.6 145.4,488.7 145.2,489.6 145.0,490.5 144.9,491.3 144.7,491.9 144.5,492.5 144.3,493.0 144.1,493.4 144.0,493.6 143.8,493.7 143.6,493.8 143.4,493.7 143.3,493.5 143.1,493.2 142.9,492.8 142.7,492.2 142.5,491.6 142.4,490.9 142.2,490.1 142.0,489.2 141.8,488.2 141.7,487.2 141.5,486.0 141.3,484.9 141.1,483.7 140.9,483.6 140.8,485.2 140.6,486.9 140.4,488.5 140.2,490.2 140.1,491.9 139.9,493.5 139.7,495.1 139.5,496.6 139.3,498.0 139.2,499.4 139.0,500.7 138.8,501.9 138.6,503.0 138.4,504.0 138.3,504.9 138.1,505.6 137.9,506.3 137.7,506.8 137.6,507.1 137.4,507.3 137.2,507.4 137.0,507.3 136.8,507.1 136.7,506.8 136.5,506.3 136.3,505.7 136.1,504.9 136.0,504.0 135.8,503.1 135.6,502.0 135.4,500.8 135.2,499.5 135.1,498.1 134.9,496.7 134.7,495.2 134.5,493.7 134.4,492.1 134.2,490.5 134.0,488.9 133.8,487.3 133.6,485.6 133.5,484.1 133.3,484.6 133.1,485.9 132.9,487.0 132.8,488.1 132.6,489.2 132.4,490.1 132.2,491.0 132.0,491.8 131.9,492.6 131.7,493.2 131.5,493.7 131.3,494.1 131.2,494.4 131.0,494.6 130.8,494.6 130.6,494.6 130.4,494.4 130.3,494.1 130.1,493.8 129.9,493.3 129.7,492.7 129.6,492.0 129.4,491.2 129.2,490.3 129.0,489.3 128.8,488.3 128.7,487.2 128.5,486.0 128.3,484.8 128.1,483.6 127.9,484.4 127.8,486.0 127.6,487.5 127.4,489.1 127.2,490.7 127.1,492.2 126.9,493.7 126.7,495.2 126.5,496.6 126.3,498.0 126.2,499.2 126.0,500.4 125.8,501.5 125.6,502.5 125.5,503.4 125.3,504.1 125.1,504.7 124.9,505.2 124.7,505.6 124.6,505.8 124.4,505.9 124.2,505.8 124.0,505.6 123.9,505.3 123.7,504.8 123.5,504.2 123.3,503.5 123.1,502.6 123.0,501.6 122.8,500.5 122.6,499.3 122.4,498.0 122.3,496.6 122.1,495.1 121.9,493.6 121.7,492.0 121.5,490.3 121.4,488.7 121.2,487.0 121.0,485.3 120.8,483.5 120.6,481.9 120.5,482.2 120.3,483.4 120.1,484.5 119.9,485.6 119.8,486.7 119.6,487.7 119.4,488.6 119.2,489.4 119.0,490.1 118.9,490.8 118.7,491.3 118.5,491.8 118.3,492.1 118.2,492.3 118.0,492.5 117.8,492.4 117.6,492.3 117.4,492.1 117.3,491.8 117.1,491.3 116.9,490.8 116.7,490.1 116.6,489.3 116.4,488.5 116.2,487.5 116.0,486.5 115.8,485.4 115.7,484.3 115.5,483.1 115.3,481.8 115.1,480.5 115.0,479.2 114.8,480.3 114.6,481.8 114.4,483.3 114.2,484.8 114.1,486.3 113.9,487.7 113.7,489.1 113.5,490.4 113.4,491.7 113.2,492.8 113.0,493.9 112.8,494.9 112.6,495.8 112.5,496.6 112.3,497.2 112.1,497.7 111.9,498.1 111.8,498.4 111.6,498.5 111.4,498.5 111.2,498.3 111.0,498.0 110.9,497.5 110.7,497.0 110.5,496.2 110.3,495.4 110.1,494.4 110.0,493.4 109.8,492.2 109.6,490.9 109.4,489.5 109.3,488.0 109.1,486.4 108.9,484.8 108.7,483.2 108.5,481.4 108.4,479.7 108.2,478.0 108.0,476.2 107.8,476.0 107.7,477.3 107.5,478.5 107.3,479.6 107.1,480.8 106.9,481.8 106.8,482.8 106.6,483.8 106.4,484.6 106.2,485.4 106.1,486.1 105.9,486.7 105.7,487.2 105.5,487.6 105.3,487.9 105.2,488.1 105.0,488.1 104.8,488.1 104.6,487.9 104.5,487.6 104.3,487.2 104.1,486.7 103.9,486.1 103.7,485.4 103.6,484.6 103.4,483.7 103.2,482.8 103.0,481.7 102.8,480.6 102.7,479.4 102.5,478.1 102.3,476.8 102.1,475.5 102.0,474.2 101.8,472.8 101.6,472.1 101.4,473.5 101.2,475.0 101.1,476.4 100.9,477.8 100.7,479.2 100.5,480.4 100.4,481.6 100.2,482.8 100.0,483.8 99.8,484.7 99.6,485.6 99.5,486.3 99.3,486.9 99.1,487.4 98.9,487.7 98.8,487.9 98.6,487.9 98.4,487.9 98.2,487.6 98.0,487.3 97.9,486.8 97.7,486.2 97.5,485.4 97.3,484.5 97.2,483.5 97.0,482.4 96.8,481.1 96.6,479.8 96.4,478.4 96.3,476.9 96.1,475.3 95.9,473.7 95.7,472.0 95.6,470.3 95.4,468.5 95.2,469.0 95.0,470.2 94.8,471.5 94.7,472.7 94.5,473.9 94.3,475.0 94.1,476.1 93.9,477.2 93.8,478.2 93.6,479.1 93.4,480.0 93.2,480.7 93.1,481.4 92.9,482.0 92.7,482.4 92.5,482.8 92.3,483.1 92.2,483.2 92.0,483.2 91.8,483.2 91.6,483.0 91.5,482.7 91.3,482.3 91.1,481.7 90.9,481.1 90.7,480.4 90.6,479.6 90.4,478.7 90.2,477.7 90.0,476.6 89.9,475.5 89.7,474.3 89.5,473.0 89.3,471.7 89.1,470.4 89.0,469.1 88.8,467.7 88.6,466.3 88.4,465.0 88.3,465.2 88.1,466.7 87.9,468.1 87.7,469.4 87.5,470.7 87.4,471.9 87.2,473.1 87.0,474.1 86.8,475.1 86.7,475.9 86.5,476.6 86.3,477.2 86.1,477.7 85.9,478.0 85.8,478.2 85.6,478.3 85.4,478.2 85.2,478.0 85.1,477.6 84.9,477.2 84.7,476.5 84.5,475.8 84.3,474.9 84.2,473.9 84.0,472.8 83.8,471.6 83.6,470.3 83.4,468.9 83.3,467.4 83.1,465.8 82.9,464.2 82.7,462.6 82.6,462.7 82.4,464.0 82.2,465.3 82.0,466.5 81.8,467.8 81.7,469.0 81.5,470.3 81.3,471.4 81.1,472.6 81.0,473.6 80.8,474.6 80.6,475.6 80.4,476.4 80.2,477.2 80.1,477.8 79.9,478.4 79.7,478.9 79.5,479.3 79.4,479.5 79.2,479.7 79.0,479.7 78.8,479.6 78.6,479.4 78.5,479.1 78.3,478.7 78.1,478.2 77.9,477.6 77.8,476.9 77.6,476.0 77.4,475.1 77.2,474.2 77.0,473.1 76.9,472.0 76.7,470.8 76.5,469.6 76.3,468.3 76.2,467.0 76.0,465.7 75.8,464.4 75.6,463.0 75.4,461.7 75.3,460.4 75.1,460.9 74.9,462.4 74.7,463.8 74.5,465.1 74.4,466.4 74.2,467.6 74.0,468.7 73.8,469.7 73.7,470.6 73.5,471.3 73.3,472.0 73.1,472.5 72.9,472.9 72.8,473.1 72.6,473.2 72.4,473.2 72.2,473.0 72.1,472.7 71.9,472.3 71.7,471.7 71.5,471.0 71.3,470.2 71.2,469.2 71.0,468.2 70.8,467.0 70.6,465.8 70.5,464.4 70.3,463.0 70.1,461.5 69.9,460.0 69.7,460.1 69.6,461.4 69.4,462.7 69.2,464.0 69.0,465.4 68.9,466.7 68.7,467.9 68.5,469.2 68.3,470.4 68.1,471.5 68.0,472.6 67.8,473.6 67.6,474.6 67.4,475.5 67.2,476.2 67.1,476.9 66.9,477.5 66.7,478.0 66.5,478.4 66.4,478.6 66.2,478.8 66.0,478.8 65.8,478.8 65.6,478.6 65.5,478.3 65.3,477.9 65.1,477.4 64.9,476.8 64.8,476.1 64.6,475.3 64.4,474.4 64.2,473.5 64.0,472.4 63.9,471.3 63.7,470.2 63.5,469.0 63.3,467.8 63.2,466.5 63.0,465.2 62.8,463.9 62.6,462.6 62.4,461.3 62.3,460.1 62.1,461.5 61.9,463.1 61.7,464.5 61.6,466.0 61.4,467.3 61.2,468.6 61.0,469.7 60.8,470.8 60.7,471.7 60.5,472.6 60.3,473.3 60.1,473.8 60.0,474.3 59.8,474.6 59.6,474.7 59.4,474.7 59.2,474.6 59.1,474.4 58.9,474.0 58.7,473.5 58.5,472.8 58.4,472.0 58.2,471.2 58.0,470.2 57.8,469.1 57.6,467.9 57.5,466.6 57.3,465.3 57.1,463.9 56.9,462.4 56.7,461.8 56.6,463.2 56.4,464.5 56.2,465.9 56.0,467.2 55.9,468.6 55.7,469.9 55.5,471.1 55.3,472.4 55.1,473.5 55.0,474.6 54.8,475.7 54.6,476.7 54.4,477.5 54.3,478.3 54.1,479.0 53.9,479.6 53.7,480.1 53.5,480.5 53.4,480.8 53.2,481.0 53.0,481.0 52.8,481.0 52.7,480.8 52.5,480.5 52.3,480.1 52.1,479.6 51.9,479.0 51.8,478.3 51.6,477.6 51.4,476.7 51.2,475.7 51.1,474.7 50.9,473.7 50.7,472.5 50.5,471.4 50.3,470.2 50.2,468.9 50.0,467.7 49.8,466.4 49.6,465.2 49.5,465.1 49.3,466.8 49.1,468.4 48.9,470.0 48.7,471.6 48.6,473.1 48.4,474.4 48.2,475.7 48.0,477.0 47.8,478.0 47.7,479.0 47.5,479.9 47.3,480.6 47.1,481.2 47.0,481.7 46.8,482.0 46.6,482.2 46.4,482.3 46.2,482.2 46.1,481.9 45.9,481.6 45.7,481.1 45.5,480.5 45.4,479.7 45.2,478.9 45.0,477.9" fill="#0072BD" stroke="#0072BD" stroke-width="1.2" stroke-linejoin="round"/>
<path d="M190.44,469.80V504.05" stroke="#4c9be0" stroke-width="1" fill="none"/>
<path d="M45.0,458.3L45.2,457.2 45.4,456.3 45.5,455.5 45.7,454.8 45.9,454.2 46.1,453.8 46.2,453.5 46.4,453.3 46.6,453.2 46.8,453.3 47.0,453.5 47.1,453.8 47.3,454.3 47.5,454.9 47.7,455.6 47.8,456.5 48.0,457.4 48.2,458.4 48.4,459.6 48.6,460.8 48.7,462.1 48.9,463.5 49.1,464.9 49.3,466.4 49.5,467.9 49.6,469.5 49.8,471.0 50.0,472.6 50.2,474.2 50.3,475.7 50.5,477.2 50.7,478.7 50.9,480.1 51.1,481.4 51.2,482.7 51.4,483.9 51.6,485.0 51.8,486.0 51.9,486.9 52.1,487.6 52.3,488.3 52.5,488.8 52.7,489.2 52.8,489.5 53.0,489.7 53.2,489.7 53.4,489.5 53.5,489.3 53.7,488.9 53.9,488.4 54.1,487.8 54.3,487.0 54.4,486.1 54.6,485.2 54.8,484.1 55.0,482.9 55.1,481.7 55.3,480.4 55.5,479.0 55.7,477.5 55.9,476.1 56.0,474.6 56.2,473.0 56.4,471.5 56.6,470.0 56.7,468.5 56.9,467.0 57.1,465.5 57.3,464.1 57.5,462.8 57.6,461.5 57.8,460.4 58.0,459.3 58.2,458.2 58.4,457.3 58.5,456.6 58.7,455.9 58.9,455.3 59.1,454.9 59.2,454.6 59.4,454.4 59.6,454.4 59.8,454.5 60.0,454.7 60.1,455.1 60.3,455.6 60.5,456.2 60.7,457.0 60.8,457.8 61.0,458.8 61.2,459.8 61.4,461.0 61.6,462.2 61.7,463.5 61.9,464.9 62.1,466.4 62.3,467.8 62.4,469.4 62.6,470.9 62.8,472.5 63.0,474.0 63.2,475.5 63.3,477.1 63.5,478.5 63.7,480.0 63.9,481.4 64.0,482.7 64.2,483.9 64.4,485.1 64.6,486.1 64.8,487.1 64.9,487.9 65.1,488.6 65.3,489.3 65.5,489.7 65.6,490.1 65.8,490.3 66.0,490.4 66.2,490.4 66.4,490.2 66.5,489.9 66.7,489.5 66.9,488.9 67.1,488.2 67.2,487.4 67.4,486.5 67.6,485.5 67.8,484.4 68.0,483.2 68.1,481.9 68.3,480.6 68.5,479.2 68.7,477.7 68.9,476.2 69.0,474.7 69.2,473.1 69.4,471.6 69.6,470.1 69.7,468.5 69.9,467.0 70.1,465.6 70.3,464.2 70.5,462.9 70.6,461.6 70.8,460.4 71.0,459.3 71.2,458.3 71.3,457.5 71.5,456.7 71.7,456.0 71.9,455.5 72.1,455.1 72.2,454.8 72.4,454.7 72.6,454.7 72.8,454.8 72.9,455.0 73.1,455.4 73.3,455.9 73.5,456.6 73.7,457.3 73.8,458.2 74.0,459.2 74.2,460.2 74.4,461.4 74.5,462.7 74.7,464.0 74.9,465.4 75.1,466.8 75.3,468.3 75.4,469.8 75.6,471.3 75.8,472.8 76.0,474.4 76.2,475.9 76.3,477.4 76.5,478.8 76.7,480.2 76.9,481.6 77.0,482.9 77.2,484.1 77.4,485.2 77.6,486.2 77.8,487.1 77.9,487.9 78.1,488.6 78.3,489.2 78.5,489.6 78.6,489.9 78.8,490.1 79.0,490.1 79.2,490.0 79.4,489.8 79.5,489.5 79.7,489.0 79.9,488.4 80.1,487.6 80.2,486.8 80.4,485.8 80.6,484.8 80.8,483.6 81.0,482.4 81.1,481.1 81.3,479.7 81.5,478.3 81.7,476.8 81.8,475.3 82.0,473.7 82.2,472.2 82.4,470.6 82.6,469.1 82.7,467.5 82.9,466.0 83.1,464.6 83.3,463.2 83.4,461.9 83.6,460.6 83.8,459.4 84.0,458.4 84.2,457.4 84.3,456.5 84.5,455.8 84.7,455.1 84.9,454.6 85.1,454.2 85.2,454.0 85.4,453.9 85.6,453.9 85.8,454.0 85.9,454.3 86.1,454.7 86.3,455.2 86.5,455.9 86.7,456.7 86.8,457.6 87.0,458.5 87.2,459.6 87.4,460.8 87.5,462.1 87.7,463.4 87.9,464.8 88.1,466.2 88.3,467.7 88.4,469.2 88.6,470.7 88.8,472.2 89.0,473.7 89.1,475.2 89.3,476.7 89.5,478.1 89.7,479.5 89.9,480.8 90.0,482.1 90.2,483.3 90.4,484.3 90.6,485.3 90.7,486.2 90.9,486.9 91.1,487.6 91.3,488.1 91.5,488.5 91.6,488.8 91.8,488.9 92.0,488.9 92.2,488.7 92.3,488.5 92.5,488.1 92.7,487.6 92.9,486.9 93.1,486.1 93.2,485.2 93.4,484.3 93.6,483.2 93.8,482.0 93.9,480.7 94.1,479.4 94.3,478.0 94.5,476.5 94.7,475.0 94.8,473.5 95.0,471.9 95.2,470.3 95.4,468.8 95.6,467.2 95.7,465.7 95.9,464.2 96.1,462.8 96.3,461.4 96.4,460.1 96.6,458.8 96.8,457.7 97.0,456.6 97.2,455.6 97.3,454.8 97.5,454.1 97.7,453.5 97.9,453.0 98.0,452.6 98.2,452.4 98.4,452.3 98.6,452.4 98.8,452.5 98.9,452.8 99.1,453.3 99.3,453.8 99.5,454.5 99.6,455.3 99.8,456.2 100.0,457.2 100.2,458.3 100.4,459.5 100.5,460.8 100.7,462.1 100.9,463.5 101.1,465.0 101.2,466.5 101.4,468.0 101.6,469.5 101.8,471.0 102.0,472.5 102.1,474.0 102.3,475.5 102.5,476.9 102.7,478.2 102.8,479.5 103.0,480.7 103.2,481.9 103.4,482.9 103.6,483.9 103.7,484.7 103.9,485.4 104.1,486.1 104.3,486.5 104.5,486.9 104.6,487.1 104.8,487.2 105.0,487.2 105.2,487.0 105.3,486.7 105.5,486.2 105.7,485.7 105.9,485.0 106.1,484.2 106.2,483.3 106.4,482.3 106.6,481.1 106.8,479.9 106.9,478.6 107.1,477.3 107.3,475.8 107.5,474.4 107.7,472.9 107.8,471.3 108.0,469.8 108.2,468.2 108.4,466.6 108.5,465.1 108.7,463.6 108.9,462.1 109.1,460.7 109.3,459.3 109.4,458.0 109.6,456.8 109.8,455.7 110.0,454.6 110.1,453.7 110.3,452.9 110.5,452.2 110.7,451.6 110.9,451.2 111.0,450.9 111.2,450.7 111.4,450.6 111.6,450.7 111.8,450.9 111.9,451.3 112.1,451.7 112.3,452.3 112.5,453.1 112.6,453.9 112.8,454.8 113.0,455.9 113.2,457.0 113.4,458.2 113.5,459.5 113.7,460.9 113.9,462.3 114.1,463.7 114.2,465.2 114.4,466.7 114.6,468.3 114.8,469.8 115.0,471.3 115.1,472.8 115.3,474.2 115.5,475.7 115.7,477.0 115.8,478.3 116.0,479.5 116.2,480.6 116.4,481.6 116.6,482.6 116.7,483.4 116.9,484.1 117.1,484.7 117.3,485.1 117.4,485.4 117.6,485.6 117.8,485.7 118.0,485.6 118.2,485.4 118.3,485.1 118.5,484.6 118.7,484.0 118.9,483.3 119.0,482.5 119.2,481.5 119.4,480.5 119.6,479.4 119.8,478.1 119.9,476.8 120.1,475.5 120.3,474.0 120.5,472.6 120.6,471.1 120.8,469.5 121.0,468.0 121.2,466.4 121.4,464.8 121.5,463.3 121.7,461.8 121.9,460.4 122.1,459.0 122.3,457.6 122.4,456.4 122.6,455.2 122.8,454.1 123.0,453.1 123.1,452.2 123.3,451.4 123.5,450.8 123.7,450.3 123.9,449.9 124.0,449.6 124.2,449.4 124.4,449.4 124.6,449.6 124.7,449.8 124.9,450.2 125.1,450.7 125.3,451.4 125.5,452.1 125.6,453.0 125.8,454.0 126.0,455.1 126.2,456.2 126.3,457.5 126.5,458.8 126.7,460.2 126.9,461.6 127.1,463.1 127.2,464.6 127.4,466.2 127.6,467.7 127.8,469.2 127.9,470.8 128.1,472.2 128.3,473.7 128.5,475.1 128.7,476.5 128.8,477.7 129.0,478.9 129.2,480.0 129.4,481.0 129.6,481.9 129.7,482.7 129.9,483.4 130.1,484.0 130.3,484.4 130.4,484.7 130.6,484.9 130.8,484.9 131.0,484.8 131.2,484.6 131.3,484.3 131.5,483.8 131.7,483.2 131.9,482.4 132.0,481.6 132.2,480.6 132.4,479.6 132.6,478.4 132.8,477.2 132.9,475.9 133.1,474.5 133.3,473.1 133.5,471.6 133.6,470.1 133.8,468.6 134.0,467.0 134.2,465.5 134.4,464.0 134.5,462.4 134.7,461.0 134.9,459.5 135.1,458.2 135.2,456.9 135.4,455.6 135.6,454.5 135.8,453.4 136.0,452.5 136.1,451.7 136.3,450.9 136.5,450.3 136.7,449.8 136.8,449.5 137.0,449.3 137.2,449.2 137.4,449.2 137.6,449.4 137.7,449.7 137.9,450.2 138.1,450.7 138.3,451.4 138.4,452.2 138.6,453.1 138.8,454.2 139.0,455.3 139.2,456.5 139.3,457.8 139.5,459.1 139.7,460.6 139.9,462.0 140.1,463.5 140.2,465.1 140.4,466.6 140.6,468.2 140.8,469.7 140.9,471.2 141.1,472.7 141.3,474.2 141.5,475.6 141.7,476.9 141.8,478.2 142.0,479.4 142.2,480.5 142.4,481.5 142.5,482.4 142.7,483.2 142.9,483.8 143.1,484.4 143.3,484.8 143.4,485.1 143.6,485.2 143.8,485.2 144.0,485.1 144.1,484.9 144.3,484.5 144.5,484.0 144.7,483.3 144.9,482.6 145.0,481.7 145.2,480.8 145.4,479.7 145.6,478.5 145.7,477.3 145.9,476.0 146.1,474.6 146.3,473.2 146.5,471.7 146.6,470.2 146.8,468.7 147.0,467.2 147.2,465.6 147.3,464.1 147.5,462.6 147.7,461.2 147.9,459.8 148.1,458.5 148.2,457.2 148.4,456.0 148.6,454.9 148.8,453.9 149.0,453.0 149.1,452.2 149.3,451.5 149.5,450.9 149.7,450.5 149.8,450.2 150.0,450.0 150.2,450.0 150.4,450.1 150.6,450.3 150.7,450.7 150.9,451.2 151.1,451.8 151.3,452.5 151.4,453.4 151.6,454.3 151.8,455.4 152.0,456.5 152.2,457.8 152.3,459.1 152.5,460.5 152.7,461.9 152.9,463.4 153.0,465.0 153.2,466.5 153.4,468.1 153.6,469.6 153.8,471.2 153.9,472.7 154.1,474.2 154.3,475.7 154.5,477.1 154.6,478.4 154.8,479.7 155.0,480.8 155.2,481.9 155.4,482.9 155.5,483.8 155.7,484.5 155.9,485.2 156.1,485.7 156.2,486.1 156.4,486.3 156.6,486.5 156.8,486.4 157.0,486.3 157.1,486.0 157.3,485.6 157.5,485.1 157.7,484.4 157.9,483.7 158.0,482.8 158.2,481.8 158.4,480.7 158.6,479.6 158.7,478.3 158.9,477.0 159.1,475.6 159.3,474.2 159.5,472.7 159.6,471.2 159.8,469.7 160.0,468.2 160.2,466.6 160.3,465.1 160.5,463.7 160.7,462.2 160.9,460.9 161.1,459.6 161.2,458.3 161.4,457.1 161.6,456.1 161.8,455.1 161.9,454.2 162.1,453.5 162.3,452.8 162.5,452.3 162.7,451.9 162.8,451.7 163.0,451.5 163.2,451.5 163.4,451.7 163.5,452.0 163.7,452.4 163.9,452.9 164.1,453.5 164.3,454.3 164.4,455.2 164.6,456.2 164.8,457.3 165.0,458.5 165.2,459.7 165.3,461.1 165.5,462.5 165.7,464.0 165.9,465.5 166.0,467.0 166.2,468.6 166.4,470.1 166.6,471.7 166.8,473.2 166.9,474.8 167.1,476.3 167.3,477.7 167.5,479.1 167.6,480.4 167.8,481.7 168.0,482.8 168.2,483.9 168.4,484.8 168.5,485.7 168.7,486.4 168.9,487.0 169.1,487.5 169.2,487.8 169.4,488.1 169.6,488.2 169.8,488.1 170.0,487.9 170.1,487.6 170.3,487.2 170.5,486.6 170.7,486.0 170.8,485.2 171.0,484.2 171.2,483.2 171.4,482.1 171.6,480.9 171.7,479.7 171.9,478.3 172.1,476.9 172.3,475.5 172.4,474.0 172.6,472.5 172.8,471.0 173.0,469.5 173.2,467.9 173.3,466.5 173.5,465.0 173.7,463.6 173.9,462.2 174.1,460.9 174.2,459.7 174.4,458.6 174.6,457.5 174.8,456.6 174.9,455.7 175.1,455.0 175.3,454.4 175.5,453.9 175.7,453.5 175.8,453.3 176.0,453.2 176.2,453.3 176.4,453.4 176.5,453.7 176.7,454.2 176.9,454.7 177.1,455.4 177.3,456.2 177.4,457.1 177.6,458.1 177.8,459.3 178.0,460.5 178.1,461.8 178.3,463.1 178.5,464.5 178.7,466.0 178.9,467.5 179.0,469.1 179.2,470.6 179.4,472.2 179.6,473.7 179.7,475.3 179.9,476.8 180.1,478.3 180.3,479.7 180.5,481.0 180.6,482.3 180.8,483.6 181.0,484.7 181.2,485.7 181.3,486.6 181.5,487.4 181.7,488.1 181.9,488.7 182.1,489.1 182.2,489.4 182.4,489.6 182.6,489.7 182.8,489.6 182.9,489.4 183.1,489.0 183.3,488.5 183.5,487.9 183.7,487.2 183.8,486.4 184.0,485.4 184.2,484.4 184.4,483.2 184.6,482.0 184.7,480.7 184.9,479.4 185.1,477.9 185.3,476.5 185.4,475.0 185.6,473.5 185.8,471.9 186.0,470.4 186.2,468.9 186.3,467.4 186.5,465.9 186.7,464.5 186.9,463.2 187.0,461.9 187.2,460.7 187.4,459.5 187.6,458.5 187.8,457.6 187.9,456.8 188.1,456.1 188.3,455.5 188.5,455.0 188.6,454.7 188.8,454.5 189.0,454.4 189.2,454.5 189.4,454.7 189.5,455.0 189.7,455.5 189.9,456.0 190.1,456.7 190.2,457.6 190.4,458.5 190.6,459.5 190.8,460.7 191.0,461.9 191.1,463.2 191.3,464.5 191.5,466.0 191.7,467.4 191.9,468.9 192.0,470.5 192.2,472.0 192.4,473.6 192.6,475.1 192.7,476.6 192.9,478.1 193.1,479.6 193.3,481.0 193.5,482.3 193.6,483.6 193.8,484.7 194.0,485.8 194.2,486.8 194.3,487.7 194.5,488.5 194.7,489.1 194.9,489.6 195.1,490.0 195.2,490.3 195.4,490.4 195.6,490.4 195.8,490.3 195.9,490.0 196.1,489.6 196.3,489.1 196.5,488.4 196.7,487.7 196.8,486.8 197.0,485.8 197.2,484.7 197.4,483.5 197.5,482.3 197.7,480.9 197.9,479.5 198.1,478.1 198.3,476.6 198.4,475.1 198.6,473.6 198.8,472.0 199.0,470.5 199.1,468.9 199.3,467.4 199.5,466.0 199.7,464.6 199.9,463.2 200.0,461.9 200.2,460.7 200.4,459.6 200.6,458.6 200.8,457.7 200.9,456.9 201.1,456.2 201.3,455.6 201.5,455.2 201.6,454.9 201.8,454.7 202.0,454.7 202.2,454.7 202.4,455.0 202.5,455.3 202.7,455.8 202.9,456.4 203.1,457.1 203.2,457.9 203.4,458.9 203.6,459.9 203.8,461.1 204.0,462.3 204.1,463.6 204.3,465.0 204.5,466.4 204.7,467.9 204.8,469.4 205.0,470.9 205.2,472.4 205.4,474.0 205.6,475.5 205.7,477.0 205.9,478.4 206.1,479.9 206.3,481.2 206.4,482.5 206.6,483.8 206.8,484.9 207.0,485.9 207.2,486.9 207.3,487.7 207.5,488.4 207.7,489.0 207.9,489.5 208.0,489.8 208.2,490.1 208.4,490.1 208.6,490.1 208.8,489.9 208.9,489.6 209.1,489.1 209.3,488.6 209.5,487.9 209.7,487.0 209.8,486.1 210.0,485.1 210.2,484.0 210.4,482.7 210.5,481.5 210.7,480.1 210.9,478.7 211.1,477.2 211.3,475.7 211.4,474.1 211.6,472.6 211.8,471.0 212.0,469.5 212.1,467.9 212.3,466.4 212.5,465.0 212.7,463.6 212.9,462.2 213.0,460.9 213.2,459.8 213.4,458.6 213.6,457.6 213.7,456.7 213.9,456.0 214.1,455.3 214.3,454.7 214.5,454.3 214.6,454.0 214.8,453.9 215.0,453.9 215.2,454.0 215.3,454.2 215.5,454.6 215.7,455.1 215.9,455.7 216.1,456.4 216.2,457.3 216.4,458.3 216.6,459.3 216.8,460.5 216.9,461.7 217.1,463.0 217.3,464.4 217.5,465.8 217.7,467.3 217.8,468.8 218.0,470.3 218.2,471.8 218.4,473.3 218.5,474.8 218.7,476.3 218.9,477.8 219.1,479.2 219.3,480.5 219.4,481.8 219.6,482.9 219.8,484.0 220.0,485.1 220.2,486.0 220.3,486.7 220.5,487.4 220.7,488.0 220.9,488.4 221.0,488.7 221.2,488.9 221.4,488.9 221.6,488.8 221.8,488.6 221.9,488.2 222.1,487.7 222.3,487.1 222.5,486.4 222.6,485.5 222.8,484.5 223.0,483.5 223.2,482.3 223.4,481.1 223.5,479.7 223.7,478.3 223.9,476.9 224.1,475.4 224.2,473.9 224.4,472.3 224.6,470.8 224.8,469.2 225.0,467.6 225.1,466.1 225.3,464.6 225.5,463.1 225.7,461.7 225.8,460.4 226.0,459.1 226.2,458.0 226.4,456.9 226.6,455.9 226.7,455.0 226.9,454.3 227.1,453.6 227.3,453.1 227.5,452.7 227.6,452.4 227.8,452.3 228.0,452.3 228.2,452.5 228.3,452.7 228.5,453.1 228.7,453.7 228.9,454.3 229.1,455.1 229.2,456.0 229.4,456.9 229.6,458.0 229.8,459.2 229.9,460.4 230.1,461.8 230.3,463.2 230.5,464.6 230.7,466.1 230.8,467.6 231.0,469.1 231.2,470.6 231.4,472.1 231.5,473.6 231.7,475.1 231.9,476.5 232.1,477.9 232.3,479.2 232.4,480.4 232.6,481.6 232.8,482.7 233.0,483.6 233.1,484.5 233.3,485.3 233.5,485.9 233.7,486.4 233.9,486.8 234.0,487.1 234.2,487.2 234.4,487.2 234.6,487.0 234.7,486.8 234.9,486.4 235.1,485.8 235.3,485.2 235.5,484.4 235.6,483.5 235.8,482.5 236.0,481.4 236.2,480.3 236.3,479.0 236.5,477.6 236.7,476.2 236.9,474.8 237.1,473.3 237.2,471.7 237.4,470.2 237.6,468.6 237.8,467.1 238.0,465.5 238.1,464.0 238.3,462.5 238.5,461.0 238.7,459.7 238.8,458.3 239.0,457.1 239.2,456.0 239.4,454.9 239.6,453.9 239.7,453.1 239.9,452.4 240.1,451.8 240.3,451.3 240.4,450.9 240.6,450.7 240.8,450.6 241.0,450.7 241.2,450.8 241.3,451.2 241.5,451.6 241.7,452.2 241.9,452.8 242.0,453.6 242.2,454.6 242.4,455.6 242.6,456.7 242.8,457.9 242.9,459.2 243.1,460.5 243.3,461.9 243.5,463.3 243.6,464.8 243.8,466.3 244.0,467.9 244.2,469.4 244.4,470.9 244.5,472.4 244.7,473.9 244.9,475.3 245.1,476.6 245.2,477.9 245.4,479.2 245.6,480.3 245.8,481.4 246.0,482.3 246.1,483.2 246.3,483.9 246.5,484.5 246.7,485.0 246.9,485.4 247.0,485.6 247.2,485.7 247.4,485.7 247.6,485.5 247.7,485.2 247.9,484.8 248.1,484.2 248.3,483.5 248.5,482.7 248.6,481.8 248.8,480.8 249.0,479.7 249.2,478.5 249.3,477.2 249.5,475.9 249.7,474.4 249.9,473.0 250.1,471.5 250.2,469.9 250.4,468.4 250.6,466.8 250.8,465.3 250.9,463.7 251.1,462.2 251.3,460.8 251.5,459.3 251.7,458.0 251.8,456.7 252.0,455.5 252.2,454.4 252.4,453.4 252.5,452.4 252.7,451.6 252.9,450.9 253.1,450.4 253.3,450.0 253.4,449.6 253.6,449.5 253.8,449.4 254.0,449.5 254.1,449.7 254.3,450.1 254.5,450.6 254.7,451.2 254.9,451.9 255.0,452.8 255.2,453.7 255.4,454.8 255.6,455.9 255.8,457.2 255.9,458.5 256.1,459.8 256.3,461.3 256.5,462.7 256.6,464.2 256.8,465.8 257.0,467.3 257.2,468.8 257.4,470.3 257.5,471.8 257.7,473.3 257.9,474.7 258.1,476.1 258.2,477.4 258.4,478.6 258.6,479.7 258.8,480.8 259.0,481.7 259.1,482.5 259.3,483.3 259.5,483.8 259.7,484.3 259.8,484.7 260.0,484.9 260.2,484.9 260.4,484.9 260.6,484.7 260.7,484.4 260.9,483.9 261.1,483.3 261.3,482.6 261.4,481.8 261.6,480.9 261.8,479.9 262.0,478.7 262.2,477.5 262.3,476.3 262.5,474.9 262.7,473.5 262.9,472.0 263.1,470.5 263.2,469.0 263.4,467.4 263.6,465.9 263.8,464.4 263.9,462.9 264.1,461.4 264.3,459.9 264.5,458.5 264.7,457.2 264.8,456.0 265.0,454.8 265.2,453.7 265.4,452.7 265.5,451.9 265.7,451.1 265.9,450.5 266.1,450.0 266.3,449.6 266.4,449.3 266.6,449.2 266.8,449.2 267.0,449.4 267.1,449.6 267.3,450.0 267.5,450.6 267.7,451.2 267.9,452.0 268.0,452.9 268.2,453.9 268.4,455.0 268.6,456.2 268.7,457.4 268.9,458.8 269.1,460.2 269.3,461.6 269.5,463.1 269.6,464.6 269.8,466.2 270.0,467.7 270.2,469.3 270.3,470.8 270.5,472.3 270.7,473.8 270.9,475.2 271.1,476.6 271.2,477.9 271.4,479.1 271.6,480.2 271.8,481.2 271.9,482.1 272.1,483.0 272.3,483.7 272.5,484.2 272.7,484.7 272.8,485.0 273.0,485.2 273.2,485.2 273.4,485.2 273.6,484.9 273.7,484.6 273.9,484.1 274.1,483.5 274.3,482.8 274.4,482.0 274.6,481.0 274.8,480.0 275.0,478.9 275.2,477.7 275.3,476.4 275.5,475.0 275.7,473.6 275.9,472.1 276.0,470.6 276.2,469.1 276.4,467.6 276.6,466.1 276.8,464.5 276.9,463.0 277.1,461.6 277.3,460.2 277.5,458.8 277.6,457.5 277.8,456.3 278.0,455.2 278.2,454.1 278.4,453.2 278.5,452.4 278.7,451.7 278.9,451.1 279.1,450.6 279.2,450.3 279.4,450.1 279.6,450.0 279.8,450.0 280.0,450.2 280.1,450.6 280.3,451.0 280.5,451.6 280.7,452.3 280.9,453.1 281.0,454.1 281.2,455.1 281.4,456.2 281.6,457.4 281.7,458.7 281.9,460.1 282.1,461.5 282.3,463.0 282.5,464.5 282.6,466.1 282.8,467.6 283.0,469.2 283.2,470.8 283.3,472.3 283.5,473.8 283.7,475.3 283.9,476.7 284.1,478.0 284.2,479.3 284.4,480.5 284.6,481.6 284.8,482.6 284.9,483.5 285.1,484.3 285.3,485.0 285.5,485.6 285.7,486.0 285.8,486.3 286.0,486.4 286.2,486.5 286.4,486.4 286.5,486.1 286.7,485.7 286.9,485.3 287.1,484.6 287.3,483.9 287.4,483.0 287.6,482.1 287.8,481.0 288.0,479.9 288.1,478.6 288.3,477.3 288.5,476.0 288.7,474.6 288.9,473.1 289.0,471.6 289.2,470.1 289.4,468.6 289.6,467.1 289.8,465.5 289.9,464.1 290.1,462.6 290.3,461.2 290.5,459.9 290.6,458.6 290.8,457.5 291.0,456.4 291.2,455.4 291.4,454.5 291.5,453.7 291.7,453.0 291.9,452.4 292.1,452.0 292.2,451.7 292.4,451.6 292.6,451.5 292.8,451.6 293.0,451.9 293.1,452.2 293.3,452.7 293.5,453.4 293.7,454.1 293.8,454.9 294.0,455.9 294.2,457.0 294.4,458.1 294.6,459.4 294.7,460.7 294.9,462.1 295.1,463.6 295.3,465.1 295.4,466.6 295.6,468.1 295.8,469.7 296.0,471.3 296.2,472.8 296.3,474.4 296.5,475.9 296.7,477.3 296.9,478.7 297.0,480.1 297.2,481.3 297.4,482.5 297.6,483.6 297.8,484.6 297.9,485.4 298.1,486.2 298.3,486.9 298.5,487.4 298.6,487.8 298.8,488.0 299.0,488.1 299.2,488.1 299.4,488.0 299.5,487.7 299.7,487.3 299.9,486.8 300.1,486.1 300.3,485.4 300.4,484.5 300.6,483.5 300.8,482.4 301.0,481.3 301.1,480.0 301.3,478.7 301.5,477.3 301.7,475.9 301.9,474.4 302.0,472.9 302.2,471.4 302.4,469.9 302.6,468.4 302.7,466.9 302.9,465.4 303.1,464.0 303.3,462.6 303.5,461.3 303.6,460.0 303.8,458.9 304.0,457.8 304.2,456.8 304.3,455.9 304.5,455.2 304.7,454.5 304.9,454.0 305.1,453.6 305.2,453.4 305.4,453.2 305.6,453.2 305.8,453.4 305.9,453.6 306.1,454.0 306.3,454.6 306.5,455.2 306.7,456.0 306.8,456.9 307.0,457.9 307.2,458.9 307.4,460.1 307.6,461.4 307.7,462.7 307.9,464.1 308.1,465.6 308.3,467.1 308.4,468.6 308.6,470.2 308.8,471.8 309.0,473.3 309.2,474.9 309.3,476.4 309.5,477.9 309.7,479.3 309.9,480.7 310.0,482.0 310.2,483.2 310.4,484.4 310.6,485.4 310.8,486.4 310.9,487.2 311.1,487.9 311.3,488.5 311.5,489.0 311.6,489.4 311.8,489.6 312.0,489.7 312.2,489.6 312.4,489.4 312.5,489.1 312.7,488.7 312.9,488.1 313.1,487.4 313.2,486.6 313.4,485.7 313.6,484.7 313.8,483.6 314.0,482.4 314.1,481.1 314.3,479.7 314.5,478.3 314.7,476.9 314.8,475.4 315.0,473.9 315.2,472.3 315.4,470.8 315.6,469.3 315.7,467.8 315.9,466.3 316.1,464.9 316.3,463.5 316.4,462.2 316.6,461.0 316.8,459.8 317.0,458.8 317.2,457.8 317.3,457.0 317.5,456.2 317.7,455.6 317.9,455.1 318.1,454.8 318.2,454.5 318.4,454.4 318.6,454.4 318.8,454.6 318.9,454.9 319.1,455.3 319.3,455.9 319.5,456.5 319.7,457.3 319.8,458.2 320.0,459.2 320.2,460.3 320.4,461.5 320.5,462.8 320.7,464.2 320.9,465.6 321.1,467.0 321.3,468.5 321.4,470.1 321.6,471.6 321.8,473.2 322.0,474.7 322.1,476.2 322.3,477.7 322.5,479.2 322.7,480.6 322.9,482.0 323.0,483.2 323.2,484.4 323.4,485.5 323.6,486.6 323.7,487.5 323.9,488.3 324.1,488.9 324.3,489.5 324.5,489.9 324.6,490.2 324.8,490.4 325.0,490.4 325.2,490.3 325.4,490.1 325.5,489.7 325.7,489.2 325.9,488.6 326.1,487.9 326.2,487.0 326.4,486.1 326.6,485.0 326.8,483.9 327.0,482.6 327.1,481.3 327.3,479.9 327.5,478.5 327.7,477.0 327.8,475.5 328.0,474.0 328.2,472.4 328.4,470.9 328.6,469.4 328.7,467.9 328.9,466.4 329.1,465.0 329.3,463.6 329.4,462.3 329.6,461.1 329.8,459.9 330.0,458.9 330.2,457.9 330.3,457.1 330.5,456.4 330.7,455.8 330.9,455.3 331.0,455.0 331.2,454.7 331.4,454.7 331.6,454.7 331.8,454.9 331.9,455.2 332.1,455.6 332.3,456.2 332.5,456.9 332.6,457.7 332.8,458.6 333.0,459.6 333.2,460.8 333.4,462.0 333.5,463.2 333.7,464.6 333.9,466.0 334.1,467.5 334.2,469.0 334.4,470.5 334.6,472.0 334.8,473.5 335.0,475.1 335.1,476.6 335.3,478.1 335.5,479.5 335.7,480.9 335.9,482.2 336.0,483.4 336.2,484.6 336.4,485.7 336.6,486.6 336.7,487.5 336.9,488.2 337.1,488.9 337.3,489.4 337.5,489.8 337.6,490.0 337.8,490.1 338.0,490.1 338.2,490.0 338.3,489.7 338.5,489.3 338.7,488.7 338.9,488.1 339.1,487.3 339.2,486.4 339.4,485.4 339.6,484.3 339.8,483.1 339.9,481.8 340.1,480.5 340.3,479.1 340.5,477.6 340.7,476.1 340.8,474.6 341.0,473.0 341.2,471.5 341.4,469.9 341.5,468.4 341.7,466.8 341.9,465.4 342.1,463.9 342.3,462.6 342.4,461.3 342.6,460.1 342.8,458.9 343.0,457.9 343.1,457.0 343.3,456.2 343.5,455.5 343.7,454.9 343.9,454.4 344.0,454.1 344.2,453.9 344.4,453.8 344.6,453.9 344.8,454.1 344.9,454.5 345.1,454.9 345.3,455.5 345.5,456.2 345.6,457.1 345.8,458.0 346.0,459.0 346.2,460.1 346.4,461.4 346.5,462.7 346.7,464.0 346.9,465.4 347.1,466.9 347.2,468.4 347.4,469.9 347.6,471.4 347.8,472.9 348.0,474.4 348.1,475.9 348.3,477.4 348.5,478.8 348.7,480.1 348.8,481.4 349.0,482.6 349.2,483.8 349.4,484.8 349.6,485.7 349.7,486.5 349.9,487.3 350.1,487.8 350.3,488.3 350.4,488.6 350.6,488.8 350.8,488.9 351.0,488.8 351.2,488.6 351.3,488.3 351.5,487.9 351.7,487.3 351.9,486.6 352.1,485.7 352.2,484.8 352.4,483.8 352.6,482.6 352.8,481.4 352.9,480.1 353.1,478.7 353.3,477.3 353.5,475.8 353.7,474.3 353.8,472.7 354.0,471.2 354.2,469.6 354.4,468.1 354.5,466.5 354.7,465.0 354.9,463.5 355.1,462.1 355.3,460.8 355.4,459.5 355.6,458.3 355.8,457.2 356.0,456.2 356.1,455.2 356.3,454.5 356.5,453.8 356.7,453.2 356.9,452.8 357.0,452.5 357.2,452.3 357.4,452.3 357.6,452.4 357.7,452.7 357.9,453.0 358.1,453.5 358.3,454.1 358.5,454.9 358.6,455.7 358.8,456.7 359.0,457.7 359.2,458.9 359.3,460.1 359.5,461.4 359.7,462.8 359.9,464.2 360.1,465.6 360.2,467.1 360.4,468.7 360.6,470.2 360.8,471.7 360.9,473.2 361.1,474.7 361.3,476.1 361.5,477.5 361.7,478.8 361.8,480.1 362.0,481.3 362.2,482.4 362.4,483.4 362.6,484.3 362.7,485.1 362.9,485.7 363.1,486.3 363.3,486.7 363.4,487.0 363.6,487.2 363.8,487.2 364.0,487.1 364.2,486.9 364.3,486.5 364.5,486.0 364.7,485.4 364.9,484.6 365.0,483.8 365.2,482.8 365.4,481.8 365.6,480.6 365.8,479.3 365.9,478.0 366.1,476.6 366.3,475.2 366.5,473.7 366.6,472.2 366.8,470.6 367.0,469.0 367.2,467.5 367.4,465.9 367.5,464.4 367.7,462.9 367.9,461.4 368.1,460.0 368.2,458.7 368.4,457.4 368.6,456.3 368.8,455.2 369.0,454.2 369.1,453.3 369.3,452.6 369.5,451.9 369.7,451.4 369.9,451.0 370.0,450.8 370.2,450.6 370.4,450.6 370.6,450.8 370.7,451.1 370.9,451.5 371.1,452.0 371.3,452.6 371.5,453.4 371.6,454.3 371.8,455.3 372.0,456.4 372.2,457.5 372.3,458.8 372.5,460.1 372.7,461.5 372.9,462.9 373.1,464.4 373.2,465.9 373.4,467.4 373.6,469.0 373.8,470.5 373.9,472.0 374.1,473.5 374.3,474.9 374.5,476.3 374.7,477.6 374.8,478.8 375.0,480.0 375.2,481.1 375.4,482.1 375.5,482.9 375.7,483.7 375.9,484.4 376.1,484.9 376.3,485.3 376.4,485.5 376.6,485.7 376.8,485.7 377.0,485.5 377.1,485.3 377.3,484.9 377.5,484.4 377.7,483.7 377.9,483.0 378.0,482.1 378.2,481.1 378.4,480.0 378.6,478.8 378.8,477.6 378.9,476.2 379.1,474.8 379.3,473.4 379.5,471.9 379.6,470.4 379.8,468.8 380.0,467.2 380.2,465.7 380.4,464.1 380.5,462.6 380.7,461.2 380.9,459.7 381.1,458.3 381.2,457.0 381.4,455.8 381.6,454.7 381.8,453.6 382.0,452.7 382.1,451.8 382.3,451.1 382.5,450.5 382.7,450.1 382.8,449.7 383.0,449.5 383.2,449.4 383.4,449.5 383.6,449.7 383.7,450.0 383.9,450.4 384.1,451.0 384.3,451.7 384.4,452.5 384.6,453.5 384.8,454.5 385.0,455.6 385.2,456.8 385.3,458.1 385.5,459.4 385.7,460.9 385.9,462.3 386.0,463.8 386.2,465.3 386.4,466.9 386.6,468.4 386.8,469.9 386.9,471.4 387.1,472.9 387.3,474.3 387.5,475.7 387.6,477.0 387.8,478.3 388.0,479.4 388.2,480.5 388.4,481.5 388.5,482.3 388.7,483.1 388.9,483.7 389.1,484.2 389.3,484.6 389.4,484.8 389.6,484.9 389.8,484.9 390.0,484.8 390.1,484.5 390.3,484.0 390.5,483.5 390.7,482.8 390.9,482.1 391.0,481.2 391.2,480.2 391.4,479.1 391.6,477.9 391.7,476.6 391.9,475.3 392.1,473.9 392.3,472.4 392.5,470.9 392.6,469.4 392.8,467.9 393.0,466.3 393.2,464.8 393.3,463.3 393.5,461.8 393.7,460.3 393.9,458.9 394.1,457.6 394.2,456.3 394.4,455.1 394.6,454.0 394.8,453.0 394.9,452.1 395.1,451.3 395.3,450.6 395.5,450.1 395.7,449.7 395.8,449.4 396.0,449.2 396.2,449.2 396.4,449.3 396.6,449.5 396.7,449.9 396.9,450.4 397.1,451.0 397.3,451.8 397.4,452.6 397.6,453.6 397.8,454.7 398.0,455.8 398.2,457.1 398.3,458.4 398.5,459.8 398.7,461.2 398.9,462.7 399.0,464.2 399.2,465.8 399.4,467.3 399.6,468.9 399.8,470.4 399.9,471.9 400.1,473.4 400.3,474.8 400.5,476.2 400.6,477.5 400.8,478.8 401.0,479.9" stroke="#D95319" stroke-width="1.6" fill="none" stroke-linejoin="round"/>
<path d="M45.0,481.3L45.2,482.4 45.4,483.3 45.5,484.1 45.7,484.8 45.9,485.4 46.1,485.8 46.2,486.1 46.4,486.3 46.6,486.4 46.8,486.3 47.0,486.1 47.1,485.8 47.3,485.3 47.5,484.7 47.7,484.0 47.8,483.1 48.0,482.2 48.2,481.2 48.4,480.0 48.6,478.8 48.7,477.5 48.9,476.1 49.1,474.7 49.3,473.2 49.5,471.7 49.6,470.1 49.8,468.6 50.0,467.0 50.2,465.4 50.3,463.9 50.5,462.4 50.7,460.9 50.9,459.5 51.1,458.2 51.2,456.9 51.4,455.7 51.6,454.6 51.8,453.6 51.9,452.7 52.1,452.0 52.3,451.3 52.5,450.8 52.7,450.4 52.8,450.1 53.0,449.9 53.2,449.9 53.4,450.1 53.5,450.3 53.7,450.7 53.9,451.2 54.1,451.8 54.3,452.6 54.4,453.5 54.6,454.4 54.8,455.5 55.0,456.7 55.1,457.9 55.3,459.2 55.5,460.6 55.7,462.1 55.9,463.5 56.0,465.0 56.2,466.6 56.4,468.1 56.6,469.6 56.7,471.1 56.9,472.6 57.1,474.1 57.3,475.5 57.5,476.8 57.6,478.1 57.8,479.2 58.0,480.3 58.2,481.4 58.4,482.3 58.5,483.0 58.7,483.7 58.9,484.3 59.1,484.7 59.2,485.0 59.4,485.2 59.6,485.2 59.8,485.1 60.0,484.9 60.1,484.5 60.3,484.0 60.5,483.4 60.7,482.6 60.8,481.8 61.0,480.8 61.2,479.8 61.4,478.6 61.6,477.4 61.7,476.1 61.9,474.7 62.1,473.2 62.3,471.8 62.4,470.2 62.6,468.7 62.8,467.1 63.0,465.6 63.2,464.1 63.3,462.5 63.5,461.1 63.7,459.6 63.9,458.2 64.0,456.9 64.2,455.7 64.4,454.5 64.6,453.5 64.8,452.5 64.9,451.7 65.1,451.0 65.3,450.3 65.5,449.9 65.6,449.5 65.8,449.3 66.0,449.2 66.2,449.2 66.4,449.4 66.5,449.7 66.7,450.1 66.9,450.7 67.1,451.4 67.2,452.2 67.4,453.1 67.6,454.1 67.8,455.2 68.0,456.4 68.1,457.7 68.3,459.0 68.5,460.4 68.7,461.9 68.9,463.4 69.0,464.9 69.2,466.5 69.4,468.0 69.6,469.5 69.7,471.1 69.9,472.6 70.1,474.0 70.3,475.4 70.5,476.7 70.6,478.0 70.8,479.2 71.0,480.3 71.2,481.3 71.3,482.1 71.5,482.9 71.7,483.6 71.9,484.1 72.1,484.5 72.2,484.8 72.4,484.9 72.6,484.9 72.8,484.8 72.9,484.6 73.1,484.2 73.3,483.7 73.5,483.0 73.7,482.3 73.8,481.4 74.0,480.4 74.2,479.4 74.4,478.2 74.5,476.9 74.7,475.6 74.9,474.2 75.1,472.8 75.3,471.3 75.4,469.8 75.6,468.3 75.8,466.8 76.0,465.2 76.2,463.7 76.3,462.2 76.5,460.8 76.7,459.4 76.9,458.0 77.0,456.7 77.2,455.5 77.4,454.4 77.6,453.4 77.8,452.5 77.9,451.7 78.1,451.0 78.3,450.4 78.5,450.0 78.6,449.7 78.8,449.5 79.0,449.5 79.2,449.6 79.4,449.8 79.5,450.1 79.7,450.6 79.9,451.2 80.1,452.0 80.2,452.8 80.4,453.8 80.6,454.8 80.8,456.0 81.0,457.2 81.1,458.5 81.3,459.9 81.5,461.3 81.7,462.8 81.8,464.3 82.0,465.9 82.2,467.4 82.4,469.0 82.6,470.5 82.7,472.1 82.9,473.6 83.1,475.0 83.3,476.4 83.4,477.7 83.6,479.0 83.8,480.2 84.0,481.2 84.2,482.2 84.3,483.1 84.5,483.8 84.7,484.5 84.9,485.0 85.1,485.4 85.2,485.6 85.4,485.7 85.6,485.7 85.8,485.6 85.9,485.3 86.1,484.9 86.3,484.4 86.5,483.7 86.7,482.9 86.8,482.0 87.0,481.1 87.2,480.0 87.4,478.8 87.5,477.5 87.7,476.2 87.9,474.8 88.1,473.4 88.3,471.9 88.4,470.4 88.6,468.9 88.8,467.4 89.0,465.9 89.1,464.4 89.3,462.9 89.5,461.5 89.7,460.1 89.9,458.8 90.0,457.5 90.2,456.3 90.4,455.3 90.6,454.3 90.7,453.4 90.9,452.7 91.1,452.0 91.3,451.5 91.5,451.1 91.6,450.8 91.8,450.7 92.0,450.7 92.2,450.9 92.3,451.1 92.5,451.5 92.7,452.0 92.9,452.7 93.1,453.5 93.2,454.4 93.4,455.3 93.6,456.4 93.8,457.6 93.9,458.9 94.1,460.2 94.3,461.6 94.5,463.1 94.7,464.6 94.8,466.1 95.0,467.7 95.2,469.3 95.4,470.8 95.6,472.4 95.7,473.9 95.9,475.4 96.1,476.8 96.3,478.2 96.4,479.5 96.6,480.8 96.8,481.9 97.0,483.0 97.2,484.0 97.3,484.8 97.5,485.5 97.7,486.1 97.9,486.6 98.0,487.0 98.2,487.2 98.4,487.3 98.6,487.2 98.8,487.1 98.9,486.8 99.1,486.3 99.3,485.8 99.5,485.1 99.6,484.3 99.8,483.4 100.0,482.4 100.2,481.3 100.4,480.1 100.5,478.8 100.7,477.5 100.9,476.1 101.1,474.6 101.2,473.1 101.4,471.6 101.6,470.1 101.8,468.6 102.0,467.1 102.1,465.6 102.3,464.1 102.5,462.7 102.7,461.4 102.8,460.1 103.0,458.9 103.2,457.7 103.4,456.7 103.6,455.7 103.7,454.9 103.9,454.2 104.1,453.5 104.3,453.1 104.5,452.7 104.6,452.5 104.8,452.4 105.0,452.4 105.2,452.6 105.3,452.9 105.5,453.4 105.7,453.9 105.9,454.6 106.1,455.4 106.2,456.3 106.4,457.3 106.6,458.5 106.8,459.7 106.9,461.0 107.1,462.3 107.3,463.8 107.5,465.2 107.7,466.7 107.8,468.3 108.0,469.8 108.2,471.4 108.4,473.0 108.5,474.5 108.7,476.0 108.9,477.5 109.1,478.9 109.3,480.3 109.4,481.6 109.6,482.8 109.8,483.9 110.0,485.0 110.1,485.9 110.3,486.7 110.5,487.4 110.7,488.0 110.9,488.4 111.0,488.7 111.2,488.9 111.4,489.0 111.6,488.9 111.8,488.7 111.9,488.3 112.1,487.9 112.3,487.3 112.5,486.5 112.6,485.7 112.8,484.8 113.0,483.7 113.2,482.6 113.4,481.4 113.5,480.1 113.7,478.7 113.9,477.3 114.1,475.9 114.2,474.4 114.4,472.9 114.6,471.3 114.8,469.8 115.0,468.3 115.1,466.8 115.3,465.4 115.5,463.9 115.7,462.6 115.8,461.3 116.0,460.1 116.2,459.0 116.4,458.0 116.6,457.0 116.7,456.2 116.9,455.5 117.1,454.9 117.3,454.5 117.4,454.2 117.6,454.0 117.8,453.9 118.0,454.0 118.2,454.2 118.3,454.5 118.5,455.0 118.7,455.6 118.9,456.3 119.0,457.1 119.2,458.1 119.4,459.1 119.6,460.2 119.8,461.5 119.9,462.8 120.1,464.1 120.3,465.6 120.5,467.0 120.6,468.5 120.8,470.1 121.0,471.6 121.2,473.2 121.4,474.8 121.5,476.3 121.7,477.8 121.9,479.2 122.1,480.6 122.3,482.0 122.4,483.2 122.6,484.4 122.8,485.5 123.0,486.5 123.1,487.4 123.3,488.2 123.5,488.8 123.7,489.3 123.9,489.7 124.0,490.0 124.2,490.2 124.4,490.2 124.6,490.0 124.7,489.8 124.9,489.4 125.1,488.9 125.3,488.2 125.5,487.5 125.6,486.6 125.8,485.6 126.0,484.5 126.2,483.4 126.3,482.1 126.5,480.8 126.7,479.4 126.9,478.0 127.1,476.5 127.2,475.0 127.4,473.4 127.6,471.9 127.8,470.4 127.9,468.8 128.1,467.4 128.3,465.9 128.5,464.5 128.7,463.1 128.8,461.9 129.0,460.7 129.2,459.6 129.4,458.6 129.6,457.7 129.7,456.9 129.9,456.2 130.1,455.6 130.3,455.2 130.4,454.9 130.6,454.7 130.8,454.7 131.0,454.8 131.2,455.0 131.3,455.3 131.5,455.8 131.7,456.4 131.9,457.2 132.0,458.0 132.2,459.0 132.4,460.0 132.6,461.2 132.8,462.4 132.9,463.7 133.1,465.1 133.3,466.5 133.5,468.0 133.6,469.5 133.8,471.0 134.0,472.6 134.2,474.1 134.4,475.6 134.5,477.2 134.7,478.6 134.9,480.1 135.1,481.4 135.2,482.7 135.4,484.0 135.6,485.1 135.8,486.2 136.0,487.1 136.1,487.9 136.3,488.7 136.5,489.3 136.7,489.8 136.8,490.1 137.0,490.3 137.2,490.4 137.4,490.4 137.6,490.2 137.7,489.9 137.9,489.4 138.1,488.9 138.3,488.2 138.4,487.4 138.6,486.5 138.8,485.4 139.0,484.3 139.2,483.1 139.3,481.8 139.5,480.5 139.7,479.0 139.9,477.6 140.1,476.1 140.2,474.5 140.4,473.0 140.6,471.4 140.8,469.9 140.9,468.4 141.1,466.9 141.3,465.4 141.5,464.0 141.7,462.7 141.8,461.4 142.0,460.2 142.2,459.1 142.4,458.1 142.5,457.2 142.7,456.4 142.9,455.8 143.1,455.2 143.3,454.8 143.4,454.5 143.6,454.4 143.8,454.4 144.0,454.5 144.1,454.7 144.3,455.1 144.5,455.6 144.7,456.3 144.9,457.0 145.0,457.9 145.2,458.8 145.4,459.9 145.6,461.1 145.7,462.3 145.9,463.6 146.1,465.0 146.3,466.4 146.5,467.9 146.6,469.4 146.8,470.9 147.0,472.4 147.2,474.0 147.3,475.5 147.5,477.0 147.7,478.4 147.9,479.8 148.1,481.1 148.2,482.4 148.4,483.6 148.6,484.7 148.8,485.7 149.0,486.6 149.1,487.4 149.3,488.1 149.5,488.7 149.7,489.1 149.8,489.4 150.0,489.6 150.2,489.6 150.4,489.5 150.6,489.3 150.7,488.9 150.9,488.4 151.1,487.8 151.3,487.1 151.4,486.2 151.6,485.3 151.8,484.2 152.0,483.1 152.2,481.8 152.3,480.5 152.5,479.1 152.7,477.7 152.9,476.2 153.0,474.6 153.2,473.1 153.4,471.5 153.6,470.0 153.8,468.4 153.9,466.9 154.1,465.4 154.3,463.9 154.5,462.5 154.6,461.2 154.8,459.9 155.0,458.8 155.2,457.7 155.4,456.7 155.5,455.8 155.7,455.1 155.9,454.4 156.1,453.9 156.2,453.5 156.4,453.3 156.6,453.1 156.8,453.2 157.0,453.3 157.1,453.6 157.3,454.0 157.5,454.5 157.7,455.2 157.9,455.9 158.0,456.8 158.2,457.8 158.4,458.9 158.6,460.0 158.7,461.3 158.9,462.6 159.1,464.0 159.3,465.4 159.5,466.9 159.6,468.4 159.8,469.9 160.0,471.4 160.2,473.0 160.3,474.5 160.5,475.9 160.7,477.4 160.9,478.7 161.1,480.0 161.2,481.3 161.4,482.5 161.6,483.5 161.8,484.5 161.9,485.4 162.1,486.1 162.3,486.8 162.5,487.3 162.7,487.7 162.8,487.9 163.0,488.1 163.2,488.1 163.4,487.9 163.5,487.6 163.7,487.2 163.9,486.7 164.1,486.1 164.3,485.3 164.4,484.4 164.6,483.4 164.8,482.3 165.0,481.1 165.2,479.9 165.3,478.5 165.5,477.1 165.7,475.6 165.9,474.1 166.0,472.6 166.2,471.0 166.4,469.5 166.6,467.9 166.8,466.4 166.9,464.8 167.1,463.3 167.3,461.9 167.5,460.5 167.6,459.2 167.8,457.9 168.0,456.8 168.2,455.7 168.4,454.8 168.5,453.9 168.7,453.2 168.9,452.6 169.1,452.1 169.2,451.8 169.4,451.5 169.6,451.4 169.8,451.5 170.0,451.7 170.1,452.0 170.3,452.4 170.5,453.0 170.7,453.6 170.8,454.4 171.0,455.4 171.2,456.4 171.4,457.5 171.6,458.7 171.7,459.9 171.9,461.3 172.1,462.7 172.3,464.1 172.4,465.6 172.6,467.1 172.8,468.6 173.0,470.1 173.2,471.7 173.3,473.1 173.5,474.6 173.7,476.0 173.9,477.4 174.1,478.7 174.2,479.9 174.4,481.0 174.6,482.1 174.8,483.0 174.9,483.9 175.1,484.6 175.3,485.2 175.5,485.7 175.7,486.1 175.8,486.3 176.0,486.4 176.2,486.3 176.4,486.2 176.5,485.9 176.7,485.4 176.9,484.9 177.1,484.2 177.3,483.4 177.4,482.5 177.6,481.5 177.8,480.3 178.0,479.1 178.1,477.8 178.3,476.5 178.5,475.1 178.7,473.6 178.9,472.1 179.0,470.5 179.2,469.0 179.4,467.4 179.6,465.9 179.7,464.3 179.9,462.8 180.1,461.3 180.3,459.9 180.5,458.6 180.6,457.3 180.8,456.0 181.0,454.9 181.2,453.9 181.3,453.0 181.5,452.2 181.7,451.5 181.9,450.9 182.1,450.5 182.2,450.2 182.4,450.0 182.6,449.9 182.8,450.0 182.9,450.2 183.1,450.6 183.3,451.1 183.5,451.7 183.7,452.4 183.8,453.2 184.0,454.2 184.2,455.2 184.4,456.4 184.6,457.6 184.7,458.9 184.9,460.2 185.1,461.7 185.3,463.1 185.4,464.6 185.6,466.1 185.8,467.7 186.0,469.2 186.2,470.7 186.3,472.2 186.5,473.7 186.7,475.1 186.9,476.4 187.0,477.7 187.2,478.9 187.4,480.1 187.6,481.1 187.8,482.0 187.9,482.8 188.1,483.5 188.3,484.1 188.5,484.6 188.6,484.9 188.8,485.1 189.0,485.2 189.2,485.1 189.4,484.9 189.5,484.6 189.7,484.1 189.9,483.6 190.1,482.9 190.2,482.0 190.4,481.1 190.6,480.1 190.8,478.9 191.0,477.7 191.1,476.4 191.3,475.1 191.5,473.6 191.7,472.2 191.9,470.7 192.0,469.1 192.2,467.6 192.4,466.0 192.6,464.5 192.7,463.0 192.9,461.5 193.1,460.0 193.3,458.6 193.5,457.3 193.6,456.0 193.8,454.9 194.0,453.8 194.2,452.8 194.3,451.9 194.5,451.1 194.7,450.5 194.9,450.0 195.1,449.6 195.2,449.3 195.4,449.2 195.6,449.2 195.8,449.3 195.9,449.6 196.1,450.0 196.3,450.5 196.5,451.2 196.7,451.9 196.8,452.8 197.0,453.8 197.2,454.9 197.4,456.1 197.5,457.3 197.7,458.7 197.9,460.1 198.1,461.5 198.3,463.0 198.4,464.5 198.6,466.0 198.8,467.6 199.0,469.1 199.1,470.7 199.3,472.2 199.5,473.6 199.7,475.0 199.9,476.4 200.0,477.7 200.2,478.9 200.4,480.0 200.6,481.0 200.8,481.9 200.9,482.7 201.1,483.4 201.3,484.0 201.5,484.4 201.6,484.7 201.8,484.9 202.0,484.9 202.2,484.9 202.4,484.6 202.5,484.3 202.7,483.8 202.9,483.2 203.1,482.5 203.2,481.7 203.4,480.7 203.6,479.7 203.8,478.5 204.0,477.3 204.1,476.0 204.3,474.6 204.5,473.2 204.7,471.7 204.8,470.2 205.0,468.7 205.2,467.2 205.4,465.6 205.6,464.1 205.7,462.6 205.9,461.2 206.1,459.7 206.3,458.4 206.4,457.1 206.6,455.8 206.8,454.7 207.0,453.7 207.2,452.7 207.3,451.9 207.5,451.2 207.7,450.6 207.9,450.1 208.0,449.8 208.2,449.5 208.4,449.5 208.6,449.5 208.8,449.7 208.9,450.0 209.1,450.5 209.3,451.0 209.5,451.7 209.7,452.6 209.8,453.5 210.0,454.5 210.2,455.6 210.4,456.9 210.5,458.1 210.7,459.5 210.9,460.9 211.1,462.4 211.3,463.9 211.4,465.5 211.6,467.0 211.8,468.6 212.0,470.1 212.1,471.7 212.3,473.2 212.5,474.6 212.7,476.0 212.9,477.4 213.0,478.7 213.2,479.8 213.4,481.0 213.6,482.0 213.7,482.9 213.9,483.6 214.1,484.3 214.3,484.9 214.5,485.3 214.6,485.6 214.8,485.7 215.0,485.7 215.2,485.6 215.3,485.4 215.5,485.0 215.7,484.5 215.9,483.9 216.1,483.2 216.2,482.3 216.4,481.3 216.6,480.3 216.8,479.1 216.9,477.9 217.1,476.6 217.3,475.2 217.5,473.8 217.7,472.3 217.8,470.8 218.0,469.3 218.2,467.8 218.4,466.3 218.5,464.8 218.7,463.3 218.9,461.8 219.1,460.4 219.3,459.1 219.4,457.8 219.6,456.7 219.8,455.6 220.0,454.5 220.2,453.6 220.3,452.9 220.5,452.2 220.7,451.6 220.9,451.2 221.0,450.9 221.2,450.7 221.4,450.7 221.6,450.8 221.8,451.0 221.9,451.4 222.1,451.9 222.3,452.5 222.5,453.2 222.6,454.1 222.8,455.1 223.0,456.1 223.2,457.3 223.4,458.5 223.5,459.9 223.7,461.3 223.9,462.7 224.1,464.2 224.2,465.7 224.4,467.3 224.6,468.8 224.8,470.4 225.0,472.0 225.1,473.5 225.3,475.0 225.5,476.5 225.7,477.9 225.8,479.2 226.0,480.5 226.2,481.6 226.4,482.7 226.6,483.7 226.7,484.6 226.9,485.3 227.1,486.0 227.3,486.5 227.5,486.9 227.6,487.2 227.8,487.3 228.0,487.3 228.2,487.1 228.3,486.9 228.5,486.5 228.7,485.9 228.9,485.3 229.1,484.5 229.2,483.6 229.4,482.7 229.6,481.6 229.8,480.4 229.9,479.2 230.1,477.8 230.3,476.4 230.5,475.0 230.7,473.5 230.8,472.0 231.0,470.5 231.2,469.0 231.4,467.5 231.5,466.0 231.7,464.5 231.9,463.1 232.1,461.7 232.3,460.4 232.4,459.2 232.6,458.0 232.8,456.9 233.0,456.0 233.1,455.1 233.3,454.3 233.5,453.7 233.7,453.2 233.9,452.8 234.0,452.5 234.2,452.4 234.4,452.4 234.6,452.6 234.7,452.8 234.9,453.2 235.1,453.8 235.3,454.4 235.5,455.2 235.6,456.1 235.8,457.1 236.0,458.2 236.2,459.3 236.3,460.6 236.5,462.0 236.7,463.4 236.9,464.8 237.1,466.3 237.2,467.9 237.4,469.4 237.6,471.0 237.8,472.5 238.0,474.1 238.1,475.6 238.3,477.1 238.5,478.6 238.7,479.9 238.8,481.3 239.0,482.5 239.2,483.6 239.4,484.7 239.6,485.7 239.7,486.5 239.9,487.2 240.1,487.8 240.3,488.3 240.4,488.7 240.6,488.9 240.8,489.0 241.0,488.9 241.2,488.8 241.3,488.4 241.5,488.0 241.7,487.4 241.9,486.8 242.0,486.0 242.2,485.0 242.4,484.0 242.6,482.9 242.8,481.7 242.9,480.4 243.1,479.1 243.3,477.7 243.5,476.3 243.6,474.8 243.8,473.3 244.0,471.7 244.2,470.2 244.4,468.7 244.5,467.2 244.7,465.7 244.9,464.3 245.1,463.0 245.2,461.7 245.4,460.4 245.6,459.3 245.8,458.2 246.0,457.3 246.1,456.4 246.3,455.7 246.5,455.1 246.7,454.6 246.9,454.2 247.0,454.0 247.2,453.9 247.4,453.9 247.6,454.1 247.7,454.4 247.9,454.8 248.1,455.4 248.3,456.1 248.5,456.9 248.6,457.8 248.8,458.8 249.0,459.9 249.2,461.1 249.3,462.4 249.5,463.7 249.7,465.2 249.9,466.6 250.1,468.1 250.2,469.7 250.4,471.2 250.6,472.8 250.8,474.3 250.9,475.9 251.1,477.4 251.3,478.8 251.5,480.3 251.7,481.6 251.8,482.9 252.0,484.1 252.2,485.2 252.4,486.2 252.5,487.2 252.7,488.0 252.9,488.7 253.1,489.2 253.3,489.6 253.4,490.0 253.6,490.1 253.8,490.2 254.0,490.1 254.1,489.9 254.3,489.5 254.5,489.0 254.7,488.4 254.9,487.7 255.0,486.8 255.2,485.9 255.4,484.8 255.6,483.7 255.8,482.4 255.9,481.1 256.1,479.8 256.3,478.3 256.5,476.9 256.6,475.4 256.8,473.8 257.0,472.3 257.2,470.8 257.4,469.3 257.5,467.8 257.7,466.3 257.9,464.9 258.1,463.5 258.2,462.2 258.4,461.0 258.6,459.9 258.8,458.8 259.0,457.9 259.1,457.1 259.3,456.3 259.5,455.8 259.7,455.3 259.8,454.9 260.0,454.7 260.2,454.7 260.4,454.7 260.6,454.9 260.7,455.2 260.9,455.7 261.1,456.3 261.3,457.0 261.4,457.8 261.6,458.7 261.8,459.7 262.0,460.9 262.2,462.1 262.3,463.3 262.5,464.7 262.7,466.1 262.9,467.6 263.1,469.1 263.2,470.6 263.4,472.2 263.6,473.7 263.8,475.2 263.9,476.7 264.1,478.2 264.3,479.7 264.5,481.1 264.7,482.4 264.8,483.6 265.0,484.8 265.2,485.9 265.4,486.9 265.5,487.7 265.7,488.5 265.9,489.1 266.1,489.6 266.3,490.0 266.4,490.3 266.6,490.4 266.8,490.4 267.0,490.2 267.1,490.0 267.3,489.6 267.5,489.0 267.7,488.4 267.9,487.6 268.0,486.7 268.2,485.7 268.4,484.6 268.6,483.4 268.7,482.2 268.9,480.8 269.1,479.4 269.3,478.0 269.5,476.5 269.6,475.0 269.8,473.4 270.0,471.9 270.2,470.3 270.3,468.8 270.5,467.3 270.7,465.8 270.9,464.4 271.1,463.0 271.2,461.7 271.4,460.5 271.6,459.4 271.8,458.4 271.9,457.5 272.1,456.6 272.3,455.9 272.5,455.4 272.7,454.9 272.8,454.6 273.0,454.4 273.2,454.4 273.4,454.4 273.6,454.7 273.7,455.0 273.9,455.5 274.1,456.1 274.3,456.8 274.4,457.6 274.6,458.6 274.8,459.6 275.0,460.7 275.2,461.9 275.3,463.2 275.5,464.6 275.7,466.0 275.9,467.5 276.0,469.0 276.2,470.5 276.4,472.0 276.6,473.5 276.8,475.1 276.9,476.6 277.1,478.0 277.3,479.4 277.5,480.8 277.6,482.1 277.8,483.3 278.0,484.4 278.2,485.5 278.4,486.4 278.5,487.2 278.7,487.9 278.9,488.5 279.1,489.0 279.2,489.3 279.4,489.5 279.6,489.6 279.8,489.6 280.0,489.4 280.1,489.0 280.3,488.6 280.5,488.0 280.7,487.3 280.9,486.5 281.0,485.5 281.2,484.5 281.4,483.4 281.6,482.2 281.7,480.9 281.9,479.5 282.1,478.1 282.3,476.6 282.5,475.1 282.6,473.5 282.8,472.0 283.0,470.4 283.2,468.8 283.3,467.3 283.5,465.8 283.7,464.3 283.9,462.9 284.1,461.6 284.2,460.3 284.4,459.1 284.6,458.0 284.8,457.0 284.9,456.1 285.1,455.3 285.3,454.6 285.5,454.0 285.7,453.6 285.8,453.3 286.0,453.2 286.2,453.1 286.4,453.2 286.5,453.5 286.7,453.9 286.9,454.3 287.1,455.0 287.3,455.7 287.4,456.6 287.6,457.5 287.8,458.6 288.0,459.7 288.1,461.0 288.3,462.3 288.5,463.6 288.7,465.0 288.9,466.5 289.0,468.0 289.2,469.5 289.4,471.0 289.6,472.5 289.8,474.1 289.9,475.5 290.1,477.0 290.3,478.4 290.5,479.7 290.6,481.0 290.8,482.1 291.0,483.2 291.2,484.2 291.4,485.1 291.5,485.9 291.7,486.6 291.9,487.2 292.1,487.6 292.2,487.9 292.4,488.0 292.6,488.1 292.8,488.0 293.0,487.7 293.1,487.4 293.3,486.9 293.5,486.2 293.7,485.5 293.8,484.7 294.0,483.7 294.2,482.6 294.4,481.5 294.6,480.2 294.7,478.9 294.9,477.5 295.1,476.0 295.3,474.5 295.4,473.0 295.6,471.5 295.8,469.9 296.0,468.3 296.2,466.8 296.3,465.2 296.5,463.7 296.7,462.3 296.9,460.9 297.0,459.5 297.2,458.3 297.4,457.1 297.6,456.0 297.8,455.0 297.9,454.2 298.1,453.4 298.3,452.7 298.5,452.2 298.6,451.8 298.8,451.6 299.0,451.5 299.2,451.5 299.4,451.6 299.5,451.9 299.7,452.3 299.9,452.8 300.1,453.5 300.3,454.2 300.4,455.1 300.6,456.1 300.8,457.2 301.0,458.3 301.1,459.6 301.3,460.9 301.5,462.3 301.7,463.7 301.9,465.2 302.0,466.7 302.2,468.2 302.4,469.7 302.6,471.2 302.7,472.7 302.9,474.2 303.1,475.6 303.3,477.0 303.5,478.3 303.6,479.6 303.8,480.7 304.0,481.8 304.2,482.8 304.3,483.7 304.5,484.4 304.7,485.1 304.9,485.6 305.1,486.0 305.2,486.2 305.4,486.4 305.6,486.4 305.8,486.2 305.9,486.0 306.1,485.6 306.3,485.0 306.5,484.4 306.7,483.6 306.8,482.7 307.0,481.7 307.2,480.7 307.4,479.5 307.6,478.2 307.7,476.9 307.9,475.5 308.1,474.0 308.3,472.5 308.4,471.0 308.6,469.4 308.8,467.8 309.0,466.3 309.2,464.7 309.3,463.2 309.5,461.7 309.7,460.3 309.9,458.9 310.0,457.6 310.2,456.4 310.4,455.2 310.6,454.2 310.8,453.2 310.9,452.4 311.1,451.7 311.3,451.1 311.5,450.6 311.6,450.2 311.8,450.0 312.0,449.9 312.2,450.0 312.4,450.2 312.5,450.5 312.7,450.9 312.9,451.5 313.1,452.2 313.2,453.0 313.4,453.9 313.6,454.9 313.8,456.0 314.0,457.2 314.1,458.5 314.3,459.9 314.5,461.3 314.7,462.7 314.8,464.2 315.0,465.7 315.2,467.3 315.4,468.8 315.6,470.3 315.7,471.8 315.9,473.3 316.1,474.7 316.3,476.1 316.4,477.4 316.6,478.6 316.8,479.8 317.0,480.8 317.2,481.8 317.3,482.6 317.5,483.4 317.7,484.0 317.9,484.5 318.1,484.8 318.2,485.1 318.4,485.2 318.6,485.2 318.8,485.0 318.9,484.7 319.1,484.3 319.3,483.7 319.5,483.1 319.7,482.3 319.8,481.4 320.0,480.4 320.2,479.3 320.4,478.1 320.5,476.8 320.7,475.4 320.9,474.0 321.1,472.6 321.3,471.1 321.4,469.5 321.6,468.0 321.8,466.4 322.0,464.9 322.1,463.4 322.3,461.9 322.5,460.4 322.7,459.0 322.9,457.6 323.0,456.4 323.2,455.2 323.4,454.1 323.6,453.0 323.7,452.1 323.9,451.3 324.1,450.7 324.3,450.1 324.5,449.7 324.6,449.4 324.8,449.2 325.0,449.2 325.2,449.3 325.4,449.5 325.5,449.9 325.7,450.4 325.9,451.0 326.1,451.7 326.2,452.6 326.4,453.5 326.6,454.6 326.8,455.7 327.0,457.0 327.1,458.3 327.3,459.7 327.5,461.1 327.7,462.6 327.8,464.1 328.0,465.6 328.2,467.2 328.4,468.7 328.6,470.2 328.7,471.7 328.9,473.2 329.1,474.6 329.3,476.0 329.4,477.3 329.6,478.5 329.8,479.7 330.0,480.7 330.2,481.7 330.3,482.5 330.5,483.2 330.7,483.8 330.9,484.3 331.0,484.6 331.2,484.9 331.4,484.9 331.6,484.9 331.8,484.7 331.9,484.4 332.1,484.0 332.3,483.4 332.5,482.7 332.6,481.9 332.8,481.0 333.0,480.0 333.2,478.8 333.4,477.6 333.5,476.4 333.7,475.0 333.9,473.6 334.1,472.1 334.2,470.6 334.4,469.1 334.6,467.6 334.8,466.1 335.0,464.5 335.1,463.0 335.3,461.5 335.5,460.1 335.7,458.7 335.9,457.4 336.0,456.2 336.2,455.0 336.4,453.9 336.6,453.0 336.7,452.1 336.9,451.4 337.1,450.7 337.3,450.2 337.5,449.8 337.6,449.6 337.8,449.5 338.0,449.5 338.2,449.6 338.3,449.9 338.5,450.3 338.7,450.9 338.9,451.5 339.1,452.3 339.2,453.2 339.4,454.2 339.6,455.3 339.8,456.5 339.9,457.8 340.1,459.1 340.3,460.5 340.5,462.0 340.7,463.5 340.8,465.0 341.0,466.6 341.2,468.1 341.4,469.7 341.5,471.2 341.7,472.8 341.9,474.2 342.1,475.7 342.3,477.0 342.4,478.3 342.6,479.5 342.8,480.7 343.0,481.7 343.1,482.6 343.3,483.4 343.5,484.1 343.7,484.7 343.9,485.2 344.0,485.5 344.2,485.7 344.4,485.8 344.6,485.7 344.8,485.5 344.9,485.1 345.1,484.7 345.3,484.1 345.5,483.4 345.6,482.5 345.8,481.6 346.0,480.6 346.2,479.5 346.4,478.2 346.5,476.9 346.7,475.6 346.9,474.2 347.1,472.7 347.2,471.2 347.4,469.7 347.6,468.2 347.8,466.7 348.0,465.2 348.1,463.7 348.3,462.2 348.5,460.8 348.7,459.5 348.8,458.2 349.0,457.0 349.2,455.8 349.4,454.8 349.6,453.9 349.7,453.1 349.9,452.3 350.1,451.8 350.3,451.3 350.4,451.0 350.6,450.8 350.8,450.7 351.0,450.8 351.2,451.0 351.3,451.3 351.5,451.7 351.7,452.3 351.9,453.0 352.1,453.9 352.2,454.8 352.4,455.8 352.6,457.0 352.8,458.2 352.9,459.5 353.1,460.9 353.3,462.3 353.5,463.8 353.7,465.3 353.8,466.9 354.0,468.4 354.2,470.0 354.4,471.5 354.5,473.1 354.7,474.6 354.9,476.1 355.1,477.5 355.3,478.8 355.4,480.1 355.6,481.3 355.8,482.4 356.0,483.4 356.1,484.4 356.3,485.1 356.5,485.8 356.7,486.4 356.9,486.8 357.0,487.1 357.2,487.3 357.4,487.3 357.6,487.2 357.7,486.9 357.9,486.6 358.1,486.1 358.3,485.5 358.5,484.7 358.6,483.9 358.8,482.9 359.0,481.9 359.2,480.7 359.3,479.5 359.5,478.2 359.7,476.8 359.9,475.4 360.1,474.0 360.2,472.5 360.4,470.9 360.6,469.4 360.8,467.9 360.9,466.4 361.1,464.9 361.3,463.5 361.5,462.1 361.7,460.8 361.8,459.5 362.0,458.3 362.2,457.2 362.4,456.2 362.6,455.3 362.7,454.5 362.9,453.9 363.1,453.3 363.3,452.9 363.4,452.6 363.6,452.4 363.8,452.4 364.0,452.5 364.2,452.7 364.3,453.1 364.5,453.6 364.7,454.2 364.9,455.0 365.0,455.8 365.2,456.8 365.4,457.8 365.6,459.0 365.8,460.3 365.9,461.6 366.1,463.0 366.3,464.4 366.5,465.9 366.6,467.4 366.8,469.0 367.0,470.6 367.2,472.1 367.4,473.7 367.5,475.2 367.7,476.7 367.9,478.2 368.1,479.6 368.2,480.9 368.4,482.2 368.6,483.3 368.8,484.4 369.0,485.4 369.1,486.3 369.3,487.0 369.5,487.7 369.7,488.2 369.9,488.6 370.0,488.8 370.2,489.0 370.4,489.0 370.6,488.8 370.7,488.5 370.9,488.1 371.1,487.6 371.3,487.0 371.5,486.2 371.6,485.3 371.8,484.3 372.0,483.2 372.2,482.1 372.3,480.8 372.5,479.5 372.7,478.1 372.9,476.7 373.1,475.2 373.2,473.7 373.4,472.2 373.6,470.6 373.8,469.1 373.9,467.6 374.1,466.1 374.3,464.7 374.5,463.3 374.7,462.0 374.8,460.8 375.0,459.6 375.2,458.5 375.4,457.5 375.5,456.7 375.7,455.9 375.9,455.2 376.1,454.7 376.3,454.3 376.4,454.1 376.6,453.9 376.8,453.9 377.0,454.1 377.1,454.3 377.3,454.7 377.5,455.2 377.7,455.9 377.9,456.6 378.0,457.5 378.2,458.5 378.4,459.6 378.6,460.8 378.8,462.0 378.9,463.4 379.1,464.8 379.3,466.2 379.5,467.7 379.6,469.2 379.8,470.8 380.0,472.4 380.2,473.9 380.4,475.5 380.5,477.0 380.7,478.4 380.9,479.9 381.1,481.3 381.2,482.6 381.4,483.8 381.6,484.9 381.8,486.0 382.0,486.9 382.1,487.8 382.3,488.5 382.5,489.1 382.7,489.5 382.8,489.9 383.0,490.1 383.2,490.2 383.4,490.1 383.6,489.9 383.7,489.6 383.9,489.2 384.1,488.6 384.3,487.9 384.4,487.1 384.6,486.1 384.8,485.1 385.0,484.0 385.2,482.8 385.3,481.5 385.5,480.2 385.7,478.7 385.9,477.3 386.0,475.8 386.2,474.3 386.4,472.7 386.6,471.2 386.8,469.7 386.9,468.2 387.1,466.7 387.3,465.3 387.5,463.9 387.6,462.6 387.8,461.3 388.0,460.2 388.2,459.1 388.4,458.1 388.5,457.3 388.7,456.5 388.9,455.9 389.1,455.4 389.3,455.0 389.4,454.8 389.6,454.7 389.8,454.7 390.0,454.8 390.1,455.1 390.3,455.6 390.5,456.1 390.7,456.8 390.9,457.5 391.0,458.4 391.2,459.4 391.4,460.5 391.6,461.7 391.7,463.0 391.9,464.3 392.1,465.7 392.3,467.2 392.5,468.7 392.6,470.2 392.8,471.7 393.0,473.3 393.2,474.8 393.3,476.3 393.5,477.8 393.7,479.3 393.9,480.7 394.1,482.0 394.2,483.3 394.4,484.5 394.6,485.6 394.8,486.6 394.9,487.5 395.1,488.3 395.3,489.0 395.5,489.5 395.7,489.9 395.8,490.2 396.0,490.4 396.2,490.4 396.4,490.3 396.6,490.1 396.7,489.7 396.9,489.2 397.1,488.6 397.3,487.8 397.4,487.0 397.6,486.0 397.8,484.9 398.0,483.8 398.2,482.5 398.3,481.2 398.5,479.8 398.7,478.4 398.9,476.9 399.0,475.4 399.2,473.8 399.4,472.3 399.6,470.7 399.8,469.2 399.9,467.7 400.1,466.2 400.3,464.8 400.5,463.4 400.6,462.1 400.8,460.8 401.0,459.7" stroke="#EDB120" stroke-width="1.6" fill="none" stroke-linejoin="round"/>
</g>
<path d="M45.00,513.15v-3.0M45.00,426.45v3.0M109.73,513.15v-3.0M109.73,426.45v3.0M174.45,513.15v-3.0M174.45,426.45v3.0M239.18,513.15v-3.0M239.18,426.45v3.0M303.91,513.15v-3.0M303.91,426.45v3.0M368.64,513.15v-3.0M368.64,426.45v3.0M45.0,513.15h3.0M401.0,513.15h-3.0M45.0,491.48h3.0M401.0,491.48h-3.0M45.0,469.80h3.0M401.0,469.80h-3.0M45.0,448.12h3.0M401.0,448.12h-3.0M45.0,426.45h3.0M401.0,426.45h-3.0" stroke="#555" stroke-width="0.8" fill="none"/>
<rect x="45.0" y="426.45" width="356.0" height="86.7" fill="none" stroke="#7a7a7a" stroke-width="1"/>
<g font-family="Liberation Sans, sans-serif" font-size="8.8" fill="#262626" stroke="#262626" stroke-width="0.18"><text x="45.00" y="526.05" text-anchor="middle">0</text><text x="109.73" y="526.05" text-anchor="middle">0.1</text><text x="174.45" y="526.05" text-anchor="middle">0.2</text><text x="239.18" y="526.05" text-anchor="middle">0.3</text><text x="303.91" y="526.05" text-anchor="middle">0.4</text><text x="368.64" y="526.05" text-anchor="middle">0.5</text><text x="41.5" y="516.55" text-anchor="end">-400</text><text x="41.5" y="494.88" text-anchor="end">-200</text><text x="42.0" y="473.20" text-anchor="end">0</text><text x="41.5" y="451.52" text-anchor="end">200</text><text x="41.5" y="429.85" text-anchor="end">400</text></g>
<rect x="338.8" y="432.5" width="56.0" height="54.80000000000001" fill="#fff" stroke="#8a8a8a" stroke-width="0.9"/>
<line x1="341" y1="442.0" x2="362.3" y2="442.0" stroke="#6fb0e3" stroke-width="1.7"/>
<text x="364.3" y="446.40" font-family="Liberation Serif, serif" font-size="16" fill="#111" stroke="#111" stroke-width="0.3"><tspan font-style="italic">v</tspan></text>
<text x="371.30" y="448.40" font-family="Liberation Serif, serif" font-size="11.5" fill="#111" stroke="#111" stroke-width="0.25" textLength="18.80" lengthAdjust="spacingAndGlyphs">mxc</text>
<line x1="341" y1="459.7" x2="362.3" y2="459.7" stroke="#f0a07c" stroke-width="1.2"/>
<text x="364.3" y="464.10" font-family="Liberation Serif, serif" font-size="16" fill="#111" stroke="#111" stroke-width="0.3">+<tspan font-style="italic">v</tspan></text>
<text x="381.70" y="466.10" font-family="Liberation Serif, serif" font-size="11.5" fill="#111" stroke="#111" stroke-width="0.25" textLength="10.30" lengthAdjust="spacingAndGlyphs">ac</text>
<line x1="341" y1="477.5" x2="362.3" y2="477.5" stroke="#f3c25a" stroke-width="1.2"/>
<text x="364.3" y="481.90" font-family="Liberation Serif, serif" font-size="16" fill="#111" stroke="#111" stroke-width="0.3">−<tspan font-style="italic">v</tspan></text>
<text x="381.70" y="483.90" font-family="Liberation Serif, serif" font-size="11.5" fill="#111" stroke="#111" stroke-width="0.25" textLength="10.30" lengthAdjust="spacingAndGlyphs">ac</text>
<text x="223" y="420.90" text-anchor="middle" font-family="Liberation Serif, serif" font-size="11.6" fill="#111" stroke="#111" stroke-width="0.28" textLength="240.8" lengthAdjust="spacingAndGlyphs">Input and output voltages of the matrix converter</text>
<text x="223" y="542.25" text-anchor="middle" font-family="Liberation Serif, serif" font-size="15.6" fill="#111" stroke="#111" stroke-width="0.25" textLength="22.3" lengthAdjust="spacingAndGlyphs"><tspan font-style="italic">t</tspan> [s]</text>
<text transform="translate(19.4,470.20) rotate(-90)" text-anchor="middle" font-family="Liberation Serif, serif" font-size="15" fill="#333" stroke="#333" stroke-width="0.05" textLength="44.5" lengthAdjust="spacingAndGlyphs"><tspan font-style="italic">v</tspan>(<tspan font-style="italic">t</tspan>) [V]</text>
</svg></body></html>
